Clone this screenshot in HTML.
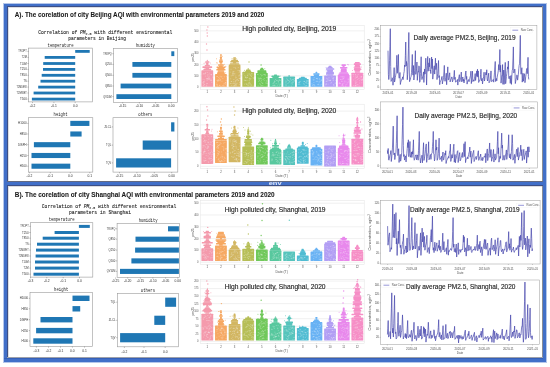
<!DOCTYPE html>
<html><head><meta charset="utf-8"><style>html,body{margin:0;padding:0;background:#fff;overflow:hidden}svg{display:block;will-change:transform}</style></head>
<body><svg width="550" height="367" viewBox="0 0 550 367">
<g>
<rect x="0" y="0" width="550" height="367" fill="#ffffff"/>
<rect x="3" y="3" width="1" height="360" fill="#b4c6ea" opacity="1" shape-rendering="crispEdges"/>
<rect x="4" y="4" width="3" height="358" fill="#416fc8" opacity="1" shape-rendering="crispEdges"/>
<rect x="3" y="3" width="544" height="1" fill="#b4c6ea" opacity="1" shape-rendering="crispEdges"/>
<rect x="4" y="4" width="539" height="2" fill="#416fc8" opacity="1" shape-rendering="crispEdges"/>
<rect x="7" y="6" width="535" height="1" fill="#3c4f86" opacity="1" shape-rendering="crispEdges"/>
<rect x="8" y="7" width="534" height="1" fill="#dcdde2" opacity="1" shape-rendering="crispEdges"/>
<rect x="7" y="7" width="1" height="174" fill="#3c4f86" opacity="1" shape-rendering="crispEdges"/>
<rect x="8" y="8" width="1" height="173" fill="#dcdde2" opacity="1" shape-rendering="crispEdges"/>
<rect x="7" y="186" width="1" height="171" fill="#3c4f86" opacity="1" shape-rendering="crispEdges"/>
<rect x="8" y="186" width="1" height="171" fill="#dcdde2" opacity="1" shape-rendering="crispEdges"/>
<rect x="542" y="6" width="1" height="175" fill="#8a8d96" opacity="1" shape-rendering="crispEdges"/>
<rect x="543" y="4" width="3" height="358" fill="#416fc8" opacity="1" shape-rendering="crispEdges"/>
<rect x="546" y="3" width="1" height="360" fill="#b4c6ea" opacity="1" shape-rendering="crispEdges"/>
<rect x="542" y="186" width="1" height="171" fill="#8a8d96" opacity="1" shape-rendering="crispEdges"/>
<rect x="7" y="181" width="536" height="1" fill="#646a80" opacity="1" shape-rendering="crispEdges"/>
<rect x="4" y="182" width="539" height="3" fill="#416fc8" opacity="1" shape-rendering="crispEdges"/>
<rect x="7" y="185" width="536" height="1" fill="#3c4f86" opacity="1" shape-rendering="crispEdges"/>
<rect x="8" y="186" width="534" height="1" fill="#dcdde2" opacity="1" shape-rendering="crispEdges"/>
<rect x="7" y="357" width="536" height="1" fill="#9da1ab" opacity="1" shape-rendering="crispEdges"/>
<rect x="4" y="358" width="539" height="1" fill="#3560b8" opacity="1" shape-rendering="crispEdges"/>
<rect x="4" y="359" width="539" height="3" fill="#416fc8" opacity="1" shape-rendering="crispEdges"/>
<rect x="3" y="362" width="544" height="1" fill="#b4c6ea" opacity="1" shape-rendering="crispEdges"/>
<text x="268.70" y="185.00" font-family="Liberation Sans" font-size="5.2" font-weight="bold" fill="#dfe7f7" text-anchor="start" textLength="13.00" lengthAdjust="spacingAndGlyphs" >env</text>
<text x="14.80" y="17.40" font-family="Liberation Sans" font-size="7.4" font-weight="bold" fill="#1a1a1a" text-anchor="start" textLength="249.60" lengthAdjust="spacingAndGlyphs" stroke="#1a1a1a" stroke-width="0.08">A). The corelation of city Beijing AQI with environmental parameters 2019 and 2020</text>
<text x="38.20" y="34.20" font-family="Liberation Mono" font-size="4.6" fill="#222" stroke="#333" stroke-width="0.1" textLength="134.20" lengthAdjust="spacingAndGlyphs">Correlation of <tspan font-style="italic">PM</tspan><tspan font-size="3.3" dy="0.9">2.5</tspan><tspan dy="-0.9"> with different environmental</tspan></text>
<text x="68.20" y="39.70" font-family="Liberation Mono" font-size="4.6" font-weight="normal" fill="#222" text-anchor="start" textLength="57.80" lengthAdjust="spacingAndGlyphs" stroke="#333" stroke-width="0.1">parameters in Beijing</text>
<rect x="28.60" y="48.10" width="63.90" height="53.80" fill="none" stroke="#9a9a9a" stroke-width="0.6"/>
<text x="60.55" y="46.70" font-family="Liberation Mono" font-size="4.5" font-weight="normal" fill="#222" text-anchor="middle" textLength="25.96" lengthAdjust="spacingAndGlyphs" >temperature</text>
<rect x="75.20" y="50.00" width="14.50" height="2.80" fill="#1f77b4"/>
<text x="26.80" y="52.40" font-family="Liberation Sans" font-size="2.7" font-weight="normal" fill="#333" text-anchor="end" textLength="8.50" lengthAdjust="spacingAndGlyphs" >TROPT</text>
<line x1="27.40" y1="51.40" x2="28.60" y2="51.40" stroke="#333" stroke-width="0.3"/>
<rect x="44.70" y="56.00" width="30.50" height="2.80" fill="#1f77b4"/>
<text x="26.80" y="58.40" font-family="Liberation Sans" font-size="2.7" font-weight="normal" fill="#333" text-anchor="end" textLength="5.10" lengthAdjust="spacingAndGlyphs" >T2M</text>
<line x1="27.40" y1="57.40" x2="28.60" y2="57.40" stroke="#333" stroke-width="0.3"/>
<rect x="43.20" y="62.10" width="32.00" height="2.80" fill="#1f77b4"/>
<text x="26.80" y="64.50" font-family="Liberation Sans" font-size="2.7" font-weight="normal" fill="#333" text-anchor="end" textLength="6.80" lengthAdjust="spacingAndGlyphs" >T10M</text>
<line x1="27.40" y1="63.50" x2="28.60" y2="63.50" stroke="#333" stroke-width="0.3"/>
<rect x="43.00" y="68.00" width="32.20" height="2.80" fill="#1f77b4"/>
<text x="26.80" y="70.40" font-family="Liberation Sans" font-size="2.7" font-weight="normal" fill="#333" text-anchor="end" textLength="6.80" lengthAdjust="spacingAndGlyphs" >T250</text>
<line x1="27.40" y1="69.40" x2="28.60" y2="69.40" stroke="#333" stroke-width="0.3"/>
<rect x="41.70" y="73.90" width="33.50" height="2.80" fill="#1f77b4"/>
<text x="26.80" y="76.30" font-family="Liberation Sans" font-size="2.7" font-weight="normal" fill="#333" text-anchor="end" textLength="6.80" lengthAdjust="spacingAndGlyphs" >T850</text>
<line x1="27.40" y1="75.30" x2="28.60" y2="75.30" stroke="#333" stroke-width="0.3"/>
<rect x="40.50" y="79.80" width="34.70" height="2.80" fill="#1f77b4"/>
<text x="26.80" y="82.20" font-family="Liberation Sans" font-size="2.7" font-weight="normal" fill="#333" text-anchor="end" textLength="3.40" lengthAdjust="spacingAndGlyphs" >TS</text>
<line x1="27.40" y1="81.20" x2="28.60" y2="81.20" stroke="#333" stroke-width="0.3"/>
<rect x="38.20" y="85.70" width="37.00" height="2.80" fill="#1f77b4"/>
<text x="26.80" y="88.10" font-family="Liberation Sans" font-size="2.7" font-weight="normal" fill="#333" text-anchor="end" textLength="10.20" lengthAdjust="spacingAndGlyphs" >T2MDEW</text>
<line x1="27.40" y1="87.10" x2="28.60" y2="87.10" stroke="#333" stroke-width="0.3"/>
<rect x="33.60" y="91.60" width="41.60" height="2.80" fill="#1f77b4"/>
<text x="26.80" y="94.00" font-family="Liberation Sans" font-size="2.7" font-weight="normal" fill="#333" text-anchor="end" textLength="10.20" lengthAdjust="spacingAndGlyphs" >T2MWET</text>
<line x1="27.40" y1="93.00" x2="28.60" y2="93.00" stroke="#333" stroke-width="0.3"/>
<rect x="31.90" y="97.70" width="43.30" height="2.80" fill="#1f77b4"/>
<text x="26.80" y="100.10" font-family="Liberation Sans" font-size="2.7" font-weight="normal" fill="#333" text-anchor="end" textLength="6.80" lengthAdjust="spacingAndGlyphs" >T500</text>
<line x1="27.40" y1="99.10" x2="28.60" y2="99.10" stroke="#333" stroke-width="0.3"/>
<line x1="32.50" y1="101.90" x2="32.50" y2="103.10" stroke="#333" stroke-width="0.3"/>
<text x="32.50" y="107.00" font-family="Liberation Sans" font-size="3.3" font-weight="normal" fill="#333" text-anchor="middle" >-0.2</text>
<line x1="53.90" y1="101.90" x2="53.90" y2="103.10" stroke="#333" stroke-width="0.3"/>
<text x="53.90" y="107.00" font-family="Liberation Sans" font-size="3.3" font-weight="normal" fill="#333" text-anchor="middle" >-0.1</text>
<line x1="75.20" y1="101.90" x2="75.20" y2="103.10" stroke="#333" stroke-width="0.3"/>
<text x="75.20" y="107.00" font-family="Liberation Sans" font-size="3.3" font-weight="normal" fill="#333" text-anchor="middle" >0.0</text>
<rect x="113.50" y="48.30" width="63.90" height="54.00" fill="none" stroke="#9a9a9a" stroke-width="0.6"/>
<text x="145.45" y="46.90" font-family="Liberation Mono" font-size="4.5" font-weight="normal" fill="#222" text-anchor="middle" textLength="18.88" lengthAdjust="spacingAndGlyphs" >humidity</text>
<rect x="171.30" y="51.30" width="3.00" height="4.80" fill="#1f77b4"/>
<text x="111.70" y="54.70" font-family="Liberation Sans" font-size="2.7" font-weight="normal" fill="#333" text-anchor="end" textLength="8.50" lengthAdjust="spacingAndGlyphs" >TROPQ</text>
<line x1="112.30" y1="53.70" x2="113.50" y2="53.70" stroke="#333" stroke-width="0.3"/>
<rect x="132.40" y="62.00" width="38.90" height="4.80" fill="#1f77b4"/>
<text x="111.70" y="65.40" font-family="Liberation Sans" font-size="2.7" font-weight="normal" fill="#333" text-anchor="end" textLength="6.80" lengthAdjust="spacingAndGlyphs" >Q250</text>
<line x1="112.30" y1="64.40" x2="113.50" y2="64.40" stroke="#333" stroke-width="0.3"/>
<rect x="132.40" y="72.90" width="38.90" height="4.80" fill="#1f77b4"/>
<text x="111.70" y="76.30" font-family="Liberation Sans" font-size="2.7" font-weight="normal" fill="#333" text-anchor="end" textLength="6.80" lengthAdjust="spacingAndGlyphs" >Q500</text>
<line x1="112.30" y1="75.30" x2="113.50" y2="75.30" stroke="#333" stroke-width="0.3"/>
<rect x="120.60" y="83.60" width="50.70" height="4.80" fill="#1f77b4"/>
<text x="111.70" y="87.00" font-family="Liberation Sans" font-size="2.7" font-weight="normal" fill="#333" text-anchor="end" textLength="6.80" lengthAdjust="spacingAndGlyphs" >Q850</text>
<line x1="112.30" y1="86.00" x2="113.50" y2="86.00" stroke="#333" stroke-width="0.3"/>
<rect x="116.40" y="94.20" width="54.90" height="4.80" fill="#1f77b4"/>
<text x="111.70" y="97.60" font-family="Liberation Sans" font-size="2.7" font-weight="normal" fill="#333" text-anchor="end" textLength="8.50" lengthAdjust="spacingAndGlyphs" >QV10M</text>
<line x1="112.30" y1="96.60" x2="113.50" y2="96.60" stroke="#333" stroke-width="0.3"/>
<line x1="122.70" y1="102.30" x2="122.70" y2="103.50" stroke="#333" stroke-width="0.3"/>
<text x="122.70" y="107.00" font-family="Liberation Sans" font-size="3.3" font-weight="normal" fill="#333" text-anchor="middle" >-0.15</text>
<line x1="139.40" y1="102.30" x2="139.40" y2="103.50" stroke="#333" stroke-width="0.3"/>
<text x="139.40" y="107.00" font-family="Liberation Sans" font-size="3.3" font-weight="normal" fill="#333" text-anchor="middle" >-0.10</text>
<line x1="155.60" y1="102.30" x2="155.60" y2="103.50" stroke="#333" stroke-width="0.3"/>
<text x="155.60" y="107.00" font-family="Liberation Sans" font-size="3.3" font-weight="normal" fill="#333" text-anchor="middle" >-0.05</text>
<line x1="171.30" y1="102.30" x2="171.30" y2="103.50" stroke="#333" stroke-width="0.3"/>
<text x="171.30" y="107.00" font-family="Liberation Sans" font-size="3.3" font-weight="normal" fill="#333" text-anchor="middle" >0.00</text>
<rect x="28.40" y="117.70" width="64.40" height="54.40" fill="none" stroke="#9a9a9a" stroke-width="0.6"/>
<text x="60.60" y="116.30" font-family="Liberation Mono" font-size="4.5" font-weight="normal" fill="#222" text-anchor="middle" textLength="14.16" lengthAdjust="spacingAndGlyphs" >height</text>
<rect x="70.30" y="120.85" width="19.10" height="5.10" fill="#1f77b4"/>
<text x="26.60" y="124.40" font-family="Liberation Sans" font-size="2.7" font-weight="normal" fill="#333" text-anchor="end" textLength="8.50" lengthAdjust="spacingAndGlyphs" >H1000</text>
<line x1="27.20" y1="123.40" x2="28.40" y2="123.40" stroke="#333" stroke-width="0.3"/>
<rect x="70.30" y="131.45" width="11.30" height="5.10" fill="#1f77b4"/>
<text x="26.60" y="135.00" font-family="Liberation Sans" font-size="2.7" font-weight="normal" fill="#333" text-anchor="end" textLength="6.80" lengthAdjust="spacingAndGlyphs" >H850</text>
<line x1="27.20" y1="134.00" x2="28.40" y2="134.00" stroke="#333" stroke-width="0.3"/>
<rect x="33.90" y="142.15" width="36.40" height="5.10" fill="#1f77b4"/>
<text x="26.60" y="145.70" font-family="Liberation Sans" font-size="2.7" font-weight="normal" fill="#333" text-anchor="end" textLength="8.50" lengthAdjust="spacingAndGlyphs" >DISPH</text>
<line x1="27.20" y1="144.70" x2="28.40" y2="144.70" stroke="#333" stroke-width="0.3"/>
<rect x="31.50" y="152.95" width="38.80" height="5.10" fill="#1f77b4"/>
<text x="26.60" y="156.50" font-family="Liberation Sans" font-size="2.7" font-weight="normal" fill="#333" text-anchor="end" textLength="6.80" lengthAdjust="spacingAndGlyphs" >H250</text>
<line x1="27.20" y1="155.50" x2="28.40" y2="155.50" stroke="#333" stroke-width="0.3"/>
<rect x="31.50" y="163.65" width="38.80" height="5.10" fill="#1f77b4"/>
<text x="26.60" y="167.20" font-family="Liberation Sans" font-size="2.7" font-weight="normal" fill="#333" text-anchor="end" textLength="6.80" lengthAdjust="spacingAndGlyphs" >H500</text>
<line x1="27.20" y1="166.20" x2="28.40" y2="166.20" stroke="#333" stroke-width="0.3"/>
<line x1="29.40" y1="172.10" x2="29.40" y2="173.30" stroke="#333" stroke-width="0.3"/>
<text x="29.40" y="177.00" font-family="Liberation Sans" font-size="3.3" font-weight="normal" fill="#333" text-anchor="middle" >-0.2</text>
<line x1="50.30" y1="172.10" x2="50.30" y2="173.30" stroke="#333" stroke-width="0.3"/>
<text x="50.30" y="177.00" font-family="Liberation Sans" font-size="3.3" font-weight="normal" fill="#333" text-anchor="middle" >-0.1</text>
<line x1="70.30" y1="172.10" x2="70.30" y2="173.30" stroke="#333" stroke-width="0.3"/>
<text x="70.30" y="177.00" font-family="Liberation Sans" font-size="3.3" font-weight="normal" fill="#333" text-anchor="middle" >0.0</text>
<line x1="89.80" y1="172.10" x2="89.80" y2="173.30" stroke="#333" stroke-width="0.3"/>
<text x="89.80" y="177.00" font-family="Liberation Sans" font-size="3.3" font-weight="normal" fill="#333" text-anchor="middle" >0.1</text>
<rect x="113.00" y="117.70" width="64.80" height="54.40" fill="none" stroke="#9a9a9a" stroke-width="0.6"/>
<text x="145.40" y="116.30" font-family="Liberation Mono" font-size="4.5" font-weight="normal" fill="#222" text-anchor="middle" textLength="14.16" lengthAdjust="spacingAndGlyphs" >others</text>
<rect x="171.10" y="122.30" width="3.30" height="9.20" fill="#1f77b4"/>
<text x="111.20" y="127.90" font-family="Liberation Sans" font-size="2.7" font-weight="normal" fill="#333" text-anchor="end" textLength="6.80" lengthAdjust="spacingAndGlyphs" >ZLCL</text>
<line x1="111.80" y1="126.90" x2="113.00" y2="126.90" stroke="#333" stroke-width="0.3"/>
<rect x="142.70" y="140.50" width="28.40" height="9.20" fill="#1f77b4"/>
<text x="111.20" y="146.10" font-family="Liberation Sans" font-size="2.7" font-weight="normal" fill="#333" text-anchor="end" textLength="5.10" lengthAdjust="spacingAndGlyphs" >TQL</text>
<line x1="111.80" y1="145.10" x2="113.00" y2="145.10" stroke="#333" stroke-width="0.3"/>
<rect x="116.10" y="158.30" width="55.00" height="9.20" fill="#1f77b4"/>
<text x="111.20" y="163.90" font-family="Liberation Sans" font-size="2.7" font-weight="normal" fill="#333" text-anchor="end" textLength="5.10" lengthAdjust="spacingAndGlyphs" >TQV</text>
<line x1="111.80" y1="162.90" x2="113.00" y2="162.90" stroke="#333" stroke-width="0.3"/>
<line x1="119.50" y1="172.10" x2="119.50" y2="173.30" stroke="#333" stroke-width="0.3"/>
<text x="119.50" y="177.40" font-family="Liberation Sans" font-size="3.3" font-weight="normal" fill="#333" text-anchor="middle" >-0.15</text>
<line x1="136.90" y1="172.10" x2="136.90" y2="173.30" stroke="#333" stroke-width="0.3"/>
<text x="136.90" y="177.40" font-family="Liberation Sans" font-size="3.3" font-weight="normal" fill="#333" text-anchor="middle" >-0.10</text>
<line x1="154.30" y1="172.10" x2="154.30" y2="173.30" stroke="#333" stroke-width="0.3"/>
<text x="154.30" y="177.40" font-family="Liberation Sans" font-size="3.3" font-weight="normal" fill="#333" text-anchor="middle" >-0.05</text>
<line x1="171.70" y1="172.10" x2="171.70" y2="173.30" stroke="#333" stroke-width="0.3"/>
<text x="171.70" y="177.40" font-family="Liberation Sans" font-size="3.3" font-weight="normal" fill="#333" text-anchor="middle" >0.00</text>
<rect x="200.20" y="25.40" width="164.00" height="63.90" fill="none" stroke="#e2e2e2" stroke-width="0.5"/>
<line x1="200.20" y1="87.10" x2="364.20" y2="87.10" stroke="#e6e6e6" stroke-width="0.6"/>
<text x="198.50" y="88.00" font-family="Liberation Sans" font-size="2.6" font-weight="normal" fill="#555" text-anchor="end" >0</text>
<line x1="200.20" y1="75.86" x2="364.20" y2="75.86" stroke="#e6e6e6" stroke-width="0.6"/>
<text x="198.50" y="76.76" font-family="Liberation Sans" font-size="2.6" font-weight="normal" fill="#555" text-anchor="end" >100</text>
<line x1="200.20" y1="64.62" x2="364.20" y2="64.62" stroke="#e6e6e6" stroke-width="0.6"/>
<text x="198.50" y="65.52" font-family="Liberation Sans" font-size="2.6" font-weight="normal" fill="#555" text-anchor="end" >200</text>
<line x1="200.20" y1="53.38" x2="364.20" y2="53.38" stroke="#e6e6e6" stroke-width="0.6"/>
<text x="198.50" y="54.28" font-family="Liberation Sans" font-size="2.6" font-weight="normal" fill="#555" text-anchor="end" >300</text>
<line x1="200.20" y1="42.14" x2="364.20" y2="42.14" stroke="#e6e6e6" stroke-width="0.6"/>
<text x="198.50" y="43.04" font-family="Liberation Sans" font-size="2.6" font-weight="normal" fill="#555" text-anchor="end" >400</text>
<line x1="200.20" y1="30.90" x2="364.20" y2="30.90" stroke="#e6e6e6" stroke-width="0.6"/>
<text x="198.50" y="31.80" font-family="Liberation Sans" font-size="2.6" font-weight="normal" fill="#555" text-anchor="end" >500</text>
<text x="0" y="0" font-family="Liberation Sans" font-size="3.4" fill="#555" text-anchor="middle" transform="translate(193.90,57.35) rotate(-90)">pm25</text>
<rect x="201.40" y="70.30" width="11.80" height="16.50" rx="0.6" fill="#f49aac"/>
<rect x="206.05" y="84.74" width="1.2" height="0.7" fill="#fff" opacity="0.3"/>
<rect x="210.80" y="74.40" width="1.2" height="0.7" fill="#fff" opacity="0.3"/>
<rect x="211.09" y="80.53" width="1.2" height="0.7" fill="#fff" opacity="0.3"/>
<rect x="202.63" y="85.12" width="1.2" height="0.7" fill="#fff" opacity="0.3"/>
<rect x="204.81" y="75.74" width="1.2" height="0.7" fill="#fff" opacity="0.3"/>
<rect x="206.53" y="79.83" width="1.2" height="0.7" fill="#fff" opacity="0.3"/>
<rect x="203.47" y="81.26" width="1.2" height="0.7" fill="#fff" opacity="0.3"/>
<rect x="210.69" y="78.73" width="1.2" height="0.7" fill="#fff" opacity="0.3"/>
<rect x="210.30" y="80.36" width="1.2" height="0.7" fill="#fff" opacity="0.3"/>
<rect x="210.61" y="73.92" width="1.2" height="0.7" fill="#fff" opacity="0.3"/>
<rect x="205.86" y="78.11" width="1.2" height="0.7" fill="#fff" opacity="0.3"/>
<rect x="203.26" y="85.41" width="1.2" height="0.7" fill="#fff" opacity="0.3"/>
<rect x="208.69" y="72.72" width="1.2" height="0.7" fill="#fff" opacity="0.3"/>
<rect x="208.14" y="77.31" width="1.2" height="0.7" fill="#fff" opacity="0.3"/>
<rect x="204.13" y="73.63" width="1.2" height="0.7" fill="#fff" opacity="0.3"/>
<rect x="206.90" y="72.32" width="1.2" height="0.7" fill="#fff" opacity="0.3"/>
<rect x="207.94" y="78.77" width="1.2" height="0.7" fill="#fff" opacity="0.3"/>
<rect x="203.50" y="83.99" width="1.2" height="0.7" fill="#fff" opacity="0.3"/>
<rect x="202.61" y="73.80" width="1.2" height="0.7" fill="#fff" opacity="0.3"/>
<rect x="210.54" y="74.50" width="1.2" height="0.7" fill="#fff" opacity="0.3"/>
<rect x="206.53" y="79.41" width="1.2" height="0.7" fill="#fff" opacity="0.3"/>
<rect x="206.64" y="78.46" width="1.2" height="0.7" fill="#fff" opacity="0.3"/>
<rect x="207.35" y="78.30" width="1.2" height="0.7" fill="#fff" opacity="0.3"/>
<rect x="202.79" y="83.14" width="1.2" height="0.7" fill="#fff" opacity="0.3"/>
<rect x="205.09" y="71.99" width="1.2" height="0.7" fill="#fff" opacity="0.3"/>
<rect x="206.36" y="83.11" width="1.2" height="0.7" fill="#fff" opacity="0.3"/>
<rect x="208.61" y="77.93" width="1.2" height="0.7" fill="#fff" opacity="0.3"/>
<rect x="207.08" y="74.48" width="1.2" height="0.7" fill="#fff" opacity="0.3"/>
<rect x="208.50" y="76.38" width="1.2" height="0.7" fill="#fff" opacity="0.3"/>
<rect x="202.85" y="73.19" width="1.2" height="0.7" fill="#fff" opacity="0.3"/>
<rect x="203.14" y="81.23" width="1.2" height="0.7" fill="#fff" opacity="0.3"/>
<rect x="211.20" y="82.25" width="1.2" height="0.7" fill="#fff" opacity="0.3"/>
<rect x="204.44" y="73.43" width="1.2" height="0.7" fill="#fff" opacity="0.3"/>
<rect x="211.90" y="76.72" width="1.2" height="0.7" fill="#fff" opacity="0.3"/>
<rect x="203.91" y="79.59" width="1.2" height="0.7" fill="#fff" opacity="0.3"/>
<rect x="208.51" y="79.14" width="1.2" height="0.7" fill="#fff" opacity="0.3"/>
<rect x="206.81" y="75.70" width="1.2" height="0.7" fill="#fff" opacity="0.3"/>
<rect x="207.25" y="77.93" width="1.2" height="0.7" fill="#fff" opacity="0.3"/>
<rect x="209.15" y="77.80" width="1.2" height="0.7" fill="#fff" opacity="0.3"/>
<rect x="205.82" y="85.60" width="1.2" height="0.7" fill="#fff" opacity="0.3"/>
<rect x="203.33" y="82.26" width="1.2" height="0.7" fill="#fff" opacity="0.3"/>
<rect x="206.46" y="82.98" width="1.2" height="0.7" fill="#fff" opacity="0.3"/>
<rect x="209.42" y="79.51" width="1.2" height="0.7" fill="#fff" opacity="0.3"/>
<rect x="208.42" y="74.63" width="1.2" height="0.7" fill="#fff" opacity="0.3"/>
<rect x="202.36" y="82.12" width="1.2" height="0.7" fill="#fff" opacity="0.3"/>
<rect x="204.84" y="72.91" width="1.2" height="0.7" fill="#fff" opacity="0.3"/>
<rect x="210.48" y="79.87" width="1.2" height="0.7" fill="#fff" opacity="0.3"/>
<rect x="202.53" y="78.83" width="1.2" height="0.7" fill="#fff" opacity="0.3"/>
<rect x="203.87" y="83.85" width="1.2" height="0.7" fill="#fff" opacity="0.3"/>
<rect x="203.41" y="68.86" width="7.78" height="1.59" rx="0.5" fill="#f49aac"/>
<rect x="205.41" y="67.57" width="3.77" height="1.59" rx="0.5" fill="#f49aac"/>
<rect x="202.43" y="66.29" width="9.74" height="1.59" rx="0.5" fill="#f49aac"/>
<rect x="204.68" y="65.00" width="5.24" height="1.59" rx="0.5" fill="#f49aac"/>
<rect x="206.12" y="63.71" width="2.36" height="1.59" rx="0.5" fill="#f49aac"/>
<rect x="206.07" y="62.43" width="2.45" height="1.59" rx="0.5" fill="#f49aac"/>
<rect x="205.18" y="61.14" width="4.24" height="1.59" rx="0.5" fill="#f49aac"/>
<rect x="206.76" y="59.85" width="1.08" height="1.59" rx="0.5" fill="#f49aac"/>
<circle cx="204.03" cy="63.36" r="0.5" fill="#f49aac" opacity="0.8"/>
<circle cx="204.99" cy="68.23" r="0.5" fill="#f49aac" opacity="0.8"/>
<circle cx="209.17" cy="67.40" r="0.5" fill="#f49aac" opacity="0.8"/>
<circle cx="206.92" cy="63.01" r="0.5" fill="#f49aac" opacity="0.8"/>
<circle cx="210.30" cy="62.98" r="0.5" fill="#f49aac" opacity="0.8"/>
<circle cx="205.08" cy="62.93" r="0.5" fill="#f49aac" opacity="0.8"/>
<circle cx="207.87" cy="27.00" r="0.7" fill="#f49aac" opacity="0.9"/>
<circle cx="206.94" cy="30.00" r="0.7" fill="#f49aac" opacity="0.9"/>
<circle cx="207.20" cy="33.00" r="0.7" fill="#f49aac" opacity="0.9"/>
<circle cx="207.33" cy="36.00" r="0.7" fill="#f49aac" opacity="0.9"/>
<circle cx="206.50" cy="44.00" r="0.7" fill="#f49aac" opacity="0.9"/>
<circle cx="206.96" cy="50.00" r="0.7" fill="#f49aac" opacity="0.9"/>
<line x1="207.30" y1="89.30" x2="207.30" y2="90.20" stroke="#888" stroke-width="0.3"/>
<text x="207.30" y="92.90" font-family="Liberation Sans" font-size="2.8" font-weight="normal" fill="#555" text-anchor="middle" >1</text>
<rect x="215.04" y="74.10" width="11.80" height="12.70" rx="0.6" fill="#f6a862"/>
<rect x="223.42" y="85.60" width="1.2" height="0.7" fill="#fff" opacity="0.3"/>
<rect x="219.33" y="80.20" width="1.2" height="0.7" fill="#fff" opacity="0.3"/>
<rect x="216.42" y="80.32" width="1.2" height="0.7" fill="#fff" opacity="0.3"/>
<rect x="219.51" y="80.47" width="1.2" height="0.7" fill="#fff" opacity="0.3"/>
<rect x="218.89" y="78.46" width="1.2" height="0.7" fill="#fff" opacity="0.3"/>
<rect x="225.15" y="83.42" width="1.2" height="0.7" fill="#fff" opacity="0.3"/>
<rect x="219.51" y="75.85" width="1.2" height="0.7" fill="#fff" opacity="0.3"/>
<rect x="216.37" y="76.13" width="1.2" height="0.7" fill="#fff" opacity="0.3"/>
<rect x="217.17" y="81.33" width="1.2" height="0.7" fill="#fff" opacity="0.3"/>
<rect x="221.15" y="76.49" width="1.2" height="0.7" fill="#fff" opacity="0.3"/>
<rect x="224.80" y="82.27" width="1.2" height="0.7" fill="#fff" opacity="0.3"/>
<rect x="223.08" y="84.68" width="1.2" height="0.7" fill="#fff" opacity="0.3"/>
<rect x="219.04" y="84.76" width="1.2" height="0.7" fill="#fff" opacity="0.3"/>
<rect x="225.80" y="84.82" width="1.2" height="0.7" fill="#fff" opacity="0.3"/>
<rect x="216.31" y="84.20" width="1.2" height="0.7" fill="#fff" opacity="0.3"/>
<rect x="225.88" y="76.24" width="1.2" height="0.7" fill="#fff" opacity="0.3"/>
<rect x="224.67" y="83.82" width="1.2" height="0.7" fill="#fff" opacity="0.3"/>
<rect x="216.17" y="82.67" width="1.2" height="0.7" fill="#fff" opacity="0.3"/>
<rect x="223.59" y="83.12" width="1.2" height="0.7" fill="#fff" opacity="0.3"/>
<rect x="216.43" y="85.48" width="1.2" height="0.7" fill="#fff" opacity="0.3"/>
<rect x="216.59" y="76.01" width="1.2" height="0.7" fill="#fff" opacity="0.3"/>
<rect x="225.50" y="80.25" width="1.2" height="0.7" fill="#fff" opacity="0.3"/>
<rect x="217.66" y="79.32" width="1.2" height="0.7" fill="#fff" opacity="0.3"/>
<rect x="222.20" y="77.97" width="1.2" height="0.7" fill="#fff" opacity="0.3"/>
<rect x="225.17" y="82.33" width="1.2" height="0.7" fill="#fff" opacity="0.3"/>
<rect x="219.78" y="79.02" width="1.2" height="0.7" fill="#fff" opacity="0.3"/>
<rect x="217.02" y="85.65" width="1.2" height="0.7" fill="#fff" opacity="0.3"/>
<rect x="218.97" y="85.12" width="1.2" height="0.7" fill="#fff" opacity="0.3"/>
<rect x="221.35" y="80.85" width="1.2" height="0.7" fill="#fff" opacity="0.3"/>
<rect x="217.63" y="80.48" width="1.2" height="0.7" fill="#fff" opacity="0.3"/>
<rect x="216.85" y="79.89" width="1.2" height="0.7" fill="#fff" opacity="0.3"/>
<rect x="222.10" y="85.01" width="1.2" height="0.7" fill="#fff" opacity="0.3"/>
<rect x="218.09" y="77.04" width="1.2" height="0.7" fill="#fff" opacity="0.3"/>
<rect x="223.88" y="76.52" width="1.2" height="0.7" fill="#fff" opacity="0.3"/>
<rect x="217.82" y="80.22" width="1.2" height="0.7" fill="#fff" opacity="0.3"/>
<rect x="220.20" y="85.72" width="1.2" height="0.7" fill="#fff" opacity="0.3"/>
<rect x="216.51" y="84.42" width="1.2" height="0.7" fill="#fff" opacity="0.3"/>
<rect x="220.56" y="76.58" width="1.2" height="0.7" fill="#fff" opacity="0.3"/>
<rect x="217.07" y="72.72" width="7.75" height="1.52" rx="0.5" fill="#f6a862"/>
<rect x="217.39" y="71.50" width="7.10" height="1.52" rx="0.5" fill="#f6a862"/>
<rect x="217.91" y="70.27" width="6.07" height="1.52" rx="0.5" fill="#f6a862"/>
<rect x="216.36" y="69.05" width="9.16" height="1.52" rx="0.5" fill="#f6a862"/>
<rect x="217.46" y="67.82" width="6.97" height="1.52" rx="0.5" fill="#f6a862"/>
<rect x="216.53" y="66.60" width="8.82" height="1.52" rx="0.5" fill="#f6a862"/>
<rect x="219.00" y="65.38" width="3.88" height="1.52" rx="0.5" fill="#f6a862"/>
<rect x="218.02" y="64.15" width="5.83" height="1.52" rx="0.5" fill="#f6a862"/>
<rect x="220.22" y="62.93" width="1.43" height="1.52" rx="0.5" fill="#f6a862"/>
<rect x="219.42" y="61.70" width="3.04" height="1.52" rx="0.5" fill="#f6a862"/>
<rect x="219.00" y="60.48" width="3.87" height="1.52" rx="0.5" fill="#f6a862"/>
<rect x="219.39" y="59.25" width="3.09" height="1.52" rx="0.5" fill="#f6a862"/>
<rect x="219.99" y="58.02" width="1.91" height="1.52" rx="0.5" fill="#f6a862"/>
<rect x="219.84" y="56.80" width="2.19" height="1.52" rx="0.5" fill="#f6a862"/>
<rect x="220.41" y="55.58" width="1.06" height="1.52" rx="0.5" fill="#f6a862"/>
<rect x="220.00" y="54.35" width="1.89" height="1.52" rx="0.5" fill="#f6a862"/>
<circle cx="216.70" cy="62.83" r="0.5" fill="#f6a862" opacity="0.8"/>
<circle cx="216.56" cy="58.77" r="0.5" fill="#f6a862" opacity="0.8"/>
<circle cx="217.04" cy="69.46" r="0.5" fill="#f6a862" opacity="0.8"/>
<circle cx="221.85" cy="64.00" r="0.5" fill="#f6a862" opacity="0.8"/>
<circle cx="222.32" cy="56.35" r="0.5" fill="#f6a862" opacity="0.8"/>
<circle cx="225.17" cy="66.80" r="0.5" fill="#f6a862" opacity="0.8"/>
<circle cx="225.63" cy="72.86" r="0.5" fill="#f6a862" opacity="0.8"/>
<circle cx="220.80" cy="64.81" r="0.5" fill="#f6a862" opacity="0.8"/>
<circle cx="217.33" cy="62.93" r="0.5" fill="#f6a862" opacity="0.8"/>
<circle cx="225.83" cy="66.16" r="0.5" fill="#f6a862" opacity="0.8"/>
<circle cx="224.40" cy="64.37" r="0.5" fill="#f6a862" opacity="0.8"/>
<line x1="220.94" y1="89.30" x2="220.94" y2="90.20" stroke="#888" stroke-width="0.3"/>
<text x="220.94" y="92.90" font-family="Liberation Sans" font-size="2.8" font-weight="normal" fill="#555" text-anchor="middle" >2</text>
<rect x="228.68" y="65.80" width="11.80" height="21.00" rx="0.6" fill="#d2b662"/>
<rect x="232.18" y="73.93" width="1.2" height="0.7" fill="#fff" opacity="0.3"/>
<rect x="233.80" y="85.23" width="1.2" height="0.7" fill="#fff" opacity="0.3"/>
<rect x="233.25" y="81.24" width="1.2" height="0.7" fill="#fff" opacity="0.3"/>
<rect x="230.99" y="81.21" width="1.2" height="0.7" fill="#fff" opacity="0.3"/>
<rect x="234.31" y="85.64" width="1.2" height="0.7" fill="#fff" opacity="0.3"/>
<rect x="229.65" y="71.77" width="1.2" height="0.7" fill="#fff" opacity="0.3"/>
<rect x="238.53" y="75.16" width="1.2" height="0.7" fill="#fff" opacity="0.3"/>
<rect x="232.33" y="83.33" width="1.2" height="0.7" fill="#fff" opacity="0.3"/>
<rect x="233.84" y="83.51" width="1.2" height="0.7" fill="#fff" opacity="0.3"/>
<rect x="235.05" y="67.95" width="1.2" height="0.7" fill="#fff" opacity="0.3"/>
<rect x="230.50" y="83.28" width="1.2" height="0.7" fill="#fff" opacity="0.3"/>
<rect x="238.79" y="70.01" width="1.2" height="0.7" fill="#fff" opacity="0.3"/>
<rect x="239.62" y="82.73" width="1.2" height="0.7" fill="#fff" opacity="0.3"/>
<rect x="234.93" y="81.47" width="1.2" height="0.7" fill="#fff" opacity="0.3"/>
<rect x="234.89" y="67.45" width="1.2" height="0.7" fill="#fff" opacity="0.3"/>
<rect x="232.48" y="73.26" width="1.2" height="0.7" fill="#fff" opacity="0.3"/>
<rect x="238.61" y="72.01" width="1.2" height="0.7" fill="#fff" opacity="0.3"/>
<rect x="236.58" y="78.83" width="1.2" height="0.7" fill="#fff" opacity="0.3"/>
<rect x="230.68" y="75.52" width="1.2" height="0.7" fill="#fff" opacity="0.3"/>
<rect x="235.09" y="80.59" width="1.2" height="0.7" fill="#fff" opacity="0.3"/>
<rect x="233.08" y="85.56" width="1.2" height="0.7" fill="#fff" opacity="0.3"/>
<rect x="237.69" y="67.27" width="1.2" height="0.7" fill="#fff" opacity="0.3"/>
<rect x="238.47" y="78.40" width="1.2" height="0.7" fill="#fff" opacity="0.3"/>
<rect x="239.06" y="71.15" width="1.2" height="0.7" fill="#fff" opacity="0.3"/>
<rect x="237.36" y="80.40" width="1.2" height="0.7" fill="#fff" opacity="0.3"/>
<rect x="233.56" y="73.54" width="1.2" height="0.7" fill="#fff" opacity="0.3"/>
<rect x="235.61" y="85.39" width="1.2" height="0.7" fill="#fff" opacity="0.3"/>
<rect x="236.48" y="79.01" width="1.2" height="0.7" fill="#fff" opacity="0.3"/>
<rect x="236.47" y="82.80" width="1.2" height="0.7" fill="#fff" opacity="0.3"/>
<rect x="235.49" y="80.31" width="1.2" height="0.7" fill="#fff" opacity="0.3"/>
<rect x="229.86" y="83.25" width="1.2" height="0.7" fill="#fff" opacity="0.3"/>
<rect x="239.30" y="77.77" width="1.2" height="0.7" fill="#fff" opacity="0.3"/>
<rect x="235.33" y="84.56" width="1.2" height="0.7" fill="#fff" opacity="0.3"/>
<rect x="235.25" y="83.76" width="1.2" height="0.7" fill="#fff" opacity="0.3"/>
<rect x="235.06" y="77.63" width="1.2" height="0.7" fill="#fff" opacity="0.3"/>
<rect x="238.83" y="84.35" width="1.2" height="0.7" fill="#fff" opacity="0.3"/>
<rect x="235.56" y="77.10" width="1.2" height="0.7" fill="#fff" opacity="0.3"/>
<rect x="235.12" y="75.70" width="1.2" height="0.7" fill="#fff" opacity="0.3"/>
<rect x="233.26" y="71.11" width="1.2" height="0.7" fill="#fff" opacity="0.3"/>
<rect x="232.43" y="71.01" width="1.2" height="0.7" fill="#fff" opacity="0.3"/>
<rect x="239.09" y="74.53" width="1.2" height="0.7" fill="#fff" opacity="0.3"/>
<rect x="238.41" y="75.75" width="1.2" height="0.7" fill="#fff" opacity="0.3"/>
<rect x="239.64" y="78.07" width="1.2" height="0.7" fill="#fff" opacity="0.3"/>
<rect x="232.97" y="74.87" width="1.2" height="0.7" fill="#fff" opacity="0.3"/>
<rect x="232.21" y="73.04" width="1.2" height="0.7" fill="#fff" opacity="0.3"/>
<rect x="232.40" y="72.09" width="1.2" height="0.7" fill="#fff" opacity="0.3"/>
<rect x="233.41" y="67.28" width="1.2" height="0.7" fill="#fff" opacity="0.3"/>
<rect x="239.13" y="82.17" width="1.2" height="0.7" fill="#fff" opacity="0.3"/>
<rect x="232.96" y="82.73" width="1.2" height="0.7" fill="#fff" opacity="0.3"/>
<rect x="229.98" y="78.51" width="1.2" height="0.7" fill="#fff" opacity="0.3"/>
<rect x="235.51" y="83.55" width="1.2" height="0.7" fill="#fff" opacity="0.3"/>
<rect x="239.47" y="78.36" width="1.2" height="0.7" fill="#fff" opacity="0.3"/>
<rect x="237.95" y="80.07" width="1.2" height="0.7" fill="#fff" opacity="0.3"/>
<rect x="230.42" y="68.86" width="1.2" height="0.7" fill="#fff" opacity="0.3"/>
<rect x="230.64" y="81.14" width="1.2" height="0.7" fill="#fff" opacity="0.3"/>
<rect x="234.29" y="73.50" width="1.2" height="0.7" fill="#fff" opacity="0.3"/>
<rect x="234.56" y="84.64" width="1.2" height="0.7" fill="#fff" opacity="0.3"/>
<rect x="234.40" y="82.66" width="1.2" height="0.7" fill="#fff" opacity="0.3"/>
<rect x="233.22" y="79.23" width="1.2" height="0.7" fill="#fff" opacity="0.3"/>
<rect x="237.42" y="70.28" width="1.2" height="0.7" fill="#fff" opacity="0.3"/>
<rect x="238.77" y="70.53" width="1.2" height="0.7" fill="#fff" opacity="0.3"/>
<rect x="231.08" y="85.21" width="1.2" height="0.7" fill="#fff" opacity="0.3"/>
<rect x="231.87" y="74.96" width="1.2" height="0.7" fill="#fff" opacity="0.3"/>
<rect x="228.74" y="64.46" width="11.69" height="1.49" rx="0.5" fill="#d2b662"/>
<rect x="229.87" y="63.28" width="9.42" height="1.49" rx="0.5" fill="#d2b662"/>
<rect x="232.85" y="62.09" width="3.46" height="1.49" rx="0.5" fill="#d2b662"/>
<rect x="230.27" y="60.91" width="8.61" height="1.49" rx="0.5" fill="#d2b662"/>
<rect x="231.20" y="59.72" width="6.77" height="1.49" rx="0.5" fill="#d2b662"/>
<rect x="233.35" y="58.54" width="2.47" height="1.49" rx="0.5" fill="#d2b662"/>
<rect x="233.16" y="57.35" width="2.85" height="1.49" rx="0.5" fill="#d2b662"/>
<circle cx="232.11" cy="65.30" r="0.5" fill="#d2b662" opacity="0.8"/>
<circle cx="232.06" cy="58.41" r="0.5" fill="#d2b662" opacity="0.8"/>
<circle cx="235.75" cy="64.60" r="0.5" fill="#d2b662" opacity="0.8"/>
<circle cx="236.63" cy="58.71" r="0.5" fill="#d2b662" opacity="0.8"/>
<line x1="234.58" y1="89.30" x2="234.58" y2="90.20" stroke="#888" stroke-width="0.3"/>
<text x="234.58" y="92.90" font-family="Liberation Sans" font-size="2.8" font-weight="normal" fill="#555" text-anchor="middle" >3</text>
<rect x="242.32" y="72.00" width="11.80" height="14.80" rx="0.6" fill="#b6be56"/>
<rect x="247.28" y="73.74" width="1.2" height="0.7" fill="#fff" opacity="0.3"/>
<rect x="246.37" y="83.93" width="1.2" height="0.7" fill="#fff" opacity="0.3"/>
<rect x="252.82" y="77.97" width="1.2" height="0.7" fill="#fff" opacity="0.3"/>
<rect x="251.08" y="84.94" width="1.2" height="0.7" fill="#fff" opacity="0.3"/>
<rect x="244.21" y="75.44" width="1.2" height="0.7" fill="#fff" opacity="0.3"/>
<rect x="246.53" y="77.23" width="1.2" height="0.7" fill="#fff" opacity="0.3"/>
<rect x="249.64" y="85.62" width="1.2" height="0.7" fill="#fff" opacity="0.3"/>
<rect x="245.14" y="76.55" width="1.2" height="0.7" fill="#fff" opacity="0.3"/>
<rect x="248.36" y="82.35" width="1.2" height="0.7" fill="#fff" opacity="0.3"/>
<rect x="244.63" y="80.22" width="1.2" height="0.7" fill="#fff" opacity="0.3"/>
<rect x="249.45" y="82.87" width="1.2" height="0.7" fill="#fff" opacity="0.3"/>
<rect x="246.73" y="77.10" width="1.2" height="0.7" fill="#fff" opacity="0.3"/>
<rect x="249.00" y="77.81" width="1.2" height="0.7" fill="#fff" opacity="0.3"/>
<rect x="247.69" y="82.95" width="1.2" height="0.7" fill="#fff" opacity="0.3"/>
<rect x="253.05" y="85.68" width="1.2" height="0.7" fill="#fff" opacity="0.3"/>
<rect x="244.90" y="79.93" width="1.2" height="0.7" fill="#fff" opacity="0.3"/>
<rect x="248.66" y="80.06" width="1.2" height="0.7" fill="#fff" opacity="0.3"/>
<rect x="245.13" y="77.15" width="1.2" height="0.7" fill="#fff" opacity="0.3"/>
<rect x="247.15" y="75.48" width="1.2" height="0.7" fill="#fff" opacity="0.3"/>
<rect x="248.08" y="84.62" width="1.2" height="0.7" fill="#fff" opacity="0.3"/>
<rect x="249.86" y="75.02" width="1.2" height="0.7" fill="#fff" opacity="0.3"/>
<rect x="245.68" y="77.69" width="1.2" height="0.7" fill="#fff" opacity="0.3"/>
<rect x="251.55" y="73.40" width="1.2" height="0.7" fill="#fff" opacity="0.3"/>
<rect x="244.00" y="83.77" width="1.2" height="0.7" fill="#fff" opacity="0.3"/>
<rect x="246.84" y="75.36" width="1.2" height="0.7" fill="#fff" opacity="0.3"/>
<rect x="248.65" y="73.52" width="1.2" height="0.7" fill="#fff" opacity="0.3"/>
<rect x="250.39" y="84.38" width="1.2" height="0.7" fill="#fff" opacity="0.3"/>
<rect x="243.72" y="79.72" width="1.2" height="0.7" fill="#fff" opacity="0.3"/>
<rect x="252.61" y="77.00" width="1.2" height="0.7" fill="#fff" opacity="0.3"/>
<rect x="246.14" y="84.30" width="1.2" height="0.7" fill="#fff" opacity="0.3"/>
<rect x="243.13" y="73.56" width="1.2" height="0.7" fill="#fff" opacity="0.3"/>
<rect x="249.23" y="83.58" width="1.2" height="0.7" fill="#fff" opacity="0.3"/>
<rect x="248.95" y="81.79" width="1.2" height="0.7" fill="#fff" opacity="0.3"/>
<rect x="247.34" y="85.30" width="1.2" height="0.7" fill="#fff" opacity="0.3"/>
<rect x="246.34" y="80.20" width="1.2" height="0.7" fill="#fff" opacity="0.3"/>
<rect x="244.89" y="76.88" width="1.2" height="0.7" fill="#fff" opacity="0.3"/>
<rect x="249.41" y="73.93" width="1.2" height="0.7" fill="#fff" opacity="0.3"/>
<rect x="250.83" y="76.08" width="1.2" height="0.7" fill="#fff" opacity="0.3"/>
<rect x="251.16" y="74.75" width="1.2" height="0.7" fill="#fff" opacity="0.3"/>
<rect x="249.53" y="79.34" width="1.2" height="0.7" fill="#fff" opacity="0.3"/>
<rect x="245.62" y="83.07" width="1.2" height="0.7" fill="#fff" opacity="0.3"/>
<rect x="250.16" y="78.19" width="1.2" height="0.7" fill="#fff" opacity="0.3"/>
<rect x="248.73" y="78.44" width="1.2" height="0.7" fill="#fff" opacity="0.3"/>
<rect x="250.93" y="73.44" width="1.2" height="0.7" fill="#fff" opacity="0.3"/>
<rect x="245.17" y="70.68" width="6.10" height="1.47" rx="0.5" fill="#b6be56"/>
<rect x="245.96" y="69.52" width="4.53" height="1.47" rx="0.5" fill="#b6be56"/>
<rect x="247.51" y="68.35" width="1.42" height="1.47" rx="0.5" fill="#b6be56"/>
<circle cx="243.98" cy="71.55" r="0.5" fill="#b6be56" opacity="0.8"/>
<circle cx="244.43" cy="70.28" r="0.5" fill="#b6be56" opacity="0.8"/>
<circle cx="249.01" cy="62.00" r="0.7" fill="#b6be56" opacity="0.9"/>
<line x1="248.22" y1="89.30" x2="248.22" y2="90.20" stroke="#888" stroke-width="0.3"/>
<text x="248.22" y="92.90" font-family="Liberation Sans" font-size="2.8" font-weight="normal" fill="#555" text-anchor="middle" >4</text>
<rect x="255.96" y="73.00" width="11.80" height="13.80" rx="0.6" fill="#70c85a"/>
<rect x="261.05" y="81.95" width="1.2" height="0.7" fill="#fff" opacity="0.3"/>
<rect x="259.70" y="84.32" width="1.2" height="0.7" fill="#fff" opacity="0.3"/>
<rect x="264.19" y="74.06" width="1.2" height="0.7" fill="#fff" opacity="0.3"/>
<rect x="257.58" y="77.59" width="1.2" height="0.7" fill="#fff" opacity="0.3"/>
<rect x="260.08" y="74.31" width="1.2" height="0.7" fill="#fff" opacity="0.3"/>
<rect x="263.11" y="74.30" width="1.2" height="0.7" fill="#fff" opacity="0.3"/>
<rect x="262.26" y="82.86" width="1.2" height="0.7" fill="#fff" opacity="0.3"/>
<rect x="259.62" y="77.57" width="1.2" height="0.7" fill="#fff" opacity="0.3"/>
<rect x="265.51" y="83.09" width="1.2" height="0.7" fill="#fff" opacity="0.3"/>
<rect x="264.58" y="75.15" width="1.2" height="0.7" fill="#fff" opacity="0.3"/>
<rect x="259.37" y="78.33" width="1.2" height="0.7" fill="#fff" opacity="0.3"/>
<rect x="261.77" y="82.94" width="1.2" height="0.7" fill="#fff" opacity="0.3"/>
<rect x="265.94" y="80.82" width="1.2" height="0.7" fill="#fff" opacity="0.3"/>
<rect x="257.47" y="74.39" width="1.2" height="0.7" fill="#fff" opacity="0.3"/>
<rect x="260.84" y="85.14" width="1.2" height="0.7" fill="#fff" opacity="0.3"/>
<rect x="257.53" y="85.52" width="1.2" height="0.7" fill="#fff" opacity="0.3"/>
<rect x="256.90" y="74.28" width="1.2" height="0.7" fill="#fff" opacity="0.3"/>
<rect x="261.58" y="74.83" width="1.2" height="0.7" fill="#fff" opacity="0.3"/>
<rect x="260.22" y="85.57" width="1.2" height="0.7" fill="#fff" opacity="0.3"/>
<rect x="266.68" y="83.34" width="1.2" height="0.7" fill="#fff" opacity="0.3"/>
<rect x="263.70" y="78.20" width="1.2" height="0.7" fill="#fff" opacity="0.3"/>
<rect x="260.87" y="80.21" width="1.2" height="0.7" fill="#fff" opacity="0.3"/>
<rect x="260.23" y="81.43" width="1.2" height="0.7" fill="#fff" opacity="0.3"/>
<rect x="258.85" y="80.12" width="1.2" height="0.7" fill="#fff" opacity="0.3"/>
<rect x="260.88" y="75.56" width="1.2" height="0.7" fill="#fff" opacity="0.3"/>
<rect x="258.46" y="79.34" width="1.2" height="0.7" fill="#fff" opacity="0.3"/>
<rect x="260.47" y="78.55" width="1.2" height="0.7" fill="#fff" opacity="0.3"/>
<rect x="266.20" y="77.36" width="1.2" height="0.7" fill="#fff" opacity="0.3"/>
<rect x="260.60" y="78.42" width="1.2" height="0.7" fill="#fff" opacity="0.3"/>
<rect x="266.43" y="85.65" width="1.2" height="0.7" fill="#fff" opacity="0.3"/>
<rect x="264.38" y="74.05" width="1.2" height="0.7" fill="#fff" opacity="0.3"/>
<rect x="262.12" y="85.26" width="1.2" height="0.7" fill="#fff" opacity="0.3"/>
<rect x="259.28" y="83.00" width="1.2" height="0.7" fill="#fff" opacity="0.3"/>
<rect x="263.69" y="80.39" width="1.2" height="0.7" fill="#fff" opacity="0.3"/>
<rect x="266.38" y="77.21" width="1.2" height="0.7" fill="#fff" opacity="0.3"/>
<rect x="266.58" y="77.51" width="1.2" height="0.7" fill="#fff" opacity="0.3"/>
<rect x="265.45" y="82.15" width="1.2" height="0.7" fill="#fff" opacity="0.3"/>
<rect x="262.57" y="79.22" width="1.2" height="0.7" fill="#fff" opacity="0.3"/>
<rect x="258.36" y="78.07" width="1.2" height="0.7" fill="#fff" opacity="0.3"/>
<rect x="265.70" y="80.41" width="1.2" height="0.7" fill="#fff" opacity="0.3"/>
<rect x="258.17" y="80.95" width="1.2" height="0.7" fill="#fff" opacity="0.3"/>
<rect x="257.45" y="71.60" width="8.83" height="1.55" rx="0.5" fill="#70c85a"/>
<rect x="257.42" y="70.35" width="8.88" height="1.55" rx="0.5" fill="#70c85a"/>
<rect x="259.81" y="69.10" width="4.10" height="1.55" rx="0.5" fill="#70c85a"/>
<rect x="260.51" y="67.85" width="2.71" height="1.55" rx="0.5" fill="#70c85a"/>
<circle cx="266.26" cy="72.34" r="0.5" fill="#70c85a" opacity="0.8"/>
<circle cx="264.78" cy="68.64" r="0.5" fill="#70c85a" opacity="0.8"/>
<circle cx="260.91" cy="70.06" r="0.5" fill="#70c85a" opacity="0.8"/>
<circle cx="261.10" cy="65.00" r="0.7" fill="#70c85a" opacity="0.9"/>
<line x1="261.86" y1="89.30" x2="261.86" y2="90.20" stroke="#888" stroke-width="0.3"/>
<text x="261.86" y="92.90" font-family="Liberation Sans" font-size="2.8" font-weight="normal" fill="#555" text-anchor="middle" >5</text>
<rect x="269.60" y="78.00" width="11.80" height="8.80" rx="0.6" fill="#58c89e"/>
<rect x="275.61" y="83.17" width="1.2" height="0.7" fill="#fff" opacity="0.3"/>
<rect x="277.62" y="79.92" width="1.2" height="0.7" fill="#fff" opacity="0.3"/>
<rect x="273.35" y="82.65" width="1.2" height="0.7" fill="#fff" opacity="0.3"/>
<rect x="273.14" y="84.96" width="1.2" height="0.7" fill="#fff" opacity="0.3"/>
<rect x="274.94" y="79.21" width="1.2" height="0.7" fill="#fff" opacity="0.3"/>
<rect x="275.93" y="80.14" width="1.2" height="0.7" fill="#fff" opacity="0.3"/>
<rect x="277.87" y="81.77" width="1.2" height="0.7" fill="#fff" opacity="0.3"/>
<rect x="279.73" y="80.09" width="1.2" height="0.7" fill="#fff" opacity="0.3"/>
<rect x="277.54" y="83.66" width="1.2" height="0.7" fill="#fff" opacity="0.3"/>
<rect x="274.12" y="84.71" width="1.2" height="0.7" fill="#fff" opacity="0.3"/>
<rect x="278.90" y="85.51" width="1.2" height="0.7" fill="#fff" opacity="0.3"/>
<rect x="276.52" y="80.41" width="1.2" height="0.7" fill="#fff" opacity="0.3"/>
<rect x="278.88" y="80.24" width="1.2" height="0.7" fill="#fff" opacity="0.3"/>
<rect x="277.73" y="81.06" width="1.2" height="0.7" fill="#fff" opacity="0.3"/>
<rect x="274.35" y="81.20" width="1.2" height="0.7" fill="#fff" opacity="0.3"/>
<rect x="276.70" y="84.89" width="1.2" height="0.7" fill="#fff" opacity="0.3"/>
<rect x="278.85" y="79.09" width="1.2" height="0.7" fill="#fff" opacity="0.3"/>
<rect x="279.09" y="83.73" width="1.2" height="0.7" fill="#fff" opacity="0.3"/>
<rect x="274.27" y="84.97" width="1.2" height="0.7" fill="#fff" opacity="0.3"/>
<rect x="273.20" y="84.75" width="1.2" height="0.7" fill="#fff" opacity="0.3"/>
<rect x="280.11" y="83.79" width="1.2" height="0.7" fill="#fff" opacity="0.3"/>
<rect x="273.90" y="81.53" width="1.2" height="0.7" fill="#fff" opacity="0.3"/>
<rect x="273.39" y="81.90" width="1.2" height="0.7" fill="#fff" opacity="0.3"/>
<rect x="271.97" y="84.89" width="1.2" height="0.7" fill="#fff" opacity="0.3"/>
<rect x="273.93" y="80.50" width="1.2" height="0.7" fill="#fff" opacity="0.3"/>
<rect x="272.49" y="83.05" width="1.2" height="0.7" fill="#fff" opacity="0.3"/>
<rect x="272.38" y="76.72" width="6.24" height="1.43" rx="0.5" fill="#58c89e"/>
<rect x="271.42" y="75.58" width="8.16" height="1.43" rx="0.5" fill="#58c89e"/>
<rect x="273.97" y="74.45" width="3.07" height="1.43" rx="0.5" fill="#58c89e"/>
<circle cx="280.18" cy="76.00" r="0.5" fill="#58c89e" opacity="0.8"/>
<circle cx="277.01" cy="76.93" r="0.5" fill="#58c89e" opacity="0.8"/>
<line x1="275.50" y1="89.30" x2="275.50" y2="90.20" stroke="#888" stroke-width="0.3"/>
<text x="275.50" y="92.90" font-family="Liberation Sans" font-size="2.8" font-weight="normal" fill="#555" text-anchor="middle" >6</text>
<rect x="283.24" y="76.60" width="11.80" height="10.20" rx="0.6" fill="#56c4bc"/>
<rect x="289.81" y="78.23" width="1.2" height="0.7" fill="#fff" opacity="0.3"/>
<rect x="285.52" y="83.70" width="1.2" height="0.7" fill="#fff" opacity="0.3"/>
<rect x="287.66" y="80.12" width="1.2" height="0.7" fill="#fff" opacity="0.3"/>
<rect x="293.61" y="79.65" width="1.2" height="0.7" fill="#fff" opacity="0.3"/>
<rect x="289.19" y="81.37" width="1.2" height="0.7" fill="#fff" opacity="0.3"/>
<rect x="292.67" y="79.16" width="1.2" height="0.7" fill="#fff" opacity="0.3"/>
<rect x="287.44" y="80.39" width="1.2" height="0.7" fill="#fff" opacity="0.3"/>
<rect x="285.58" y="81.45" width="1.2" height="0.7" fill="#fff" opacity="0.3"/>
<rect x="291.75" y="83.74" width="1.2" height="0.7" fill="#fff" opacity="0.3"/>
<rect x="287.34" y="83.03" width="1.2" height="0.7" fill="#fff" opacity="0.3"/>
<rect x="288.94" y="80.67" width="1.2" height="0.7" fill="#fff" opacity="0.3"/>
<rect x="291.65" y="82.57" width="1.2" height="0.7" fill="#fff" opacity="0.3"/>
<rect x="285.26" y="80.58" width="1.2" height="0.7" fill="#fff" opacity="0.3"/>
<rect x="290.69" y="79.97" width="1.2" height="0.7" fill="#fff" opacity="0.3"/>
<rect x="290.22" y="79.20" width="1.2" height="0.7" fill="#fff" opacity="0.3"/>
<rect x="286.80" y="79.29" width="1.2" height="0.7" fill="#fff" opacity="0.3"/>
<rect x="292.38" y="81.43" width="1.2" height="0.7" fill="#fff" opacity="0.3"/>
<rect x="285.23" y="82.48" width="1.2" height="0.7" fill="#fff" opacity="0.3"/>
<rect x="286.11" y="77.83" width="1.2" height="0.7" fill="#fff" opacity="0.3"/>
<rect x="293.71" y="78.29" width="1.2" height="0.7" fill="#fff" opacity="0.3"/>
<rect x="293.74" y="80.84" width="1.2" height="0.7" fill="#fff" opacity="0.3"/>
<rect x="285.26" y="84.63" width="1.2" height="0.7" fill="#fff" opacity="0.3"/>
<rect x="290.70" y="82.67" width="1.2" height="0.7" fill="#fff" opacity="0.3"/>
<rect x="285.53" y="85.38" width="1.2" height="0.7" fill="#fff" opacity="0.3"/>
<rect x="292.59" y="82.00" width="1.2" height="0.7" fill="#fff" opacity="0.3"/>
<rect x="288.24" y="85.72" width="1.2" height="0.7" fill="#fff" opacity="0.3"/>
<rect x="293.58" y="80.30" width="1.2" height="0.7" fill="#fff" opacity="0.3"/>
<rect x="288.37" y="82.10" width="1.2" height="0.7" fill="#fff" opacity="0.3"/>
<rect x="290.89" y="85.76" width="1.2" height="0.7" fill="#fff" opacity="0.3"/>
<rect x="291.95" y="79.40" width="1.2" height="0.7" fill="#fff" opacity="0.3"/>
<rect x="288.30" y="75.35" width="1.68" height="1.40" rx="0.5" fill="#56c4bc"/>
<line x1="289.14" y1="89.30" x2="289.14" y2="90.20" stroke="#888" stroke-width="0.3"/>
<text x="289.14" y="92.90" font-family="Liberation Sans" font-size="2.8" font-weight="normal" fill="#555" text-anchor="middle" >7</text>
<rect x="296.88" y="79.00" width="11.80" height="7.80" rx="0.6" fill="#50bcd2"/>
<rect x="298.71" y="82.14" width="1.2" height="0.7" fill="#fff" opacity="0.3"/>
<rect x="303.18" y="83.00" width="1.2" height="0.7" fill="#fff" opacity="0.3"/>
<rect x="303.60" y="84.39" width="1.2" height="0.7" fill="#fff" opacity="0.3"/>
<rect x="297.75" y="84.10" width="1.2" height="0.7" fill="#fff" opacity="0.3"/>
<rect x="299.12" y="84.34" width="1.2" height="0.7" fill="#fff" opacity="0.3"/>
<rect x="306.49" y="80.55" width="1.2" height="0.7" fill="#fff" opacity="0.3"/>
<rect x="304.04" y="80.89" width="1.2" height="0.7" fill="#fff" opacity="0.3"/>
<rect x="303.21" y="81.13" width="1.2" height="0.7" fill="#fff" opacity="0.3"/>
<rect x="305.03" y="82.05" width="1.2" height="0.7" fill="#fff" opacity="0.3"/>
<rect x="307.45" y="83.18" width="1.2" height="0.7" fill="#fff" opacity="0.3"/>
<rect x="306.21" y="81.73" width="1.2" height="0.7" fill="#fff" opacity="0.3"/>
<rect x="306.34" y="80.60" width="1.2" height="0.7" fill="#fff" opacity="0.3"/>
<rect x="305.46" y="84.96" width="1.2" height="0.7" fill="#fff" opacity="0.3"/>
<rect x="298.48" y="83.14" width="1.2" height="0.7" fill="#fff" opacity="0.3"/>
<rect x="299.51" y="81.20" width="1.2" height="0.7" fill="#fff" opacity="0.3"/>
<rect x="306.31" y="80.67" width="1.2" height="0.7" fill="#fff" opacity="0.3"/>
<rect x="305.78" y="82.78" width="1.2" height="0.7" fill="#fff" opacity="0.3"/>
<rect x="299.14" y="81.59" width="1.2" height="0.7" fill="#fff" opacity="0.3"/>
<rect x="303.81" y="81.11" width="1.2" height="0.7" fill="#fff" opacity="0.3"/>
<rect x="304.61" y="85.61" width="1.2" height="0.7" fill="#fff" opacity="0.3"/>
<rect x="307.79" y="80.61" width="1.2" height="0.7" fill="#fff" opacity="0.3"/>
<rect x="298.15" y="82.14" width="1.2" height="0.7" fill="#fff" opacity="0.3"/>
<rect x="306.04" y="85.34" width="1.2" height="0.7" fill="#fff" opacity="0.3"/>
<rect x="298.75" y="77.85" width="8.06" height="1.30" rx="0.5" fill="#50bcd2"/>
<rect x="300.73" y="76.85" width="4.11" height="1.30" rx="0.5" fill="#50bcd2"/>
<circle cx="301.60" cy="78.30" r="0.5" fill="#50bcd2" opacity="0.8"/>
<line x1="302.78" y1="89.30" x2="302.78" y2="90.20" stroke="#888" stroke-width="0.3"/>
<text x="302.78" y="92.90" font-family="Liberation Sans" font-size="2.8" font-weight="normal" fill="#555" text-anchor="middle" >8</text>
<rect x="310.52" y="76.00" width="11.80" height="10.80" rx="0.6" fill="#68b2f4"/>
<rect x="317.16" y="81.30" width="1.2" height="0.7" fill="#fff" opacity="0.3"/>
<rect x="319.57" y="84.60" width="1.2" height="0.7" fill="#fff" opacity="0.3"/>
<rect x="321.12" y="83.88" width="1.2" height="0.7" fill="#fff" opacity="0.3"/>
<rect x="317.24" y="84.07" width="1.2" height="0.7" fill="#fff" opacity="0.3"/>
<rect x="313.55" y="84.16" width="1.2" height="0.7" fill="#fff" opacity="0.3"/>
<rect x="312.80" y="84.57" width="1.2" height="0.7" fill="#fff" opacity="0.3"/>
<rect x="318.95" y="78.46" width="1.2" height="0.7" fill="#fff" opacity="0.3"/>
<rect x="319.61" y="80.52" width="1.2" height="0.7" fill="#fff" opacity="0.3"/>
<rect x="316.68" y="78.33" width="1.2" height="0.7" fill="#fff" opacity="0.3"/>
<rect x="315.71" y="81.16" width="1.2" height="0.7" fill="#fff" opacity="0.3"/>
<rect x="316.47" y="80.74" width="1.2" height="0.7" fill="#fff" opacity="0.3"/>
<rect x="311.40" y="83.48" width="1.2" height="0.7" fill="#fff" opacity="0.3"/>
<rect x="320.79" y="80.48" width="1.2" height="0.7" fill="#fff" opacity="0.3"/>
<rect x="318.16" y="83.68" width="1.2" height="0.7" fill="#fff" opacity="0.3"/>
<rect x="313.21" y="82.26" width="1.2" height="0.7" fill="#fff" opacity="0.3"/>
<rect x="317.62" y="84.46" width="1.2" height="0.7" fill="#fff" opacity="0.3"/>
<rect x="318.65" y="81.81" width="1.2" height="0.7" fill="#fff" opacity="0.3"/>
<rect x="313.58" y="77.28" width="1.2" height="0.7" fill="#fff" opacity="0.3"/>
<rect x="312.28" y="84.53" width="1.2" height="0.7" fill="#fff" opacity="0.3"/>
<rect x="320.70" y="79.09" width="1.2" height="0.7" fill="#fff" opacity="0.3"/>
<rect x="318.89" y="78.86" width="1.2" height="0.7" fill="#fff" opacity="0.3"/>
<rect x="316.17" y="78.36" width="1.2" height="0.7" fill="#fff" opacity="0.3"/>
<rect x="315.82" y="78.10" width="1.2" height="0.7" fill="#fff" opacity="0.3"/>
<rect x="319.36" y="81.33" width="1.2" height="0.7" fill="#fff" opacity="0.3"/>
<rect x="313.80" y="84.85" width="1.2" height="0.7" fill="#fff" opacity="0.3"/>
<rect x="313.63" y="79.54" width="1.2" height="0.7" fill="#fff" opacity="0.3"/>
<rect x="317.12" y="78.68" width="1.2" height="0.7" fill="#fff" opacity="0.3"/>
<rect x="321.09" y="80.30" width="1.2" height="0.7" fill="#fff" opacity="0.3"/>
<rect x="312.62" y="78.80" width="1.2" height="0.7" fill="#fff" opacity="0.3"/>
<rect x="314.26" y="85.55" width="1.2" height="0.7" fill="#fff" opacity="0.3"/>
<rect x="312.76" y="79.77" width="1.2" height="0.7" fill="#fff" opacity="0.3"/>
<rect x="311.83" y="85.30" width="1.2" height="0.7" fill="#fff" opacity="0.3"/>
<rect x="313.77" y="74.52" width="5.29" height="1.63" rx="0.5" fill="#68b2f4"/>
<rect x="313.30" y="73.18" width="6.24" height="1.63" rx="0.5" fill="#68b2f4"/>
<rect x="315.51" y="71.85" width="1.81" height="1.63" rx="0.5" fill="#68b2f4"/>
<circle cx="317.67" cy="74.76" r="0.5" fill="#68b2f4" opacity="0.8"/>
<circle cx="318.29" cy="74.63" r="0.5" fill="#68b2f4" opacity="0.8"/>
<line x1="316.42" y1="89.30" x2="316.42" y2="90.20" stroke="#888" stroke-width="0.3"/>
<text x="316.42" y="92.90" font-family="Liberation Sans" font-size="2.8" font-weight="normal" fill="#555" text-anchor="middle" >9</text>
<rect x="324.16" y="75.50" width="11.80" height="11.30" rx="0.6" fill="#b29ef4"/>
<rect x="326.52" y="80.81" width="1.2" height="0.7" fill="#fff" opacity="0.3"/>
<rect x="329.88" y="80.28" width="1.2" height="0.7" fill="#fff" opacity="0.3"/>
<rect x="332.73" y="79.51" width="1.2" height="0.7" fill="#fff" opacity="0.3"/>
<rect x="331.30" y="76.54" width="1.2" height="0.7" fill="#fff" opacity="0.3"/>
<rect x="325.66" y="81.36" width="1.2" height="0.7" fill="#fff" opacity="0.3"/>
<rect x="332.88" y="84.39" width="1.2" height="0.7" fill="#fff" opacity="0.3"/>
<rect x="334.87" y="79.96" width="1.2" height="0.7" fill="#fff" opacity="0.3"/>
<rect x="333.25" y="84.54" width="1.2" height="0.7" fill="#fff" opacity="0.3"/>
<rect x="332.71" y="80.10" width="1.2" height="0.7" fill="#fff" opacity="0.3"/>
<rect x="330.25" y="82.80" width="1.2" height="0.7" fill="#fff" opacity="0.3"/>
<rect x="327.28" y="78.80" width="1.2" height="0.7" fill="#fff" opacity="0.3"/>
<rect x="325.26" y="84.67" width="1.2" height="0.7" fill="#fff" opacity="0.3"/>
<rect x="328.35" y="77.53" width="1.2" height="0.7" fill="#fff" opacity="0.3"/>
<rect x="329.85" y="79.77" width="1.2" height="0.7" fill="#fff" opacity="0.3"/>
<rect x="325.62" y="83.32" width="1.2" height="0.7" fill="#fff" opacity="0.3"/>
<rect x="330.85" y="82.15" width="1.2" height="0.7" fill="#fff" opacity="0.3"/>
<rect x="334.61" y="83.06" width="1.2" height="0.7" fill="#fff" opacity="0.3"/>
<rect x="327.48" y="83.77" width="1.2" height="0.7" fill="#fff" opacity="0.3"/>
<rect x="335.00" y="82.54" width="1.2" height="0.7" fill="#fff" opacity="0.3"/>
<rect x="329.64" y="80.35" width="1.2" height="0.7" fill="#fff" opacity="0.3"/>
<rect x="325.83" y="83.79" width="1.2" height="0.7" fill="#fff" opacity="0.3"/>
<rect x="332.40" y="78.11" width="1.2" height="0.7" fill="#fff" opacity="0.3"/>
<rect x="327.41" y="80.44" width="1.2" height="0.7" fill="#fff" opacity="0.3"/>
<rect x="332.66" y="78.43" width="1.2" height="0.7" fill="#fff" opacity="0.3"/>
<rect x="333.25" y="84.97" width="1.2" height="0.7" fill="#fff" opacity="0.3"/>
<rect x="326.64" y="78.51" width="1.2" height="0.7" fill="#fff" opacity="0.3"/>
<rect x="325.84" y="80.79" width="1.2" height="0.7" fill="#fff" opacity="0.3"/>
<rect x="332.41" y="77.63" width="1.2" height="0.7" fill="#fff" opacity="0.3"/>
<rect x="328.49" y="79.84" width="1.2" height="0.7" fill="#fff" opacity="0.3"/>
<rect x="328.96" y="80.37" width="1.2" height="0.7" fill="#fff" opacity="0.3"/>
<rect x="325.32" y="84.16" width="1.2" height="0.7" fill="#fff" opacity="0.3"/>
<rect x="333.19" y="77.12" width="1.2" height="0.7" fill="#fff" opacity="0.3"/>
<rect x="325.86" y="77.82" width="1.2" height="0.7" fill="#fff" opacity="0.3"/>
<rect x="327.16" y="74.16" width="5.80" height="1.49" rx="0.5" fill="#b29ef4"/>
<rect x="326.08" y="72.97" width="7.95" height="1.49" rx="0.5" fill="#b29ef4"/>
<rect x="326.27" y="71.79" width="7.58" height="1.49" rx="0.5" fill="#b29ef4"/>
<rect x="327.23" y="70.60" width="5.66" height="1.49" rx="0.5" fill="#b29ef4"/>
<rect x="327.07" y="69.41" width="5.97" height="1.49" rx="0.5" fill="#b29ef4"/>
<rect x="325.86" y="68.22" width="8.41" height="1.49" rx="0.5" fill="#b29ef4"/>
<rect x="327.42" y="67.04" width="5.27" height="1.49" rx="0.5" fill="#b29ef4"/>
<rect x="328.53" y="65.85" width="3.06" height="1.49" rx="0.5" fill="#b29ef4"/>
<circle cx="329.33" cy="73.75" r="0.5" fill="#b29ef4" opacity="0.8"/>
<circle cx="326.52" cy="74.62" r="0.5" fill="#b29ef4" opacity="0.8"/>
<circle cx="326.13" cy="67.56" r="0.5" fill="#b29ef4" opacity="0.8"/>
<circle cx="326.23" cy="70.82" r="0.5" fill="#b29ef4" opacity="0.8"/>
<circle cx="332.87" cy="72.83" r="0.5" fill="#b29ef4" opacity="0.8"/>
<line x1="330.06" y1="89.30" x2="330.06" y2="90.20" stroke="#888" stroke-width="0.3"/>
<text x="330.06" y="92.90" font-family="Liberation Sans" font-size="2.8" font-weight="normal" fill="#555" text-anchor="middle" >10</text>
<rect x="337.80" y="75.00" width="11.80" height="11.80" rx="0.6" fill="#e888ec"/>
<rect x="341.49" y="85.23" width="1.2" height="0.7" fill="#fff" opacity="0.3"/>
<rect x="338.62" y="82.92" width="1.2" height="0.7" fill="#fff" opacity="0.3"/>
<rect x="344.19" y="80.61" width="1.2" height="0.7" fill="#fff" opacity="0.3"/>
<rect x="342.15" y="84.69" width="1.2" height="0.7" fill="#fff" opacity="0.3"/>
<rect x="339.10" y="83.36" width="1.2" height="0.7" fill="#fff" opacity="0.3"/>
<rect x="343.73" y="81.56" width="1.2" height="0.7" fill="#fff" opacity="0.3"/>
<rect x="339.75" y="83.25" width="1.2" height="0.7" fill="#fff" opacity="0.3"/>
<rect x="343.03" y="78.01" width="1.2" height="0.7" fill="#fff" opacity="0.3"/>
<rect x="343.22" y="82.91" width="1.2" height="0.7" fill="#fff" opacity="0.3"/>
<rect x="345.13" y="85.73" width="1.2" height="0.7" fill="#fff" opacity="0.3"/>
<rect x="345.14" y="85.76" width="1.2" height="0.7" fill="#fff" opacity="0.3"/>
<rect x="338.94" y="82.33" width="1.2" height="0.7" fill="#fff" opacity="0.3"/>
<rect x="347.52" y="79.50" width="1.2" height="0.7" fill="#fff" opacity="0.3"/>
<rect x="340.37" y="76.45" width="1.2" height="0.7" fill="#fff" opacity="0.3"/>
<rect x="341.87" y="83.38" width="1.2" height="0.7" fill="#fff" opacity="0.3"/>
<rect x="340.31" y="79.16" width="1.2" height="0.7" fill="#fff" opacity="0.3"/>
<rect x="343.12" y="76.49" width="1.2" height="0.7" fill="#fff" opacity="0.3"/>
<rect x="340.16" y="79.04" width="1.2" height="0.7" fill="#fff" opacity="0.3"/>
<rect x="346.52" y="83.60" width="1.2" height="0.7" fill="#fff" opacity="0.3"/>
<rect x="342.15" y="79.08" width="1.2" height="0.7" fill="#fff" opacity="0.3"/>
<rect x="341.15" y="80.71" width="1.2" height="0.7" fill="#fff" opacity="0.3"/>
<rect x="345.45" y="84.30" width="1.2" height="0.7" fill="#fff" opacity="0.3"/>
<rect x="348.34" y="79.52" width="1.2" height="0.7" fill="#fff" opacity="0.3"/>
<rect x="342.39" y="78.29" width="1.2" height="0.7" fill="#fff" opacity="0.3"/>
<rect x="343.53" y="76.72" width="1.2" height="0.7" fill="#fff" opacity="0.3"/>
<rect x="341.99" y="76.63" width="1.2" height="0.7" fill="#fff" opacity="0.3"/>
<rect x="341.97" y="84.37" width="1.2" height="0.7" fill="#fff" opacity="0.3"/>
<rect x="342.71" y="85.79" width="1.2" height="0.7" fill="#fff" opacity="0.3"/>
<rect x="347.24" y="82.28" width="1.2" height="0.7" fill="#fff" opacity="0.3"/>
<rect x="347.81" y="81.46" width="1.2" height="0.7" fill="#fff" opacity="0.3"/>
<rect x="347.68" y="78.54" width="1.2" height="0.7" fill="#fff" opacity="0.3"/>
<rect x="341.41" y="84.60" width="1.2" height="0.7" fill="#fff" opacity="0.3"/>
<rect x="345.34" y="81.63" width="1.2" height="0.7" fill="#fff" opacity="0.3"/>
<rect x="341.29" y="81.23" width="1.2" height="0.7" fill="#fff" opacity="0.3"/>
<rect x="341.54" y="76.50" width="1.2" height="0.7" fill="#fff" opacity="0.3"/>
<rect x="338.46" y="73.54" width="10.49" height="1.61" rx="0.5" fill="#e888ec"/>
<rect x="339.32" y="72.22" width="8.77" height="1.61" rx="0.5" fill="#e888ec"/>
<rect x="340.60" y="70.91" width="6.20" height="1.61" rx="0.5" fill="#e888ec"/>
<rect x="340.71" y="69.60" width="5.98" height="1.61" rx="0.5" fill="#e888ec"/>
<rect x="341.05" y="68.29" width="5.29" height="1.61" rx="0.5" fill="#e888ec"/>
<rect x="339.97" y="66.97" width="7.45" height="1.61" rx="0.5" fill="#e888ec"/>
<rect x="342.78" y="65.66" width="1.83" height="1.61" rx="0.5" fill="#e888ec"/>
<rect x="341.51" y="64.35" width="4.37" height="1.61" rx="0.5" fill="#e888ec"/>
<circle cx="342.45" cy="66.10" r="0.5" fill="#e888ec" opacity="0.8"/>
<circle cx="346.16" cy="70.02" r="0.5" fill="#e888ec" opacity="0.8"/>
<circle cx="344.30" cy="71.54" r="0.5" fill="#e888ec" opacity="0.8"/>
<circle cx="347.49" cy="64.62" r="0.5" fill="#e888ec" opacity="0.8"/>
<circle cx="348.47" cy="64.63" r="0.5" fill="#e888ec" opacity="0.8"/>
<circle cx="345.89" cy="69.43" r="0.5" fill="#e888ec" opacity="0.8"/>
<line x1="343.70" y1="89.30" x2="343.70" y2="90.20" stroke="#888" stroke-width="0.3"/>
<text x="343.70" y="92.90" font-family="Liberation Sans" font-size="2.8" font-weight="normal" fill="#555" text-anchor="middle" >11</text>
<rect x="351.44" y="72.70" width="11.80" height="14.10" rx="0.6" fill="#f68ec6"/>
<rect x="358.30" y="77.98" width="1.2" height="0.7" fill="#fff" opacity="0.3"/>
<rect x="358.92" y="82.67" width="1.2" height="0.7" fill="#fff" opacity="0.3"/>
<rect x="354.81" y="83.54" width="1.2" height="0.7" fill="#fff" opacity="0.3"/>
<rect x="356.40" y="76.96" width="1.2" height="0.7" fill="#fff" opacity="0.3"/>
<rect x="355.35" y="82.02" width="1.2" height="0.7" fill="#fff" opacity="0.3"/>
<rect x="354.64" y="77.77" width="1.2" height="0.7" fill="#fff" opacity="0.3"/>
<rect x="352.33" y="73.96" width="1.2" height="0.7" fill="#fff" opacity="0.3"/>
<rect x="361.84" y="78.71" width="1.2" height="0.7" fill="#fff" opacity="0.3"/>
<rect x="361.17" y="82.50" width="1.2" height="0.7" fill="#fff" opacity="0.3"/>
<rect x="361.07" y="76.28" width="1.2" height="0.7" fill="#fff" opacity="0.3"/>
<rect x="357.35" y="84.42" width="1.2" height="0.7" fill="#fff" opacity="0.3"/>
<rect x="356.14" y="76.97" width="1.2" height="0.7" fill="#fff" opacity="0.3"/>
<rect x="361.30" y="80.12" width="1.2" height="0.7" fill="#fff" opacity="0.3"/>
<rect x="359.64" y="76.61" width="1.2" height="0.7" fill="#fff" opacity="0.3"/>
<rect x="360.20" y="78.79" width="1.2" height="0.7" fill="#fff" opacity="0.3"/>
<rect x="361.02" y="79.61" width="1.2" height="0.7" fill="#fff" opacity="0.3"/>
<rect x="356.51" y="75.52" width="1.2" height="0.7" fill="#fff" opacity="0.3"/>
<rect x="360.74" y="77.36" width="1.2" height="0.7" fill="#fff" opacity="0.3"/>
<rect x="358.97" y="80.44" width="1.2" height="0.7" fill="#fff" opacity="0.3"/>
<rect x="357.00" y="79.35" width="1.2" height="0.7" fill="#fff" opacity="0.3"/>
<rect x="354.84" y="74.58" width="1.2" height="0.7" fill="#fff" opacity="0.3"/>
<rect x="355.03" y="76.55" width="1.2" height="0.7" fill="#fff" opacity="0.3"/>
<rect x="354.60" y="84.86" width="1.2" height="0.7" fill="#fff" opacity="0.3"/>
<rect x="361.77" y="79.09" width="1.2" height="0.7" fill="#fff" opacity="0.3"/>
<rect x="362.32" y="73.77" width="1.2" height="0.7" fill="#fff" opacity="0.3"/>
<rect x="353.01" y="79.64" width="1.2" height="0.7" fill="#fff" opacity="0.3"/>
<rect x="354.67" y="81.48" width="1.2" height="0.7" fill="#fff" opacity="0.3"/>
<rect x="356.84" y="76.21" width="1.2" height="0.7" fill="#fff" opacity="0.3"/>
<rect x="352.91" y="85.19" width="1.2" height="0.7" fill="#fff" opacity="0.3"/>
<rect x="355.24" y="82.86" width="1.2" height="0.7" fill="#fff" opacity="0.3"/>
<rect x="357.57" y="74.03" width="1.2" height="0.7" fill="#fff" opacity="0.3"/>
<rect x="360.73" y="76.33" width="1.2" height="0.7" fill="#fff" opacity="0.3"/>
<rect x="354.97" y="74.38" width="1.2" height="0.7" fill="#fff" opacity="0.3"/>
<rect x="356.70" y="84.53" width="1.2" height="0.7" fill="#fff" opacity="0.3"/>
<rect x="352.92" y="75.80" width="1.2" height="0.7" fill="#fff" opacity="0.3"/>
<rect x="356.32" y="81.65" width="1.2" height="0.7" fill="#fff" opacity="0.3"/>
<rect x="355.35" y="79.88" width="1.2" height="0.7" fill="#fff" opacity="0.3"/>
<rect x="354.97" y="85.51" width="1.2" height="0.7" fill="#fff" opacity="0.3"/>
<rect x="355.75" y="84.69" width="1.2" height="0.7" fill="#fff" opacity="0.3"/>
<rect x="354.81" y="85.35" width="1.2" height="0.7" fill="#fff" opacity="0.3"/>
<rect x="358.65" y="85.62" width="1.2" height="0.7" fill="#fff" opacity="0.3"/>
<rect x="352.99" y="74.42" width="1.2" height="0.7" fill="#fff" opacity="0.3"/>
<rect x="355.03" y="71.24" width="4.62" height="1.61" rx="0.5" fill="#f68ec6"/>
<rect x="354.48" y="69.92" width="5.71" height="1.61" rx="0.5" fill="#f68ec6"/>
<rect x="353.85" y="68.61" width="6.99" height="1.61" rx="0.5" fill="#f68ec6"/>
<rect x="354.20" y="67.30" width="6.28" height="1.61" rx="0.5" fill="#f68ec6"/>
<rect x="354.40" y="65.99" width="5.89" height="1.61" rx="0.5" fill="#f68ec6"/>
<rect x="354.82" y="64.67" width="5.05" height="1.61" rx="0.5" fill="#f68ec6"/>
<rect x="353.81" y="63.36" width="7.06" height="1.61" rx="0.5" fill="#f68ec6"/>
<rect x="354.90" y="62.05" width="4.87" height="1.61" rx="0.5" fill="#f68ec6"/>
<circle cx="361.17" cy="69.14" r="0.5" fill="#f68ec6" opacity="0.8"/>
<circle cx="356.09" cy="72.68" r="0.5" fill="#f68ec6" opacity="0.8"/>
<circle cx="361.34" cy="67.04" r="0.5" fill="#f68ec6" opacity="0.8"/>
<circle cx="354.07" cy="67.37" r="0.5" fill="#f68ec6" opacity="0.8"/>
<circle cx="352.58" cy="70.38" r="0.5" fill="#f68ec6" opacity="0.8"/>
<circle cx="359.78" cy="72.30" r="0.5" fill="#f68ec6" opacity="0.8"/>
<line x1="357.34" y1="89.30" x2="357.34" y2="90.20" stroke="#888" stroke-width="0.3"/>
<text x="357.34" y="92.90" font-family="Liberation Sans" font-size="2.8" font-weight="normal" fill="#555" text-anchor="middle" >12</text>
<text x="281.60" y="97.10" font-family="Liberation Sans" font-size="3.4" font-weight="normal" fill="#555" text-anchor="middle" >Date (T)</text>
<text x="242.20" y="31.20" font-family="Liberation Sans" font-size="6.6" font-weight="normal" fill="#262626" text-anchor="start" textLength="94.20" lengthAdjust="spacingAndGlyphs" stroke="#262626" stroke-width="0.14">High polluted city, Beijing, 2019</text>
<rect x="200.20" y="104.20" width="164.00" height="64.30" fill="none" stroke="#e2e2e2" stroke-width="0.5"/>
<line x1="200.20" y1="166.30" x2="364.20" y2="166.30" stroke="#e6e6e6" stroke-width="0.6"/>
<text x="198.50" y="167.20" font-family="Liberation Sans" font-size="2.6" font-weight="normal" fill="#555" text-anchor="end" >0</text>
<line x1="200.20" y1="152.50" x2="364.20" y2="152.50" stroke="#e6e6e6" stroke-width="0.6"/>
<text x="198.50" y="153.40" font-family="Liberation Sans" font-size="2.6" font-weight="normal" fill="#555" text-anchor="end" >50</text>
<line x1="200.20" y1="138.70" x2="364.20" y2="138.70" stroke="#e6e6e6" stroke-width="0.6"/>
<text x="198.50" y="139.60" font-family="Liberation Sans" font-size="2.6" font-weight="normal" fill="#555" text-anchor="end" >100</text>
<line x1="200.20" y1="124.90" x2="364.20" y2="124.90" stroke="#e6e6e6" stroke-width="0.6"/>
<text x="198.50" y="125.80" font-family="Liberation Sans" font-size="2.6" font-weight="normal" fill="#555" text-anchor="end" >150</text>
<line x1="200.20" y1="111.10" x2="364.20" y2="111.10" stroke="#e6e6e6" stroke-width="0.6"/>
<text x="198.50" y="112.00" font-family="Liberation Sans" font-size="2.6" font-weight="normal" fill="#555" text-anchor="end" >200</text>
<text x="0" y="0" font-family="Liberation Sans" font-size="3.4" fill="#555" text-anchor="middle" transform="translate(193.90,136.35) rotate(-90)">pm25</text>
<rect x="201.40" y="134.30" width="11.80" height="29.70" rx="0.6" fill="#f49aac"/>
<rect x="211.99" y="159.45" width="1.2" height="0.7" fill="#fff" opacity="0.3"/>
<rect x="209.67" y="141.61" width="1.2" height="0.7" fill="#fff" opacity="0.3"/>
<rect x="205.57" y="155.07" width="1.2" height="0.7" fill="#fff" opacity="0.3"/>
<rect x="210.43" y="135.76" width="1.2" height="0.7" fill="#fff" opacity="0.3"/>
<rect x="203.90" y="160.10" width="1.2" height="0.7" fill="#fff" opacity="0.3"/>
<rect x="203.40" y="153.45" width="1.2" height="0.7" fill="#fff" opacity="0.3"/>
<rect x="205.56" y="153.18" width="1.2" height="0.7" fill="#fff" opacity="0.3"/>
<rect x="211.00" y="151.41" width="1.2" height="0.7" fill="#fff" opacity="0.3"/>
<rect x="206.19" y="144.23" width="1.2" height="0.7" fill="#fff" opacity="0.3"/>
<rect x="208.54" y="152.70" width="1.2" height="0.7" fill="#fff" opacity="0.3"/>
<rect x="206.38" y="148.22" width="1.2" height="0.7" fill="#fff" opacity="0.3"/>
<rect x="207.67" y="142.46" width="1.2" height="0.7" fill="#fff" opacity="0.3"/>
<rect x="204.03" y="151.05" width="1.2" height="0.7" fill="#fff" opacity="0.3"/>
<rect x="203.22" y="151.86" width="1.2" height="0.7" fill="#fff" opacity="0.3"/>
<rect x="210.38" y="158.24" width="1.2" height="0.7" fill="#fff" opacity="0.3"/>
<rect x="204.77" y="146.79" width="1.2" height="0.7" fill="#fff" opacity="0.3"/>
<rect x="211.62" y="144.99" width="1.2" height="0.7" fill="#fff" opacity="0.3"/>
<rect x="212.31" y="140.84" width="1.2" height="0.7" fill="#fff" opacity="0.3"/>
<rect x="210.78" y="136.43" width="1.2" height="0.7" fill="#fff" opacity="0.3"/>
<rect x="209.01" y="157.61" width="1.2" height="0.7" fill="#fff" opacity="0.3"/>
<rect x="207.79" y="152.83" width="1.2" height="0.7" fill="#fff" opacity="0.3"/>
<rect x="211.52" y="162.90" width="1.2" height="0.7" fill="#fff" opacity="0.3"/>
<rect x="204.03" y="149.78" width="1.2" height="0.7" fill="#fff" opacity="0.3"/>
<rect x="202.61" y="145.79" width="1.2" height="0.7" fill="#fff" opacity="0.3"/>
<rect x="203.68" y="139.74" width="1.2" height="0.7" fill="#fff" opacity="0.3"/>
<rect x="208.57" y="137.64" width="1.2" height="0.7" fill="#fff" opacity="0.3"/>
<rect x="203.77" y="135.57" width="1.2" height="0.7" fill="#fff" opacity="0.3"/>
<rect x="210.50" y="142.05" width="1.2" height="0.7" fill="#fff" opacity="0.3"/>
<rect x="202.94" y="152.50" width="1.2" height="0.7" fill="#fff" opacity="0.3"/>
<rect x="209.52" y="152.77" width="1.2" height="0.7" fill="#fff" opacity="0.3"/>
<rect x="207.78" y="150.11" width="1.2" height="0.7" fill="#fff" opacity="0.3"/>
<rect x="209.54" y="143.89" width="1.2" height="0.7" fill="#fff" opacity="0.3"/>
<rect x="210.79" y="154.52" width="1.2" height="0.7" fill="#fff" opacity="0.3"/>
<rect x="210.95" y="159.97" width="1.2" height="0.7" fill="#fff" opacity="0.3"/>
<rect x="210.76" y="149.68" width="1.2" height="0.7" fill="#fff" opacity="0.3"/>
<rect x="207.53" y="155.62" width="1.2" height="0.7" fill="#fff" opacity="0.3"/>
<rect x="208.11" y="136.07" width="1.2" height="0.7" fill="#fff" opacity="0.3"/>
<rect x="211.55" y="140.81" width="1.2" height="0.7" fill="#fff" opacity="0.3"/>
<rect x="207.14" y="147.83" width="1.2" height="0.7" fill="#fff" opacity="0.3"/>
<rect x="203.15" y="151.32" width="1.2" height="0.7" fill="#fff" opacity="0.3"/>
<rect x="208.22" y="157.82" width="1.2" height="0.7" fill="#fff" opacity="0.3"/>
<rect x="208.44" y="143.79" width="1.2" height="0.7" fill="#fff" opacity="0.3"/>
<rect x="207.96" y="161.87" width="1.2" height="0.7" fill="#fff" opacity="0.3"/>
<rect x="208.69" y="158.67" width="1.2" height="0.7" fill="#fff" opacity="0.3"/>
<rect x="202.32" y="154.40" width="1.2" height="0.7" fill="#fff" opacity="0.3"/>
<rect x="204.35" y="139.81" width="1.2" height="0.7" fill="#fff" opacity="0.3"/>
<rect x="205.58" y="140.23" width="1.2" height="0.7" fill="#fff" opacity="0.3"/>
<rect x="203.07" y="141.15" width="1.2" height="0.7" fill="#fff" opacity="0.3"/>
<rect x="204.55" y="142.21" width="1.2" height="0.7" fill="#fff" opacity="0.3"/>
<rect x="210.35" y="137.60" width="1.2" height="0.7" fill="#fff" opacity="0.3"/>
<rect x="204.24" y="136.81" width="1.2" height="0.7" fill="#fff" opacity="0.3"/>
<rect x="207.36" y="141.65" width="1.2" height="0.7" fill="#fff" opacity="0.3"/>
<rect x="207.61" y="141.89" width="1.2" height="0.7" fill="#fff" opacity="0.3"/>
<rect x="204.20" y="148.82" width="1.2" height="0.7" fill="#fff" opacity="0.3"/>
<rect x="202.93" y="159.80" width="1.2" height="0.7" fill="#fff" opacity="0.3"/>
<rect x="207.94" y="146.25" width="1.2" height="0.7" fill="#fff" opacity="0.3"/>
<rect x="207.81" y="161.54" width="1.2" height="0.7" fill="#fff" opacity="0.3"/>
<rect x="207.24" y="146.22" width="1.2" height="0.7" fill="#fff" opacity="0.3"/>
<rect x="204.41" y="145.84" width="1.2" height="0.7" fill="#fff" opacity="0.3"/>
<rect x="210.09" y="152.28" width="1.2" height="0.7" fill="#fff" opacity="0.3"/>
<rect x="205.01" y="160.19" width="1.2" height="0.7" fill="#fff" opacity="0.3"/>
<rect x="203.56" y="145.16" width="1.2" height="0.7" fill="#fff" opacity="0.3"/>
<rect x="210.12" y="160.65" width="1.2" height="0.7" fill="#fff" opacity="0.3"/>
<rect x="206.88" y="135.61" width="1.2" height="0.7" fill="#fff" opacity="0.3"/>
<rect x="207.92" y="147.13" width="1.2" height="0.7" fill="#fff" opacity="0.3"/>
<rect x="202.50" y="144.96" width="1.2" height="0.7" fill="#fff" opacity="0.3"/>
<rect x="211.20" y="136.34" width="1.2" height="0.7" fill="#fff" opacity="0.3"/>
<rect x="204.02" y="139.93" width="1.2" height="0.7" fill="#fff" opacity="0.3"/>
<rect x="210.34" y="143.82" width="1.2" height="0.7" fill="#fff" opacity="0.3"/>
<rect x="209.18" y="154.00" width="1.2" height="0.7" fill="#fff" opacity="0.3"/>
<rect x="202.32" y="147.43" width="1.2" height="0.7" fill="#fff" opacity="0.3"/>
<rect x="203.41" y="157.45" width="1.2" height="0.7" fill="#fff" opacity="0.3"/>
<rect x="207.19" y="145.51" width="1.2" height="0.7" fill="#fff" opacity="0.3"/>
<rect x="210.49" y="158.08" width="1.2" height="0.7" fill="#fff" opacity="0.3"/>
<rect x="202.90" y="137.93" width="1.2" height="0.7" fill="#fff" opacity="0.3"/>
<rect x="205.49" y="143.97" width="1.2" height="0.7" fill="#fff" opacity="0.3"/>
<rect x="206.70" y="147.14" width="1.2" height="0.7" fill="#fff" opacity="0.3"/>
<rect x="212.12" y="153.89" width="1.2" height="0.7" fill="#fff" opacity="0.3"/>
<rect x="212.01" y="152.43" width="1.2" height="0.7" fill="#fff" opacity="0.3"/>
<rect x="204.58" y="151.02" width="1.2" height="0.7" fill="#fff" opacity="0.3"/>
<rect x="203.83" y="151.48" width="1.2" height="0.7" fill="#fff" opacity="0.3"/>
<rect x="203.66" y="161.08" width="1.2" height="0.7" fill="#fff" opacity="0.3"/>
<rect x="205.29" y="160.07" width="1.2" height="0.7" fill="#fff" opacity="0.3"/>
<rect x="204.45" y="141.06" width="1.2" height="0.7" fill="#fff" opacity="0.3"/>
<rect x="204.71" y="158.11" width="1.2" height="0.7" fill="#fff" opacity="0.3"/>
<rect x="210.65" y="155.94" width="1.2" height="0.7" fill="#fff" opacity="0.3"/>
<rect x="208.06" y="139.34" width="1.2" height="0.7" fill="#fff" opacity="0.3"/>
<rect x="204.63" y="136.20" width="1.2" height="0.7" fill="#fff" opacity="0.3"/>
<rect x="211.69" y="138.84" width="1.2" height="0.7" fill="#fff" opacity="0.3"/>
<rect x="205.39" y="132.86" width="3.82" height="1.59" rx="0.5" fill="#f49aac"/>
<rect x="206.04" y="131.57" width="2.51" height="1.59" rx="0.5" fill="#f49aac"/>
<rect x="206.17" y="130.29" width="2.27" height="1.59" rx="0.5" fill="#f49aac"/>
<rect x="204.63" y="129.00" width="5.34" height="1.59" rx="0.5" fill="#f49aac"/>
<rect x="206.53" y="127.71" width="1.53" height="1.59" rx="0.5" fill="#f49aac"/>
<rect x="206.77" y="126.42" width="1.06" height="1.59" rx="0.5" fill="#f49aac"/>
<rect x="206.36" y="125.14" width="1.89" height="1.59" rx="0.5" fill="#f49aac"/>
<rect x="206.36" y="123.85" width="1.89" height="1.59" rx="0.5" fill="#f49aac"/>
<circle cx="212.01" cy="129.34" r="0.5" fill="#f49aac" opacity="0.8"/>
<circle cx="207.47" cy="125.21" r="0.5" fill="#f49aac" opacity="0.8"/>
<circle cx="211.50" cy="130.96" r="0.5" fill="#f49aac" opacity="0.8"/>
<circle cx="206.68" cy="128.84" r="0.5" fill="#f49aac" opacity="0.8"/>
<circle cx="207.01" cy="133.18" r="0.5" fill="#f49aac" opacity="0.8"/>
<circle cx="206.82" cy="124.60" r="0.5" fill="#f49aac" opacity="0.8"/>
<circle cx="206.93" cy="106.80" r="0.7" fill="#f49aac" opacity="0.9"/>
<circle cx="207.55" cy="110.00" r="0.7" fill="#f49aac" opacity="0.9"/>
<circle cx="207.81" cy="116.00" r="0.7" fill="#f49aac" opacity="0.9"/>
<circle cx="206.58" cy="120.00" r="0.7" fill="#f49aac" opacity="0.9"/>
<line x1="207.30" y1="168.50" x2="207.30" y2="169.40" stroke="#888" stroke-width="0.3"/>
<text x="207.30" y="172.70" font-family="Liberation Sans" font-size="2.8" font-weight="normal" fill="#555" text-anchor="middle" >1</text>
<rect x="215.04" y="140.40" width="11.80" height="22.60" rx="0.6" fill="#f6a862"/>
<rect x="219.07" y="159.93" width="1.2" height="0.7" fill="#fff" opacity="0.3"/>
<rect x="224.09" y="157.54" width="1.2" height="0.7" fill="#fff" opacity="0.3"/>
<rect x="219.81" y="161.06" width="1.2" height="0.7" fill="#fff" opacity="0.3"/>
<rect x="224.49" y="158.27" width="1.2" height="0.7" fill="#fff" opacity="0.3"/>
<rect x="221.38" y="154.61" width="1.2" height="0.7" fill="#fff" opacity="0.3"/>
<rect x="217.19" y="142.13" width="1.2" height="0.7" fill="#fff" opacity="0.3"/>
<rect x="215.99" y="142.51" width="1.2" height="0.7" fill="#fff" opacity="0.3"/>
<rect x="221.04" y="160.87" width="1.2" height="0.7" fill="#fff" opacity="0.3"/>
<rect x="221.71" y="157.63" width="1.2" height="0.7" fill="#fff" opacity="0.3"/>
<rect x="223.54" y="160.85" width="1.2" height="0.7" fill="#fff" opacity="0.3"/>
<rect x="218.66" y="151.64" width="1.2" height="0.7" fill="#fff" opacity="0.3"/>
<rect x="225.27" y="148.20" width="1.2" height="0.7" fill="#fff" opacity="0.3"/>
<rect x="222.96" y="149.90" width="1.2" height="0.7" fill="#fff" opacity="0.3"/>
<rect x="217.40" y="145.58" width="1.2" height="0.7" fill="#fff" opacity="0.3"/>
<rect x="219.51" y="141.99" width="1.2" height="0.7" fill="#fff" opacity="0.3"/>
<rect x="224.84" y="148.72" width="1.2" height="0.7" fill="#fff" opacity="0.3"/>
<rect x="218.30" y="157.88" width="1.2" height="0.7" fill="#fff" opacity="0.3"/>
<rect x="215.90" y="157.10" width="1.2" height="0.7" fill="#fff" opacity="0.3"/>
<rect x="220.43" y="143.25" width="1.2" height="0.7" fill="#fff" opacity="0.3"/>
<rect x="219.90" y="161.71" width="1.2" height="0.7" fill="#fff" opacity="0.3"/>
<rect x="216.24" y="147.25" width="1.2" height="0.7" fill="#fff" opacity="0.3"/>
<rect x="217.66" y="153.59" width="1.2" height="0.7" fill="#fff" opacity="0.3"/>
<rect x="217.87" y="158.88" width="1.2" height="0.7" fill="#fff" opacity="0.3"/>
<rect x="219.56" y="160.98" width="1.2" height="0.7" fill="#fff" opacity="0.3"/>
<rect x="217.08" y="146.13" width="1.2" height="0.7" fill="#fff" opacity="0.3"/>
<rect x="216.11" y="142.32" width="1.2" height="0.7" fill="#fff" opacity="0.3"/>
<rect x="217.71" y="153.50" width="1.2" height="0.7" fill="#fff" opacity="0.3"/>
<rect x="221.46" y="156.36" width="1.2" height="0.7" fill="#fff" opacity="0.3"/>
<rect x="218.23" y="153.74" width="1.2" height="0.7" fill="#fff" opacity="0.3"/>
<rect x="225.88" y="148.02" width="1.2" height="0.7" fill="#fff" opacity="0.3"/>
<rect x="218.24" y="145.23" width="1.2" height="0.7" fill="#fff" opacity="0.3"/>
<rect x="225.69" y="154.51" width="1.2" height="0.7" fill="#fff" opacity="0.3"/>
<rect x="220.88" y="151.61" width="1.2" height="0.7" fill="#fff" opacity="0.3"/>
<rect x="216.65" y="146.04" width="1.2" height="0.7" fill="#fff" opacity="0.3"/>
<rect x="222.98" y="146.58" width="1.2" height="0.7" fill="#fff" opacity="0.3"/>
<rect x="221.08" y="160.03" width="1.2" height="0.7" fill="#fff" opacity="0.3"/>
<rect x="217.71" y="151.13" width="1.2" height="0.7" fill="#fff" opacity="0.3"/>
<rect x="223.62" y="156.73" width="1.2" height="0.7" fill="#fff" opacity="0.3"/>
<rect x="224.27" y="160.16" width="1.2" height="0.7" fill="#fff" opacity="0.3"/>
<rect x="221.73" y="146.05" width="1.2" height="0.7" fill="#fff" opacity="0.3"/>
<rect x="221.04" y="160.50" width="1.2" height="0.7" fill="#fff" opacity="0.3"/>
<rect x="217.86" y="147.45" width="1.2" height="0.7" fill="#fff" opacity="0.3"/>
<rect x="217.85" y="159.50" width="1.2" height="0.7" fill="#fff" opacity="0.3"/>
<rect x="216.83" y="144.52" width="1.2" height="0.7" fill="#fff" opacity="0.3"/>
<rect x="222.05" y="156.42" width="1.2" height="0.7" fill="#fff" opacity="0.3"/>
<rect x="220.14" y="156.82" width="1.2" height="0.7" fill="#fff" opacity="0.3"/>
<rect x="223.05" y="149.44" width="1.2" height="0.7" fill="#fff" opacity="0.3"/>
<rect x="216.59" y="155.64" width="1.2" height="0.7" fill="#fff" opacity="0.3"/>
<rect x="222.16" y="161.15" width="1.2" height="0.7" fill="#fff" opacity="0.3"/>
<rect x="222.99" y="142.69" width="1.2" height="0.7" fill="#fff" opacity="0.3"/>
<rect x="217.83" y="147.74" width="1.2" height="0.7" fill="#fff" opacity="0.3"/>
<rect x="223.25" y="147.77" width="1.2" height="0.7" fill="#fff" opacity="0.3"/>
<rect x="218.23" y="145.24" width="1.2" height="0.7" fill="#fff" opacity="0.3"/>
<rect x="218.61" y="151.64" width="1.2" height="0.7" fill="#fff" opacity="0.3"/>
<rect x="223.07" y="158.87" width="1.2" height="0.7" fill="#fff" opacity="0.3"/>
<rect x="216.86" y="152.77" width="1.2" height="0.7" fill="#fff" opacity="0.3"/>
<rect x="225.76" y="149.55" width="1.2" height="0.7" fill="#fff" opacity="0.3"/>
<rect x="217.11" y="154.86" width="1.2" height="0.7" fill="#fff" opacity="0.3"/>
<rect x="224.25" y="142.22" width="1.2" height="0.7" fill="#fff" opacity="0.3"/>
<rect x="216.70" y="147.71" width="1.2" height="0.7" fill="#fff" opacity="0.3"/>
<rect x="219.56" y="143.77" width="1.2" height="0.7" fill="#fff" opacity="0.3"/>
<rect x="216.70" y="150.08" width="1.2" height="0.7" fill="#fff" opacity="0.3"/>
<rect x="225.59" y="153.07" width="1.2" height="0.7" fill="#fff" opacity="0.3"/>
<rect x="218.66" y="161.15" width="1.2" height="0.7" fill="#fff" opacity="0.3"/>
<rect x="218.73" y="144.30" width="1.2" height="0.7" fill="#fff" opacity="0.3"/>
<rect x="217.10" y="141.89" width="1.2" height="0.7" fill="#fff" opacity="0.3"/>
<rect x="225.18" y="152.37" width="1.2" height="0.7" fill="#fff" opacity="0.3"/>
<rect x="215.08" y="139.03" width="11.72" height="1.52" rx="0.5" fill="#f6a862"/>
<rect x="217.96" y="137.81" width="5.97" height="1.52" rx="0.5" fill="#f6a862"/>
<rect x="219.87" y="136.60" width="2.13" height="1.52" rx="0.5" fill="#f6a862"/>
<rect x="217.34" y="135.38" width="7.20" height="1.52" rx="0.5" fill="#f6a862"/>
<rect x="219.22" y="134.16" width="3.44" height="1.52" rx="0.5" fill="#f6a862"/>
<rect x="218.94" y="132.94" width="3.99" height="1.52" rx="0.5" fill="#f6a862"/>
<rect x="220.07" y="131.72" width="1.73" height="1.52" rx="0.5" fill="#f6a862"/>
<rect x="219.09" y="130.50" width="3.70" height="1.52" rx="0.5" fill="#f6a862"/>
<rect x="220.31" y="129.29" width="1.25" height="1.52" rx="0.5" fill="#f6a862"/>
<rect x="220.00" y="128.07" width="1.89" height="1.52" rx="0.5" fill="#f6a862"/>
<rect x="220.00" y="126.85" width="1.89" height="1.52" rx="0.5" fill="#f6a862"/>
<circle cx="221.62" cy="127.79" r="0.5" fill="#f6a862" opacity="0.8"/>
<circle cx="221.43" cy="140.03" r="0.5" fill="#f6a862" opacity="0.8"/>
<circle cx="217.37" cy="131.83" r="0.5" fill="#f6a862" opacity="0.8"/>
<circle cx="222.61" cy="138.93" r="0.5" fill="#f6a862" opacity="0.8"/>
<circle cx="225.49" cy="139.80" r="0.5" fill="#f6a862" opacity="0.8"/>
<circle cx="224.41" cy="136.27" r="0.5" fill="#f6a862" opacity="0.8"/>
<circle cx="223.32" cy="137.95" r="0.5" fill="#f6a862" opacity="0.8"/>
<circle cx="222.67" cy="132.58" r="0.5" fill="#f6a862" opacity="0.8"/>
<circle cx="221.39" cy="119.00" r="0.7" fill="#f6a862" opacity="0.9"/>
<circle cx="220.57" cy="122.00" r="0.7" fill="#f6a862" opacity="0.9"/>
<circle cx="221.40" cy="125.00" r="0.7" fill="#f6a862" opacity="0.9"/>
<line x1="220.94" y1="168.50" x2="220.94" y2="169.40" stroke="#888" stroke-width="0.3"/>
<text x="220.94" y="172.70" font-family="Liberation Sans" font-size="2.8" font-weight="normal" fill="#555" text-anchor="middle" >2</text>
<rect x="228.68" y="136.70" width="11.80" height="25.50" rx="0.6" fill="#d2b662"/>
<rect x="235.63" y="146.62" width="1.2" height="0.7" fill="#fff" opacity="0.3"/>
<rect x="233.91" y="159.28" width="1.2" height="0.7" fill="#fff" opacity="0.3"/>
<rect x="230.16" y="138.74" width="1.2" height="0.7" fill="#fff" opacity="0.3"/>
<rect x="234.57" y="140.21" width="1.2" height="0.7" fill="#fff" opacity="0.3"/>
<rect x="238.21" y="159.31" width="1.2" height="0.7" fill="#fff" opacity="0.3"/>
<rect x="233.12" y="145.95" width="1.2" height="0.7" fill="#fff" opacity="0.3"/>
<rect x="236.22" y="158.46" width="1.2" height="0.7" fill="#fff" opacity="0.3"/>
<rect x="235.99" y="158.72" width="1.2" height="0.7" fill="#fff" opacity="0.3"/>
<rect x="232.97" y="148.68" width="1.2" height="0.7" fill="#fff" opacity="0.3"/>
<rect x="236.49" y="155.14" width="1.2" height="0.7" fill="#fff" opacity="0.3"/>
<rect x="233.38" y="146.01" width="1.2" height="0.7" fill="#fff" opacity="0.3"/>
<rect x="238.11" y="153.38" width="1.2" height="0.7" fill="#fff" opacity="0.3"/>
<rect x="234.91" y="143.61" width="1.2" height="0.7" fill="#fff" opacity="0.3"/>
<rect x="233.20" y="139.71" width="1.2" height="0.7" fill="#fff" opacity="0.3"/>
<rect x="231.98" y="139.82" width="1.2" height="0.7" fill="#fff" opacity="0.3"/>
<rect x="231.77" y="152.36" width="1.2" height="0.7" fill="#fff" opacity="0.3"/>
<rect x="235.17" y="157.67" width="1.2" height="0.7" fill="#fff" opacity="0.3"/>
<rect x="235.24" y="145.71" width="1.2" height="0.7" fill="#fff" opacity="0.3"/>
<rect x="233.03" y="157.21" width="1.2" height="0.7" fill="#fff" opacity="0.3"/>
<rect x="229.68" y="141.54" width="1.2" height="0.7" fill="#fff" opacity="0.3"/>
<rect x="234.02" y="141.13" width="1.2" height="0.7" fill="#fff" opacity="0.3"/>
<rect x="233.54" y="141.42" width="1.2" height="0.7" fill="#fff" opacity="0.3"/>
<rect x="235.78" y="158.07" width="1.2" height="0.7" fill="#fff" opacity="0.3"/>
<rect x="233.47" y="155.86" width="1.2" height="0.7" fill="#fff" opacity="0.3"/>
<rect x="229.50" y="140.24" width="1.2" height="0.7" fill="#fff" opacity="0.3"/>
<rect x="230.97" y="156.12" width="1.2" height="0.7" fill="#fff" opacity="0.3"/>
<rect x="232.29" y="151.14" width="1.2" height="0.7" fill="#fff" opacity="0.3"/>
<rect x="238.31" y="150.96" width="1.2" height="0.7" fill="#fff" opacity="0.3"/>
<rect x="233.62" y="150.58" width="1.2" height="0.7" fill="#fff" opacity="0.3"/>
<rect x="236.19" y="151.66" width="1.2" height="0.7" fill="#fff" opacity="0.3"/>
<rect x="235.02" y="140.89" width="1.2" height="0.7" fill="#fff" opacity="0.3"/>
<rect x="239.38" y="154.78" width="1.2" height="0.7" fill="#fff" opacity="0.3"/>
<rect x="238.45" y="156.24" width="1.2" height="0.7" fill="#fff" opacity="0.3"/>
<rect x="231.73" y="148.12" width="1.2" height="0.7" fill="#fff" opacity="0.3"/>
<rect x="235.58" y="141.82" width="1.2" height="0.7" fill="#fff" opacity="0.3"/>
<rect x="237.82" y="149.22" width="1.2" height="0.7" fill="#fff" opacity="0.3"/>
<rect x="235.43" y="159.25" width="1.2" height="0.7" fill="#fff" opacity="0.3"/>
<rect x="232.72" y="145.67" width="1.2" height="0.7" fill="#fff" opacity="0.3"/>
<rect x="235.55" y="140.09" width="1.2" height="0.7" fill="#fff" opacity="0.3"/>
<rect x="232.08" y="142.61" width="1.2" height="0.7" fill="#fff" opacity="0.3"/>
<rect x="239.39" y="152.71" width="1.2" height="0.7" fill="#fff" opacity="0.3"/>
<rect x="237.62" y="152.67" width="1.2" height="0.7" fill="#fff" opacity="0.3"/>
<rect x="232.74" y="146.38" width="1.2" height="0.7" fill="#fff" opacity="0.3"/>
<rect x="239.17" y="152.13" width="1.2" height="0.7" fill="#fff" opacity="0.3"/>
<rect x="235.67" y="147.77" width="1.2" height="0.7" fill="#fff" opacity="0.3"/>
<rect x="238.70" y="143.05" width="1.2" height="0.7" fill="#fff" opacity="0.3"/>
<rect x="238.42" y="154.12" width="1.2" height="0.7" fill="#fff" opacity="0.3"/>
<rect x="236.93" y="161.02" width="1.2" height="0.7" fill="#fff" opacity="0.3"/>
<rect x="234.47" y="150.22" width="1.2" height="0.7" fill="#fff" opacity="0.3"/>
<rect x="233.74" y="153.52" width="1.2" height="0.7" fill="#fff" opacity="0.3"/>
<rect x="238.16" y="155.69" width="1.2" height="0.7" fill="#fff" opacity="0.3"/>
<rect x="231.84" y="156.73" width="1.2" height="0.7" fill="#fff" opacity="0.3"/>
<rect x="229.81" y="152.86" width="1.2" height="0.7" fill="#fff" opacity="0.3"/>
<rect x="231.27" y="145.21" width="1.2" height="0.7" fill="#fff" opacity="0.3"/>
<rect x="235.28" y="141.04" width="1.2" height="0.7" fill="#fff" opacity="0.3"/>
<rect x="236.82" y="153.28" width="1.2" height="0.7" fill="#fff" opacity="0.3"/>
<rect x="237.41" y="148.97" width="1.2" height="0.7" fill="#fff" opacity="0.3"/>
<rect x="238.05" y="155.19" width="1.2" height="0.7" fill="#fff" opacity="0.3"/>
<rect x="235.05" y="153.14" width="1.2" height="0.7" fill="#fff" opacity="0.3"/>
<rect x="232.09" y="151.68" width="1.2" height="0.7" fill="#fff" opacity="0.3"/>
<rect x="232.37" y="141.00" width="1.2" height="0.7" fill="#fff" opacity="0.3"/>
<rect x="235.65" y="159.46" width="1.2" height="0.7" fill="#fff" opacity="0.3"/>
<rect x="234.27" y="141.58" width="1.2" height="0.7" fill="#fff" opacity="0.3"/>
<rect x="236.01" y="142.28" width="1.2" height="0.7" fill="#fff" opacity="0.3"/>
<rect x="236.08" y="155.06" width="1.2" height="0.7" fill="#fff" opacity="0.3"/>
<rect x="231.62" y="144.69" width="1.2" height="0.7" fill="#fff" opacity="0.3"/>
<rect x="234.01" y="153.28" width="1.2" height="0.7" fill="#fff" opacity="0.3"/>
<rect x="236.56" y="160.10" width="1.2" height="0.7" fill="#fff" opacity="0.3"/>
<rect x="235.61" y="159.58" width="1.2" height="0.7" fill="#fff" opacity="0.3"/>
<rect x="231.66" y="143.64" width="1.2" height="0.7" fill="#fff" opacity="0.3"/>
<rect x="239.38" y="156.17" width="1.2" height="0.7" fill="#fff" opacity="0.3"/>
<rect x="233.49" y="139.18" width="1.2" height="0.7" fill="#fff" opacity="0.3"/>
<rect x="232.06" y="147.29" width="1.2" height="0.7" fill="#fff" opacity="0.3"/>
<rect x="229.69" y="151.91" width="1.2" height="0.7" fill="#fff" opacity="0.3"/>
<rect x="238.80" y="145.65" width="1.2" height="0.7" fill="#fff" opacity="0.3"/>
<rect x="233.01" y="144.31" width="1.2" height="0.7" fill="#fff" opacity="0.3"/>
<rect x="230.47" y="135.36" width="8.22" height="1.49" rx="0.5" fill="#d2b662"/>
<rect x="233.54" y="134.17" width="2.08" height="1.49" rx="0.5" fill="#d2b662"/>
<rect x="230.67" y="132.98" width="7.82" height="1.49" rx="0.5" fill="#d2b662"/>
<rect x="232.67" y="131.79" width="3.82" height="1.49" rx="0.5" fill="#d2b662"/>
<rect x="232.36" y="130.61" width="4.44" height="1.49" rx="0.5" fill="#d2b662"/>
<rect x="233.06" y="129.42" width="3.04" height="1.49" rx="0.5" fill="#d2b662"/>
<rect x="233.64" y="128.23" width="1.89" height="1.49" rx="0.5" fill="#d2b662"/>
<rect x="233.64" y="127.04" width="1.89" height="1.49" rx="0.5" fill="#d2b662"/>
<rect x="233.64" y="125.85" width="1.89" height="1.49" rx="0.5" fill="#d2b662"/>
<circle cx="235.78" cy="129.31" r="0.5" fill="#d2b662" opacity="0.8"/>
<circle cx="238.65" cy="132.42" r="0.5" fill="#d2b662" opacity="0.8"/>
<circle cx="230.48" cy="134.21" r="0.5" fill="#d2b662" opacity="0.8"/>
<circle cx="233.45" cy="127.34" r="0.5" fill="#d2b662" opacity="0.8"/>
<circle cx="231.45" cy="128.06" r="0.5" fill="#d2b662" opacity="0.8"/>
<circle cx="237.93" cy="127.91" r="0.5" fill="#d2b662" opacity="0.8"/>
<circle cx="233.94" cy="107.00" r="0.7" fill="#d2b662" opacity="0.9"/>
<circle cx="235.04" cy="111.00" r="0.7" fill="#d2b662" opacity="0.9"/>
<circle cx="234.53" cy="115.00" r="0.7" fill="#d2b662" opacity="0.9"/>
<line x1="234.58" y1="168.50" x2="234.58" y2="169.40" stroke="#888" stroke-width="0.3"/>
<text x="234.58" y="172.70" font-family="Liberation Sans" font-size="2.8" font-weight="normal" fill="#555" text-anchor="middle" >3</text>
<rect x="242.32" y="146.50" width="11.80" height="18.50" rx="0.6" fill="#b6be56"/>
<rect x="250.63" y="155.12" width="1.2" height="0.7" fill="#fff" opacity="0.3"/>
<rect x="245.44" y="154.04" width="1.2" height="0.7" fill="#fff" opacity="0.3"/>
<rect x="252.40" y="160.22" width="1.2" height="0.7" fill="#fff" opacity="0.3"/>
<rect x="249.76" y="154.28" width="1.2" height="0.7" fill="#fff" opacity="0.3"/>
<rect x="250.70" y="149.98" width="1.2" height="0.7" fill="#fff" opacity="0.3"/>
<rect x="247.85" y="153.43" width="1.2" height="0.7" fill="#fff" opacity="0.3"/>
<rect x="247.40" y="160.93" width="1.2" height="0.7" fill="#fff" opacity="0.3"/>
<rect x="244.77" y="152.14" width="1.2" height="0.7" fill="#fff" opacity="0.3"/>
<rect x="248.87" y="152.41" width="1.2" height="0.7" fill="#fff" opacity="0.3"/>
<rect x="252.33" y="154.80" width="1.2" height="0.7" fill="#fff" opacity="0.3"/>
<rect x="243.16" y="152.07" width="1.2" height="0.7" fill="#fff" opacity="0.3"/>
<rect x="245.96" y="154.30" width="1.2" height="0.7" fill="#fff" opacity="0.3"/>
<rect x="243.12" y="162.85" width="1.2" height="0.7" fill="#fff" opacity="0.3"/>
<rect x="247.44" y="159.12" width="1.2" height="0.7" fill="#fff" opacity="0.3"/>
<rect x="247.81" y="155.10" width="1.2" height="0.7" fill="#fff" opacity="0.3"/>
<rect x="246.22" y="162.36" width="1.2" height="0.7" fill="#fff" opacity="0.3"/>
<rect x="244.63" y="156.02" width="1.2" height="0.7" fill="#fff" opacity="0.3"/>
<rect x="245.94" y="152.60" width="1.2" height="0.7" fill="#fff" opacity="0.3"/>
<rect x="244.14" y="163.24" width="1.2" height="0.7" fill="#fff" opacity="0.3"/>
<rect x="246.30" y="159.09" width="1.2" height="0.7" fill="#fff" opacity="0.3"/>
<rect x="250.71" y="162.61" width="1.2" height="0.7" fill="#fff" opacity="0.3"/>
<rect x="247.67" y="155.54" width="1.2" height="0.7" fill="#fff" opacity="0.3"/>
<rect x="251.55" y="156.57" width="1.2" height="0.7" fill="#fff" opacity="0.3"/>
<rect x="245.50" y="153.44" width="1.2" height="0.7" fill="#fff" opacity="0.3"/>
<rect x="252.37" y="152.64" width="1.2" height="0.7" fill="#fff" opacity="0.3"/>
<rect x="249.27" y="160.25" width="1.2" height="0.7" fill="#fff" opacity="0.3"/>
<rect x="251.29" y="157.74" width="1.2" height="0.7" fill="#fff" opacity="0.3"/>
<rect x="251.04" y="163.68" width="1.2" height="0.7" fill="#fff" opacity="0.3"/>
<rect x="248.08" y="153.16" width="1.2" height="0.7" fill="#fff" opacity="0.3"/>
<rect x="247.17" y="159.78" width="1.2" height="0.7" fill="#fff" opacity="0.3"/>
<rect x="245.10" y="161.52" width="1.2" height="0.7" fill="#fff" opacity="0.3"/>
<rect x="245.81" y="150.08" width="1.2" height="0.7" fill="#fff" opacity="0.3"/>
<rect x="250.55" y="152.78" width="1.2" height="0.7" fill="#fff" opacity="0.3"/>
<rect x="250.84" y="150.84" width="1.2" height="0.7" fill="#fff" opacity="0.3"/>
<rect x="245.85" y="155.23" width="1.2" height="0.7" fill="#fff" opacity="0.3"/>
<rect x="250.40" y="156.49" width="1.2" height="0.7" fill="#fff" opacity="0.3"/>
<rect x="252.86" y="162.90" width="1.2" height="0.7" fill="#fff" opacity="0.3"/>
<rect x="244.42" y="161.35" width="1.2" height="0.7" fill="#fff" opacity="0.3"/>
<rect x="253.31" y="152.27" width="1.2" height="0.7" fill="#fff" opacity="0.3"/>
<rect x="247.35" y="156.71" width="1.2" height="0.7" fill="#fff" opacity="0.3"/>
<rect x="253.17" y="151.68" width="1.2" height="0.7" fill="#fff" opacity="0.3"/>
<rect x="246.16" y="161.80" width="1.2" height="0.7" fill="#fff" opacity="0.3"/>
<rect x="246.08" y="162.81" width="1.2" height="0.7" fill="#fff" opacity="0.3"/>
<rect x="247.81" y="163.91" width="1.2" height="0.7" fill="#fff" opacity="0.3"/>
<rect x="246.30" y="153.35" width="1.2" height="0.7" fill="#fff" opacity="0.3"/>
<rect x="250.91" y="160.76" width="1.2" height="0.7" fill="#fff" opacity="0.3"/>
<rect x="250.35" y="151.82" width="1.2" height="0.7" fill="#fff" opacity="0.3"/>
<rect x="248.52" y="159.61" width="1.2" height="0.7" fill="#fff" opacity="0.3"/>
<rect x="250.68" y="163.41" width="1.2" height="0.7" fill="#fff" opacity="0.3"/>
<rect x="250.93" y="158.56" width="1.2" height="0.7" fill="#fff" opacity="0.3"/>
<rect x="250.36" y="158.37" width="1.2" height="0.7" fill="#fff" opacity="0.3"/>
<rect x="251.61" y="154.72" width="1.2" height="0.7" fill="#fff" opacity="0.3"/>
<rect x="249.87" y="156.42" width="1.2" height="0.7" fill="#fff" opacity="0.3"/>
<rect x="243.75" y="154.45" width="1.2" height="0.7" fill="#fff" opacity="0.3"/>
<rect x="246.13" y="153.30" width="1.2" height="0.7" fill="#fff" opacity="0.3"/>
<rect x="245.03" y="145.13" width="6.38" height="1.52" rx="0.5" fill="#b6be56"/>
<rect x="244.50" y="143.91" width="7.44" height="1.52" rx="0.5" fill="#b6be56"/>
<rect x="245.12" y="142.69" width="6.21" height="1.52" rx="0.5" fill="#b6be56"/>
<rect x="244.15" y="141.47" width="8.15" height="1.52" rx="0.5" fill="#b6be56"/>
<rect x="244.53" y="140.26" width="7.37" height="1.52" rx="0.5" fill="#b6be56"/>
<rect x="244.54" y="139.04" width="7.36" height="1.52" rx="0.5" fill="#b6be56"/>
<rect x="247.07" y="137.82" width="2.30" height="1.52" rx="0.5" fill="#b6be56"/>
<rect x="245.90" y="136.60" width="4.64" height="1.52" rx="0.5" fill="#b6be56"/>
<rect x="246.06" y="135.38" width="4.33" height="1.52" rx="0.5" fill="#b6be56"/>
<rect x="247.55" y="134.16" width="1.34" height="1.52" rx="0.5" fill="#b6be56"/>
<rect x="247.04" y="132.94" width="2.36" height="1.52" rx="0.5" fill="#b6be56"/>
<rect x="247.26" y="131.72" width="1.92" height="1.52" rx="0.5" fill="#b6be56"/>
<rect x="247.25" y="130.51" width="1.95" height="1.52" rx="0.5" fill="#b6be56"/>
<rect x="247.28" y="129.29" width="1.89" height="1.52" rx="0.5" fill="#b6be56"/>
<rect x="247.84" y="128.07" width="0.76" height="1.52" rx="0.5" fill="#b6be56"/>
<rect x="247.92" y="126.85" width="0.61" height="1.52" rx="0.5" fill="#b6be56"/>
<circle cx="244.98" cy="146.21" r="0.5" fill="#b6be56" opacity="0.8"/>
<circle cx="250.00" cy="130.90" r="0.5" fill="#b6be56" opacity="0.8"/>
<circle cx="250.56" cy="136.43" r="0.5" fill="#b6be56" opacity="0.8"/>
<circle cx="243.50" cy="127.46" r="0.5" fill="#b6be56" opacity="0.8"/>
<circle cx="251.04" cy="134.09" r="0.5" fill="#b6be56" opacity="0.8"/>
<circle cx="247.75" cy="131.33" r="0.5" fill="#b6be56" opacity="0.8"/>
<circle cx="250.53" cy="142.51" r="0.5" fill="#b6be56" opacity="0.8"/>
<circle cx="244.44" cy="136.38" r="0.5" fill="#b6be56" opacity="0.8"/>
<circle cx="245.03" cy="130.00" r="0.5" fill="#b6be56" opacity="0.8"/>
<circle cx="252.90" cy="135.07" r="0.5" fill="#b6be56" opacity="0.8"/>
<circle cx="250.15" cy="131.21" r="0.5" fill="#b6be56" opacity="0.8"/>
<line x1="248.22" y1="168.50" x2="248.22" y2="169.40" stroke="#888" stroke-width="0.3"/>
<text x="248.22" y="172.70" font-family="Liberation Sans" font-size="2.8" font-weight="normal" fill="#555" text-anchor="middle" >4</text>
<rect x="255.96" y="145.30" width="11.80" height="19.20" rx="0.6" fill="#70c85a"/>
<rect x="264.41" y="153.39" width="1.2" height="0.7" fill="#fff" opacity="0.3"/>
<rect x="264.85" y="148.72" width="1.2" height="0.7" fill="#fff" opacity="0.3"/>
<rect x="266.73" y="147.60" width="1.2" height="0.7" fill="#fff" opacity="0.3"/>
<rect x="260.41" y="147.17" width="1.2" height="0.7" fill="#fff" opacity="0.3"/>
<rect x="259.19" y="147.14" width="1.2" height="0.7" fill="#fff" opacity="0.3"/>
<rect x="262.26" y="151.29" width="1.2" height="0.7" fill="#fff" opacity="0.3"/>
<rect x="266.83" y="155.23" width="1.2" height="0.7" fill="#fff" opacity="0.3"/>
<rect x="257.81" y="161.64" width="1.2" height="0.7" fill="#fff" opacity="0.3"/>
<rect x="257.14" y="155.90" width="1.2" height="0.7" fill="#fff" opacity="0.3"/>
<rect x="260.07" y="150.64" width="1.2" height="0.7" fill="#fff" opacity="0.3"/>
<rect x="262.00" y="147.93" width="1.2" height="0.7" fill="#fff" opacity="0.3"/>
<rect x="261.76" y="155.82" width="1.2" height="0.7" fill="#fff" opacity="0.3"/>
<rect x="263.28" y="159.25" width="1.2" height="0.7" fill="#fff" opacity="0.3"/>
<rect x="257.28" y="160.14" width="1.2" height="0.7" fill="#fff" opacity="0.3"/>
<rect x="260.83" y="154.25" width="1.2" height="0.7" fill="#fff" opacity="0.3"/>
<rect x="257.28" y="152.49" width="1.2" height="0.7" fill="#fff" opacity="0.3"/>
<rect x="259.93" y="159.82" width="1.2" height="0.7" fill="#fff" opacity="0.3"/>
<rect x="263.06" y="161.17" width="1.2" height="0.7" fill="#fff" opacity="0.3"/>
<rect x="259.56" y="149.91" width="1.2" height="0.7" fill="#fff" opacity="0.3"/>
<rect x="261.37" y="147.22" width="1.2" height="0.7" fill="#fff" opacity="0.3"/>
<rect x="257.91" y="153.09" width="1.2" height="0.7" fill="#fff" opacity="0.3"/>
<rect x="266.83" y="160.29" width="1.2" height="0.7" fill="#fff" opacity="0.3"/>
<rect x="259.04" y="146.47" width="1.2" height="0.7" fill="#fff" opacity="0.3"/>
<rect x="258.19" y="147.93" width="1.2" height="0.7" fill="#fff" opacity="0.3"/>
<rect x="266.35" y="151.37" width="1.2" height="0.7" fill="#fff" opacity="0.3"/>
<rect x="259.40" y="161.57" width="1.2" height="0.7" fill="#fff" opacity="0.3"/>
<rect x="262.02" y="156.34" width="1.2" height="0.7" fill="#fff" opacity="0.3"/>
<rect x="257.23" y="147.11" width="1.2" height="0.7" fill="#fff" opacity="0.3"/>
<rect x="259.19" y="151.75" width="1.2" height="0.7" fill="#fff" opacity="0.3"/>
<rect x="261.38" y="156.84" width="1.2" height="0.7" fill="#fff" opacity="0.3"/>
<rect x="262.78" y="152.38" width="1.2" height="0.7" fill="#fff" opacity="0.3"/>
<rect x="256.81" y="149.48" width="1.2" height="0.7" fill="#fff" opacity="0.3"/>
<rect x="266.82" y="151.28" width="1.2" height="0.7" fill="#fff" opacity="0.3"/>
<rect x="264.90" y="152.43" width="1.2" height="0.7" fill="#fff" opacity="0.3"/>
<rect x="262.80" y="148.00" width="1.2" height="0.7" fill="#fff" opacity="0.3"/>
<rect x="264.45" y="152.57" width="1.2" height="0.7" fill="#fff" opacity="0.3"/>
<rect x="264.91" y="161.09" width="1.2" height="0.7" fill="#fff" opacity="0.3"/>
<rect x="259.40" y="158.55" width="1.2" height="0.7" fill="#fff" opacity="0.3"/>
<rect x="266.84" y="153.93" width="1.2" height="0.7" fill="#fff" opacity="0.3"/>
<rect x="257.46" y="155.60" width="1.2" height="0.7" fill="#fff" opacity="0.3"/>
<rect x="259.70" y="150.45" width="1.2" height="0.7" fill="#fff" opacity="0.3"/>
<rect x="266.95" y="148.01" width="1.2" height="0.7" fill="#fff" opacity="0.3"/>
<rect x="259.12" y="153.42" width="1.2" height="0.7" fill="#fff" opacity="0.3"/>
<rect x="259.14" y="149.33" width="1.2" height="0.7" fill="#fff" opacity="0.3"/>
<rect x="259.62" y="154.93" width="1.2" height="0.7" fill="#fff" opacity="0.3"/>
<rect x="263.87" y="162.95" width="1.2" height="0.7" fill="#fff" opacity="0.3"/>
<rect x="261.00" y="147.28" width="1.2" height="0.7" fill="#fff" opacity="0.3"/>
<rect x="265.68" y="157.33" width="1.2" height="0.7" fill="#fff" opacity="0.3"/>
<rect x="266.57" y="160.40" width="1.2" height="0.7" fill="#fff" opacity="0.3"/>
<rect x="257.14" y="157.62" width="1.2" height="0.7" fill="#fff" opacity="0.3"/>
<rect x="260.63" y="156.83" width="1.2" height="0.7" fill="#fff" opacity="0.3"/>
<rect x="257.54" y="146.87" width="1.2" height="0.7" fill="#fff" opacity="0.3"/>
<rect x="261.91" y="154.44" width="1.2" height="0.7" fill="#fff" opacity="0.3"/>
<rect x="266.11" y="150.42" width="1.2" height="0.7" fill="#fff" opacity="0.3"/>
<rect x="262.70" y="155.84" width="1.2" height="0.7" fill="#fff" opacity="0.3"/>
<rect x="261.37" y="157.06" width="1.2" height="0.7" fill="#fff" opacity="0.3"/>
<rect x="263.66" y="155.13" width="1.2" height="0.7" fill="#fff" opacity="0.3"/>
<rect x="260.62" y="143.93" width="2.48" height="1.52" rx="0.5" fill="#70c85a"/>
<rect x="258.21" y="142.72" width="7.30" height="1.52" rx="0.5" fill="#70c85a"/>
<rect x="259.27" y="141.50" width="5.17" height="1.52" rx="0.5" fill="#70c85a"/>
<rect x="261.08" y="140.28" width="1.55" height="1.52" rx="0.5" fill="#70c85a"/>
<rect x="260.37" y="139.07" width="2.99" height="1.52" rx="0.5" fill="#70c85a"/>
<rect x="260.92" y="137.85" width="1.89" height="1.52" rx="0.5" fill="#70c85a"/>
<circle cx="263.89" cy="144.61" r="0.5" fill="#70c85a" opacity="0.8"/>
<circle cx="265.00" cy="142.35" r="0.5" fill="#70c85a" opacity="0.8"/>
<circle cx="264.36" cy="142.29" r="0.5" fill="#70c85a" opacity="0.8"/>
<circle cx="262.93" cy="138.68" r="0.5" fill="#70c85a" opacity="0.8"/>
<line x1="261.86" y1="168.50" x2="261.86" y2="169.40" stroke="#888" stroke-width="0.3"/>
<text x="261.86" y="172.70" font-family="Liberation Sans" font-size="2.8" font-weight="normal" fill="#555" text-anchor="middle" >5</text>
<rect x="269.60" y="150.00" width="11.80" height="14.50" rx="0.6" fill="#58c89e"/>
<rect x="272.90" y="155.57" width="1.2" height="0.7" fill="#fff" opacity="0.3"/>
<rect x="274.60" y="157.34" width="1.2" height="0.7" fill="#fff" opacity="0.3"/>
<rect x="271.29" y="155.53" width="1.2" height="0.7" fill="#fff" opacity="0.3"/>
<rect x="271.36" y="158.60" width="1.2" height="0.7" fill="#fff" opacity="0.3"/>
<rect x="272.14" y="152.32" width="1.2" height="0.7" fill="#fff" opacity="0.3"/>
<rect x="279.46" y="156.59" width="1.2" height="0.7" fill="#fff" opacity="0.3"/>
<rect x="272.30" y="155.34" width="1.2" height="0.7" fill="#fff" opacity="0.3"/>
<rect x="279.75" y="160.81" width="1.2" height="0.7" fill="#fff" opacity="0.3"/>
<rect x="277.95" y="153.30" width="1.2" height="0.7" fill="#fff" opacity="0.3"/>
<rect x="273.35" y="154.15" width="1.2" height="0.7" fill="#fff" opacity="0.3"/>
<rect x="275.14" y="158.93" width="1.2" height="0.7" fill="#fff" opacity="0.3"/>
<rect x="276.02" y="161.06" width="1.2" height="0.7" fill="#fff" opacity="0.3"/>
<rect x="273.56" y="154.96" width="1.2" height="0.7" fill="#fff" opacity="0.3"/>
<rect x="279.59" y="159.49" width="1.2" height="0.7" fill="#fff" opacity="0.3"/>
<rect x="276.62" y="154.38" width="1.2" height="0.7" fill="#fff" opacity="0.3"/>
<rect x="274.90" y="154.52" width="1.2" height="0.7" fill="#fff" opacity="0.3"/>
<rect x="279.32" y="152.80" width="1.2" height="0.7" fill="#fff" opacity="0.3"/>
<rect x="276.10" y="157.27" width="1.2" height="0.7" fill="#fff" opacity="0.3"/>
<rect x="276.43" y="151.19" width="1.2" height="0.7" fill="#fff" opacity="0.3"/>
<rect x="277.15" y="162.36" width="1.2" height="0.7" fill="#fff" opacity="0.3"/>
<rect x="278.03" y="151.83" width="1.2" height="0.7" fill="#fff" opacity="0.3"/>
<rect x="277.10" y="155.03" width="1.2" height="0.7" fill="#fff" opacity="0.3"/>
<rect x="276.71" y="156.96" width="1.2" height="0.7" fill="#fff" opacity="0.3"/>
<rect x="279.86" y="152.67" width="1.2" height="0.7" fill="#fff" opacity="0.3"/>
<rect x="279.94" y="157.20" width="1.2" height="0.7" fill="#fff" opacity="0.3"/>
<rect x="280.24" y="159.41" width="1.2" height="0.7" fill="#fff" opacity="0.3"/>
<rect x="280.36" y="152.57" width="1.2" height="0.7" fill="#fff" opacity="0.3"/>
<rect x="272.95" y="153.71" width="1.2" height="0.7" fill="#fff" opacity="0.3"/>
<rect x="275.74" y="159.22" width="1.2" height="0.7" fill="#fff" opacity="0.3"/>
<rect x="271.58" y="158.92" width="1.2" height="0.7" fill="#fff" opacity="0.3"/>
<rect x="276.94" y="160.17" width="1.2" height="0.7" fill="#fff" opacity="0.3"/>
<rect x="271.91" y="154.18" width="1.2" height="0.7" fill="#fff" opacity="0.3"/>
<rect x="275.99" y="151.98" width="1.2" height="0.7" fill="#fff" opacity="0.3"/>
<rect x="272.13" y="152.54" width="1.2" height="0.7" fill="#fff" opacity="0.3"/>
<rect x="279.03" y="162.92" width="1.2" height="0.7" fill="#fff" opacity="0.3"/>
<rect x="277.46" y="161.24" width="1.2" height="0.7" fill="#fff" opacity="0.3"/>
<rect x="278.61" y="154.80" width="1.2" height="0.7" fill="#fff" opacity="0.3"/>
<rect x="278.57" y="157.29" width="1.2" height="0.7" fill="#fff" opacity="0.3"/>
<rect x="278.73" y="158.73" width="1.2" height="0.7" fill="#fff" opacity="0.3"/>
<rect x="271.24" y="160.48" width="1.2" height="0.7" fill="#fff" opacity="0.3"/>
<rect x="279.09" y="161.98" width="1.2" height="0.7" fill="#fff" opacity="0.3"/>
<rect x="271.46" y="159.72" width="1.2" height="0.7" fill="#fff" opacity="0.3"/>
<rect x="275.54" y="152.18" width="1.2" height="0.7" fill="#fff" opacity="0.3"/>
<rect x="270.23" y="148.65" width="10.55" height="1.50" rx="0.5" fill="#58c89e"/>
<rect x="271.91" y="147.45" width="7.19" height="1.50" rx="0.5" fill="#58c89e"/>
<rect x="273.93" y="146.25" width="3.14" height="1.50" rx="0.5" fill="#58c89e"/>
<rect x="272.03" y="145.05" width="6.95" height="1.50" rx="0.5" fill="#58c89e"/>
<rect x="274.60" y="143.85" width="1.80" height="1.50" rx="0.5" fill="#58c89e"/>
<rect x="273.96" y="142.65" width="3.08" height="1.50" rx="0.5" fill="#58c89e"/>
<rect x="274.41" y="141.45" width="2.18" height="1.50" rx="0.5" fill="#58c89e"/>
<rect x="274.56" y="140.25" width="1.89" height="1.50" rx="0.5" fill="#58c89e"/>
<rect x="274.95" y="139.05" width="1.10" height="1.50" rx="0.5" fill="#58c89e"/>
<circle cx="270.61" cy="147.72" r="0.5" fill="#58c89e" opacity="0.8"/>
<circle cx="275.58" cy="139.31" r="0.5" fill="#58c89e" opacity="0.8"/>
<circle cx="277.65" cy="145.96" r="0.5" fill="#58c89e" opacity="0.8"/>
<circle cx="279.75" cy="143.69" r="0.5" fill="#58c89e" opacity="0.8"/>
<circle cx="270.80" cy="140.27" r="0.5" fill="#58c89e" opacity="0.8"/>
<circle cx="272.63" cy="143.80" r="0.5" fill="#58c89e" opacity="0.8"/>
<line x1="275.50" y1="168.50" x2="275.50" y2="169.40" stroke="#888" stroke-width="0.3"/>
<text x="275.50" y="172.70" font-family="Liberation Sans" font-size="2.8" font-weight="normal" fill="#555" text-anchor="middle" >6</text>
<rect x="283.24" y="149.80" width="11.80" height="15.20" rx="0.6" fill="#56c4bc"/>
<rect x="293.64" y="160.84" width="1.2" height="0.7" fill="#fff" opacity="0.3"/>
<rect x="292.85" y="150.92" width="1.2" height="0.7" fill="#fff" opacity="0.3"/>
<rect x="284.12" y="153.63" width="1.2" height="0.7" fill="#fff" opacity="0.3"/>
<rect x="285.14" y="155.83" width="1.2" height="0.7" fill="#fff" opacity="0.3"/>
<rect x="284.90" y="159.07" width="1.2" height="0.7" fill="#fff" opacity="0.3"/>
<rect x="289.99" y="153.33" width="1.2" height="0.7" fill="#fff" opacity="0.3"/>
<rect x="286.99" y="151.66" width="1.2" height="0.7" fill="#fff" opacity="0.3"/>
<rect x="292.55" y="153.86" width="1.2" height="0.7" fill="#fff" opacity="0.3"/>
<rect x="292.74" y="158.98" width="1.2" height="0.7" fill="#fff" opacity="0.3"/>
<rect x="289.08" y="160.89" width="1.2" height="0.7" fill="#fff" opacity="0.3"/>
<rect x="285.95" y="161.01" width="1.2" height="0.7" fill="#fff" opacity="0.3"/>
<rect x="289.47" y="157.40" width="1.2" height="0.7" fill="#fff" opacity="0.3"/>
<rect x="292.59" y="161.72" width="1.2" height="0.7" fill="#fff" opacity="0.3"/>
<rect x="289.32" y="156.47" width="1.2" height="0.7" fill="#fff" opacity="0.3"/>
<rect x="293.30" y="153.95" width="1.2" height="0.7" fill="#fff" opacity="0.3"/>
<rect x="285.33" y="156.38" width="1.2" height="0.7" fill="#fff" opacity="0.3"/>
<rect x="287.57" y="158.63" width="1.2" height="0.7" fill="#fff" opacity="0.3"/>
<rect x="290.57" y="162.16" width="1.2" height="0.7" fill="#fff" opacity="0.3"/>
<rect x="285.88" y="156.38" width="1.2" height="0.7" fill="#fff" opacity="0.3"/>
<rect x="291.58" y="152.28" width="1.2" height="0.7" fill="#fff" opacity="0.3"/>
<rect x="292.87" y="154.77" width="1.2" height="0.7" fill="#fff" opacity="0.3"/>
<rect x="291.86" y="154.92" width="1.2" height="0.7" fill="#fff" opacity="0.3"/>
<rect x="294.06" y="155.84" width="1.2" height="0.7" fill="#fff" opacity="0.3"/>
<rect x="291.78" y="162.50" width="1.2" height="0.7" fill="#fff" opacity="0.3"/>
<rect x="285.08" y="158.74" width="1.2" height="0.7" fill="#fff" opacity="0.3"/>
<rect x="286.92" y="158.35" width="1.2" height="0.7" fill="#fff" opacity="0.3"/>
<rect x="292.35" y="152.07" width="1.2" height="0.7" fill="#fff" opacity="0.3"/>
<rect x="284.43" y="157.99" width="1.2" height="0.7" fill="#fff" opacity="0.3"/>
<rect x="285.85" y="160.19" width="1.2" height="0.7" fill="#fff" opacity="0.3"/>
<rect x="286.18" y="153.62" width="1.2" height="0.7" fill="#fff" opacity="0.3"/>
<rect x="284.95" y="159.63" width="1.2" height="0.7" fill="#fff" opacity="0.3"/>
<rect x="294.03" y="161.23" width="1.2" height="0.7" fill="#fff" opacity="0.3"/>
<rect x="288.51" y="158.98" width="1.2" height="0.7" fill="#fff" opacity="0.3"/>
<rect x="293.80" y="158.37" width="1.2" height="0.7" fill="#fff" opacity="0.3"/>
<rect x="291.92" y="157.15" width="1.2" height="0.7" fill="#fff" opacity="0.3"/>
<rect x="285.59" y="162.17" width="1.2" height="0.7" fill="#fff" opacity="0.3"/>
<rect x="289.74" y="163.84" width="1.2" height="0.7" fill="#fff" opacity="0.3"/>
<rect x="289.63" y="156.28" width="1.2" height="0.7" fill="#fff" opacity="0.3"/>
<rect x="287.69" y="156.25" width="1.2" height="0.7" fill="#fff" opacity="0.3"/>
<rect x="289.15" y="162.74" width="1.2" height="0.7" fill="#fff" opacity="0.3"/>
<rect x="288.38" y="154.05" width="1.2" height="0.7" fill="#fff" opacity="0.3"/>
<rect x="293.85" y="151.78" width="1.2" height="0.7" fill="#fff" opacity="0.3"/>
<rect x="288.87" y="162.30" width="1.2" height="0.7" fill="#fff" opacity="0.3"/>
<rect x="293.01" y="151.64" width="1.2" height="0.7" fill="#fff" opacity="0.3"/>
<rect x="286.61" y="156.94" width="1.2" height="0.7" fill="#fff" opacity="0.3"/>
<rect x="285.31" y="148.45" width="7.67" height="1.50" rx="0.5" fill="#56c4bc"/>
<rect x="287.09" y="147.25" width="4.11" height="1.50" rx="0.5" fill="#56c4bc"/>
<rect x="287.48" y="146.05" width="3.33" height="1.50" rx="0.5" fill="#56c4bc"/>
<rect x="287.90" y="144.85" width="2.48" height="1.50" rx="0.5" fill="#56c4bc"/>
<rect x="288.74" y="143.65" width="0.80" height="1.50" rx="0.5" fill="#56c4bc"/>
<circle cx="293.87" cy="149.61" r="0.5" fill="#56c4bc" opacity="0.8"/>
<circle cx="288.12" cy="145.91" r="0.5" fill="#56c4bc" opacity="0.8"/>
<circle cx="287.45" cy="147.12" r="0.5" fill="#56c4bc" opacity="0.8"/>
<line x1="289.14" y1="168.50" x2="289.14" y2="169.40" stroke="#888" stroke-width="0.3"/>
<text x="289.14" y="172.70" font-family="Liberation Sans" font-size="2.8" font-weight="normal" fill="#555" text-anchor="middle" >7</text>
<rect x="296.88" y="147.80" width="11.80" height="16.00" rx="0.6" fill="#50bcd2"/>
<rect x="305.41" y="149.89" width="1.2" height="0.7" fill="#fff" opacity="0.3"/>
<rect x="298.68" y="156.41" width="1.2" height="0.7" fill="#fff" opacity="0.3"/>
<rect x="299.23" y="162.76" width="1.2" height="0.7" fill="#fff" opacity="0.3"/>
<rect x="303.05" y="160.27" width="1.2" height="0.7" fill="#fff" opacity="0.3"/>
<rect x="303.45" y="160.11" width="1.2" height="0.7" fill="#fff" opacity="0.3"/>
<rect x="301.23" y="159.79" width="1.2" height="0.7" fill="#fff" opacity="0.3"/>
<rect x="302.94" y="161.45" width="1.2" height="0.7" fill="#fff" opacity="0.3"/>
<rect x="297.82" y="160.19" width="1.2" height="0.7" fill="#fff" opacity="0.3"/>
<rect x="300.03" y="158.94" width="1.2" height="0.7" fill="#fff" opacity="0.3"/>
<rect x="307.87" y="154.11" width="1.2" height="0.7" fill="#fff" opacity="0.3"/>
<rect x="303.21" y="158.69" width="1.2" height="0.7" fill="#fff" opacity="0.3"/>
<rect x="302.17" y="153.03" width="1.2" height="0.7" fill="#fff" opacity="0.3"/>
<rect x="298.26" y="160.87" width="1.2" height="0.7" fill="#fff" opacity="0.3"/>
<rect x="298.28" y="157.18" width="1.2" height="0.7" fill="#fff" opacity="0.3"/>
<rect x="304.65" y="159.47" width="1.2" height="0.7" fill="#fff" opacity="0.3"/>
<rect x="307.30" y="153.73" width="1.2" height="0.7" fill="#fff" opacity="0.3"/>
<rect x="306.08" y="155.47" width="1.2" height="0.7" fill="#fff" opacity="0.3"/>
<rect x="303.41" y="162.17" width="1.2" height="0.7" fill="#fff" opacity="0.3"/>
<rect x="299.55" y="161.26" width="1.2" height="0.7" fill="#fff" opacity="0.3"/>
<rect x="305.59" y="155.96" width="1.2" height="0.7" fill="#fff" opacity="0.3"/>
<rect x="304.90" y="161.19" width="1.2" height="0.7" fill="#fff" opacity="0.3"/>
<rect x="302.73" y="157.42" width="1.2" height="0.7" fill="#fff" opacity="0.3"/>
<rect x="304.68" y="156.76" width="1.2" height="0.7" fill="#fff" opacity="0.3"/>
<rect x="300.83" y="151.01" width="1.2" height="0.7" fill="#fff" opacity="0.3"/>
<rect x="300.05" y="152.06" width="1.2" height="0.7" fill="#fff" opacity="0.3"/>
<rect x="300.68" y="156.36" width="1.2" height="0.7" fill="#fff" opacity="0.3"/>
<rect x="303.99" y="156.28" width="1.2" height="0.7" fill="#fff" opacity="0.3"/>
<rect x="305.07" y="152.75" width="1.2" height="0.7" fill="#fff" opacity="0.3"/>
<rect x="299.90" y="162.38" width="1.2" height="0.7" fill="#fff" opacity="0.3"/>
<rect x="301.86" y="149.25" width="1.2" height="0.7" fill="#fff" opacity="0.3"/>
<rect x="298.30" y="161.22" width="1.2" height="0.7" fill="#fff" opacity="0.3"/>
<rect x="303.32" y="153.39" width="1.2" height="0.7" fill="#fff" opacity="0.3"/>
<rect x="302.96" y="160.59" width="1.2" height="0.7" fill="#fff" opacity="0.3"/>
<rect x="307.20" y="157.32" width="1.2" height="0.7" fill="#fff" opacity="0.3"/>
<rect x="306.37" y="155.40" width="1.2" height="0.7" fill="#fff" opacity="0.3"/>
<rect x="302.78" y="150.11" width="1.2" height="0.7" fill="#fff" opacity="0.3"/>
<rect x="304.19" y="156.43" width="1.2" height="0.7" fill="#fff" opacity="0.3"/>
<rect x="302.95" y="149.01" width="1.2" height="0.7" fill="#fff" opacity="0.3"/>
<rect x="297.89" y="152.50" width="1.2" height="0.7" fill="#fff" opacity="0.3"/>
<rect x="304.01" y="150.41" width="1.2" height="0.7" fill="#fff" opacity="0.3"/>
<rect x="306.35" y="156.22" width="1.2" height="0.7" fill="#fff" opacity="0.3"/>
<rect x="299.57" y="155.92" width="1.2" height="0.7" fill="#fff" opacity="0.3"/>
<rect x="298.25" y="149.37" width="1.2" height="0.7" fill="#fff" opacity="0.3"/>
<rect x="302.73" y="154.19" width="1.2" height="0.7" fill="#fff" opacity="0.3"/>
<rect x="300.55" y="162.37" width="1.2" height="0.7" fill="#fff" opacity="0.3"/>
<rect x="303.62" y="149.42" width="1.2" height="0.7" fill="#fff" opacity="0.3"/>
<rect x="302.41" y="158.18" width="1.2" height="0.7" fill="#fff" opacity="0.3"/>
<rect x="303.07" y="162.69" width="1.2" height="0.7" fill="#fff" opacity="0.3"/>
<rect x="297.79" y="146.49" width="9.97" height="1.46" rx="0.5" fill="#50bcd2"/>
<rect x="300.43" y="145.33" width="4.70" height="1.46" rx="0.5" fill="#50bcd2"/>
<rect x="302.02" y="144.17" width="1.52" height="1.46" rx="0.5" fill="#50bcd2"/>
<rect x="301.73" y="143.01" width="2.09" height="1.46" rx="0.5" fill="#50bcd2"/>
<rect x="301.84" y="141.85" width="1.89" height="1.46" rx="0.5" fill="#50bcd2"/>
<circle cx="305.53" cy="144.61" r="0.5" fill="#50bcd2" opacity="0.8"/>
<circle cx="303.17" cy="147.01" r="0.5" fill="#50bcd2" opacity="0.8"/>
<circle cx="307.27" cy="143.44" r="0.5" fill="#50bcd2" opacity="0.8"/>
<line x1="302.78" y1="168.50" x2="302.78" y2="169.40" stroke="#888" stroke-width="0.3"/>
<text x="302.78" y="172.70" font-family="Liberation Sans" font-size="2.8" font-weight="normal" fill="#555" text-anchor="middle" >8</text>
<rect x="310.52" y="148.80" width="11.80" height="16.70" rx="0.6" fill="#68b2f4"/>
<rect x="317.99" y="159.71" width="1.2" height="0.7" fill="#fff" opacity="0.3"/>
<rect x="317.76" y="155.00" width="1.2" height="0.7" fill="#fff" opacity="0.3"/>
<rect x="319.73" y="150.24" width="1.2" height="0.7" fill="#fff" opacity="0.3"/>
<rect x="314.37" y="164.24" width="1.2" height="0.7" fill="#fff" opacity="0.3"/>
<rect x="321.19" y="154.33" width="1.2" height="0.7" fill="#fff" opacity="0.3"/>
<rect x="312.41" y="153.35" width="1.2" height="0.7" fill="#fff" opacity="0.3"/>
<rect x="320.60" y="160.35" width="1.2" height="0.7" fill="#fff" opacity="0.3"/>
<rect x="311.59" y="153.39" width="1.2" height="0.7" fill="#fff" opacity="0.3"/>
<rect x="319.82" y="157.10" width="1.2" height="0.7" fill="#fff" opacity="0.3"/>
<rect x="312.62" y="152.12" width="1.2" height="0.7" fill="#fff" opacity="0.3"/>
<rect x="321.32" y="157.93" width="1.2" height="0.7" fill="#fff" opacity="0.3"/>
<rect x="317.90" y="153.71" width="1.2" height="0.7" fill="#fff" opacity="0.3"/>
<rect x="315.51" y="156.13" width="1.2" height="0.7" fill="#fff" opacity="0.3"/>
<rect x="320.27" y="155.61" width="1.2" height="0.7" fill="#fff" opacity="0.3"/>
<rect x="312.55" y="159.28" width="1.2" height="0.7" fill="#fff" opacity="0.3"/>
<rect x="319.12" y="160.89" width="1.2" height="0.7" fill="#fff" opacity="0.3"/>
<rect x="320.95" y="164.12" width="1.2" height="0.7" fill="#fff" opacity="0.3"/>
<rect x="318.59" y="154.60" width="1.2" height="0.7" fill="#fff" opacity="0.3"/>
<rect x="317.23" y="158.69" width="1.2" height="0.7" fill="#fff" opacity="0.3"/>
<rect x="317.35" y="160.06" width="1.2" height="0.7" fill="#fff" opacity="0.3"/>
<rect x="319.10" y="157.71" width="1.2" height="0.7" fill="#fff" opacity="0.3"/>
<rect x="316.92" y="164.13" width="1.2" height="0.7" fill="#fff" opacity="0.3"/>
<rect x="315.43" y="159.10" width="1.2" height="0.7" fill="#fff" opacity="0.3"/>
<rect x="315.98" y="151.16" width="1.2" height="0.7" fill="#fff" opacity="0.3"/>
<rect x="320.75" y="154.03" width="1.2" height="0.7" fill="#fff" opacity="0.3"/>
<rect x="312.71" y="153.57" width="1.2" height="0.7" fill="#fff" opacity="0.3"/>
<rect x="317.49" y="157.66" width="1.2" height="0.7" fill="#fff" opacity="0.3"/>
<rect x="313.81" y="158.61" width="1.2" height="0.7" fill="#fff" opacity="0.3"/>
<rect x="314.51" y="156.85" width="1.2" height="0.7" fill="#fff" opacity="0.3"/>
<rect x="319.95" y="162.26" width="1.2" height="0.7" fill="#fff" opacity="0.3"/>
<rect x="316.52" y="157.33" width="1.2" height="0.7" fill="#fff" opacity="0.3"/>
<rect x="319.64" y="157.95" width="1.2" height="0.7" fill="#fff" opacity="0.3"/>
<rect x="311.75" y="150.30" width="1.2" height="0.7" fill="#fff" opacity="0.3"/>
<rect x="317.11" y="154.55" width="1.2" height="0.7" fill="#fff" opacity="0.3"/>
<rect x="316.98" y="161.47" width="1.2" height="0.7" fill="#fff" opacity="0.3"/>
<rect x="313.28" y="151.80" width="1.2" height="0.7" fill="#fff" opacity="0.3"/>
<rect x="311.62" y="150.08" width="1.2" height="0.7" fill="#fff" opacity="0.3"/>
<rect x="318.17" y="158.86" width="1.2" height="0.7" fill="#fff" opacity="0.3"/>
<rect x="320.80" y="151.13" width="1.2" height="0.7" fill="#fff" opacity="0.3"/>
<rect x="320.93" y="162.47" width="1.2" height="0.7" fill="#fff" opacity="0.3"/>
<rect x="312.16" y="154.08" width="1.2" height="0.7" fill="#fff" opacity="0.3"/>
<rect x="312.45" y="155.94" width="1.2" height="0.7" fill="#fff" opacity="0.3"/>
<rect x="312.11" y="154.69" width="1.2" height="0.7" fill="#fff" opacity="0.3"/>
<rect x="320.88" y="160.37" width="1.2" height="0.7" fill="#fff" opacity="0.3"/>
<rect x="316.12" y="164.27" width="1.2" height="0.7" fill="#fff" opacity="0.3"/>
<rect x="312.28" y="151.04" width="1.2" height="0.7" fill="#fff" opacity="0.3"/>
<rect x="318.15" y="154.90" width="1.2" height="0.7" fill="#fff" opacity="0.3"/>
<rect x="316.27" y="152.50" width="1.2" height="0.7" fill="#fff" opacity="0.3"/>
<rect x="319.56" y="150.59" width="1.2" height="0.7" fill="#fff" opacity="0.3"/>
<rect x="319.11" y="155.69" width="1.2" height="0.7" fill="#fff" opacity="0.3"/>
<rect x="312.02" y="147.32" width="8.79" height="1.63" rx="0.5" fill="#68b2f4"/>
<rect x="315.48" y="145.98" width="1.89" height="1.63" rx="0.5" fill="#68b2f4"/>
<rect x="315.48" y="144.65" width="1.89" height="1.63" rx="0.5" fill="#68b2f4"/>
<circle cx="318.05" cy="147.71" r="0.5" fill="#68b2f4" opacity="0.8"/>
<circle cx="318.36" cy="147.69" r="0.5" fill="#68b2f4" opacity="0.8"/>
<line x1="316.42" y1="168.50" x2="316.42" y2="169.40" stroke="#888" stroke-width="0.3"/>
<text x="316.42" y="172.70" font-family="Liberation Sans" font-size="2.8" font-weight="normal" fill="#555" text-anchor="middle" >9</text>
<rect x="324.16" y="145.50" width="11.80" height="21.10" rx="0.6" fill="#b29ef4"/>
<rect x="326.40" y="160.70" width="1.2" height="0.7" fill="#fff" opacity="0.3"/>
<rect x="334.47" y="153.62" width="1.2" height="0.7" fill="#fff" opacity="0.3"/>
<rect x="332.25" y="149.50" width="1.2" height="0.7" fill="#fff" opacity="0.3"/>
<rect x="326.18" y="163.41" width="1.2" height="0.7" fill="#fff" opacity="0.3"/>
<rect x="330.63" y="157.31" width="1.2" height="0.7" fill="#fff" opacity="0.3"/>
<rect x="325.78" y="165.37" width="1.2" height="0.7" fill="#fff" opacity="0.3"/>
<rect x="324.97" y="163.33" width="1.2" height="0.7" fill="#fff" opacity="0.3"/>
<rect x="331.10" y="149.67" width="1.2" height="0.7" fill="#fff" opacity="0.3"/>
<rect x="330.39" y="153.11" width="1.2" height="0.7" fill="#fff" opacity="0.3"/>
<rect x="332.74" y="162.52" width="1.2" height="0.7" fill="#fff" opacity="0.3"/>
<rect x="333.74" y="161.31" width="1.2" height="0.7" fill="#fff" opacity="0.3"/>
<rect x="325.19" y="152.22" width="1.2" height="0.7" fill="#fff" opacity="0.3"/>
<rect x="327.13" y="160.28" width="1.2" height="0.7" fill="#fff" opacity="0.3"/>
<rect x="331.78" y="151.27" width="1.2" height="0.7" fill="#fff" opacity="0.3"/>
<rect x="335.05" y="148.61" width="1.2" height="0.7" fill="#fff" opacity="0.3"/>
<rect x="327.64" y="156.64" width="1.2" height="0.7" fill="#fff" opacity="0.3"/>
<rect x="335.04" y="152.58" width="1.2" height="0.7" fill="#fff" opacity="0.3"/>
<rect x="325.29" y="149.04" width="1.2" height="0.7" fill="#fff" opacity="0.3"/>
<rect x="333.63" y="157.29" width="1.2" height="0.7" fill="#fff" opacity="0.3"/>
<rect x="326.69" y="158.36" width="1.2" height="0.7" fill="#fff" opacity="0.3"/>
<rect x="334.66" y="157.20" width="1.2" height="0.7" fill="#fff" opacity="0.3"/>
<rect x="329.52" y="146.82" width="1.2" height="0.7" fill="#fff" opacity="0.3"/>
<rect x="331.73" y="146.73" width="1.2" height="0.7" fill="#fff" opacity="0.3"/>
<rect x="326.01" y="162.19" width="1.2" height="0.7" fill="#fff" opacity="0.3"/>
<rect x="333.00" y="153.90" width="1.2" height="0.7" fill="#fff" opacity="0.3"/>
<rect x="330.33" y="149.43" width="1.2" height="0.7" fill="#fff" opacity="0.3"/>
<rect x="330.95" y="154.55" width="1.2" height="0.7" fill="#fff" opacity="0.3"/>
<rect x="333.17" y="155.27" width="1.2" height="0.7" fill="#fff" opacity="0.3"/>
<rect x="330.17" y="163.42" width="1.2" height="0.7" fill="#fff" opacity="0.3"/>
<rect x="327.47" y="150.87" width="1.2" height="0.7" fill="#fff" opacity="0.3"/>
<rect x="331.37" y="156.21" width="1.2" height="0.7" fill="#fff" opacity="0.3"/>
<rect x="326.09" y="155.11" width="1.2" height="0.7" fill="#fff" opacity="0.3"/>
<rect x="329.57" y="158.00" width="1.2" height="0.7" fill="#fff" opacity="0.3"/>
<rect x="326.81" y="157.75" width="1.2" height="0.7" fill="#fff" opacity="0.3"/>
<rect x="330.84" y="155.11" width="1.2" height="0.7" fill="#fff" opacity="0.3"/>
<rect x="328.18" y="148.66" width="1.2" height="0.7" fill="#fff" opacity="0.3"/>
<rect x="332.57" y="148.66" width="1.2" height="0.7" fill="#fff" opacity="0.3"/>
<rect x="330.17" y="153.45" width="1.2" height="0.7" fill="#fff" opacity="0.3"/>
<rect x="332.79" y="161.08" width="1.2" height="0.7" fill="#fff" opacity="0.3"/>
<rect x="330.71" y="150.65" width="1.2" height="0.7" fill="#fff" opacity="0.3"/>
<rect x="328.92" y="148.05" width="1.2" height="0.7" fill="#fff" opacity="0.3"/>
<rect x="330.33" y="155.92" width="1.2" height="0.7" fill="#fff" opacity="0.3"/>
<rect x="331.39" y="154.63" width="1.2" height="0.7" fill="#fff" opacity="0.3"/>
<rect x="327.39" y="152.33" width="1.2" height="0.7" fill="#fff" opacity="0.3"/>
<rect x="327.36" y="163.26" width="1.2" height="0.7" fill="#fff" opacity="0.3"/>
<rect x="329.97" y="161.67" width="1.2" height="0.7" fill="#fff" opacity="0.3"/>
<rect x="326.51" y="155.15" width="1.2" height="0.7" fill="#fff" opacity="0.3"/>
<rect x="329.42" y="155.90" width="1.2" height="0.7" fill="#fff" opacity="0.3"/>
<rect x="329.86" y="164.93" width="1.2" height="0.7" fill="#fff" opacity="0.3"/>
<rect x="328.08" y="163.83" width="1.2" height="0.7" fill="#fff" opacity="0.3"/>
<rect x="335.05" y="162.70" width="1.2" height="0.7" fill="#fff" opacity="0.3"/>
<rect x="331.06" y="162.26" width="1.2" height="0.7" fill="#fff" opacity="0.3"/>
<rect x="330.16" y="163.51" width="1.2" height="0.7" fill="#fff" opacity="0.3"/>
<rect x="332.52" y="162.97" width="1.2" height="0.7" fill="#fff" opacity="0.3"/>
<rect x="327.23" y="157.87" width="1.2" height="0.7" fill="#fff" opacity="0.3"/>
<rect x="329.55" y="158.04" width="1.2" height="0.7" fill="#fff" opacity="0.3"/>
<rect x="327.90" y="152.64" width="1.2" height="0.7" fill="#fff" opacity="0.3"/>
<rect x="328.30" y="151.16" width="1.2" height="0.7" fill="#fff" opacity="0.3"/>
<rect x="328.53" y="165.59" width="1.2" height="0.7" fill="#fff" opacity="0.3"/>
<rect x="327.48" y="156.52" width="1.2" height="0.7" fill="#fff" opacity="0.3"/>
<rect x="332.88" y="159.30" width="1.2" height="0.7" fill="#fff" opacity="0.3"/>
<rect x="329.20" y="161.47" width="1.2" height="0.7" fill="#fff" opacity="0.3"/>
<rect x="327.77" y="163.98" width="1.2" height="0.7" fill="#fff" opacity="0.3"/>
<line x1="330.06" y1="168.50" x2="330.06" y2="169.40" stroke="#888" stroke-width="0.3"/>
<text x="330.06" y="172.70" font-family="Liberation Sans" font-size="2.8" font-weight="normal" fill="#555" text-anchor="middle" >10</text>
<rect x="337.80" y="148.10" width="11.80" height="17.40" rx="0.6" fill="#e888ec"/>
<rect x="344.04" y="157.84" width="1.2" height="0.7" fill="#fff" opacity="0.3"/>
<rect x="345.58" y="150.26" width="1.2" height="0.7" fill="#fff" opacity="0.3"/>
<rect x="342.09" y="161.27" width="1.2" height="0.7" fill="#fff" opacity="0.3"/>
<rect x="338.80" y="157.08" width="1.2" height="0.7" fill="#fff" opacity="0.3"/>
<rect x="346.49" y="152.95" width="1.2" height="0.7" fill="#fff" opacity="0.3"/>
<rect x="343.64" y="151.69" width="1.2" height="0.7" fill="#fff" opacity="0.3"/>
<rect x="348.65" y="159.53" width="1.2" height="0.7" fill="#fff" opacity="0.3"/>
<rect x="346.64" y="164.14" width="1.2" height="0.7" fill="#fff" opacity="0.3"/>
<rect x="347.65" y="158.68" width="1.2" height="0.7" fill="#fff" opacity="0.3"/>
<rect x="339.98" y="149.11" width="1.2" height="0.7" fill="#fff" opacity="0.3"/>
<rect x="345.33" y="150.06" width="1.2" height="0.7" fill="#fff" opacity="0.3"/>
<rect x="347.75" y="154.34" width="1.2" height="0.7" fill="#fff" opacity="0.3"/>
<rect x="346.52" y="156.87" width="1.2" height="0.7" fill="#fff" opacity="0.3"/>
<rect x="347.22" y="150.14" width="1.2" height="0.7" fill="#fff" opacity="0.3"/>
<rect x="340.80" y="163.83" width="1.2" height="0.7" fill="#fff" opacity="0.3"/>
<rect x="344.40" y="154.50" width="1.2" height="0.7" fill="#fff" opacity="0.3"/>
<rect x="346.98" y="155.26" width="1.2" height="0.7" fill="#fff" opacity="0.3"/>
<rect x="348.73" y="149.51" width="1.2" height="0.7" fill="#fff" opacity="0.3"/>
<rect x="347.23" y="151.14" width="1.2" height="0.7" fill="#fff" opacity="0.3"/>
<rect x="344.31" y="150.38" width="1.2" height="0.7" fill="#fff" opacity="0.3"/>
<rect x="339.53" y="163.11" width="1.2" height="0.7" fill="#fff" opacity="0.3"/>
<rect x="345.38" y="157.67" width="1.2" height="0.7" fill="#fff" opacity="0.3"/>
<rect x="344.53" y="150.58" width="1.2" height="0.7" fill="#fff" opacity="0.3"/>
<rect x="342.20" y="163.38" width="1.2" height="0.7" fill="#fff" opacity="0.3"/>
<rect x="346.10" y="160.25" width="1.2" height="0.7" fill="#fff" opacity="0.3"/>
<rect x="342.05" y="163.03" width="1.2" height="0.7" fill="#fff" opacity="0.3"/>
<rect x="342.94" y="162.93" width="1.2" height="0.7" fill="#fff" opacity="0.3"/>
<rect x="340.93" y="152.94" width="1.2" height="0.7" fill="#fff" opacity="0.3"/>
<rect x="344.80" y="158.27" width="1.2" height="0.7" fill="#fff" opacity="0.3"/>
<rect x="347.89" y="149.34" width="1.2" height="0.7" fill="#fff" opacity="0.3"/>
<rect x="342.12" y="163.08" width="1.2" height="0.7" fill="#fff" opacity="0.3"/>
<rect x="339.51" y="162.88" width="1.2" height="0.7" fill="#fff" opacity="0.3"/>
<rect x="340.04" y="156.12" width="1.2" height="0.7" fill="#fff" opacity="0.3"/>
<rect x="341.11" y="149.15" width="1.2" height="0.7" fill="#fff" opacity="0.3"/>
<rect x="346.64" y="151.56" width="1.2" height="0.7" fill="#fff" opacity="0.3"/>
<rect x="344.31" y="150.74" width="1.2" height="0.7" fill="#fff" opacity="0.3"/>
<rect x="347.32" y="163.46" width="1.2" height="0.7" fill="#fff" opacity="0.3"/>
<rect x="347.39" y="158.88" width="1.2" height="0.7" fill="#fff" opacity="0.3"/>
<rect x="347.28" y="161.39" width="1.2" height="0.7" fill="#fff" opacity="0.3"/>
<rect x="348.65" y="150.37" width="1.2" height="0.7" fill="#fff" opacity="0.3"/>
<rect x="339.54" y="161.65" width="1.2" height="0.7" fill="#fff" opacity="0.3"/>
<rect x="346.46" y="163.64" width="1.2" height="0.7" fill="#fff" opacity="0.3"/>
<rect x="344.40" y="163.45" width="1.2" height="0.7" fill="#fff" opacity="0.3"/>
<rect x="342.27" y="153.45" width="1.2" height="0.7" fill="#fff" opacity="0.3"/>
<rect x="342.70" y="155.94" width="1.2" height="0.7" fill="#fff" opacity="0.3"/>
<rect x="345.99" y="163.16" width="1.2" height="0.7" fill="#fff" opacity="0.3"/>
<rect x="339.44" y="155.62" width="1.2" height="0.7" fill="#fff" opacity="0.3"/>
<rect x="340.21" y="152.75" width="1.2" height="0.7" fill="#fff" opacity="0.3"/>
<rect x="338.97" y="155.22" width="1.2" height="0.7" fill="#fff" opacity="0.3"/>
<rect x="343.99" y="150.97" width="1.2" height="0.7" fill="#fff" opacity="0.3"/>
<rect x="348.36" y="153.28" width="1.2" height="0.7" fill="#fff" opacity="0.3"/>
<rect x="348.71" y="164.17" width="1.2" height="0.7" fill="#fff" opacity="0.3"/>
<rect x="338.78" y="146.75" width="9.84" height="1.50" rx="0.5" fill="#e888ec"/>
<rect x="338.99" y="145.55" width="9.43" height="1.50" rx="0.5" fill="#e888ec"/>
<rect x="341.60" y="144.35" width="4.19" height="1.50" rx="0.5" fill="#e888ec"/>
<rect x="342.37" y="143.15" width="2.66" height="1.50" rx="0.5" fill="#e888ec"/>
<rect x="342.12" y="141.95" width="3.16" height="1.50" rx="0.5" fill="#e888ec"/>
<rect x="342.21" y="140.75" width="2.98" height="1.50" rx="0.5" fill="#e888ec"/>
<rect x="342.10" y="139.55" width="3.20" height="1.50" rx="0.5" fill="#e888ec"/>
<rect x="342.71" y="138.35" width="1.97" height="1.50" rx="0.5" fill="#e888ec"/>
<rect x="343.17" y="137.15" width="1.05" height="1.50" rx="0.5" fill="#e888ec"/>
<rect x="343.35" y="135.95" width="0.71" height="1.50" rx="0.5" fill="#e888ec"/>
<rect x="342.76" y="134.75" width="1.89" height="1.50" rx="0.5" fill="#e888ec"/>
<rect x="343.29" y="133.55" width="0.82" height="1.50" rx="0.5" fill="#e888ec"/>
<circle cx="339.07" cy="135.86" r="0.5" fill="#e888ec" opacity="0.8"/>
<circle cx="345.17" cy="135.04" r="0.5" fill="#e888ec" opacity="0.8"/>
<circle cx="346.24" cy="145.30" r="0.5" fill="#e888ec" opacity="0.8"/>
<circle cx="341.88" cy="145.96" r="0.5" fill="#e888ec" opacity="0.8"/>
<circle cx="342.55" cy="138.12" r="0.5" fill="#e888ec" opacity="0.8"/>
<circle cx="342.19" cy="139.67" r="0.5" fill="#e888ec" opacity="0.8"/>
<circle cx="339.68" cy="142.47" r="0.5" fill="#e888ec" opacity="0.8"/>
<circle cx="344.22" cy="138.73" r="0.5" fill="#e888ec" opacity="0.8"/>
<line x1="343.70" y1="168.50" x2="343.70" y2="169.40" stroke="#888" stroke-width="0.3"/>
<text x="343.70" y="172.70" font-family="Liberation Sans" font-size="2.8" font-weight="normal" fill="#555" text-anchor="middle" >11</text>
<rect x="351.44" y="138.70" width="11.80" height="25.80" rx="0.6" fill="#f68ec6"/>
<rect x="361.84" y="161.41" width="1.2" height="0.7" fill="#fff" opacity="0.3"/>
<rect x="360.32" y="156.58" width="1.2" height="0.7" fill="#fff" opacity="0.3"/>
<rect x="362.13" y="142.17" width="1.2" height="0.7" fill="#fff" opacity="0.3"/>
<rect x="354.40" y="159.65" width="1.2" height="0.7" fill="#fff" opacity="0.3"/>
<rect x="355.01" y="156.47" width="1.2" height="0.7" fill="#fff" opacity="0.3"/>
<rect x="352.87" y="154.01" width="1.2" height="0.7" fill="#fff" opacity="0.3"/>
<rect x="353.78" y="141.19" width="1.2" height="0.7" fill="#fff" opacity="0.3"/>
<rect x="353.67" y="150.36" width="1.2" height="0.7" fill="#fff" opacity="0.3"/>
<rect x="353.98" y="155.90" width="1.2" height="0.7" fill="#fff" opacity="0.3"/>
<rect x="361.64" y="156.03" width="1.2" height="0.7" fill="#fff" opacity="0.3"/>
<rect x="357.11" y="143.55" width="1.2" height="0.7" fill="#fff" opacity="0.3"/>
<rect x="355.04" y="150.44" width="1.2" height="0.7" fill="#fff" opacity="0.3"/>
<rect x="361.68" y="154.26" width="1.2" height="0.7" fill="#fff" opacity="0.3"/>
<rect x="355.40" y="139.77" width="1.2" height="0.7" fill="#fff" opacity="0.3"/>
<rect x="356.42" y="147.55" width="1.2" height="0.7" fill="#fff" opacity="0.3"/>
<rect x="359.95" y="159.68" width="1.2" height="0.7" fill="#fff" opacity="0.3"/>
<rect x="356.30" y="153.36" width="1.2" height="0.7" fill="#fff" opacity="0.3"/>
<rect x="358.41" y="142.70" width="1.2" height="0.7" fill="#fff" opacity="0.3"/>
<rect x="360.47" y="162.26" width="1.2" height="0.7" fill="#fff" opacity="0.3"/>
<rect x="359.90" y="140.22" width="1.2" height="0.7" fill="#fff" opacity="0.3"/>
<rect x="353.39" y="150.41" width="1.2" height="0.7" fill="#fff" opacity="0.3"/>
<rect x="358.37" y="153.65" width="1.2" height="0.7" fill="#fff" opacity="0.3"/>
<rect x="354.62" y="153.24" width="1.2" height="0.7" fill="#fff" opacity="0.3"/>
<rect x="354.61" y="140.56" width="1.2" height="0.7" fill="#fff" opacity="0.3"/>
<rect x="355.32" y="148.65" width="1.2" height="0.7" fill="#fff" opacity="0.3"/>
<rect x="357.52" y="147.13" width="1.2" height="0.7" fill="#fff" opacity="0.3"/>
<rect x="355.04" y="145.39" width="1.2" height="0.7" fill="#fff" opacity="0.3"/>
<rect x="358.07" y="162.34" width="1.2" height="0.7" fill="#fff" opacity="0.3"/>
<rect x="358.61" y="153.71" width="1.2" height="0.7" fill="#fff" opacity="0.3"/>
<rect x="356.13" y="149.96" width="1.2" height="0.7" fill="#fff" opacity="0.3"/>
<rect x="361.49" y="149.59" width="1.2" height="0.7" fill="#fff" opacity="0.3"/>
<rect x="357.58" y="155.42" width="1.2" height="0.7" fill="#fff" opacity="0.3"/>
<rect x="353.87" y="142.00" width="1.2" height="0.7" fill="#fff" opacity="0.3"/>
<rect x="358.98" y="149.18" width="1.2" height="0.7" fill="#fff" opacity="0.3"/>
<rect x="361.19" y="146.94" width="1.2" height="0.7" fill="#fff" opacity="0.3"/>
<rect x="352.25" y="142.94" width="1.2" height="0.7" fill="#fff" opacity="0.3"/>
<rect x="360.57" y="148.71" width="1.2" height="0.7" fill="#fff" opacity="0.3"/>
<rect x="356.32" y="159.84" width="1.2" height="0.7" fill="#fff" opacity="0.3"/>
<rect x="354.05" y="147.94" width="1.2" height="0.7" fill="#fff" opacity="0.3"/>
<rect x="356.65" y="154.39" width="1.2" height="0.7" fill="#fff" opacity="0.3"/>
<rect x="355.34" y="160.19" width="1.2" height="0.7" fill="#fff" opacity="0.3"/>
<rect x="354.04" y="140.88" width="1.2" height="0.7" fill="#fff" opacity="0.3"/>
<rect x="354.68" y="155.84" width="1.2" height="0.7" fill="#fff" opacity="0.3"/>
<rect x="357.73" y="146.81" width="1.2" height="0.7" fill="#fff" opacity="0.3"/>
<rect x="352.59" y="162.77" width="1.2" height="0.7" fill="#fff" opacity="0.3"/>
<rect x="357.65" y="146.45" width="1.2" height="0.7" fill="#fff" opacity="0.3"/>
<rect x="354.84" y="160.08" width="1.2" height="0.7" fill="#fff" opacity="0.3"/>
<rect x="357.70" y="162.17" width="1.2" height="0.7" fill="#fff" opacity="0.3"/>
<rect x="361.49" y="152.47" width="1.2" height="0.7" fill="#fff" opacity="0.3"/>
<rect x="356.47" y="150.28" width="1.2" height="0.7" fill="#fff" opacity="0.3"/>
<rect x="354.70" y="159.15" width="1.2" height="0.7" fill="#fff" opacity="0.3"/>
<rect x="361.91" y="159.22" width="1.2" height="0.7" fill="#fff" opacity="0.3"/>
<rect x="360.81" y="159.57" width="1.2" height="0.7" fill="#fff" opacity="0.3"/>
<rect x="352.60" y="155.11" width="1.2" height="0.7" fill="#fff" opacity="0.3"/>
<rect x="362.13" y="144.17" width="1.2" height="0.7" fill="#fff" opacity="0.3"/>
<rect x="354.14" y="144.16" width="1.2" height="0.7" fill="#fff" opacity="0.3"/>
<rect x="361.30" y="154.16" width="1.2" height="0.7" fill="#fff" opacity="0.3"/>
<rect x="353.67" y="156.29" width="1.2" height="0.7" fill="#fff" opacity="0.3"/>
<rect x="352.97" y="159.16" width="1.2" height="0.7" fill="#fff" opacity="0.3"/>
<rect x="352.74" y="163.33" width="1.2" height="0.7" fill="#fff" opacity="0.3"/>
<rect x="359.83" y="157.97" width="1.2" height="0.7" fill="#fff" opacity="0.3"/>
<rect x="356.78" y="144.29" width="1.2" height="0.7" fill="#fff" opacity="0.3"/>
<rect x="357.76" y="161.80" width="1.2" height="0.7" fill="#fff" opacity="0.3"/>
<rect x="352.73" y="158.79" width="1.2" height="0.7" fill="#fff" opacity="0.3"/>
<rect x="357.22" y="152.91" width="1.2" height="0.7" fill="#fff" opacity="0.3"/>
<rect x="354.26" y="146.35" width="1.2" height="0.7" fill="#fff" opacity="0.3"/>
<rect x="355.13" y="160.58" width="1.2" height="0.7" fill="#fff" opacity="0.3"/>
<rect x="360.04" y="156.09" width="1.2" height="0.7" fill="#fff" opacity="0.3"/>
<rect x="359.15" y="147.09" width="1.2" height="0.7" fill="#fff" opacity="0.3"/>
<rect x="360.79" y="157.67" width="1.2" height="0.7" fill="#fff" opacity="0.3"/>
<rect x="353.59" y="145.80" width="1.2" height="0.7" fill="#fff" opacity="0.3"/>
<rect x="357.43" y="153.26" width="1.2" height="0.7" fill="#fff" opacity="0.3"/>
<rect x="356.03" y="155.80" width="1.2" height="0.7" fill="#fff" opacity="0.3"/>
<rect x="358.37" y="147.15" width="1.2" height="0.7" fill="#fff" opacity="0.3"/>
<rect x="354.28" y="154.86" width="1.2" height="0.7" fill="#fff" opacity="0.3"/>
<rect x="354.92" y="159.20" width="1.2" height="0.7" fill="#fff" opacity="0.3"/>
<rect x="361.12" y="158.88" width="1.2" height="0.7" fill="#fff" opacity="0.3"/>
<rect x="355.25" y="137.27" width="4.18" height="1.58" rx="0.5" fill="#f68ec6"/>
<rect x="354.61" y="135.99" width="5.45" height="1.58" rx="0.5" fill="#f68ec6"/>
<rect x="354.52" y="134.70" width="5.64" height="1.58" rx="0.5" fill="#f68ec6"/>
<rect x="356.31" y="133.42" width="2.07" height="1.58" rx="0.5" fill="#f68ec6"/>
<rect x="353.50" y="132.14" width="7.68" height="1.58" rx="0.5" fill="#f68ec6"/>
<rect x="354.16" y="130.86" width="6.36" height="1.58" rx="0.5" fill="#f68ec6"/>
<rect x="353.83" y="129.57" width="7.02" height="1.58" rx="0.5" fill="#f68ec6"/>
<rect x="355.57" y="128.29" width="3.53" height="1.58" rx="0.5" fill="#f68ec6"/>
<rect x="354.72" y="127.01" width="5.24" height="1.58" rx="0.5" fill="#f68ec6"/>
<rect x="356.42" y="125.73" width="1.85" height="1.58" rx="0.5" fill="#f68ec6"/>
<rect x="356.56" y="124.44" width="1.56" height="1.58" rx="0.5" fill="#f68ec6"/>
<rect x="356.79" y="123.16" width="1.10" height="1.58" rx="0.5" fill="#f68ec6"/>
<rect x="356.06" y="121.88" width="2.57" height="1.58" rx="0.5" fill="#f68ec6"/>
<rect x="356.79" y="120.60" width="1.09" height="1.58" rx="0.5" fill="#f68ec6"/>
<rect x="356.40" y="119.31" width="1.89" height="1.58" rx="0.5" fill="#f68ec6"/>
<rect x="356.40" y="118.03" width="1.89" height="1.58" rx="0.5" fill="#f68ec6"/>
<rect x="356.82" y="116.75" width="1.03" height="1.58" rx="0.5" fill="#f68ec6"/>
<circle cx="356.72" cy="119.13" r="0.5" fill="#f68ec6" opacity="0.8"/>
<circle cx="358.89" cy="135.72" r="0.5" fill="#f68ec6" opacity="0.8"/>
<circle cx="354.27" cy="128.83" r="0.5" fill="#f68ec6" opacity="0.8"/>
<circle cx="357.13" cy="137.68" r="0.5" fill="#f68ec6" opacity="0.8"/>
<circle cx="361.89" cy="128.74" r="0.5" fill="#f68ec6" opacity="0.8"/>
<circle cx="358.94" cy="137.39" r="0.5" fill="#f68ec6" opacity="0.8"/>
<circle cx="359.58" cy="131.10" r="0.5" fill="#f68ec6" opacity="0.8"/>
<circle cx="353.86" cy="136.02" r="0.5" fill="#f68ec6" opacity="0.8"/>
<circle cx="357.56" cy="129.82" r="0.5" fill="#f68ec6" opacity="0.8"/>
<circle cx="354.28" cy="134.78" r="0.5" fill="#f68ec6" opacity="0.8"/>
<circle cx="360.60" cy="121.61" r="0.5" fill="#f68ec6" opacity="0.8"/>
<circle cx="361.93" cy="129.68" r="0.5" fill="#f68ec6" opacity="0.8"/>
<circle cx="360.61" cy="122.53" r="0.5" fill="#f68ec6" opacity="0.8"/>
<line x1="357.34" y1="168.50" x2="357.34" y2="169.40" stroke="#888" stroke-width="0.3"/>
<text x="357.34" y="172.70" font-family="Liberation Sans" font-size="2.8" font-weight="normal" fill="#555" text-anchor="middle" >12</text>
<text x="281.60" y="176.90" font-family="Liberation Sans" font-size="3.4" font-weight="normal" fill="#555" text-anchor="middle" >Date (T)</text>
<text x="242.20" y="112.80" font-family="Liberation Sans" font-size="6.6" font-weight="normal" fill="#262626" text-anchor="start" textLength="94.20" lengthAdjust="spacingAndGlyphs" stroke="#262626" stroke-width="0.14">High polluted city, Beijing, 2020</text>
<rect x="380.40" y="25.60" width="156.50" height="63.70" fill="none" stroke="#9a9a9a" stroke-width="0.5"/>
<line x1="379.40" y1="87.10" x2="380.40" y2="87.10" stroke="#666" stroke-width="0.3"/>
<text x="378.90" y="88.00" font-family="Liberation Sans" font-size="2.6" font-weight="normal" fill="#444" text-anchor="end" >0</text>
<line x1="379.40" y1="79.88" x2="380.40" y2="79.88" stroke="#666" stroke-width="0.3"/>
<text x="378.90" y="80.78" font-family="Liberation Sans" font-size="2.6" font-weight="normal" fill="#444" text-anchor="end" >25</text>
<line x1="379.40" y1="72.65" x2="380.40" y2="72.65" stroke="#666" stroke-width="0.3"/>
<text x="378.90" y="73.55" font-family="Liberation Sans" font-size="2.6" font-weight="normal" fill="#444" text-anchor="end" >50</text>
<line x1="379.40" y1="65.42" x2="380.40" y2="65.42" stroke="#666" stroke-width="0.3"/>
<text x="378.90" y="66.33" font-family="Liberation Sans" font-size="2.6" font-weight="normal" fill="#444" text-anchor="end" >75</text>
<line x1="379.40" y1="58.20" x2="380.40" y2="58.20" stroke="#666" stroke-width="0.3"/>
<text x="378.90" y="59.10" font-family="Liberation Sans" font-size="2.6" font-weight="normal" fill="#444" text-anchor="end" >100</text>
<line x1="379.40" y1="50.97" x2="380.40" y2="50.97" stroke="#666" stroke-width="0.3"/>
<text x="378.90" y="51.87" font-family="Liberation Sans" font-size="2.6" font-weight="normal" fill="#444" text-anchor="end" >125</text>
<line x1="379.40" y1="43.75" x2="380.40" y2="43.75" stroke="#666" stroke-width="0.3"/>
<text x="378.90" y="44.65" font-family="Liberation Sans" font-size="2.6" font-weight="normal" fill="#444" text-anchor="end" >150</text>
<line x1="379.40" y1="36.52" x2="380.40" y2="36.52" stroke="#666" stroke-width="0.3"/>
<text x="378.90" y="37.42" font-family="Liberation Sans" font-size="2.6" font-weight="normal" fill="#444" text-anchor="end" >175</text>
<line x1="379.40" y1="29.30" x2="380.40" y2="29.30" stroke="#666" stroke-width="0.3"/>
<text x="378.90" y="30.20" font-family="Liberation Sans" font-size="2.6" font-weight="normal" fill="#444" text-anchor="end" >200</text>
<text x="0" y="0" font-family="Liberation Sans" font-size="3.9" fill="#555" text-anchor="middle" transform="translate(370.60,57.45) rotate(-90)">Concentration, ug/m³</text>
<line x1="388.00" y1="89.30" x2="388.00" y2="90.30" stroke="#666" stroke-width="0.3"/>
<text x="388.00" y="94.30" font-family="Liberation Sans" font-size="3.0" font-weight="normal" fill="#555" text-anchor="middle" >2019-01</text>
<line x1="411.47" y1="89.30" x2="411.47" y2="90.30" stroke="#666" stroke-width="0.3"/>
<text x="411.47" y="94.30" font-family="Liberation Sans" font-size="3.0" font-weight="normal" fill="#555" text-anchor="middle" >2019-03</text>
<line x1="434.93" y1="89.30" x2="434.93" y2="90.30" stroke="#666" stroke-width="0.3"/>
<text x="434.93" y="94.30" font-family="Liberation Sans" font-size="3.0" font-weight="normal" fill="#555" text-anchor="middle" >2019-05</text>
<line x1="458.40" y1="89.30" x2="458.40" y2="90.30" stroke="#666" stroke-width="0.3"/>
<text x="458.40" y="94.30" font-family="Liberation Sans" font-size="3.0" font-weight="normal" fill="#555" text-anchor="middle" >2019-07</text>
<line x1="481.87" y1="89.30" x2="481.87" y2="90.30" stroke="#666" stroke-width="0.3"/>
<text x="481.87" y="94.30" font-family="Liberation Sans" font-size="3.0" font-weight="normal" fill="#555" text-anchor="middle" >2019-09</text>
<line x1="505.33" y1="89.30" x2="505.33" y2="90.30" stroke="#666" stroke-width="0.3"/>
<text x="505.33" y="94.30" font-family="Liberation Sans" font-size="3.0" font-weight="normal" fill="#555" text-anchor="middle" >2019-11</text>
<line x1="528.80" y1="89.30" x2="528.80" y2="90.30" stroke="#666" stroke-width="0.3"/>
<text x="528.80" y="94.30" font-family="Liberation Sans" font-size="3.0" font-weight="normal" fill="#555" text-anchor="middle" >2020-01</text>
<text x="458.65" y="98.10" font-family="Liberation Sans" font-size="3.0" font-weight="normal" fill="#555" text-anchor="middle" >Date</text>
<path d="M388.00,50.69 L388.39,74.36 L388.77,79.55 L389.16,76.35 L389.54,60.83 L389.93,46.24 L390.31,28.72 L390.70,66.67 L391.09,81.41 L391.47,80.42 L391.86,80.10 L392.24,77.78 L392.63,78.18 L393.01,85.21 L393.40,78.68 L393.79,74.91 L394.17,67.63 L394.56,82.03 L394.94,80.31 L395.33,77.32 L395.72,75.18 L396.10,72.79 L396.49,64.85 L396.87,55.31 L397.26,73.31 L397.64,67.92 L398.03,64.24 L398.42,54.44 L398.80,75.67 L399.19,78.19 L399.57,76.72 L399.96,72.47 L400.34,84.48 L400.73,82.39 L401.12,81.03 L401.50,80.00 L401.89,79.11 L402.27,78.52 L402.66,76.87 L403.04,79.71 L403.43,77.01 L403.82,73.21 L404.20,71.61 L404.59,65.09 L404.97,66.81 L405.36,55.54 L405.74,42.02 L406.13,66.10 L406.52,61.47 L406.90,64.03 L407.29,79.75 L407.67,74.32 L408.06,62.52 L408.44,48.87 L408.83,32.48 L409.22,67.98 L409.60,81.66 L409.99,79.91 L410.37,79.59 L410.76,77.28 L411.15,76.29 L411.53,72.40 L411.92,64.24 L412.30,54.44 L412.69,73.48 L413.07,75.12 L413.46,65.52 L413.85,80.00 L414.23,77.32 L414.62,70.71 L415.00,61.61 L415.39,50.69 L415.77,74.36 L416.16,71.87 L416.55,68.36 L416.93,62.02 L417.32,80.32 L417.70,75.73 L418.09,71.57 L418.47,72.17 L418.86,65.87 L419.25,66.67 L419.63,82.31 L420.02,81.28 L420.40,73.44 L420.79,65.86 L421.17,56.75 L421.56,76.48 L421.95,79.55 L422.33,78.38 L422.72,76.22 L423.10,75.11 L423.49,71.90 L423.88,82.45 L424.26,75.63 L424.65,68.98 L425.03,74.09 L425.42,66.87 L425.80,58.20 L426.19,69.20 L426.58,85.03 L426.96,73.31 L427.35,65.66 L427.73,56.47 L428.12,71.24 L428.50,69.04 L428.89,62.85 L429.28,66.87 L429.66,58.20 L430.05,70.97 L430.43,70.20 L430.82,73.57 L431.20,66.06 L431.59,57.04 L431.98,68.62 L432.36,58.97 L432.75,79.13 L433.13,75.13 L433.52,70.83 L433.90,67.84 L434.29,65.77 L434.68,74.09 L435.06,66.87 L435.45,58.20 L435.83,69.60 L436.22,67.17 L436.60,63.26 L436.99,79.59 L437.38,76.68 L437.76,73.61 L438.15,68.49 L438.53,60.51 L438.92,77.59 L439.31,75.60 L439.69,84.65 L440.08,82.33 L440.46,81.54 L440.85,80.53 L441.23,80.00 L441.62,77.97 L442.01,76.41 L442.39,83.91 L442.78,81.58 L443.16,80.51 L443.55,77.35 L443.93,71.93 L444.32,65.42 L444.71,79.51 L445.09,81.30 L445.48,78.68 L445.86,77.36 L446.25,73.23 L446.63,84.73 L447.02,78.00 L447.41,72.94 L447.79,66.87 L448.18,80.02 L448.56,79.69 L448.95,77.66 L449.33,74.74 L449.72,72.81 L450.11,81.92 L450.49,80.67 L450.88,79.50 L451.26,78.86 L451.65,77.12 L452.04,76.96 L452.42,81.91 L452.81,80.98 L453.19,79.08 L453.58,77.66 L453.96,75.37 L454.35,70.34 L454.74,79.43 L455.12,77.24 L455.51,82.05 L455.89,82.15 L456.28,81.67 L456.66,81.08 L457.05,80.31 L457.44,79.49 L457.82,85.09 L458.21,81.13 L458.59,78.30 L458.98,76.98 L459.36,74.68 L459.75,81.71 L460.14,79.83 L460.52,79.32 L460.91,76.58 L461.29,72.07 L461.68,81.84 L462.06,81.08 L462.45,78.37 L462.84,76.97 L463.22,81.36 L463.61,79.30 L463.99,82.97 L464.38,81.20 L464.76,79.21 L465.15,77.24 L465.54,72.86 L465.92,71.02 L466.31,79.45 L466.69,76.41 L467.08,84.11 L467.47,81.88 L467.85,80.90 L468.24,79.60 L468.62,79.77 L469.01,81.74 L469.39,79.81 L469.78,78.38 L470.17,76.81 L470.55,75.41 L470.94,71.14 L471.32,83.58 L471.71,79.95 L472.09,75.97 L472.48,71.20 L472.87,81.54 L473.25,80.80 L473.64,79.86 L474.02,81.20 L474.41,78.78 L474.79,76.91 L475.18,73.54 L475.57,80.49 L475.95,77.57 L476.34,76.18 L476.72,70.90 L477.11,76.28 L477.49,69.22 L477.88,77.12 L478.27,70.95 L478.65,82.46 L479.04,81.63 L479.42,81.08 L479.81,79.97 L480.20,79.04 L480.58,74.56 L480.97,69.18 L481.35,80.83 L481.74,79.95 L482.12,78.37 L482.51,83.94 L482.90,80.97 L483.28,78.35 L483.67,76.64 L484.05,72.19 L484.44,81.02 L484.82,79.22 L485.21,75.26 L485.60,74.03 L485.98,72.22 L486.37,74.96 L486.75,69.76 L487.14,78.98 L487.52,81.01 L487.91,78.30 L488.30,75.97 L488.68,73.17 L489.07,82.77 L489.45,81.96 L489.84,81.45 L490.22,79.82 L490.61,75.77 L491.00,70.92 L491.38,81.44 L491.77,81.80 L492.15,80.99 L492.54,80.43 L492.92,79.86 L493.31,79.44 L493.70,82.15 L494.08,77.80 L494.47,72.80 L494.85,66.94 L495.24,61.50 L495.63,81.56 L496.01,79.28 L496.40,78.47 L496.78,80.84 L497.17,77.17 L497.55,74.98 L497.94,73.16 L498.33,70.30 L498.71,64.60 L499.10,70.19 L499.48,60.80 L499.87,49.53 L500.25,72.07 L500.64,65.25 L501.03,83.13 L501.41,80.19 L501.80,75.59 L502.18,75.91 L502.57,64.58 L502.95,84.35 L503.34,75.65 L503.73,70.04 L504.11,84.39 L504.50,77.04 L504.88,69.51 L505.27,62.40 L505.65,83.71 L506.04,80.35 L506.43,76.46 L506.81,73.52 L507.20,70.56 L507.58,66.88 L507.97,68.89 L508.36,61.09 L508.74,78.00 L509.13,78.82 L509.51,77.37 L509.90,76.11 L510.28,83.38 L510.67,77.59 L511.06,75.45 L511.44,84.39 L511.83,76.28 L512.21,70.69 L512.60,69.02 L512.98,58.98 L513.37,46.93 L513.76,73.04 L514.14,72.28 L514.53,69.57 L514.91,69.02 L515.30,83.55 L515.68,81.55 L516.07,79.64 L516.46,77.86 L516.84,74.88 L517.23,75.52 L517.61,80.13 L518.00,77.38 L518.38,74.28 L518.77,68.72 L519.16,65.30 L519.54,63.82 L519.93,50.89 L520.31,35.37 L520.70,68.99 L521.08,74.23 L521.47,70.93 L521.86,67.71 L522.24,82.14 L522.63,78.28 L523.01,73.20 L523.40,81.21 L523.79,77.83 L524.17,74.62 L524.56,73.73 L524.94,82.70 L525.33,80.42 L525.71,76.73 L526.10,74.41 L526.49,70.39 L526.87,68.42 L527.26,73.70 L527.64,66.26 L528.03,57.33 L528.41,76.68 L528.80,79.43" fill="none" stroke="#4a4aae" stroke-width="0.9" stroke-linejoin="round" opacity="0.8"/>
<rect x="510.70" y="27.40" width="21.90" height="5.60" fill="#fff" fill-opacity="0.8" stroke="#eeeeee" stroke-width="0.3"/>
<line x1="512.40" y1="30.20" x2="518.20" y2="30.20" stroke="#6a6ac8" stroke-width="0.7"/>
<text x="520.70" y="31.30" font-family="Liberation Sans" font-size="3.2" font-weight="normal" fill="#555" text-anchor="start" textLength="13.00" lengthAdjust="spacingAndGlyphs" >Raw Conc.</text>
<text x="413.60" y="40.20" font-family="Liberation Sans" font-size="6.6" font-weight="normal" fill="#262626" text-anchor="start" textLength="102.00" lengthAdjust="spacingAndGlyphs" stroke="#262626" stroke-width="0.14">Daily average PM2.5, Beijing, 2019</text>
<rect x="380.50" y="101.90" width="157.10" height="66.10" fill="none" stroke="#9a9a9a" stroke-width="0.5"/>
<line x1="379.50" y1="165.80" x2="380.50" y2="165.80" stroke="#666" stroke-width="0.3"/>
<text x="379.00" y="166.70" font-family="Liberation Sans" font-size="2.6" font-weight="normal" fill="#444" text-anchor="end" >0</text>
<line x1="379.50" y1="151.83" x2="380.50" y2="151.83" stroke="#666" stroke-width="0.3"/>
<text x="379.00" y="152.73" font-family="Liberation Sans" font-size="2.6" font-weight="normal" fill="#444" text-anchor="end" >50</text>
<line x1="379.50" y1="137.85" x2="380.50" y2="137.85" stroke="#666" stroke-width="0.3"/>
<text x="379.00" y="138.75" font-family="Liberation Sans" font-size="2.6" font-weight="normal" fill="#444" text-anchor="end" >100</text>
<line x1="379.50" y1="123.88" x2="380.50" y2="123.88" stroke="#666" stroke-width="0.3"/>
<text x="379.00" y="124.78" font-family="Liberation Sans" font-size="2.6" font-weight="normal" fill="#444" text-anchor="end" >150</text>
<line x1="379.50" y1="109.90" x2="380.50" y2="109.90" stroke="#666" stroke-width="0.3"/>
<text x="379.00" y="110.80" font-family="Liberation Sans" font-size="2.6" font-weight="normal" fill="#444" text-anchor="end" >200</text>
<text x="0" y="0" font-family="Liberation Sans" font-size="3.9" fill="#555" text-anchor="middle" transform="translate(370.70,134.95) rotate(-90)">Concentration, ug/m³</text>
<line x1="387.40" y1="168.00" x2="387.40" y2="169.00" stroke="#666" stroke-width="0.3"/>
<text x="387.40" y="173.00" font-family="Liberation Sans" font-size="3.0" font-weight="normal" fill="#555" text-anchor="middle" >2020-01</text>
<line x1="411.05" y1="168.00" x2="411.05" y2="169.00" stroke="#666" stroke-width="0.3"/>
<text x="411.05" y="173.00" font-family="Liberation Sans" font-size="3.0" font-weight="normal" fill="#555" text-anchor="middle" >2020-03</text>
<line x1="434.70" y1="168.00" x2="434.70" y2="169.00" stroke="#666" stroke-width="0.3"/>
<text x="434.70" y="173.00" font-family="Liberation Sans" font-size="3.0" font-weight="normal" fill="#555" text-anchor="middle" >2020-05</text>
<line x1="458.35" y1="168.00" x2="458.35" y2="169.00" stroke="#666" stroke-width="0.3"/>
<text x="458.35" y="173.00" font-family="Liberation Sans" font-size="3.0" font-weight="normal" fill="#555" text-anchor="middle" >2020-07</text>
<line x1="482.00" y1="168.00" x2="482.00" y2="169.00" stroke="#666" stroke-width="0.3"/>
<text x="482.00" y="173.00" font-family="Liberation Sans" font-size="3.0" font-weight="normal" fill="#555" text-anchor="middle" >2020-09</text>
<line x1="505.65" y1="168.00" x2="505.65" y2="169.00" stroke="#666" stroke-width="0.3"/>
<text x="505.65" y="173.00" font-family="Liberation Sans" font-size="3.0" font-weight="normal" fill="#555" text-anchor="middle" >2020-11</text>
<line x1="529.30" y1="168.00" x2="529.30" y2="169.00" stroke="#666" stroke-width="0.3"/>
<text x="529.30" y="173.00" font-family="Liberation Sans" font-size="3.0" font-weight="normal" fill="#555" text-anchor="middle" >2021-01</text>
<text x="459.05" y="176.80" font-family="Liberation Sans" font-size="3.0" font-weight="normal" fill="#555" text-anchor="middle" >Date</text>
<path d="M387.40,150.43 L387.79,153.67 L388.18,148.47 L388.57,159.73 L388.96,160.21 L389.34,158.77 L389.73,155.75 L390.12,154.55 L390.51,153.96 L390.90,150.58 L391.29,161.51 L391.68,158.03 L392.07,153.46 L392.45,147.94 L392.84,138.02 L393.23,126.11 L393.62,151.91 L394.01,154.87 L394.40,153.03 L394.79,159.58 L395.18,157.33 L395.56,154.43 L395.95,152.20 L396.34,143.29 L396.73,130.78 L397.12,115.77 L397.51,148.29 L397.90,155.64 L398.29,151.67 L398.67,148.69 L399.06,162.48 L399.45,159.28 L399.84,156.16 L400.23,154.34 L400.62,161.16 L401.01,159.40 L401.40,156.06 L401.78,152.49 L402.17,139.39 L402.56,124.71 L402.95,107.11 L403.34,145.26 L403.73,156.49 L404.12,154.56 L404.51,160.07 L404.89,158.87 L405.28,157.03 L405.67,155.89 L406.06,161.96 L406.45,156.89 L406.84,153.47 L407.23,148.53 L407.62,142.58 L408.00,147.60 L408.39,139.81 L408.78,156.70 L409.17,153.79 L409.56,148.78 L409.95,141.48 L410.34,157.29 L410.73,155.82 L411.11,154.65 L411.50,152.09 L411.89,157.47 L412.28,151.48 L412.67,154.10 L413.06,147.60 L413.45,139.81 L413.84,156.70 L414.22,160.23 L414.61,159.33 L415.00,157.95 L415.39,155.52 L415.78,156.06 L416.17,154.81 L416.56,159.81 L416.95,158.25 L417.34,156.37 L417.72,154.90 L418.11,160.18 L418.50,150.33 L418.89,141.74 L419.28,131.42 L419.67,153.77 L420.06,157.57 L420.45,162.98 L420.83,160.12 L421.22,158.27 L421.61,157.45 L422.00,155.11 L422.39,162.85 L422.78,155.83 L423.17,149.69 L423.56,142.73 L423.94,160.48 L424.33,158.90 L424.72,156.21 L425.11,153.66 L425.50,149.25 L425.89,146.14 L426.28,143.93 L426.67,162.34 L427.05,158.39 L427.44,156.32 L427.83,153.45 L428.22,152.45 L428.61,141.76 L429.00,159.80 L429.39,158.96 L429.78,157.45 L430.16,155.46 L430.55,154.47 L430.94,159.37 L431.33,155.38 L431.72,153.24 L432.11,152.85 L432.50,146.41 L432.89,141.74 L433.27,131.42 L433.66,153.77 L434.05,154.03 L434.44,160.90 L434.83,159.27 L435.22,154.10 L435.61,147.60 L436.00,139.81 L436.38,150.09 L436.77,147.15 L437.16,160.30 L437.55,159.18 L437.94,157.66 L438.33,153.35 L438.72,146.43 L439.11,138.13 L439.49,156.12 L439.88,159.67 L440.27,159.13 L440.66,158.08 L441.05,157.33 L441.44,156.20 L441.83,161.50 L442.22,158.13 L442.60,154.61 L442.99,152.00 L443.38,160.08 L443.77,159.44 L444.16,156.95 L444.55,156.32 L444.94,153.14 L445.33,154.91 L445.72,150.71 L446.10,163.49 L446.49,160.93 L446.88,160.31 L447.27,159.45 L447.66,158.18 L448.05,157.60 L448.44,156.44 L448.83,158.26 L449.21,154.43 L449.60,151.24 L449.99,151.38 L450.38,144.09 L450.77,161.47 L451.16,159.67 L451.55,156.96 L451.94,154.57 L452.32,158.09 L452.71,156.15 L453.10,152.43 L453.49,146.55 L453.88,144.19 L454.27,162.16 L454.66,158.35 L455.05,154.56 L455.43,162.79 L455.82,159.45 L456.21,158.31 L456.60,155.46 L456.99,153.63 L457.38,151.31 L457.77,150.68 L458.16,162.54 L458.54,159.21 L458.93,156.82 L459.32,154.51 L459.71,152.62 L460.10,160.95 L460.49,160.41 L460.88,158.89 L461.27,157.12 L461.65,155.96 L462.04,153.74 L462.43,152.54 L462.82,157.52 L463.21,152.56 L463.60,151.35 L463.99,143.72 L464.38,156.62 L464.76,149.48 L465.15,141.66 L465.54,162.61 L465.93,159.99 L466.32,159.39 L466.71,158.78 L467.10,157.38 L467.49,157.03 L467.87,158.96 L468.26,156.47 L468.65,154.42 L469.04,152.64 L469.43,151.31 L469.82,147.05 L470.21,157.19 L470.60,152.75 L470.98,151.11 L471.37,163.43 L471.76,159.62 L472.15,157.61 L472.54,155.06 L472.93,153.13 L473.32,152.19 L473.71,150.36 L474.10,161.55 L474.48,160.48 L474.87,159.41 L475.26,157.57 L475.65,157.40 L476.04,156.44 L476.43,159.48 L476.82,157.75 L477.21,155.95 L477.59,155.58 L477.98,152.72 L478.37,150.76 L478.76,160.39 L479.15,159.17 L479.54,157.11 L479.93,156.48 L480.32,156.23 L480.70,154.02 L481.09,160.48 L481.48,159.65 L481.87,158.65 L482.26,157.35 L482.65,160.68 L483.04,159.39 L483.43,158.42 L483.81,157.51 L484.20,156.22 L484.59,156.39 L484.98,157.25 L485.37,153.48 L485.76,162.72 L486.15,158.76 L486.54,155.24 L486.92,151.11 L487.31,148.94 L487.70,160.62 L488.09,158.29 L488.48,153.83 L488.87,153.47 L489.26,149.18 L489.65,142.97 L490.03,157.39 L490.42,153.94 L490.81,149.51 L491.20,149.69 L491.59,161.26 L491.98,159.31 L492.37,157.99 L492.76,156.46 L493.14,153.02 L493.53,149.41 L493.92,162.05 L494.31,158.31 L494.70,156.89 L495.09,153.86 L495.48,160.12 L495.87,159.10 L496.25,157.87 L496.64,157.71 L497.03,150.33 L497.42,141.74 L497.81,131.42 L498.20,153.77 L498.59,147.76 L498.98,162.18 L499.36,159.71 L499.75,156.80 L500.14,156.11 L500.53,158.40 L500.92,151.08 L501.31,142.91 L501.70,133.10 L502.09,148.17 L502.48,145.17 L502.86,160.14 L503.25,158.74 L503.64,157.38 L504.03,155.33 L504.42,160.17 L504.81,159.65 L505.20,157.27 L505.59,154.24 L505.97,153.21 L506.36,149.93 L506.75,159.41 L507.14,156.65 L507.53,152.53 L507.92,148.97 L508.31,144.08 L508.70,134.78 L509.08,154.94 L509.47,157.86 L509.86,154.91 L510.25,153.83 L510.64,159.15 L511.03,156.42 L511.42,151.74 L511.81,144.08 L512.19,134.78 L512.58,143.49 L512.97,160.14 L513.36,159.05 L513.75,158.00 L514.14,155.86 L514.53,154.42 L514.92,163.32 L515.30,158.68 L515.69,155.88 L516.08,154.03 L516.47,149.75 L516.86,149.05 L517.25,156.65 L517.64,152.56 L518.03,147.55 L518.41,160.10 L518.80,157.84 L519.19,157.10 L519.58,154.57 L519.97,152.03 L520.36,151.32 L520.75,145.12 L521.14,155.78 L521.52,151.21 L521.91,149.56 L522.30,160.54 L522.69,158.03 L523.08,155.83 L523.47,150.50 L523.86,149.33 L524.25,159.51 L524.63,156.56 L525.02,155.21 L525.41,154.23 L525.80,152.70 L526.19,150.86 L526.58,163.05 L526.97,157.50 L527.36,152.36 L527.74,146.90 L528.13,157.25 L528.52,152.50 L528.91,146.79 L529.30,152.05" fill="none" stroke="#4a4aae" stroke-width="0.9" stroke-linejoin="round" opacity="0.8"/>
<rect x="512.00" y="105.40" width="22.40" height="5.10" fill="#fff" fill-opacity="0.8" stroke="#eeeeee" stroke-width="0.3"/>
<line x1="513.70" y1="107.95" x2="519.50" y2="107.95" stroke="#6a6ac8" stroke-width="0.7"/>
<text x="522.00" y="109.05" font-family="Liberation Sans" font-size="3.2" font-weight="normal" fill="#555" text-anchor="start" textLength="13.00" lengthAdjust="spacingAndGlyphs" >Raw Conc.</text>
<text x="414.60" y="118.20" font-family="Liberation Sans" font-size="6.6" font-weight="normal" fill="#262626" text-anchor="start" textLength="102.60" lengthAdjust="spacingAndGlyphs" stroke="#262626" stroke-width="0.14">Daily average PM2.5, Beijing, 2020</text>
<text x="14.80" y="196.90" font-family="Liberation Sans" font-size="7.4" font-weight="bold" fill="#1a1a1a" text-anchor="start" textLength="259.80" lengthAdjust="spacingAndGlyphs" stroke="#1a1a1a" stroke-width="0.08">B). The corelation of city Shanghai AQI with environmental parameters 2019 and 2020</text>
<text x="41.80" y="208.30" font-family="Liberation Mono" font-size="4.6" fill="#222" stroke="#333" stroke-width="0.1" textLength="134.60" lengthAdjust="spacingAndGlyphs">Correlation of <tspan font-style="italic">PM</tspan><tspan font-size="3.3" dy="0.9">2.5</tspan><tspan dy="-0.9"> with different environmental</tspan></text>
<text x="69.00" y="213.90" font-family="Liberation Mono" font-size="4.6" font-weight="normal" fill="#222" text-anchor="start" textLength="62.00" lengthAdjust="spacingAndGlyphs" stroke="#333" stroke-width="0.1">parameters in Shanghai</text>
<rect x="30.50" y="222.70" width="62.30" height="54.40" fill="none" stroke="#9a9a9a" stroke-width="0.6"/>
<text x="61.65" y="221.30" font-family="Liberation Mono" font-size="4.5" font-weight="normal" fill="#222" text-anchor="middle" textLength="25.96" lengthAdjust="spacingAndGlyphs" >temperature</text>
<rect x="78.90" y="224.90" width="10.90" height="3.00" fill="#1f77b4"/>
<text x="28.70" y="227.40" font-family="Liberation Sans" font-size="2.7" font-weight="normal" fill="#333" text-anchor="end" textLength="8.50" lengthAdjust="spacingAndGlyphs" >TROPT</text>
<line x1="29.30" y1="226.40" x2="30.50" y2="226.40" stroke="#333" stroke-width="0.3"/>
<rect x="54.60" y="231.00" width="24.30" height="3.00" fill="#1f77b4"/>
<text x="28.70" y="233.50" font-family="Liberation Sans" font-size="2.7" font-weight="normal" fill="#333" text-anchor="end" textLength="6.80" lengthAdjust="spacingAndGlyphs" >T250</text>
<line x1="29.30" y1="232.50" x2="30.50" y2="232.50" stroke="#333" stroke-width="0.3"/>
<rect x="42.70" y="236.70" width="36.20" height="3.00" fill="#1f77b4"/>
<text x="28.70" y="239.20" font-family="Liberation Sans" font-size="2.7" font-weight="normal" fill="#333" text-anchor="end" textLength="6.80" lengthAdjust="spacingAndGlyphs" >T850</text>
<line x1="29.30" y1="238.20" x2="30.50" y2="238.20" stroke="#333" stroke-width="0.3"/>
<rect x="37.00" y="242.70" width="41.90" height="3.00" fill="#1f77b4"/>
<text x="28.70" y="245.20" font-family="Liberation Sans" font-size="2.7" font-weight="normal" fill="#333" text-anchor="end" textLength="3.40" lengthAdjust="spacingAndGlyphs" >TS</text>
<line x1="29.30" y1="244.20" x2="30.50" y2="244.20" stroke="#333" stroke-width="0.3"/>
<rect x="36.00" y="248.60" width="42.90" height="3.00" fill="#1f77b4"/>
<text x="28.70" y="251.10" font-family="Liberation Sans" font-size="2.7" font-weight="normal" fill="#333" text-anchor="end" textLength="10.20" lengthAdjust="spacingAndGlyphs" >T2MWET</text>
<line x1="29.30" y1="250.10" x2="30.50" y2="250.10" stroke="#333" stroke-width="0.3"/>
<rect x="35.60" y="254.50" width="43.30" height="3.00" fill="#1f77b4"/>
<text x="28.70" y="257.00" font-family="Liberation Sans" font-size="2.7" font-weight="normal" fill="#333" text-anchor="end" textLength="10.20" lengthAdjust="spacingAndGlyphs" >T2MDEW</text>
<line x1="29.30" y1="256.00" x2="30.50" y2="256.00" stroke="#333" stroke-width="0.3"/>
<rect x="35.00" y="260.50" width="43.90" height="3.00" fill="#1f77b4"/>
<text x="28.70" y="263.00" font-family="Liberation Sans" font-size="2.7" font-weight="normal" fill="#333" text-anchor="end" textLength="6.80" lengthAdjust="spacingAndGlyphs" >T10M</text>
<line x1="29.30" y1="262.00" x2="30.50" y2="262.00" stroke="#333" stroke-width="0.3"/>
<rect x="35.00" y="266.60" width="43.90" height="3.00" fill="#1f77b4"/>
<text x="28.70" y="269.10" font-family="Liberation Sans" font-size="2.7" font-weight="normal" fill="#333" text-anchor="end" textLength="5.10" lengthAdjust="spacingAndGlyphs" >T2M</text>
<line x1="29.30" y1="268.10" x2="30.50" y2="268.10" stroke="#333" stroke-width="0.3"/>
<rect x="33.50" y="272.70" width="45.40" height="3.00" fill="#1f77b4"/>
<text x="28.70" y="275.20" font-family="Liberation Sans" font-size="2.7" font-weight="normal" fill="#333" text-anchor="end" textLength="6.80" lengthAdjust="spacingAndGlyphs" >T500</text>
<line x1="29.30" y1="274.20" x2="30.50" y2="274.20" stroke="#333" stroke-width="0.3"/>
<line x1="30.50" y1="277.10" x2="30.50" y2="278.30" stroke="#333" stroke-width="0.3"/>
<text x="30.50" y="282.20" font-family="Liberation Sans" font-size="3.3" font-weight="normal" fill="#333" text-anchor="middle" >-0.3</text>
<line x1="46.80" y1="277.10" x2="46.80" y2="278.30" stroke="#333" stroke-width="0.3"/>
<text x="46.80" y="282.20" font-family="Liberation Sans" font-size="3.3" font-weight="normal" fill="#333" text-anchor="middle" >-0.2</text>
<line x1="63.20" y1="277.10" x2="63.20" y2="278.30" stroke="#333" stroke-width="0.3"/>
<text x="63.20" y="282.20" font-family="Liberation Sans" font-size="3.3" font-weight="normal" fill="#333" text-anchor="middle" >-0.1</text>
<line x1="79.50" y1="277.10" x2="79.50" y2="278.30" stroke="#333" stroke-width="0.3"/>
<text x="79.50" y="282.20" font-family="Liberation Sans" font-size="3.3" font-weight="normal" fill="#333" text-anchor="middle" >0.0</text>
<rect x="117.10" y="223.30" width="62.20" height="54.20" fill="none" stroke="#9a9a9a" stroke-width="0.6"/>
<text x="148.20" y="221.90" font-family="Liberation Mono" font-size="4.5" font-weight="normal" fill="#222" text-anchor="middle" textLength="18.88" lengthAdjust="spacingAndGlyphs" >humidity</text>
<rect x="168.00" y="226.25" width="10.90" height="5.10" fill="#1f77b4"/>
<text x="115.30" y="229.80" font-family="Liberation Sans" font-size="2.7" font-weight="normal" fill="#333" text-anchor="end" textLength="8.50" lengthAdjust="spacingAndGlyphs" >TROPQ</text>
<line x1="115.90" y1="228.80" x2="117.10" y2="228.80" stroke="#333" stroke-width="0.3"/>
<rect x="135.50" y="236.65" width="43.40" height="5.10" fill="#1f77b4"/>
<text x="115.30" y="240.20" font-family="Liberation Sans" font-size="2.7" font-weight="normal" fill="#333" text-anchor="end" textLength="6.80" lengthAdjust="spacingAndGlyphs" >Q850</text>
<line x1="115.90" y1="239.20" x2="117.10" y2="239.20" stroke="#333" stroke-width="0.3"/>
<rect x="135.10" y="247.55" width="43.80" height="5.10" fill="#1f77b4"/>
<text x="115.30" y="251.10" font-family="Liberation Sans" font-size="2.7" font-weight="normal" fill="#333" text-anchor="end" textLength="6.80" lengthAdjust="spacingAndGlyphs" >Q250</text>
<line x1="115.90" y1="250.10" x2="117.10" y2="250.10" stroke="#333" stroke-width="0.3"/>
<rect x="131.40" y="258.35" width="47.50" height="5.10" fill="#1f77b4"/>
<text x="115.30" y="261.90" font-family="Liberation Sans" font-size="2.7" font-weight="normal" fill="#333" text-anchor="end" textLength="6.80" lengthAdjust="spacingAndGlyphs" >Q500</text>
<line x1="115.90" y1="260.90" x2="117.10" y2="260.90" stroke="#333" stroke-width="0.3"/>
<rect x="120.00" y="268.85" width="58.90" height="5.10" fill="#1f77b4"/>
<text x="115.30" y="272.40" font-family="Liberation Sans" font-size="2.7" font-weight="normal" fill="#333" text-anchor="end" textLength="8.50" lengthAdjust="spacingAndGlyphs" >QV10M</text>
<line x1="115.90" y1="271.40" x2="117.10" y2="271.40" stroke="#333" stroke-width="0.3"/>
<line x1="115.50" y1="277.50" x2="115.50" y2="278.70" stroke="#333" stroke-width="0.3"/>
<text x="115.50" y="282.40" font-family="Liberation Sans" font-size="3.3" font-weight="normal" fill="#333" text-anchor="middle" >-0.25</text>
<line x1="127.70" y1="277.50" x2="127.70" y2="278.70" stroke="#333" stroke-width="0.3"/>
<text x="127.70" y="282.40" font-family="Liberation Sans" font-size="3.3" font-weight="normal" fill="#333" text-anchor="middle" >-0.20</text>
<line x1="140.40" y1="277.50" x2="140.40" y2="278.70" stroke="#333" stroke-width="0.3"/>
<text x="140.40" y="282.40" font-family="Liberation Sans" font-size="3.3" font-weight="normal" fill="#333" text-anchor="middle" >-0.15</text>
<line x1="152.90" y1="277.50" x2="152.90" y2="278.70" stroke="#333" stroke-width="0.3"/>
<text x="152.90" y="282.40" font-family="Liberation Sans" font-size="3.3" font-weight="normal" fill="#333" text-anchor="middle" >-0.10</text>
<line x1="165.60" y1="277.50" x2="165.60" y2="278.70" stroke="#333" stroke-width="0.3"/>
<text x="165.60" y="282.40" font-family="Liberation Sans" font-size="3.3" font-weight="normal" fill="#333" text-anchor="middle" >-0.05</text>
<line x1="177.80" y1="277.50" x2="177.80" y2="278.70" stroke="#333" stroke-width="0.3"/>
<text x="177.80" y="282.40" font-family="Liberation Sans" font-size="3.3" font-weight="normal" fill="#333" text-anchor="middle" >0.00</text>
<rect x="30.00" y="292.60" width="62.40" height="53.90" fill="none" stroke="#9a9a9a" stroke-width="0.6"/>
<text x="61.20" y="291.20" font-family="Liberation Mono" font-size="4.5" font-weight="normal" fill="#222" text-anchor="middle" textLength="14.16" lengthAdjust="spacingAndGlyphs" >height</text>
<rect x="72.50" y="295.60" width="17.00" height="5.40" fill="#1f77b4"/>
<text x="28.20" y="299.30" font-family="Liberation Sans" font-size="2.7" font-weight="normal" fill="#333" text-anchor="end" textLength="8.50" lengthAdjust="spacingAndGlyphs" >H1000</text>
<line x1="28.80" y1="298.30" x2="30.00" y2="298.30" stroke="#333" stroke-width="0.3"/>
<rect x="72.50" y="306.10" width="7.70" height="5.40" fill="#1f77b4"/>
<text x="28.20" y="309.80" font-family="Liberation Sans" font-size="2.7" font-weight="normal" fill="#333" text-anchor="end" textLength="6.80" lengthAdjust="spacingAndGlyphs" >H850</text>
<line x1="28.80" y1="308.80" x2="30.00" y2="308.80" stroke="#333" stroke-width="0.3"/>
<rect x="40.50" y="317.00" width="32.00" height="5.40" fill="#1f77b4"/>
<text x="28.20" y="320.70" font-family="Liberation Sans" font-size="2.7" font-weight="normal" fill="#333" text-anchor="end" textLength="8.50" lengthAdjust="spacingAndGlyphs" >DISPH</text>
<line x1="28.80" y1="319.70" x2="30.00" y2="319.70" stroke="#333" stroke-width="0.3"/>
<rect x="36.10" y="327.90" width="36.40" height="5.40" fill="#1f77b4"/>
<text x="28.20" y="331.60" font-family="Liberation Sans" font-size="2.7" font-weight="normal" fill="#333" text-anchor="end" textLength="6.80" lengthAdjust="spacingAndGlyphs" >H250</text>
<line x1="28.80" y1="330.60" x2="30.00" y2="330.60" stroke="#333" stroke-width="0.3"/>
<rect x="33.30" y="338.30" width="39.20" height="5.40" fill="#1f77b4"/>
<text x="28.20" y="342.00" font-family="Liberation Sans" font-size="2.7" font-weight="normal" fill="#333" text-anchor="end" textLength="6.80" lengthAdjust="spacingAndGlyphs" >H500</text>
<line x1="28.80" y1="341.00" x2="30.00" y2="341.00" stroke="#333" stroke-width="0.3"/>
<line x1="36.40" y1="346.50" x2="36.40" y2="347.70" stroke="#333" stroke-width="0.3"/>
<text x="36.40" y="352.40" font-family="Liberation Sans" font-size="3.3" font-weight="normal" fill="#333" text-anchor="middle" >-0.3</text>
<line x1="48.50" y1="346.50" x2="48.50" y2="347.70" stroke="#333" stroke-width="0.3"/>
<text x="48.50" y="352.40" font-family="Liberation Sans" font-size="3.3" font-weight="normal" fill="#333" text-anchor="middle" >-0.2</text>
<line x1="60.50" y1="346.50" x2="60.50" y2="347.70" stroke="#333" stroke-width="0.3"/>
<text x="60.50" y="352.40" font-family="Liberation Sans" font-size="3.3" font-weight="normal" fill="#333" text-anchor="middle" >-0.1</text>
<line x1="72.40" y1="346.50" x2="72.40" y2="347.70" stroke="#333" stroke-width="0.3"/>
<text x="72.40" y="352.40" font-family="Liberation Sans" font-size="3.3" font-weight="normal" fill="#333" text-anchor="middle" >0.0</text>
<line x1="84.50" y1="346.50" x2="84.50" y2="347.70" stroke="#333" stroke-width="0.3"/>
<text x="84.50" y="352.40" font-family="Liberation Sans" font-size="3.3" font-weight="normal" fill="#333" text-anchor="middle" >0.1</text>
<rect x="117.30" y="293.40" width="61.30" height="53.40" fill="none" stroke="#9a9a9a" stroke-width="0.6"/>
<text x="147.95" y="292.00" font-family="Liberation Mono" font-size="4.5" font-weight="normal" fill="#222" text-anchor="middle" textLength="14.16" lengthAdjust="spacingAndGlyphs" >others</text>
<rect x="165.20" y="297.60" width="10.90" height="9.20" fill="#1f77b4"/>
<text x="115.50" y="303.20" font-family="Liberation Sans" font-size="2.7" font-weight="normal" fill="#333" text-anchor="end" textLength="5.10" lengthAdjust="spacingAndGlyphs" >TQL</text>
<line x1="116.10" y1="302.20" x2="117.30" y2="302.20" stroke="#333" stroke-width="0.3"/>
<rect x="154.30" y="315.70" width="10.90" height="9.20" fill="#1f77b4"/>
<text x="115.50" y="321.30" font-family="Liberation Sans" font-size="2.7" font-weight="normal" fill="#333" text-anchor="end" textLength="6.80" lengthAdjust="spacingAndGlyphs" >ZLCL</text>
<line x1="116.10" y1="320.30" x2="117.30" y2="320.30" stroke="#333" stroke-width="0.3"/>
<rect x="120.10" y="333.10" width="45.10" height="9.20" fill="#1f77b4"/>
<text x="115.50" y="338.70" font-family="Liberation Sans" font-size="2.7" font-weight="normal" fill="#333" text-anchor="end" textLength="5.10" lengthAdjust="spacingAndGlyphs" >TQV</text>
<line x1="116.10" y1="337.70" x2="117.30" y2="337.70" stroke="#333" stroke-width="0.3"/>
<line x1="124.40" y1="346.80" x2="124.40" y2="348.00" stroke="#333" stroke-width="0.3"/>
<text x="124.40" y="352.80" font-family="Liberation Sans" font-size="3.3" font-weight="normal" fill="#333" text-anchor="middle" >-0.2</text>
<line x1="144.00" y1="346.80" x2="144.00" y2="348.00" stroke="#333" stroke-width="0.3"/>
<text x="144.00" y="352.80" font-family="Liberation Sans" font-size="3.3" font-weight="normal" fill="#333" text-anchor="middle" >-0.1</text>
<line x1="165.20" y1="346.80" x2="165.20" y2="348.00" stroke="#333" stroke-width="0.3"/>
<text x="165.20" y="352.80" font-family="Liberation Sans" font-size="3.3" font-weight="normal" fill="#333" text-anchor="middle" >0.0</text>
<rect x="200.20" y="200.50" width="164.00" height="64.00" fill="none" stroke="#e2e2e2" stroke-width="0.5"/>
<line x1="200.20" y1="262.20" x2="364.20" y2="262.20" stroke="#e6e6e6" stroke-width="0.6"/>
<text x="198.50" y="263.10" font-family="Liberation Sans" font-size="2.6" font-weight="normal" fill="#555" text-anchor="end" >0</text>
<line x1="200.20" y1="250.40" x2="364.20" y2="250.40" stroke="#e6e6e6" stroke-width="0.6"/>
<text x="198.50" y="251.30" font-family="Liberation Sans" font-size="2.6" font-weight="normal" fill="#555" text-anchor="end" >100</text>
<line x1="200.20" y1="238.60" x2="364.20" y2="238.60" stroke="#e6e6e6" stroke-width="0.6"/>
<text x="198.50" y="239.50" font-family="Liberation Sans" font-size="2.6" font-weight="normal" fill="#555" text-anchor="end" >200</text>
<line x1="200.20" y1="226.80" x2="364.20" y2="226.80" stroke="#e6e6e6" stroke-width="0.6"/>
<text x="198.50" y="227.70" font-family="Liberation Sans" font-size="2.6" font-weight="normal" fill="#555" text-anchor="end" >300</text>
<line x1="200.20" y1="215.00" x2="364.20" y2="215.00" stroke="#e6e6e6" stroke-width="0.6"/>
<text x="198.50" y="215.90" font-family="Liberation Sans" font-size="2.6" font-weight="normal" fill="#555" text-anchor="end" >400</text>
<line x1="200.20" y1="203.20" x2="364.20" y2="203.20" stroke="#e6e6e6" stroke-width="0.6"/>
<text x="198.50" y="204.10" font-family="Liberation Sans" font-size="2.6" font-weight="normal" fill="#555" text-anchor="end" >500</text>
<text x="0" y="0" font-family="Liberation Sans" font-size="3.4" fill="#555" text-anchor="middle" transform="translate(193.90,232.50) rotate(-90)">pm25</text>
<rect x="201.40" y="248.30" width="11.80" height="12.70" rx="0.6" fill="#f49aac"/>
<rect x="202.67" y="251.48" width="1.2" height="0.7" fill="#fff" opacity="0.3"/>
<rect x="209.43" y="250.83" width="1.2" height="0.7" fill="#fff" opacity="0.3"/>
<rect x="210.97" y="252.15" width="1.2" height="0.7" fill="#fff" opacity="0.3"/>
<rect x="202.32" y="254.01" width="1.2" height="0.7" fill="#fff" opacity="0.3"/>
<rect x="203.91" y="249.47" width="1.2" height="0.7" fill="#fff" opacity="0.3"/>
<rect x="205.04" y="254.22" width="1.2" height="0.7" fill="#fff" opacity="0.3"/>
<rect x="204.17" y="258.43" width="1.2" height="0.7" fill="#fff" opacity="0.3"/>
<rect x="205.26" y="256.80" width="1.2" height="0.7" fill="#fff" opacity="0.3"/>
<rect x="205.78" y="250.38" width="1.2" height="0.7" fill="#fff" opacity="0.3"/>
<rect x="206.63" y="256.64" width="1.2" height="0.7" fill="#fff" opacity="0.3"/>
<rect x="207.17" y="256.17" width="1.2" height="0.7" fill="#fff" opacity="0.3"/>
<rect x="203.44" y="250.80" width="1.2" height="0.7" fill="#fff" opacity="0.3"/>
<rect x="203.53" y="254.56" width="1.2" height="0.7" fill="#fff" opacity="0.3"/>
<rect x="210.98" y="253.40" width="1.2" height="0.7" fill="#fff" opacity="0.3"/>
<rect x="210.57" y="250.49" width="1.2" height="0.7" fill="#fff" opacity="0.3"/>
<rect x="204.50" y="256.50" width="1.2" height="0.7" fill="#fff" opacity="0.3"/>
<rect x="210.21" y="257.79" width="1.2" height="0.7" fill="#fff" opacity="0.3"/>
<rect x="203.69" y="255.09" width="1.2" height="0.7" fill="#fff" opacity="0.3"/>
<rect x="204.62" y="257.32" width="1.2" height="0.7" fill="#fff" opacity="0.3"/>
<rect x="208.12" y="256.67" width="1.2" height="0.7" fill="#fff" opacity="0.3"/>
<rect x="210.19" y="259.85" width="1.2" height="0.7" fill="#fff" opacity="0.3"/>
<rect x="206.96" y="259.94" width="1.2" height="0.7" fill="#fff" opacity="0.3"/>
<rect x="205.16" y="258.73" width="1.2" height="0.7" fill="#fff" opacity="0.3"/>
<rect x="203.28" y="256.96" width="1.2" height="0.7" fill="#fff" opacity="0.3"/>
<rect x="211.35" y="255.24" width="1.2" height="0.7" fill="#fff" opacity="0.3"/>
<rect x="205.88" y="258.13" width="1.2" height="0.7" fill="#fff" opacity="0.3"/>
<rect x="210.51" y="256.95" width="1.2" height="0.7" fill="#fff" opacity="0.3"/>
<rect x="205.72" y="254.81" width="1.2" height="0.7" fill="#fff" opacity="0.3"/>
<rect x="202.22" y="254.96" width="1.2" height="0.7" fill="#fff" opacity="0.3"/>
<rect x="205.34" y="256.53" width="1.2" height="0.7" fill="#fff" opacity="0.3"/>
<rect x="202.40" y="254.09" width="1.2" height="0.7" fill="#fff" opacity="0.3"/>
<rect x="203.40" y="253.00" width="1.2" height="0.7" fill="#fff" opacity="0.3"/>
<rect x="212.18" y="257.42" width="1.2" height="0.7" fill="#fff" opacity="0.3"/>
<rect x="208.78" y="253.19" width="1.2" height="0.7" fill="#fff" opacity="0.3"/>
<rect x="203.21" y="249.63" width="1.2" height="0.7" fill="#fff" opacity="0.3"/>
<rect x="207.77" y="259.84" width="1.2" height="0.7" fill="#fff" opacity="0.3"/>
<rect x="209.70" y="251.57" width="1.2" height="0.7" fill="#fff" opacity="0.3"/>
<rect x="212.11" y="251.71" width="1.2" height="0.7" fill="#fff" opacity="0.3"/>
<rect x="203.95" y="246.91" width="6.70" height="1.54" rx="0.5" fill="#f49aac"/>
<rect x="204.74" y="245.66" width="5.12" height="1.54" rx="0.5" fill="#f49aac"/>
<rect x="203.39" y="244.42" width="7.82" height="1.54" rx="0.5" fill="#f49aac"/>
<rect x="205.47" y="243.18" width="3.66" height="1.54" rx="0.5" fill="#f49aac"/>
<rect x="201.77" y="241.94" width="11.06" height="1.54" rx="0.5" fill="#f49aac"/>
<rect x="204.31" y="240.69" width="5.99" height="1.54" rx="0.5" fill="#f49aac"/>
<rect x="205.62" y="239.45" width="3.37" height="1.54" rx="0.5" fill="#f49aac"/>
<rect x="205.86" y="238.21" width="2.87" height="1.54" rx="0.5" fill="#f49aac"/>
<rect x="203.66" y="236.96" width="7.28" height="1.54" rx="0.5" fill="#f49aac"/>
<rect x="203.70" y="235.72" width="7.19" height="1.54" rx="0.5" fill="#f49aac"/>
<rect x="205.59" y="234.48" width="3.43" height="1.54" rx="0.5" fill="#f49aac"/>
<rect x="206.23" y="233.24" width="2.15" height="1.54" rx="0.5" fill="#f49aac"/>
<rect x="203.78" y="231.99" width="7.05" height="1.54" rx="0.5" fill="#f49aac"/>
<rect x="205.64" y="230.75" width="3.31" height="1.54" rx="0.5" fill="#f49aac"/>
<circle cx="210.50" cy="232.67" r="0.5" fill="#f49aac" opacity="0.8"/>
<circle cx="203.48" cy="231.58" r="0.5" fill="#f49aac" opacity="0.8"/>
<circle cx="208.54" cy="234.77" r="0.5" fill="#f49aac" opacity="0.8"/>
<circle cx="204.79" cy="246.03" r="0.5" fill="#f49aac" opacity="0.8"/>
<circle cx="206.44" cy="244.38" r="0.5" fill="#f49aac" opacity="0.8"/>
<circle cx="209.03" cy="238.87" r="0.5" fill="#f49aac" opacity="0.8"/>
<circle cx="209.34" cy="235.06" r="0.5" fill="#f49aac" opacity="0.8"/>
<circle cx="203.95" cy="236.89" r="0.5" fill="#f49aac" opacity="0.8"/>
<circle cx="207.42" cy="242.06" r="0.5" fill="#f49aac" opacity="0.8"/>
<circle cx="211.66" cy="231.60" r="0.5" fill="#f49aac" opacity="0.8"/>
<circle cx="207.73" cy="227.40" r="0.7" fill="#f49aac" opacity="0.9"/>
<line x1="207.30" y1="264.50" x2="207.30" y2="265.40" stroke="#888" stroke-width="0.3"/>
<text x="207.30" y="268.30" font-family="Liberation Sans" font-size="2.8" font-weight="normal" fill="#555" text-anchor="middle" >1</text>
<rect x="215.04" y="245.50" width="11.80" height="15.50" rx="0.6" fill="#f6a862"/>
<rect x="220.40" y="257.22" width="1.2" height="0.7" fill="#fff" opacity="0.3"/>
<rect x="223.65" y="246.93" width="1.2" height="0.7" fill="#fff" opacity="0.3"/>
<rect x="216.44" y="253.12" width="1.2" height="0.7" fill="#fff" opacity="0.3"/>
<rect x="220.15" y="255.63" width="1.2" height="0.7" fill="#fff" opacity="0.3"/>
<rect x="217.49" y="248.38" width="1.2" height="0.7" fill="#fff" opacity="0.3"/>
<rect x="219.71" y="259.83" width="1.2" height="0.7" fill="#fff" opacity="0.3"/>
<rect x="216.04" y="259.38" width="1.2" height="0.7" fill="#fff" opacity="0.3"/>
<rect x="221.89" y="251.29" width="1.2" height="0.7" fill="#fff" opacity="0.3"/>
<rect x="216.83" y="252.45" width="1.2" height="0.7" fill="#fff" opacity="0.3"/>
<rect x="220.27" y="247.24" width="1.2" height="0.7" fill="#fff" opacity="0.3"/>
<rect x="219.94" y="258.99" width="1.2" height="0.7" fill="#fff" opacity="0.3"/>
<rect x="225.59" y="256.01" width="1.2" height="0.7" fill="#fff" opacity="0.3"/>
<rect x="219.81" y="258.16" width="1.2" height="0.7" fill="#fff" opacity="0.3"/>
<rect x="216.26" y="256.18" width="1.2" height="0.7" fill="#fff" opacity="0.3"/>
<rect x="223.04" y="248.50" width="1.2" height="0.7" fill="#fff" opacity="0.3"/>
<rect x="219.57" y="252.11" width="1.2" height="0.7" fill="#fff" opacity="0.3"/>
<rect x="223.92" y="254.48" width="1.2" height="0.7" fill="#fff" opacity="0.3"/>
<rect x="218.29" y="257.56" width="1.2" height="0.7" fill="#fff" opacity="0.3"/>
<rect x="220.80" y="257.05" width="1.2" height="0.7" fill="#fff" opacity="0.3"/>
<rect x="219.48" y="251.07" width="1.2" height="0.7" fill="#fff" opacity="0.3"/>
<rect x="219.25" y="248.70" width="1.2" height="0.7" fill="#fff" opacity="0.3"/>
<rect x="223.66" y="255.36" width="1.2" height="0.7" fill="#fff" opacity="0.3"/>
<rect x="219.85" y="254.64" width="1.2" height="0.7" fill="#fff" opacity="0.3"/>
<rect x="222.86" y="259.47" width="1.2" height="0.7" fill="#fff" opacity="0.3"/>
<rect x="217.22" y="247.80" width="1.2" height="0.7" fill="#fff" opacity="0.3"/>
<rect x="224.87" y="259.24" width="1.2" height="0.7" fill="#fff" opacity="0.3"/>
<rect x="223.22" y="253.77" width="1.2" height="0.7" fill="#fff" opacity="0.3"/>
<rect x="225.61" y="258.45" width="1.2" height="0.7" fill="#fff" opacity="0.3"/>
<rect x="216.79" y="255.86" width="1.2" height="0.7" fill="#fff" opacity="0.3"/>
<rect x="224.07" y="250.21" width="1.2" height="0.7" fill="#fff" opacity="0.3"/>
<rect x="224.10" y="258.80" width="1.2" height="0.7" fill="#fff" opacity="0.3"/>
<rect x="220.90" y="252.17" width="1.2" height="0.7" fill="#fff" opacity="0.3"/>
<rect x="221.79" y="257.41" width="1.2" height="0.7" fill="#fff" opacity="0.3"/>
<rect x="222.47" y="259.85" width="1.2" height="0.7" fill="#fff" opacity="0.3"/>
<rect x="220.83" y="250.87" width="1.2" height="0.7" fill="#fff" opacity="0.3"/>
<rect x="217.35" y="256.18" width="1.2" height="0.7" fill="#fff" opacity="0.3"/>
<rect x="221.49" y="254.67" width="1.2" height="0.7" fill="#fff" opacity="0.3"/>
<rect x="225.99" y="258.08" width="1.2" height="0.7" fill="#fff" opacity="0.3"/>
<rect x="223.52" y="254.93" width="1.2" height="0.7" fill="#fff" opacity="0.3"/>
<rect x="218.57" y="253.37" width="1.2" height="0.7" fill="#fff" opacity="0.3"/>
<rect x="219.14" y="252.95" width="1.2" height="0.7" fill="#fff" opacity="0.3"/>
<rect x="225.92" y="254.13" width="1.2" height="0.7" fill="#fff" opacity="0.3"/>
<rect x="224.08" y="254.66" width="1.2" height="0.7" fill="#fff" opacity="0.3"/>
<rect x="220.30" y="258.30" width="1.2" height="0.7" fill="#fff" opacity="0.3"/>
<rect x="222.41" y="251.26" width="1.2" height="0.7" fill="#fff" opacity="0.3"/>
<rect x="220.21" y="255.55" width="1.2" height="0.7" fill="#fff" opacity="0.3"/>
<rect x="219.06" y="244.12" width="3.77" height="1.53" rx="0.5" fill="#f6a862"/>
<rect x="215.96" y="242.90" width="9.96" height="1.53" rx="0.5" fill="#f6a862"/>
<rect x="217.43" y="241.67" width="7.02" height="1.53" rx="0.5" fill="#f6a862"/>
<rect x="216.29" y="240.44" width="9.29" height="1.53" rx="0.5" fill="#f6a862"/>
<rect x="215.56" y="239.21" width="10.77" height="1.53" rx="0.5" fill="#f6a862"/>
<rect x="219.93" y="237.99" width="2.01" height="1.53" rx="0.5" fill="#f6a862"/>
<rect x="216.07" y="236.76" width="9.74" height="1.53" rx="0.5" fill="#f6a862"/>
<rect x="216.58" y="235.53" width="8.71" height="1.53" rx="0.5" fill="#f6a862"/>
<rect x="216.92" y="234.30" width="8.04" height="1.53" rx="0.5" fill="#f6a862"/>
<rect x="217.96" y="233.08" width="5.96" height="1.53" rx="0.5" fill="#f6a862"/>
<rect x="218.04" y="231.85" width="5.81" height="1.53" rx="0.5" fill="#f6a862"/>
<circle cx="218.23" cy="242.09" r="0.5" fill="#f6a862" opacity="0.8"/>
<circle cx="221.33" cy="238.20" r="0.5" fill="#f6a862" opacity="0.8"/>
<circle cx="216.94" cy="233.20" r="0.5" fill="#f6a862" opacity="0.8"/>
<circle cx="217.69" cy="240.61" r="0.5" fill="#f6a862" opacity="0.8"/>
<circle cx="224.90" cy="238.17" r="0.5" fill="#f6a862" opacity="0.8"/>
<circle cx="222.46" cy="240.40" r="0.5" fill="#f6a862" opacity="0.8"/>
<circle cx="218.60" cy="240.22" r="0.5" fill="#f6a862" opacity="0.8"/>
<circle cx="218.59" cy="234.33" r="0.5" fill="#f6a862" opacity="0.8"/>
<line x1="220.94" y1="264.50" x2="220.94" y2="265.40" stroke="#888" stroke-width="0.3"/>
<text x="220.94" y="268.30" font-family="Liberation Sans" font-size="2.8" font-weight="normal" fill="#555" text-anchor="middle" >2</text>
<rect x="228.68" y="249.40" width="11.80" height="11.60" rx="0.6" fill="#d2b662"/>
<rect x="231.23" y="252.26" width="1.2" height="0.7" fill="#fff" opacity="0.3"/>
<rect x="234.70" y="255.78" width="1.2" height="0.7" fill="#fff" opacity="0.3"/>
<rect x="236.97" y="255.66" width="1.2" height="0.7" fill="#fff" opacity="0.3"/>
<rect x="230.67" y="254.22" width="1.2" height="0.7" fill="#fff" opacity="0.3"/>
<rect x="233.19" y="251.81" width="1.2" height="0.7" fill="#fff" opacity="0.3"/>
<rect x="239.31" y="252.41" width="1.2" height="0.7" fill="#fff" opacity="0.3"/>
<rect x="236.82" y="252.15" width="1.2" height="0.7" fill="#fff" opacity="0.3"/>
<rect x="234.42" y="252.46" width="1.2" height="0.7" fill="#fff" opacity="0.3"/>
<rect x="238.89" y="257.11" width="1.2" height="0.7" fill="#fff" opacity="0.3"/>
<rect x="237.93" y="259.96" width="1.2" height="0.7" fill="#fff" opacity="0.3"/>
<rect x="232.59" y="254.57" width="1.2" height="0.7" fill="#fff" opacity="0.3"/>
<rect x="234.95" y="257.24" width="1.2" height="0.7" fill="#fff" opacity="0.3"/>
<rect x="238.31" y="255.51" width="1.2" height="0.7" fill="#fff" opacity="0.3"/>
<rect x="233.58" y="258.71" width="1.2" height="0.7" fill="#fff" opacity="0.3"/>
<rect x="231.68" y="255.37" width="1.2" height="0.7" fill="#fff" opacity="0.3"/>
<rect x="230.93" y="256.17" width="1.2" height="0.7" fill="#fff" opacity="0.3"/>
<rect x="233.85" y="250.65" width="1.2" height="0.7" fill="#fff" opacity="0.3"/>
<rect x="237.36" y="259.53" width="1.2" height="0.7" fill="#fff" opacity="0.3"/>
<rect x="234.30" y="250.69" width="1.2" height="0.7" fill="#fff" opacity="0.3"/>
<rect x="239.17" y="253.60" width="1.2" height="0.7" fill="#fff" opacity="0.3"/>
<rect x="235.98" y="250.79" width="1.2" height="0.7" fill="#fff" opacity="0.3"/>
<rect x="235.57" y="258.11" width="1.2" height="0.7" fill="#fff" opacity="0.3"/>
<rect x="232.44" y="254.04" width="1.2" height="0.7" fill="#fff" opacity="0.3"/>
<rect x="239.25" y="251.17" width="1.2" height="0.7" fill="#fff" opacity="0.3"/>
<rect x="234.59" y="250.58" width="1.2" height="0.7" fill="#fff" opacity="0.3"/>
<rect x="233.37" y="258.10" width="1.2" height="0.7" fill="#fff" opacity="0.3"/>
<rect x="230.44" y="256.09" width="1.2" height="0.7" fill="#fff" opacity="0.3"/>
<rect x="235.64" y="258.34" width="1.2" height="0.7" fill="#fff" opacity="0.3"/>
<rect x="237.64" y="257.34" width="1.2" height="0.7" fill="#fff" opacity="0.3"/>
<rect x="236.39" y="259.09" width="1.2" height="0.7" fill="#fff" opacity="0.3"/>
<rect x="236.90" y="252.88" width="1.2" height="0.7" fill="#fff" opacity="0.3"/>
<rect x="229.78" y="256.91" width="1.2" height="0.7" fill="#fff" opacity="0.3"/>
<rect x="234.61" y="259.41" width="1.2" height="0.7" fill="#fff" opacity="0.3"/>
<rect x="230.95" y="253.32" width="1.2" height="0.7" fill="#fff" opacity="0.3"/>
<rect x="229.68" y="247.94" width="9.80" height="1.61" rx="0.5" fill="#d2b662"/>
<rect x="231.05" y="246.62" width="7.06" height="1.61" rx="0.5" fill="#d2b662"/>
<rect x="231.69" y="245.31" width="5.77" height="1.61" rx="0.5" fill="#d2b662"/>
<rect x="233.32" y="243.99" width="2.51" height="1.61" rx="0.5" fill="#d2b662"/>
<rect x="233.23" y="242.68" width="2.69" height="1.61" rx="0.5" fill="#d2b662"/>
<rect x="233.03" y="241.36" width="3.09" height="1.61" rx="0.5" fill="#d2b662"/>
<rect x="234.20" y="240.05" width="0.76" height="1.61" rx="0.5" fill="#d2b662"/>
<circle cx="236.55" cy="247.99" r="0.5" fill="#d2b662" opacity="0.8"/>
<circle cx="238.18" cy="247.78" r="0.5" fill="#d2b662" opacity="0.8"/>
<circle cx="236.58" cy="242.77" r="0.5" fill="#d2b662" opacity="0.8"/>
<circle cx="237.76" cy="248.85" r="0.5" fill="#d2b662" opacity="0.8"/>
<circle cx="231.66" cy="247.38" r="0.5" fill="#d2b662" opacity="0.8"/>
<line x1="234.58" y1="264.50" x2="234.58" y2="265.40" stroke="#888" stroke-width="0.3"/>
<text x="234.58" y="268.30" font-family="Liberation Sans" font-size="2.8" font-weight="normal" fill="#555" text-anchor="middle" >3</text>
<rect x="242.32" y="248.80" width="11.80" height="12.20" rx="0.6" fill="#b6be56"/>
<rect x="246.23" y="255.00" width="1.2" height="0.7" fill="#fff" opacity="0.3"/>
<rect x="244.72" y="256.93" width="1.2" height="0.7" fill="#fff" opacity="0.3"/>
<rect x="251.48" y="254.55" width="1.2" height="0.7" fill="#fff" opacity="0.3"/>
<rect x="243.41" y="255.01" width="1.2" height="0.7" fill="#fff" opacity="0.3"/>
<rect x="252.09" y="250.80" width="1.2" height="0.7" fill="#fff" opacity="0.3"/>
<rect x="250.11" y="253.80" width="1.2" height="0.7" fill="#fff" opacity="0.3"/>
<rect x="244.24" y="259.05" width="1.2" height="0.7" fill="#fff" opacity="0.3"/>
<rect x="247.78" y="258.55" width="1.2" height="0.7" fill="#fff" opacity="0.3"/>
<rect x="243.91" y="251.77" width="1.2" height="0.7" fill="#fff" opacity="0.3"/>
<rect x="246.62" y="256.94" width="1.2" height="0.7" fill="#fff" opacity="0.3"/>
<rect x="243.44" y="257.06" width="1.2" height="0.7" fill="#fff" opacity="0.3"/>
<rect x="244.15" y="250.22" width="1.2" height="0.7" fill="#fff" opacity="0.3"/>
<rect x="243.79" y="255.29" width="1.2" height="0.7" fill="#fff" opacity="0.3"/>
<rect x="251.90" y="259.99" width="1.2" height="0.7" fill="#fff" opacity="0.3"/>
<rect x="244.46" y="253.73" width="1.2" height="0.7" fill="#fff" opacity="0.3"/>
<rect x="249.03" y="256.59" width="1.2" height="0.7" fill="#fff" opacity="0.3"/>
<rect x="247.87" y="251.88" width="1.2" height="0.7" fill="#fff" opacity="0.3"/>
<rect x="244.32" y="251.68" width="1.2" height="0.7" fill="#fff" opacity="0.3"/>
<rect x="252.64" y="257.97" width="1.2" height="0.7" fill="#fff" opacity="0.3"/>
<rect x="251.72" y="250.55" width="1.2" height="0.7" fill="#fff" opacity="0.3"/>
<rect x="247.18" y="256.66" width="1.2" height="0.7" fill="#fff" opacity="0.3"/>
<rect x="251.72" y="254.28" width="1.2" height="0.7" fill="#fff" opacity="0.3"/>
<rect x="249.32" y="255.91" width="1.2" height="0.7" fill="#fff" opacity="0.3"/>
<rect x="250.31" y="259.90" width="1.2" height="0.7" fill="#fff" opacity="0.3"/>
<rect x="250.04" y="258.72" width="1.2" height="0.7" fill="#fff" opacity="0.3"/>
<rect x="248.00" y="256.38" width="1.2" height="0.7" fill="#fff" opacity="0.3"/>
<rect x="250.78" y="250.96" width="1.2" height="0.7" fill="#fff" opacity="0.3"/>
<rect x="244.58" y="256.60" width="1.2" height="0.7" fill="#fff" opacity="0.3"/>
<rect x="246.87" y="250.69" width="1.2" height="0.7" fill="#fff" opacity="0.3"/>
<rect x="246.75" y="254.00" width="1.2" height="0.7" fill="#fff" opacity="0.3"/>
<rect x="246.72" y="252.80" width="1.2" height="0.7" fill="#fff" opacity="0.3"/>
<rect x="247.43" y="253.62" width="1.2" height="0.7" fill="#fff" opacity="0.3"/>
<rect x="245.38" y="254.00" width="1.2" height="0.7" fill="#fff" opacity="0.3"/>
<rect x="247.77" y="258.02" width="1.2" height="0.7" fill="#fff" opacity="0.3"/>
<rect x="248.28" y="253.85" width="1.2" height="0.7" fill="#fff" opacity="0.3"/>
<rect x="247.88" y="252.47" width="1.2" height="0.7" fill="#fff" opacity="0.3"/>
<rect x="246.32" y="247.29" width="3.79" height="1.66" rx="0.5" fill="#b6be56"/>
<rect x="245.04" y="245.93" width="6.36" height="1.66" rx="0.5" fill="#b6be56"/>
<rect x="246.46" y="244.57" width="3.53" height="1.66" rx="0.5" fill="#b6be56"/>
<rect x="246.45" y="243.21" width="3.54" height="1.66" rx="0.5" fill="#b6be56"/>
<rect x="247.28" y="241.85" width="1.89" height="1.66" rx="0.5" fill="#b6be56"/>
<circle cx="251.06" cy="243.98" r="0.5" fill="#b6be56" opacity="0.8"/>
<circle cx="248.76" cy="243.87" r="0.5" fill="#b6be56" opacity="0.8"/>
<circle cx="247.09" cy="247.39" r="0.5" fill="#b6be56" opacity="0.8"/>
<circle cx="243.87" cy="243.81" r="0.5" fill="#b6be56" opacity="0.8"/>
<circle cx="248.39" cy="234.00" r="0.7" fill="#b6be56" opacity="0.9"/>
<circle cx="247.83" cy="225.00" r="0.7" fill="#b6be56" opacity="0.9"/>
<line x1="248.22" y1="264.50" x2="248.22" y2="265.40" stroke="#888" stroke-width="0.3"/>
<text x="248.22" y="268.30" font-family="Liberation Sans" font-size="2.8" font-weight="normal" fill="#555" text-anchor="middle" >4</text>
<rect x="255.96" y="249.40" width="11.80" height="11.60" rx="0.6" fill="#70c85a"/>
<rect x="259.76" y="256.70" width="1.2" height="0.7" fill="#fff" opacity="0.3"/>
<rect x="265.32" y="253.42" width="1.2" height="0.7" fill="#fff" opacity="0.3"/>
<rect x="261.83" y="254.86" width="1.2" height="0.7" fill="#fff" opacity="0.3"/>
<rect x="266.35" y="250.48" width="1.2" height="0.7" fill="#fff" opacity="0.3"/>
<rect x="260.93" y="255.08" width="1.2" height="0.7" fill="#fff" opacity="0.3"/>
<rect x="258.95" y="257.70" width="1.2" height="0.7" fill="#fff" opacity="0.3"/>
<rect x="264.64" y="255.35" width="1.2" height="0.7" fill="#fff" opacity="0.3"/>
<rect x="260.50" y="254.24" width="1.2" height="0.7" fill="#fff" opacity="0.3"/>
<rect x="258.52" y="257.97" width="1.2" height="0.7" fill="#fff" opacity="0.3"/>
<rect x="259.39" y="259.57" width="1.2" height="0.7" fill="#fff" opacity="0.3"/>
<rect x="258.27" y="257.07" width="1.2" height="0.7" fill="#fff" opacity="0.3"/>
<rect x="259.11" y="255.16" width="1.2" height="0.7" fill="#fff" opacity="0.3"/>
<rect x="264.16" y="259.94" width="1.2" height="0.7" fill="#fff" opacity="0.3"/>
<rect x="257.67" y="253.25" width="1.2" height="0.7" fill="#fff" opacity="0.3"/>
<rect x="257.98" y="253.97" width="1.2" height="0.7" fill="#fff" opacity="0.3"/>
<rect x="262.66" y="257.81" width="1.2" height="0.7" fill="#fff" opacity="0.3"/>
<rect x="265.74" y="258.34" width="1.2" height="0.7" fill="#fff" opacity="0.3"/>
<rect x="261.36" y="258.46" width="1.2" height="0.7" fill="#fff" opacity="0.3"/>
<rect x="266.63" y="259.72" width="1.2" height="0.7" fill="#fff" opacity="0.3"/>
<rect x="261.37" y="251.53" width="1.2" height="0.7" fill="#fff" opacity="0.3"/>
<rect x="263.95" y="252.09" width="1.2" height="0.7" fill="#fff" opacity="0.3"/>
<rect x="258.09" y="252.74" width="1.2" height="0.7" fill="#fff" opacity="0.3"/>
<rect x="261.70" y="258.33" width="1.2" height="0.7" fill="#fff" opacity="0.3"/>
<rect x="257.73" y="255.37" width="1.2" height="0.7" fill="#fff" opacity="0.3"/>
<rect x="264.41" y="257.47" width="1.2" height="0.7" fill="#fff" opacity="0.3"/>
<rect x="260.53" y="254.20" width="1.2" height="0.7" fill="#fff" opacity="0.3"/>
<rect x="258.09" y="251.88" width="1.2" height="0.7" fill="#fff" opacity="0.3"/>
<rect x="261.60" y="254.06" width="1.2" height="0.7" fill="#fff" opacity="0.3"/>
<rect x="266.11" y="257.77" width="1.2" height="0.7" fill="#fff" opacity="0.3"/>
<rect x="260.96" y="253.95" width="1.2" height="0.7" fill="#fff" opacity="0.3"/>
<rect x="260.42" y="258.10" width="1.2" height="0.7" fill="#fff" opacity="0.3"/>
<rect x="263.62" y="252.17" width="1.2" height="0.7" fill="#fff" opacity="0.3"/>
<rect x="260.26" y="253.54" width="1.2" height="0.7" fill="#fff" opacity="0.3"/>
<rect x="261.47" y="257.87" width="1.2" height="0.7" fill="#fff" opacity="0.3"/>
<rect x="260.10" y="248.07" width="3.51" height="1.48" rx="0.5" fill="#70c85a"/>
<rect x="258.33" y="246.90" width="7.07" height="1.48" rx="0.5" fill="#70c85a"/>
<rect x="258.27" y="245.72" width="7.18" height="1.48" rx="0.5" fill="#70c85a"/>
<rect x="259.62" y="244.55" width="4.48" height="1.48" rx="0.5" fill="#70c85a"/>
<rect x="259.11" y="243.38" width="5.50" height="1.48" rx="0.5" fill="#70c85a"/>
<rect x="260.66" y="242.20" width="2.39" height="1.48" rx="0.5" fill="#70c85a"/>
<rect x="261.27" y="241.02" width="1.19" height="1.48" rx="0.5" fill="#70c85a"/>
<rect x="261.38" y="239.85" width="0.96" height="1.48" rx="0.5" fill="#70c85a"/>
<circle cx="257.57" cy="245.30" r="0.5" fill="#70c85a" opacity="0.8"/>
<circle cx="260.66" cy="240.17" r="0.5" fill="#70c85a" opacity="0.8"/>
<circle cx="261.45" cy="242.66" r="0.5" fill="#70c85a" opacity="0.8"/>
<circle cx="257.48" cy="248.93" r="0.5" fill="#70c85a" opacity="0.8"/>
<circle cx="257.79" cy="242.31" r="0.5" fill="#70c85a" opacity="0.8"/>
<circle cx="261.17" cy="235.50" r="0.7" fill="#70c85a" opacity="0.9"/>
<circle cx="262.02" cy="220.50" r="0.7" fill="#70c85a" opacity="0.9"/>
<circle cx="262.47" cy="203.80" r="0.7" fill="#70c85a" opacity="0.9"/>
<line x1="261.86" y1="264.50" x2="261.86" y2="265.40" stroke="#888" stroke-width="0.3"/>
<text x="261.86" y="268.30" font-family="Liberation Sans" font-size="2.8" font-weight="normal" fill="#555" text-anchor="middle" >5</text>
<rect x="269.60" y="250.60" width="11.80" height="10.40" rx="0.6" fill="#58c89e"/>
<rect x="275.71" y="256.68" width="1.2" height="0.7" fill="#fff" opacity="0.3"/>
<rect x="276.70" y="252.39" width="1.2" height="0.7" fill="#fff" opacity="0.3"/>
<rect x="273.74" y="254.98" width="1.2" height="0.7" fill="#fff" opacity="0.3"/>
<rect x="277.20" y="252.30" width="1.2" height="0.7" fill="#fff" opacity="0.3"/>
<rect x="273.36" y="258.39" width="1.2" height="0.7" fill="#fff" opacity="0.3"/>
<rect x="278.36" y="254.30" width="1.2" height="0.7" fill="#fff" opacity="0.3"/>
<rect x="274.01" y="257.25" width="1.2" height="0.7" fill="#fff" opacity="0.3"/>
<rect x="278.23" y="256.63" width="1.2" height="0.7" fill="#fff" opacity="0.3"/>
<rect x="272.73" y="257.81" width="1.2" height="0.7" fill="#fff" opacity="0.3"/>
<rect x="277.78" y="254.93" width="1.2" height="0.7" fill="#fff" opacity="0.3"/>
<rect x="278.18" y="257.76" width="1.2" height="0.7" fill="#fff" opacity="0.3"/>
<rect x="271.44" y="259.18" width="1.2" height="0.7" fill="#fff" opacity="0.3"/>
<rect x="275.19" y="253.51" width="1.2" height="0.7" fill="#fff" opacity="0.3"/>
<rect x="276.28" y="252.38" width="1.2" height="0.7" fill="#fff" opacity="0.3"/>
<rect x="275.20" y="253.39" width="1.2" height="0.7" fill="#fff" opacity="0.3"/>
<rect x="279.45" y="251.74" width="1.2" height="0.7" fill="#fff" opacity="0.3"/>
<rect x="278.86" y="259.48" width="1.2" height="0.7" fill="#fff" opacity="0.3"/>
<rect x="275.93" y="258.08" width="1.2" height="0.7" fill="#fff" opacity="0.3"/>
<rect x="276.92" y="257.50" width="1.2" height="0.7" fill="#fff" opacity="0.3"/>
<rect x="272.56" y="256.46" width="1.2" height="0.7" fill="#fff" opacity="0.3"/>
<rect x="275.84" y="257.03" width="1.2" height="0.7" fill="#fff" opacity="0.3"/>
<rect x="273.96" y="254.39" width="1.2" height="0.7" fill="#fff" opacity="0.3"/>
<rect x="279.97" y="256.02" width="1.2" height="0.7" fill="#fff" opacity="0.3"/>
<rect x="278.77" y="259.72" width="1.2" height="0.7" fill="#fff" opacity="0.3"/>
<rect x="279.82" y="258.34" width="1.2" height="0.7" fill="#fff" opacity="0.3"/>
<rect x="275.01" y="253.32" width="1.2" height="0.7" fill="#fff" opacity="0.3"/>
<rect x="272.65" y="253.82" width="1.2" height="0.7" fill="#fff" opacity="0.3"/>
<rect x="273.52" y="255.75" width="1.2" height="0.7" fill="#fff" opacity="0.3"/>
<rect x="272.38" y="257.51" width="1.2" height="0.7" fill="#fff" opacity="0.3"/>
<rect x="273.13" y="253.01" width="1.2" height="0.7" fill="#fff" opacity="0.3"/>
<rect x="272.24" y="251.72" width="1.2" height="0.7" fill="#fff" opacity="0.3"/>
<rect x="270.11" y="249.10" width="10.79" height="1.65" rx="0.5" fill="#58c89e"/>
<rect x="270.88" y="247.75" width="9.23" height="1.65" rx="0.5" fill="#58c89e"/>
<rect x="272.99" y="246.40" width="5.02" height="1.65" rx="0.5" fill="#58c89e"/>
<rect x="273.04" y="245.05" width="4.92" height="1.65" rx="0.5" fill="#58c89e"/>
<rect x="274.48" y="243.70" width="2.05" height="1.65" rx="0.5" fill="#58c89e"/>
<rect x="274.56" y="242.35" width="1.89" height="1.65" rx="0.5" fill="#58c89e"/>
<circle cx="274.28" cy="245.73" r="0.5" fill="#58c89e" opacity="0.8"/>
<circle cx="278.03" cy="242.91" r="0.5" fill="#58c89e" opacity="0.8"/>
<circle cx="280.29" cy="244.41" r="0.5" fill="#58c89e" opacity="0.8"/>
<circle cx="277.64" cy="249.75" r="0.5" fill="#58c89e" opacity="0.8"/>
<line x1="275.50" y1="264.50" x2="275.50" y2="265.40" stroke="#888" stroke-width="0.3"/>
<text x="275.50" y="268.30" font-family="Liberation Sans" font-size="2.8" font-weight="normal" fill="#555" text-anchor="middle" >6</text>
<rect x="283.24" y="251.50" width="11.80" height="9.50" rx="0.6" fill="#56c4bc"/>
<rect x="288.59" y="258.64" width="1.2" height="0.7" fill="#fff" opacity="0.3"/>
<rect x="290.92" y="257.82" width="1.2" height="0.7" fill="#fff" opacity="0.3"/>
<rect x="293.06" y="257.65" width="1.2" height="0.7" fill="#fff" opacity="0.3"/>
<rect x="290.59" y="254.72" width="1.2" height="0.7" fill="#fff" opacity="0.3"/>
<rect x="286.35" y="257.41" width="1.2" height="0.7" fill="#fff" opacity="0.3"/>
<rect x="292.26" y="257.77" width="1.2" height="0.7" fill="#fff" opacity="0.3"/>
<rect x="293.17" y="257.53" width="1.2" height="0.7" fill="#fff" opacity="0.3"/>
<rect x="292.07" y="252.72" width="1.2" height="0.7" fill="#fff" opacity="0.3"/>
<rect x="285.56" y="254.33" width="1.2" height="0.7" fill="#fff" opacity="0.3"/>
<rect x="286.09" y="253.06" width="1.2" height="0.7" fill="#fff" opacity="0.3"/>
<rect x="286.10" y="253.98" width="1.2" height="0.7" fill="#fff" opacity="0.3"/>
<rect x="284.75" y="254.66" width="1.2" height="0.7" fill="#fff" opacity="0.3"/>
<rect x="290.59" y="258.12" width="1.2" height="0.7" fill="#fff" opacity="0.3"/>
<rect x="285.48" y="256.71" width="1.2" height="0.7" fill="#fff" opacity="0.3"/>
<rect x="287.77" y="256.93" width="1.2" height="0.7" fill="#fff" opacity="0.3"/>
<rect x="286.16" y="259.17" width="1.2" height="0.7" fill="#fff" opacity="0.3"/>
<rect x="288.48" y="254.86" width="1.2" height="0.7" fill="#fff" opacity="0.3"/>
<rect x="289.35" y="254.91" width="1.2" height="0.7" fill="#fff" opacity="0.3"/>
<rect x="292.86" y="255.56" width="1.2" height="0.7" fill="#fff" opacity="0.3"/>
<rect x="286.00" y="256.21" width="1.2" height="0.7" fill="#fff" opacity="0.3"/>
<rect x="285.58" y="259.92" width="1.2" height="0.7" fill="#fff" opacity="0.3"/>
<rect x="284.51" y="258.26" width="1.2" height="0.7" fill="#fff" opacity="0.3"/>
<rect x="286.60" y="255.63" width="1.2" height="0.7" fill="#fff" opacity="0.3"/>
<rect x="291.15" y="253.70" width="1.2" height="0.7" fill="#fff" opacity="0.3"/>
<rect x="290.14" y="255.96" width="1.2" height="0.7" fill="#fff" opacity="0.3"/>
<rect x="293.14" y="257.25" width="1.2" height="0.7" fill="#fff" opacity="0.3"/>
<rect x="284.62" y="255.41" width="1.2" height="0.7" fill="#fff" opacity="0.3"/>
<rect x="285.12" y="257.73" width="1.2" height="0.7" fill="#fff" opacity="0.3"/>
<circle cx="289.31" cy="220.20" r="0.7" fill="#56c4bc" opacity="0.9"/>
<line x1="289.14" y1="264.50" x2="289.14" y2="265.40" stroke="#888" stroke-width="0.3"/>
<text x="289.14" y="268.30" font-family="Liberation Sans" font-size="2.8" font-weight="normal" fill="#555" text-anchor="middle" >7</text>
<rect x="296.88" y="255.50" width="11.80" height="5.50" rx="0.6" fill="#50bcd2"/>
<rect x="306.54" y="258.62" width="1.2" height="0.7" fill="#fff" opacity="0.3"/>
<rect x="300.73" y="256.95" width="1.2" height="0.7" fill="#fff" opacity="0.3"/>
<rect x="300.84" y="257.68" width="1.2" height="0.7" fill="#fff" opacity="0.3"/>
<rect x="301.92" y="257.43" width="1.2" height="0.7" fill="#fff" opacity="0.3"/>
<rect x="300.32" y="256.73" width="1.2" height="0.7" fill="#fff" opacity="0.3"/>
<rect x="301.95" y="258.61" width="1.2" height="0.7" fill="#fff" opacity="0.3"/>
<rect x="307.06" y="259.61" width="1.2" height="0.7" fill="#fff" opacity="0.3"/>
<rect x="299.94" y="257.55" width="1.2" height="0.7" fill="#fff" opacity="0.3"/>
<rect x="299.47" y="259.94" width="1.2" height="0.7" fill="#fff" opacity="0.3"/>
<rect x="303.89" y="257.33" width="1.2" height="0.7" fill="#fff" opacity="0.3"/>
<rect x="298.06" y="259.56" width="1.2" height="0.7" fill="#fff" opacity="0.3"/>
<rect x="304.33" y="256.91" width="1.2" height="0.7" fill="#fff" opacity="0.3"/>
<rect x="298.69" y="258.35" width="1.2" height="0.7" fill="#fff" opacity="0.3"/>
<rect x="298.23" y="259.13" width="1.2" height="0.7" fill="#fff" opacity="0.3"/>
<rect x="302.51" y="258.59" width="1.2" height="0.7" fill="#fff" opacity="0.3"/>
<rect x="300.60" y="258.47" width="1.2" height="0.7" fill="#fff" opacity="0.3"/>
<rect x="299.74" y="254.01" width="6.08" height="1.64" rx="0.5" fill="#50bcd2"/>
<rect x="299.55" y="252.67" width="6.47" height="1.64" rx="0.5" fill="#50bcd2"/>
<rect x="300.21" y="251.33" width="5.15" height="1.64" rx="0.5" fill="#50bcd2"/>
<rect x="301.11" y="249.99" width="3.35" height="1.64" rx="0.5" fill="#50bcd2"/>
<rect x="301.84" y="248.65" width="1.89" height="1.64" rx="0.5" fill="#50bcd2"/>
<circle cx="301.73" cy="249.15" r="0.5" fill="#50bcd2" opacity="0.8"/>
<circle cx="300.23" cy="255.01" r="0.5" fill="#50bcd2" opacity="0.8"/>
<circle cx="302.80" cy="249.58" r="0.5" fill="#50bcd2" opacity="0.8"/>
<circle cx="299.06" cy="253.43" r="0.5" fill="#50bcd2" opacity="0.8"/>
<line x1="302.78" y1="264.50" x2="302.78" y2="265.40" stroke="#888" stroke-width="0.3"/>
<text x="302.78" y="268.30" font-family="Liberation Sans" font-size="2.8" font-weight="normal" fill="#555" text-anchor="middle" >8</text>
<rect x="310.52" y="251.50" width="11.80" height="9.50" rx="0.6" fill="#68b2f4"/>
<rect x="312.29" y="254.10" width="1.2" height="0.7" fill="#fff" opacity="0.3"/>
<rect x="318.68" y="253.69" width="1.2" height="0.7" fill="#fff" opacity="0.3"/>
<rect x="314.20" y="254.32" width="1.2" height="0.7" fill="#fff" opacity="0.3"/>
<rect x="313.00" y="258.30" width="1.2" height="0.7" fill="#fff" opacity="0.3"/>
<rect x="318.48" y="258.76" width="1.2" height="0.7" fill="#fff" opacity="0.3"/>
<rect x="319.78" y="259.68" width="1.2" height="0.7" fill="#fff" opacity="0.3"/>
<rect x="316.56" y="252.69" width="1.2" height="0.7" fill="#fff" opacity="0.3"/>
<rect x="319.94" y="252.98" width="1.2" height="0.7" fill="#fff" opacity="0.3"/>
<rect x="318.46" y="254.42" width="1.2" height="0.7" fill="#fff" opacity="0.3"/>
<rect x="318.58" y="256.78" width="1.2" height="0.7" fill="#fff" opacity="0.3"/>
<rect x="314.03" y="252.66" width="1.2" height="0.7" fill="#fff" opacity="0.3"/>
<rect x="320.25" y="258.85" width="1.2" height="0.7" fill="#fff" opacity="0.3"/>
<rect x="320.53" y="258.88" width="1.2" height="0.7" fill="#fff" opacity="0.3"/>
<rect x="320.28" y="257.85" width="1.2" height="0.7" fill="#fff" opacity="0.3"/>
<rect x="316.48" y="255.51" width="1.2" height="0.7" fill="#fff" opacity="0.3"/>
<rect x="316.00" y="253.13" width="1.2" height="0.7" fill="#fff" opacity="0.3"/>
<rect x="311.38" y="254.71" width="1.2" height="0.7" fill="#fff" opacity="0.3"/>
<rect x="311.42" y="255.36" width="1.2" height="0.7" fill="#fff" opacity="0.3"/>
<rect x="315.70" y="253.78" width="1.2" height="0.7" fill="#fff" opacity="0.3"/>
<rect x="318.74" y="254.57" width="1.2" height="0.7" fill="#fff" opacity="0.3"/>
<rect x="320.37" y="256.11" width="1.2" height="0.7" fill="#fff" opacity="0.3"/>
<rect x="317.69" y="253.78" width="1.2" height="0.7" fill="#fff" opacity="0.3"/>
<rect x="313.47" y="256.45" width="1.2" height="0.7" fill="#fff" opacity="0.3"/>
<rect x="319.27" y="259.17" width="1.2" height="0.7" fill="#fff" opacity="0.3"/>
<rect x="312.91" y="259.89" width="1.2" height="0.7" fill="#fff" opacity="0.3"/>
<rect x="315.37" y="256.72" width="1.2" height="0.7" fill="#fff" opacity="0.3"/>
<rect x="315.68" y="256.81" width="1.2" height="0.7" fill="#fff" opacity="0.3"/>
<rect x="318.71" y="252.86" width="1.2" height="0.7" fill="#fff" opacity="0.3"/>
<rect x="312.77" y="250.18" width="7.30" height="1.47" rx="0.5" fill="#68b2f4"/>
<rect x="314.52" y="249.02" width="3.79" height="1.47" rx="0.5" fill="#68b2f4"/>
<rect x="315.46" y="247.85" width="1.92" height="1.47" rx="0.5" fill="#68b2f4"/>
<circle cx="315.79" cy="249.99" r="0.5" fill="#68b2f4" opacity="0.8"/>
<circle cx="321.14" cy="251.33" r="0.5" fill="#68b2f4" opacity="0.8"/>
<line x1="316.42" y1="264.50" x2="316.42" y2="265.40" stroke="#888" stroke-width="0.3"/>
<text x="316.42" y="268.30" font-family="Liberation Sans" font-size="2.8" font-weight="normal" fill="#555" text-anchor="middle" >9</text>
<rect x="324.16" y="243.80" width="11.80" height="17.20" rx="0.6" fill="#b29ef4"/>
<rect x="326.50" y="248.38" width="1.2" height="0.7" fill="#fff" opacity="0.3"/>
<rect x="331.37" y="254.89" width="1.2" height="0.7" fill="#fff" opacity="0.3"/>
<rect x="327.73" y="259.95" width="1.2" height="0.7" fill="#fff" opacity="0.3"/>
<rect x="325.29" y="257.07" width="1.2" height="0.7" fill="#fff" opacity="0.3"/>
<rect x="326.71" y="246.39" width="1.2" height="0.7" fill="#fff" opacity="0.3"/>
<rect x="333.47" y="248.93" width="1.2" height="0.7" fill="#fff" opacity="0.3"/>
<rect x="328.35" y="249.13" width="1.2" height="0.7" fill="#fff" opacity="0.3"/>
<rect x="334.82" y="259.19" width="1.2" height="0.7" fill="#fff" opacity="0.3"/>
<rect x="330.95" y="256.81" width="1.2" height="0.7" fill="#fff" opacity="0.3"/>
<rect x="333.50" y="258.01" width="1.2" height="0.7" fill="#fff" opacity="0.3"/>
<rect x="331.12" y="253.98" width="1.2" height="0.7" fill="#fff" opacity="0.3"/>
<rect x="325.70" y="251.17" width="1.2" height="0.7" fill="#fff" opacity="0.3"/>
<rect x="331.13" y="248.62" width="1.2" height="0.7" fill="#fff" opacity="0.3"/>
<rect x="329.07" y="255.15" width="1.2" height="0.7" fill="#fff" opacity="0.3"/>
<rect x="330.02" y="254.56" width="1.2" height="0.7" fill="#fff" opacity="0.3"/>
<rect x="328.79" y="256.23" width="1.2" height="0.7" fill="#fff" opacity="0.3"/>
<rect x="333.04" y="245.35" width="1.2" height="0.7" fill="#fff" opacity="0.3"/>
<rect x="328.14" y="255.41" width="1.2" height="0.7" fill="#fff" opacity="0.3"/>
<rect x="333.76" y="247.43" width="1.2" height="0.7" fill="#fff" opacity="0.3"/>
<rect x="330.72" y="250.07" width="1.2" height="0.7" fill="#fff" opacity="0.3"/>
<rect x="333.03" y="258.74" width="1.2" height="0.7" fill="#fff" opacity="0.3"/>
<rect x="334.83" y="255.41" width="1.2" height="0.7" fill="#fff" opacity="0.3"/>
<rect x="326.85" y="249.24" width="1.2" height="0.7" fill="#fff" opacity="0.3"/>
<rect x="333.22" y="259.67" width="1.2" height="0.7" fill="#fff" opacity="0.3"/>
<rect x="330.03" y="259.55" width="1.2" height="0.7" fill="#fff" opacity="0.3"/>
<rect x="332.49" y="250.75" width="1.2" height="0.7" fill="#fff" opacity="0.3"/>
<rect x="333.73" y="253.52" width="1.2" height="0.7" fill="#fff" opacity="0.3"/>
<rect x="328.29" y="252.61" width="1.2" height="0.7" fill="#fff" opacity="0.3"/>
<rect x="326.76" y="252.51" width="1.2" height="0.7" fill="#fff" opacity="0.3"/>
<rect x="332.30" y="252.65" width="1.2" height="0.7" fill="#fff" opacity="0.3"/>
<rect x="327.88" y="254.45" width="1.2" height="0.7" fill="#fff" opacity="0.3"/>
<rect x="334.37" y="245.84" width="1.2" height="0.7" fill="#fff" opacity="0.3"/>
<rect x="328.79" y="253.94" width="1.2" height="0.7" fill="#fff" opacity="0.3"/>
<rect x="330.09" y="255.34" width="1.2" height="0.7" fill="#fff" opacity="0.3"/>
<rect x="328.76" y="253.29" width="1.2" height="0.7" fill="#fff" opacity="0.3"/>
<rect x="332.46" y="247.10" width="1.2" height="0.7" fill="#fff" opacity="0.3"/>
<rect x="326.28" y="258.34" width="1.2" height="0.7" fill="#fff" opacity="0.3"/>
<rect x="334.94" y="259.11" width="1.2" height="0.7" fill="#fff" opacity="0.3"/>
<rect x="329.92" y="246.31" width="1.2" height="0.7" fill="#fff" opacity="0.3"/>
<rect x="332.87" y="245.31" width="1.2" height="0.7" fill="#fff" opacity="0.3"/>
<rect x="332.46" y="248.59" width="1.2" height="0.7" fill="#fff" opacity="0.3"/>
<rect x="325.26" y="245.67" width="1.2" height="0.7" fill="#fff" opacity="0.3"/>
<rect x="328.76" y="249.70" width="1.2" height="0.7" fill="#fff" opacity="0.3"/>
<rect x="327.93" y="250.31" width="1.2" height="0.7" fill="#fff" opacity="0.3"/>
<rect x="334.95" y="254.09" width="1.2" height="0.7" fill="#fff" opacity="0.3"/>
<rect x="325.98" y="254.83" width="1.2" height="0.7" fill="#fff" opacity="0.3"/>
<rect x="331.56" y="245.54" width="1.2" height="0.7" fill="#fff" opacity="0.3"/>
<rect x="334.79" y="246.85" width="1.2" height="0.7" fill="#fff" opacity="0.3"/>
<rect x="333.10" y="259.49" width="1.2" height="0.7" fill="#fff" opacity="0.3"/>
<rect x="327.27" y="258.30" width="1.2" height="0.7" fill="#fff" opacity="0.3"/>
<rect x="333.94" y="246.96" width="1.2" height="0.7" fill="#fff" opacity="0.3"/>
<rect x="324.73" y="242.25" width="10.65" height="1.70" rx="0.5" fill="#b29ef4"/>
<rect x="327.10" y="240.85" width="5.92" height="1.70" rx="0.5" fill="#b29ef4"/>
<circle cx="328.07" cy="243.19" r="0.5" fill="#b29ef4" opacity="0.8"/>
<line x1="330.06" y1="264.50" x2="330.06" y2="265.40" stroke="#888" stroke-width="0.3"/>
<text x="330.06" y="268.30" font-family="Liberation Sans" font-size="2.8" font-weight="normal" fill="#555" text-anchor="middle" >10</text>
<rect x="337.80" y="240.40" width="11.80" height="20.60" rx="0.6" fill="#e888ec"/>
<rect x="341.12" y="257.60" width="1.2" height="0.7" fill="#fff" opacity="0.3"/>
<rect x="343.95" y="248.64" width="1.2" height="0.7" fill="#fff" opacity="0.3"/>
<rect x="338.65" y="241.94" width="1.2" height="0.7" fill="#fff" opacity="0.3"/>
<rect x="346.17" y="242.79" width="1.2" height="0.7" fill="#fff" opacity="0.3"/>
<rect x="346.47" y="253.20" width="1.2" height="0.7" fill="#fff" opacity="0.3"/>
<rect x="348.66" y="254.23" width="1.2" height="0.7" fill="#fff" opacity="0.3"/>
<rect x="342.25" y="242.90" width="1.2" height="0.7" fill="#fff" opacity="0.3"/>
<rect x="340.55" y="243.57" width="1.2" height="0.7" fill="#fff" opacity="0.3"/>
<rect x="346.14" y="242.76" width="1.2" height="0.7" fill="#fff" opacity="0.3"/>
<rect x="343.04" y="258.56" width="1.2" height="0.7" fill="#fff" opacity="0.3"/>
<rect x="338.92" y="249.36" width="1.2" height="0.7" fill="#fff" opacity="0.3"/>
<rect x="340.40" y="249.94" width="1.2" height="0.7" fill="#fff" opacity="0.3"/>
<rect x="347.17" y="247.59" width="1.2" height="0.7" fill="#fff" opacity="0.3"/>
<rect x="340.69" y="258.25" width="1.2" height="0.7" fill="#fff" opacity="0.3"/>
<rect x="343.73" y="258.89" width="1.2" height="0.7" fill="#fff" opacity="0.3"/>
<rect x="347.47" y="251.13" width="1.2" height="0.7" fill="#fff" opacity="0.3"/>
<rect x="340.39" y="248.12" width="1.2" height="0.7" fill="#fff" opacity="0.3"/>
<rect x="344.86" y="242.27" width="1.2" height="0.7" fill="#fff" opacity="0.3"/>
<rect x="343.43" y="255.21" width="1.2" height="0.7" fill="#fff" opacity="0.3"/>
<rect x="344.27" y="259.24" width="1.2" height="0.7" fill="#fff" opacity="0.3"/>
<rect x="347.80" y="249.80" width="1.2" height="0.7" fill="#fff" opacity="0.3"/>
<rect x="346.36" y="257.27" width="1.2" height="0.7" fill="#fff" opacity="0.3"/>
<rect x="338.83" y="247.58" width="1.2" height="0.7" fill="#fff" opacity="0.3"/>
<rect x="343.28" y="252.39" width="1.2" height="0.7" fill="#fff" opacity="0.3"/>
<rect x="339.90" y="253.40" width="1.2" height="0.7" fill="#fff" opacity="0.3"/>
<rect x="338.90" y="242.85" width="1.2" height="0.7" fill="#fff" opacity="0.3"/>
<rect x="340.71" y="251.86" width="1.2" height="0.7" fill="#fff" opacity="0.3"/>
<rect x="339.92" y="252.16" width="1.2" height="0.7" fill="#fff" opacity="0.3"/>
<rect x="339.38" y="257.54" width="1.2" height="0.7" fill="#fff" opacity="0.3"/>
<rect x="341.24" y="244.27" width="1.2" height="0.7" fill="#fff" opacity="0.3"/>
<rect x="346.25" y="243.59" width="1.2" height="0.7" fill="#fff" opacity="0.3"/>
<rect x="345.76" y="253.39" width="1.2" height="0.7" fill="#fff" opacity="0.3"/>
<rect x="342.72" y="252.24" width="1.2" height="0.7" fill="#fff" opacity="0.3"/>
<rect x="341.30" y="258.53" width="1.2" height="0.7" fill="#fff" opacity="0.3"/>
<rect x="347.71" y="254.67" width="1.2" height="0.7" fill="#fff" opacity="0.3"/>
<rect x="343.03" y="250.99" width="1.2" height="0.7" fill="#fff" opacity="0.3"/>
<rect x="347.81" y="243.44" width="1.2" height="0.7" fill="#fff" opacity="0.3"/>
<rect x="343.98" y="252.85" width="1.2" height="0.7" fill="#fff" opacity="0.3"/>
<rect x="344.51" y="248.99" width="1.2" height="0.7" fill="#fff" opacity="0.3"/>
<rect x="348.13" y="244.02" width="1.2" height="0.7" fill="#fff" opacity="0.3"/>
<rect x="341.59" y="241.51" width="1.2" height="0.7" fill="#fff" opacity="0.3"/>
<rect x="347.72" y="247.94" width="1.2" height="0.7" fill="#fff" opacity="0.3"/>
<rect x="346.58" y="258.26" width="1.2" height="0.7" fill="#fff" opacity="0.3"/>
<rect x="338.75" y="245.56" width="1.2" height="0.7" fill="#fff" opacity="0.3"/>
<rect x="345.07" y="250.83" width="1.2" height="0.7" fill="#fff" opacity="0.3"/>
<rect x="341.35" y="248.07" width="1.2" height="0.7" fill="#fff" opacity="0.3"/>
<rect x="347.77" y="242.32" width="1.2" height="0.7" fill="#fff" opacity="0.3"/>
<rect x="347.50" y="246.83" width="1.2" height="0.7" fill="#fff" opacity="0.3"/>
<rect x="348.18" y="257.78" width="1.2" height="0.7" fill="#fff" opacity="0.3"/>
<rect x="343.25" y="259.87" width="1.2" height="0.7" fill="#fff" opacity="0.3"/>
<rect x="345.14" y="257.06" width="1.2" height="0.7" fill="#fff" opacity="0.3"/>
<rect x="343.62" y="248.73" width="1.2" height="0.7" fill="#fff" opacity="0.3"/>
<rect x="341.97" y="255.98" width="1.2" height="0.7" fill="#fff" opacity="0.3"/>
<rect x="340.03" y="255.72" width="1.2" height="0.7" fill="#fff" opacity="0.3"/>
<rect x="346.30" y="254.46" width="1.2" height="0.7" fill="#fff" opacity="0.3"/>
<rect x="341.56" y="253.45" width="1.2" height="0.7" fill="#fff" opacity="0.3"/>
<rect x="341.33" y="242.27" width="1.2" height="0.7" fill="#fff" opacity="0.3"/>
<rect x="343.15" y="257.29" width="1.2" height="0.7" fill="#fff" opacity="0.3"/>
<rect x="342.76" y="247.76" width="1.2" height="0.7" fill="#fff" opacity="0.3"/>
<rect x="338.81" y="259.31" width="1.2" height="0.7" fill="#fff" opacity="0.3"/>
<rect x="344.63" y="251.36" width="1.2" height="0.7" fill="#fff" opacity="0.3"/>
<rect x="341.48" y="239.12" width="4.43" height="1.43" rx="0.5" fill="#e888ec"/>
<rect x="340.34" y="237.98" width="6.72" height="1.43" rx="0.5" fill="#e888ec"/>
<rect x="342.28" y="236.85" width="2.84" height="1.43" rx="0.5" fill="#e888ec"/>
<circle cx="339.98" cy="239.89" r="0.5" fill="#e888ec" opacity="0.8"/>
<circle cx="343.42" cy="237.97" r="0.5" fill="#e888ec" opacity="0.8"/>
<line x1="343.70" y1="264.50" x2="343.70" y2="265.40" stroke="#888" stroke-width="0.3"/>
<text x="343.70" y="268.30" font-family="Liberation Sans" font-size="2.8" font-weight="normal" fill="#555" text-anchor="middle" >11</text>
<rect x="351.44" y="251.50" width="11.80" height="9.50" rx="0.6" fill="#f68ec6"/>
<rect x="360.53" y="254.19" width="1.2" height="0.7" fill="#fff" opacity="0.3"/>
<rect x="353.11" y="255.42" width="1.2" height="0.7" fill="#fff" opacity="0.3"/>
<rect x="361.48" y="256.52" width="1.2" height="0.7" fill="#fff" opacity="0.3"/>
<rect x="354.99" y="253.00" width="1.2" height="0.7" fill="#fff" opacity="0.3"/>
<rect x="360.57" y="258.90" width="1.2" height="0.7" fill="#fff" opacity="0.3"/>
<rect x="355.00" y="259.00" width="1.2" height="0.7" fill="#fff" opacity="0.3"/>
<rect x="357.44" y="256.28" width="1.2" height="0.7" fill="#fff" opacity="0.3"/>
<rect x="354.84" y="255.11" width="1.2" height="0.7" fill="#fff" opacity="0.3"/>
<rect x="357.30" y="258.68" width="1.2" height="0.7" fill="#fff" opacity="0.3"/>
<rect x="360.45" y="256.92" width="1.2" height="0.7" fill="#fff" opacity="0.3"/>
<rect x="357.51" y="258.20" width="1.2" height="0.7" fill="#fff" opacity="0.3"/>
<rect x="359.38" y="254.03" width="1.2" height="0.7" fill="#fff" opacity="0.3"/>
<rect x="356.00" y="253.39" width="1.2" height="0.7" fill="#fff" opacity="0.3"/>
<rect x="357.10" y="258.52" width="1.2" height="0.7" fill="#fff" opacity="0.3"/>
<rect x="354.53" y="259.16" width="1.2" height="0.7" fill="#fff" opacity="0.3"/>
<rect x="357.98" y="253.40" width="1.2" height="0.7" fill="#fff" opacity="0.3"/>
<rect x="354.99" y="258.89" width="1.2" height="0.7" fill="#fff" opacity="0.3"/>
<rect x="353.36" y="254.89" width="1.2" height="0.7" fill="#fff" opacity="0.3"/>
<rect x="359.63" y="256.05" width="1.2" height="0.7" fill="#fff" opacity="0.3"/>
<rect x="361.40" y="253.31" width="1.2" height="0.7" fill="#fff" opacity="0.3"/>
<rect x="357.94" y="259.36" width="1.2" height="0.7" fill="#fff" opacity="0.3"/>
<rect x="359.00" y="256.87" width="1.2" height="0.7" fill="#fff" opacity="0.3"/>
<rect x="355.55" y="259.07" width="1.2" height="0.7" fill="#fff" opacity="0.3"/>
<rect x="360.05" y="256.62" width="1.2" height="0.7" fill="#fff" opacity="0.3"/>
<rect x="352.93" y="253.57" width="1.2" height="0.7" fill="#fff" opacity="0.3"/>
<rect x="352.55" y="257.94" width="1.2" height="0.7" fill="#fff" opacity="0.3"/>
<rect x="361.43" y="254.58" width="1.2" height="0.7" fill="#fff" opacity="0.3"/>
<rect x="353.32" y="254.10" width="1.2" height="0.7" fill="#fff" opacity="0.3"/>
<rect x="351.84" y="250.01" width="10.99" height="1.64" rx="0.5" fill="#f68ec6"/>
<rect x="356.07" y="248.67" width="2.53" height="1.64" rx="0.5" fill="#f68ec6"/>
<rect x="354.88" y="247.33" width="4.93" height="1.64" rx="0.5" fill="#f68ec6"/>
<rect x="355.91" y="245.99" width="2.85" height="1.64" rx="0.5" fill="#f68ec6"/>
<rect x="356.40" y="244.65" width="1.89" height="1.64" rx="0.5" fill="#f68ec6"/>
<circle cx="355.72" cy="250.52" r="0.5" fill="#f68ec6" opacity="0.8"/>
<circle cx="355.46" cy="247.94" r="0.5" fill="#f68ec6" opacity="0.8"/>
<circle cx="357.12" cy="251.21" r="0.5" fill="#f68ec6" opacity="0.8"/>
<circle cx="357.54" cy="250.86" r="0.5" fill="#f68ec6" opacity="0.8"/>
<line x1="357.34" y1="264.50" x2="357.34" y2="265.40" stroke="#888" stroke-width="0.3"/>
<text x="357.34" y="268.30" font-family="Liberation Sans" font-size="2.8" font-weight="normal" fill="#555" text-anchor="middle" >12</text>
<text x="281.60" y="272.50" font-family="Liberation Sans" font-size="3.4" font-weight="normal" fill="#555" text-anchor="middle" >Date (T)</text>
<text x="224.70" y="212.20" font-family="Liberation Sans" font-size="6.6" font-weight="normal" fill="#262626" text-anchor="start" textLength="100.90" lengthAdjust="spacingAndGlyphs" stroke="#262626" stroke-width="0.14">High polluted city, Shanghai, 2019</text>
<rect x="200.20" y="279.40" width="164.00" height="63.90" fill="none" stroke="#e2e2e2" stroke-width="0.5"/>
<line x1="200.20" y1="341.30" x2="364.20" y2="341.30" stroke="#e6e6e6" stroke-width="0.6"/>
<text x="198.50" y="342.20" font-family="Liberation Sans" font-size="2.6" font-weight="normal" fill="#555" text-anchor="end" >0</text>
<line x1="200.20" y1="333.77" x2="364.20" y2="333.77" stroke="#e6e6e6" stroke-width="0.6"/>
<text x="198.50" y="334.67" font-family="Liberation Sans" font-size="2.6" font-weight="normal" fill="#555" text-anchor="end" >25</text>
<line x1="200.20" y1="326.24" x2="364.20" y2="326.24" stroke="#e6e6e6" stroke-width="0.6"/>
<text x="198.50" y="327.14" font-family="Liberation Sans" font-size="2.6" font-weight="normal" fill="#555" text-anchor="end" >50</text>
<line x1="200.20" y1="318.71" x2="364.20" y2="318.71" stroke="#e6e6e6" stroke-width="0.6"/>
<text x="198.50" y="319.61" font-family="Liberation Sans" font-size="2.6" font-weight="normal" fill="#555" text-anchor="end" >75</text>
<line x1="200.20" y1="311.18" x2="364.20" y2="311.18" stroke="#e6e6e6" stroke-width="0.6"/>
<text x="198.50" y="312.08" font-family="Liberation Sans" font-size="2.6" font-weight="normal" fill="#555" text-anchor="end" >100</text>
<line x1="200.20" y1="303.65" x2="364.20" y2="303.65" stroke="#e6e6e6" stroke-width="0.6"/>
<text x="198.50" y="304.55" font-family="Liberation Sans" font-size="2.6" font-weight="normal" fill="#555" text-anchor="end" >125</text>
<line x1="200.20" y1="296.12" x2="364.20" y2="296.12" stroke="#e6e6e6" stroke-width="0.6"/>
<text x="198.50" y="297.02" font-family="Liberation Sans" font-size="2.6" font-weight="normal" fill="#555" text-anchor="end" >150</text>
<line x1="200.20" y1="288.59" x2="364.20" y2="288.59" stroke="#e6e6e6" stroke-width="0.6"/>
<text x="198.50" y="289.49" font-family="Liberation Sans" font-size="2.6" font-weight="normal" fill="#555" text-anchor="end" >175</text>
<line x1="200.20" y1="281.06" x2="364.20" y2="281.06" stroke="#e6e6e6" stroke-width="0.6"/>
<text x="198.50" y="281.96" font-family="Liberation Sans" font-size="2.6" font-weight="normal" fill="#555" text-anchor="end" >200</text>
<text x="0" y="0" font-family="Liberation Sans" font-size="3.4" fill="#555" text-anchor="middle" transform="translate(193.90,311.35) rotate(-90)">pm25</text>
<rect x="201.40" y="313.70" width="11.80" height="26.80" rx="0.6" fill="#f49aac"/>
<rect x="206.39" y="334.22" width="1.2" height="0.7" fill="#fff" opacity="0.3"/>
<rect x="202.73" y="319.34" width="1.2" height="0.7" fill="#fff" opacity="0.3"/>
<rect x="204.09" y="316.86" width="1.2" height="0.7" fill="#fff" opacity="0.3"/>
<rect x="208.05" y="319.96" width="1.2" height="0.7" fill="#fff" opacity="0.3"/>
<rect x="212.36" y="335.06" width="1.2" height="0.7" fill="#fff" opacity="0.3"/>
<rect x="209.48" y="324.59" width="1.2" height="0.7" fill="#fff" opacity="0.3"/>
<rect x="202.25" y="327.62" width="1.2" height="0.7" fill="#fff" opacity="0.3"/>
<rect x="209.50" y="337.97" width="1.2" height="0.7" fill="#fff" opacity="0.3"/>
<rect x="209.88" y="326.43" width="1.2" height="0.7" fill="#fff" opacity="0.3"/>
<rect x="208.47" y="325.19" width="1.2" height="0.7" fill="#fff" opacity="0.3"/>
<rect x="209.50" y="327.88" width="1.2" height="0.7" fill="#fff" opacity="0.3"/>
<rect x="208.16" y="332.02" width="1.2" height="0.7" fill="#fff" opacity="0.3"/>
<rect x="205.16" y="316.11" width="1.2" height="0.7" fill="#fff" opacity="0.3"/>
<rect x="208.62" y="332.38" width="1.2" height="0.7" fill="#fff" opacity="0.3"/>
<rect x="206.97" y="327.80" width="1.2" height="0.7" fill="#fff" opacity="0.3"/>
<rect x="210.68" y="331.59" width="1.2" height="0.7" fill="#fff" opacity="0.3"/>
<rect x="212.33" y="319.37" width="1.2" height="0.7" fill="#fff" opacity="0.3"/>
<rect x="208.71" y="328.15" width="1.2" height="0.7" fill="#fff" opacity="0.3"/>
<rect x="203.75" y="335.36" width="1.2" height="0.7" fill="#fff" opacity="0.3"/>
<rect x="202.49" y="329.11" width="1.2" height="0.7" fill="#fff" opacity="0.3"/>
<rect x="212.15" y="335.67" width="1.2" height="0.7" fill="#fff" opacity="0.3"/>
<rect x="208.66" y="332.63" width="1.2" height="0.7" fill="#fff" opacity="0.3"/>
<rect x="206.48" y="334.17" width="1.2" height="0.7" fill="#fff" opacity="0.3"/>
<rect x="206.88" y="336.77" width="1.2" height="0.7" fill="#fff" opacity="0.3"/>
<rect x="209.61" y="338.49" width="1.2" height="0.7" fill="#fff" opacity="0.3"/>
<rect x="207.41" y="337.38" width="1.2" height="0.7" fill="#fff" opacity="0.3"/>
<rect x="210.65" y="335.07" width="1.2" height="0.7" fill="#fff" opacity="0.3"/>
<rect x="202.46" y="327.48" width="1.2" height="0.7" fill="#fff" opacity="0.3"/>
<rect x="208.54" y="317.17" width="1.2" height="0.7" fill="#fff" opacity="0.3"/>
<rect x="207.04" y="333.82" width="1.2" height="0.7" fill="#fff" opacity="0.3"/>
<rect x="205.66" y="331.13" width="1.2" height="0.7" fill="#fff" opacity="0.3"/>
<rect x="208.69" y="339.10" width="1.2" height="0.7" fill="#fff" opacity="0.3"/>
<rect x="212.27" y="333.68" width="1.2" height="0.7" fill="#fff" opacity="0.3"/>
<rect x="204.45" y="315.49" width="1.2" height="0.7" fill="#fff" opacity="0.3"/>
<rect x="203.02" y="336.68" width="1.2" height="0.7" fill="#fff" opacity="0.3"/>
<rect x="204.52" y="331.40" width="1.2" height="0.7" fill="#fff" opacity="0.3"/>
<rect x="209.86" y="335.78" width="1.2" height="0.7" fill="#fff" opacity="0.3"/>
<rect x="202.92" y="328.14" width="1.2" height="0.7" fill="#fff" opacity="0.3"/>
<rect x="211.41" y="327.69" width="1.2" height="0.7" fill="#fff" opacity="0.3"/>
<rect x="211.69" y="323.79" width="1.2" height="0.7" fill="#fff" opacity="0.3"/>
<rect x="211.28" y="330.94" width="1.2" height="0.7" fill="#fff" opacity="0.3"/>
<rect x="209.81" y="336.81" width="1.2" height="0.7" fill="#fff" opacity="0.3"/>
<rect x="207.54" y="326.10" width="1.2" height="0.7" fill="#fff" opacity="0.3"/>
<rect x="210.07" y="330.83" width="1.2" height="0.7" fill="#fff" opacity="0.3"/>
<rect x="204.74" y="332.37" width="1.2" height="0.7" fill="#fff" opacity="0.3"/>
<rect x="209.88" y="314.81" width="1.2" height="0.7" fill="#fff" opacity="0.3"/>
<rect x="210.18" y="316.16" width="1.2" height="0.7" fill="#fff" opacity="0.3"/>
<rect x="205.72" y="335.11" width="1.2" height="0.7" fill="#fff" opacity="0.3"/>
<rect x="211.31" y="330.66" width="1.2" height="0.7" fill="#fff" opacity="0.3"/>
<rect x="209.28" y="326.64" width="1.2" height="0.7" fill="#fff" opacity="0.3"/>
<rect x="206.15" y="317.92" width="1.2" height="0.7" fill="#fff" opacity="0.3"/>
<rect x="212.27" y="336.62" width="1.2" height="0.7" fill="#fff" opacity="0.3"/>
<rect x="206.25" y="327.54" width="1.2" height="0.7" fill="#fff" opacity="0.3"/>
<rect x="207.19" y="315.13" width="1.2" height="0.7" fill="#fff" opacity="0.3"/>
<rect x="203.21" y="332.87" width="1.2" height="0.7" fill="#fff" opacity="0.3"/>
<rect x="205.10" y="332.61" width="1.2" height="0.7" fill="#fff" opacity="0.3"/>
<rect x="204.18" y="326.51" width="1.2" height="0.7" fill="#fff" opacity="0.3"/>
<rect x="207.77" y="332.17" width="1.2" height="0.7" fill="#fff" opacity="0.3"/>
<rect x="205.22" y="338.51" width="1.2" height="0.7" fill="#fff" opacity="0.3"/>
<rect x="208.73" y="317.47" width="1.2" height="0.7" fill="#fff" opacity="0.3"/>
<rect x="206.21" y="320.01" width="1.2" height="0.7" fill="#fff" opacity="0.3"/>
<rect x="208.03" y="330.82" width="1.2" height="0.7" fill="#fff" opacity="0.3"/>
<rect x="206.51" y="319.95" width="1.2" height="0.7" fill="#fff" opacity="0.3"/>
<rect x="202.68" y="318.42" width="1.2" height="0.7" fill="#fff" opacity="0.3"/>
<rect x="208.59" y="332.26" width="1.2" height="0.7" fill="#fff" opacity="0.3"/>
<rect x="207.50" y="331.85" width="1.2" height="0.7" fill="#fff" opacity="0.3"/>
<rect x="210.90" y="327.35" width="1.2" height="0.7" fill="#fff" opacity="0.3"/>
<rect x="205.25" y="326.62" width="1.2" height="0.7" fill="#fff" opacity="0.3"/>
<rect x="207.54" y="322.76" width="1.2" height="0.7" fill="#fff" opacity="0.3"/>
<rect x="209.22" y="316.68" width="1.2" height="0.7" fill="#fff" opacity="0.3"/>
<rect x="203.39" y="317.09" width="1.2" height="0.7" fill="#fff" opacity="0.3"/>
<rect x="211.73" y="319.99" width="1.2" height="0.7" fill="#fff" opacity="0.3"/>
<rect x="209.70" y="320.71" width="1.2" height="0.7" fill="#fff" opacity="0.3"/>
<rect x="210.32" y="314.99" width="1.2" height="0.7" fill="#fff" opacity="0.3"/>
<rect x="203.85" y="332.16" width="1.2" height="0.7" fill="#fff" opacity="0.3"/>
<rect x="208.54" y="320.22" width="1.2" height="0.7" fill="#fff" opacity="0.3"/>
<rect x="203.57" y="333.85" width="1.2" height="0.7" fill="#fff" opacity="0.3"/>
<rect x="205.90" y="336.23" width="1.2" height="0.7" fill="#fff" opacity="0.3"/>
<rect x="205.95" y="327.84" width="1.2" height="0.7" fill="#fff" opacity="0.3"/>
<rect x="208.50" y="328.98" width="1.2" height="0.7" fill="#fff" opacity="0.3"/>
<rect x="205.29" y="312.33" width="4.02" height="1.52" rx="0.5" fill="#f49aac"/>
<rect x="204.01" y="311.10" width="6.57" height="1.52" rx="0.5" fill="#f49aac"/>
<rect x="202.40" y="309.88" width="9.80" height="1.52" rx="0.5" fill="#f49aac"/>
<rect x="203.40" y="308.65" width="7.80" height="1.52" rx="0.5" fill="#f49aac"/>
<rect x="204.71" y="307.43" width="5.18" height="1.52" rx="0.5" fill="#f49aac"/>
<rect x="205.80" y="306.21" width="3.00" height="1.52" rx="0.5" fill="#f49aac"/>
<rect x="206.17" y="304.98" width="2.25" height="1.52" rx="0.5" fill="#f49aac"/>
<rect x="202.87" y="303.76" width="8.86" height="1.52" rx="0.5" fill="#f49aac"/>
<rect x="202.68" y="302.54" width="9.23" height="1.52" rx="0.5" fill="#f49aac"/>
<rect x="203.71" y="301.31" width="7.18" height="1.52" rx="0.5" fill="#f49aac"/>
<rect x="204.70" y="300.09" width="5.20" height="1.52" rx="0.5" fill="#f49aac"/>
<rect x="204.39" y="298.86" width="5.82" height="1.52" rx="0.5" fill="#f49aac"/>
<rect x="204.80" y="297.64" width="4.99" height="1.52" rx="0.5" fill="#f49aac"/>
<rect x="206.14" y="296.42" width="2.31" height="1.52" rx="0.5" fill="#f49aac"/>
<rect x="206.57" y="295.19" width="1.46" height="1.52" rx="0.5" fill="#f49aac"/>
<rect x="206.48" y="293.97" width="1.64" height="1.52" rx="0.5" fill="#f49aac"/>
<rect x="205.26" y="292.75" width="4.08" height="1.52" rx="0.5" fill="#f49aac"/>
<rect x="206.57" y="291.52" width="1.46" height="1.52" rx="0.5" fill="#f49aac"/>
<rect x="205.47" y="290.30" width="3.65" height="1.52" rx="0.5" fill="#f49aac"/>
<rect x="206.54" y="289.07" width="1.52" height="1.52" rx="0.5" fill="#f49aac"/>
<rect x="206.98" y="287.85" width="0.64" height="1.52" rx="0.5" fill="#f49aac"/>
<circle cx="204.86" cy="292.83" r="0.5" fill="#f49aac" opacity="0.8"/>
<circle cx="203.96" cy="305.19" r="0.5" fill="#f49aac" opacity="0.8"/>
<circle cx="208.13" cy="299.95" r="0.5" fill="#f49aac" opacity="0.8"/>
<circle cx="206.34" cy="299.77" r="0.5" fill="#f49aac" opacity="0.8"/>
<circle cx="210.63" cy="313.49" r="0.5" fill="#f49aac" opacity="0.8"/>
<circle cx="205.44" cy="296.27" r="0.5" fill="#f49aac" opacity="0.8"/>
<circle cx="209.75" cy="305.53" r="0.5" fill="#f49aac" opacity="0.8"/>
<circle cx="210.76" cy="299.20" r="0.5" fill="#f49aac" opacity="0.8"/>
<circle cx="204.02" cy="300.52" r="0.5" fill="#f49aac" opacity="0.8"/>
<circle cx="210.89" cy="292.65" r="0.5" fill="#f49aac" opacity="0.8"/>
<circle cx="210.24" cy="311.55" r="0.5" fill="#f49aac" opacity="0.8"/>
<circle cx="204.78" cy="303.77" r="0.5" fill="#f49aac" opacity="0.8"/>
<circle cx="207.71" cy="292.24" r="0.5" fill="#f49aac" opacity="0.8"/>
<circle cx="206.06" cy="297.47" r="0.5" fill="#f49aac" opacity="0.8"/>
<circle cx="204.99" cy="309.04" r="0.5" fill="#f49aac" opacity="0.8"/>
<circle cx="207.85" cy="284.00" r="0.7" fill="#f49aac" opacity="0.9"/>
<circle cx="206.83" cy="281.00" r="0.7" fill="#f49aac" opacity="0.9"/>
<line x1="207.30" y1="343.30" x2="207.30" y2="344.20" stroke="#888" stroke-width="0.3"/>
<text x="207.30" y="347.70" font-family="Liberation Sans" font-size="2.8" font-weight="normal" fill="#555" text-anchor="middle" >1</text>
<rect x="215.04" y="325.50" width="11.80" height="15.00" rx="0.6" fill="#f6a862"/>
<rect x="220.50" y="326.51" width="1.2" height="0.7" fill="#fff" opacity="0.3"/>
<rect x="222.01" y="338.51" width="1.2" height="0.7" fill="#fff" opacity="0.3"/>
<rect x="216.11" y="329.17" width="1.2" height="0.7" fill="#fff" opacity="0.3"/>
<rect x="221.82" y="336.76" width="1.2" height="0.7" fill="#fff" opacity="0.3"/>
<rect x="217.27" y="333.42" width="1.2" height="0.7" fill="#fff" opacity="0.3"/>
<rect x="219.56" y="329.61" width="1.2" height="0.7" fill="#fff" opacity="0.3"/>
<rect x="221.09" y="332.59" width="1.2" height="0.7" fill="#fff" opacity="0.3"/>
<rect x="220.59" y="328.65" width="1.2" height="0.7" fill="#fff" opacity="0.3"/>
<rect x="221.20" y="338.41" width="1.2" height="0.7" fill="#fff" opacity="0.3"/>
<rect x="224.06" y="332.62" width="1.2" height="0.7" fill="#fff" opacity="0.3"/>
<rect x="216.16" y="336.81" width="1.2" height="0.7" fill="#fff" opacity="0.3"/>
<rect x="224.36" y="330.65" width="1.2" height="0.7" fill="#fff" opacity="0.3"/>
<rect x="222.34" y="328.25" width="1.2" height="0.7" fill="#fff" opacity="0.3"/>
<rect x="225.94" y="333.80" width="1.2" height="0.7" fill="#fff" opacity="0.3"/>
<rect x="220.08" y="334.99" width="1.2" height="0.7" fill="#fff" opacity="0.3"/>
<rect x="224.23" y="334.33" width="1.2" height="0.7" fill="#fff" opacity="0.3"/>
<rect x="216.74" y="326.63" width="1.2" height="0.7" fill="#fff" opacity="0.3"/>
<rect x="224.21" y="331.55" width="1.2" height="0.7" fill="#fff" opacity="0.3"/>
<rect x="219.72" y="330.05" width="1.2" height="0.7" fill="#fff" opacity="0.3"/>
<rect x="221.38" y="327.43" width="1.2" height="0.7" fill="#fff" opacity="0.3"/>
<rect x="220.94" y="332.70" width="1.2" height="0.7" fill="#fff" opacity="0.3"/>
<rect x="217.88" y="339.39" width="1.2" height="0.7" fill="#fff" opacity="0.3"/>
<rect x="223.25" y="329.21" width="1.2" height="0.7" fill="#fff" opacity="0.3"/>
<rect x="222.28" y="334.62" width="1.2" height="0.7" fill="#fff" opacity="0.3"/>
<rect x="224.09" y="332.18" width="1.2" height="0.7" fill="#fff" opacity="0.3"/>
<rect x="221.27" y="330.50" width="1.2" height="0.7" fill="#fff" opacity="0.3"/>
<rect x="218.54" y="335.83" width="1.2" height="0.7" fill="#fff" opacity="0.3"/>
<rect x="225.21" y="332.46" width="1.2" height="0.7" fill="#fff" opacity="0.3"/>
<rect x="223.29" y="330.07" width="1.2" height="0.7" fill="#fff" opacity="0.3"/>
<rect x="216.25" y="330.79" width="1.2" height="0.7" fill="#fff" opacity="0.3"/>
<rect x="222.50" y="336.75" width="1.2" height="0.7" fill="#fff" opacity="0.3"/>
<rect x="221.35" y="327.67" width="1.2" height="0.7" fill="#fff" opacity="0.3"/>
<rect x="219.65" y="332.04" width="1.2" height="0.7" fill="#fff" opacity="0.3"/>
<rect x="217.73" y="327.89" width="1.2" height="0.7" fill="#fff" opacity="0.3"/>
<rect x="221.40" y="328.49" width="1.2" height="0.7" fill="#fff" opacity="0.3"/>
<rect x="221.09" y="328.08" width="1.2" height="0.7" fill="#fff" opacity="0.3"/>
<rect x="219.64" y="328.70" width="1.2" height="0.7" fill="#fff" opacity="0.3"/>
<rect x="225.42" y="338.30" width="1.2" height="0.7" fill="#fff" opacity="0.3"/>
<rect x="220.63" y="333.23" width="1.2" height="0.7" fill="#fff" opacity="0.3"/>
<rect x="220.68" y="337.12" width="1.2" height="0.7" fill="#fff" opacity="0.3"/>
<rect x="220.69" y="331.79" width="1.2" height="0.7" fill="#fff" opacity="0.3"/>
<rect x="223.45" y="335.25" width="1.2" height="0.7" fill="#fff" opacity="0.3"/>
<rect x="217.00" y="329.43" width="1.2" height="0.7" fill="#fff" opacity="0.3"/>
<rect x="220.98" y="327.85" width="1.2" height="0.7" fill="#fff" opacity="0.3"/>
<rect x="221.75" y="334.58" width="1.2" height="0.7" fill="#fff" opacity="0.3"/>
<rect x="218.09" y="324.09" width="5.71" height="1.56" rx="0.5" fill="#f6a862"/>
<rect x="218.03" y="322.83" width="5.81" height="1.56" rx="0.5" fill="#f6a862"/>
<rect x="218.95" y="321.58" width="3.98" height="1.56" rx="0.5" fill="#f6a862"/>
<rect x="217.78" y="320.32" width="6.32" height="1.56" rx="0.5" fill="#f6a862"/>
<rect x="218.79" y="319.06" width="4.30" height="1.56" rx="0.5" fill="#f6a862"/>
<rect x="219.97" y="317.80" width="1.94" height="1.56" rx="0.5" fill="#f6a862"/>
<rect x="219.96" y="316.54" width="1.96" height="1.56" rx="0.5" fill="#f6a862"/>
<rect x="219.11" y="315.28" width="3.66" height="1.56" rx="0.5" fill="#f6a862"/>
<rect x="219.81" y="314.03" width="2.26" height="1.56" rx="0.5" fill="#f6a862"/>
<rect x="220.54" y="312.77" width="0.81" height="1.56" rx="0.5" fill="#f6a862"/>
<rect x="220.00" y="311.51" width="1.89" height="1.56" rx="0.5" fill="#f6a862"/>
<rect x="220.00" y="310.25" width="1.89" height="1.56" rx="0.5" fill="#f6a862"/>
<circle cx="218.53" cy="311.61" r="0.5" fill="#f6a862" opacity="0.8"/>
<circle cx="219.84" cy="311.26" r="0.5" fill="#f6a862" opacity="0.8"/>
<circle cx="222.43" cy="318.91" r="0.5" fill="#f6a862" opacity="0.8"/>
<circle cx="221.10" cy="312.54" r="0.5" fill="#f6a862" opacity="0.8"/>
<circle cx="222.87" cy="321.90" r="0.5" fill="#f6a862" opacity="0.8"/>
<circle cx="223.95" cy="324.53" r="0.5" fill="#f6a862" opacity="0.8"/>
<circle cx="220.34" cy="315.38" r="0.5" fill="#f6a862" opacity="0.8"/>
<circle cx="225.27" cy="320.19" r="0.5" fill="#f6a862" opacity="0.8"/>
<circle cx="217.95" cy="322.61" r="0.5" fill="#f6a862" opacity="0.8"/>
<circle cx="221.43" cy="303.60" r="0.7" fill="#f6a862" opacity="0.9"/>
<line x1="220.94" y1="343.30" x2="220.94" y2="344.20" stroke="#888" stroke-width="0.3"/>
<text x="220.94" y="347.70" font-family="Liberation Sans" font-size="2.8" font-weight="normal" fill="#555" text-anchor="middle" >2</text>
<rect x="228.68" y="325.50" width="11.80" height="15.00" rx="0.6" fill="#d2b662"/>
<rect x="237.02" y="336.38" width="1.2" height="0.7" fill="#fff" opacity="0.3"/>
<rect x="235.44" y="327.61" width="1.2" height="0.7" fill="#fff" opacity="0.3"/>
<rect x="239.22" y="330.31" width="1.2" height="0.7" fill="#fff" opacity="0.3"/>
<rect x="234.71" y="336.09" width="1.2" height="0.7" fill="#fff" opacity="0.3"/>
<rect x="233.13" y="327.76" width="1.2" height="0.7" fill="#fff" opacity="0.3"/>
<rect x="229.77" y="330.94" width="1.2" height="0.7" fill="#fff" opacity="0.3"/>
<rect x="236.65" y="327.95" width="1.2" height="0.7" fill="#fff" opacity="0.3"/>
<rect x="232.78" y="334.87" width="1.2" height="0.7" fill="#fff" opacity="0.3"/>
<rect x="231.87" y="331.23" width="1.2" height="0.7" fill="#fff" opacity="0.3"/>
<rect x="233.47" y="331.25" width="1.2" height="0.7" fill="#fff" opacity="0.3"/>
<rect x="237.92" y="338.58" width="1.2" height="0.7" fill="#fff" opacity="0.3"/>
<rect x="233.67" y="328.29" width="1.2" height="0.7" fill="#fff" opacity="0.3"/>
<rect x="234.85" y="334.62" width="1.2" height="0.7" fill="#fff" opacity="0.3"/>
<rect x="233.89" y="331.45" width="1.2" height="0.7" fill="#fff" opacity="0.3"/>
<rect x="235.04" y="337.39" width="1.2" height="0.7" fill="#fff" opacity="0.3"/>
<rect x="229.65" y="331.00" width="1.2" height="0.7" fill="#fff" opacity="0.3"/>
<rect x="232.28" y="339.04" width="1.2" height="0.7" fill="#fff" opacity="0.3"/>
<rect x="230.58" y="327.47" width="1.2" height="0.7" fill="#fff" opacity="0.3"/>
<rect x="236.98" y="329.59" width="1.2" height="0.7" fill="#fff" opacity="0.3"/>
<rect x="236.15" y="327.91" width="1.2" height="0.7" fill="#fff" opacity="0.3"/>
<rect x="234.49" y="330.03" width="1.2" height="0.7" fill="#fff" opacity="0.3"/>
<rect x="236.75" y="328.07" width="1.2" height="0.7" fill="#fff" opacity="0.3"/>
<rect x="232.05" y="336.80" width="1.2" height="0.7" fill="#fff" opacity="0.3"/>
<rect x="233.54" y="332.85" width="1.2" height="0.7" fill="#fff" opacity="0.3"/>
<rect x="229.63" y="328.08" width="1.2" height="0.7" fill="#fff" opacity="0.3"/>
<rect x="239.02" y="337.40" width="1.2" height="0.7" fill="#fff" opacity="0.3"/>
<rect x="231.96" y="333.15" width="1.2" height="0.7" fill="#fff" opacity="0.3"/>
<rect x="236.97" y="331.09" width="1.2" height="0.7" fill="#fff" opacity="0.3"/>
<rect x="233.92" y="333.11" width="1.2" height="0.7" fill="#fff" opacity="0.3"/>
<rect x="237.24" y="337.07" width="1.2" height="0.7" fill="#fff" opacity="0.3"/>
<rect x="232.64" y="328.01" width="1.2" height="0.7" fill="#fff" opacity="0.3"/>
<rect x="238.83" y="329.90" width="1.2" height="0.7" fill="#fff" opacity="0.3"/>
<rect x="236.18" y="326.85" width="1.2" height="0.7" fill="#fff" opacity="0.3"/>
<rect x="236.56" y="332.29" width="1.2" height="0.7" fill="#fff" opacity="0.3"/>
<rect x="238.43" y="334.67" width="1.2" height="0.7" fill="#fff" opacity="0.3"/>
<rect x="233.15" y="330.46" width="1.2" height="0.7" fill="#fff" opacity="0.3"/>
<rect x="238.52" y="334.36" width="1.2" height="0.7" fill="#fff" opacity="0.3"/>
<rect x="235.95" y="336.24" width="1.2" height="0.7" fill="#fff" opacity="0.3"/>
<rect x="237.44" y="331.84" width="1.2" height="0.7" fill="#fff" opacity="0.3"/>
<rect x="230.87" y="337.91" width="1.2" height="0.7" fill="#fff" opacity="0.3"/>
<rect x="230.81" y="334.33" width="1.2" height="0.7" fill="#fff" opacity="0.3"/>
<rect x="235.17" y="328.95" width="1.2" height="0.7" fill="#fff" opacity="0.3"/>
<rect x="237.83" y="338.42" width="1.2" height="0.7" fill="#fff" opacity="0.3"/>
<rect x="236.18" y="326.69" width="1.2" height="0.7" fill="#fff" opacity="0.3"/>
<rect x="236.94" y="332.05" width="1.2" height="0.7" fill="#fff" opacity="0.3"/>
<rect x="228.72" y="324.04" width="11.73" height="1.61" rx="0.5" fill="#d2b662"/>
<rect x="231.21" y="322.73" width="6.74" height="1.61" rx="0.5" fill="#d2b662"/>
<rect x="231.27" y="321.42" width="6.62" height="1.61" rx="0.5" fill="#d2b662"/>
<rect x="231.04" y="320.11" width="7.07" height="1.61" rx="0.5" fill="#d2b662"/>
<rect x="232.24" y="318.79" width="4.68" height="1.61" rx="0.5" fill="#d2b662"/>
<rect x="234.08" y="317.48" width="1.01" height="1.61" rx="0.5" fill="#d2b662"/>
<rect x="233.34" y="316.17" width="2.48" height="1.61" rx="0.5" fill="#d2b662"/>
<rect x="233.49" y="314.86" width="2.18" height="1.61" rx="0.5" fill="#d2b662"/>
<rect x="233.64" y="313.55" width="1.89" height="1.61" rx="0.5" fill="#d2b662"/>
<circle cx="232.28" cy="316.05" r="0.5" fill="#d2b662" opacity="0.8"/>
<circle cx="239.17" cy="318.39" r="0.5" fill="#d2b662" opacity="0.8"/>
<circle cx="235.14" cy="324.19" r="0.5" fill="#d2b662" opacity="0.8"/>
<circle cx="235.90" cy="324.50" r="0.5" fill="#d2b662" opacity="0.8"/>
<circle cx="234.16" cy="315.36" r="0.5" fill="#d2b662" opacity="0.8"/>
<circle cx="231.13" cy="321.32" r="0.5" fill="#d2b662" opacity="0.8"/>
<circle cx="230.15" cy="316.25" r="0.5" fill="#d2b662" opacity="0.8"/>
<line x1="234.58" y1="343.30" x2="234.58" y2="344.20" stroke="#888" stroke-width="0.3"/>
<text x="234.58" y="347.70" font-family="Liberation Sans" font-size="2.8" font-weight="normal" fill="#555" text-anchor="middle" >3</text>
<rect x="242.32" y="320.50" width="11.80" height="20.00" rx="0.6" fill="#b6be56"/>
<rect x="243.74" y="334.08" width="1.2" height="0.7" fill="#fff" opacity="0.3"/>
<rect x="252.82" y="338.65" width="1.2" height="0.7" fill="#fff" opacity="0.3"/>
<rect x="250.96" y="337.28" width="1.2" height="0.7" fill="#fff" opacity="0.3"/>
<rect x="244.42" y="337.44" width="1.2" height="0.7" fill="#fff" opacity="0.3"/>
<rect x="246.16" y="331.76" width="1.2" height="0.7" fill="#fff" opacity="0.3"/>
<rect x="245.98" y="335.02" width="1.2" height="0.7" fill="#fff" opacity="0.3"/>
<rect x="252.37" y="336.76" width="1.2" height="0.7" fill="#fff" opacity="0.3"/>
<rect x="250.79" y="338.97" width="1.2" height="0.7" fill="#fff" opacity="0.3"/>
<rect x="249.13" y="328.05" width="1.2" height="0.7" fill="#fff" opacity="0.3"/>
<rect x="249.05" y="331.66" width="1.2" height="0.7" fill="#fff" opacity="0.3"/>
<rect x="247.73" y="324.55" width="1.2" height="0.7" fill="#fff" opacity="0.3"/>
<rect x="247.62" y="337.03" width="1.2" height="0.7" fill="#fff" opacity="0.3"/>
<rect x="246.05" y="326.40" width="1.2" height="0.7" fill="#fff" opacity="0.3"/>
<rect x="247.50" y="330.57" width="1.2" height="0.7" fill="#fff" opacity="0.3"/>
<rect x="247.22" y="335.84" width="1.2" height="0.7" fill="#fff" opacity="0.3"/>
<rect x="252.87" y="326.83" width="1.2" height="0.7" fill="#fff" opacity="0.3"/>
<rect x="251.51" y="336.21" width="1.2" height="0.7" fill="#fff" opacity="0.3"/>
<rect x="249.55" y="325.74" width="1.2" height="0.7" fill="#fff" opacity="0.3"/>
<rect x="249.96" y="324.00" width="1.2" height="0.7" fill="#fff" opacity="0.3"/>
<rect x="245.83" y="321.55" width="1.2" height="0.7" fill="#fff" opacity="0.3"/>
<rect x="246.70" y="331.35" width="1.2" height="0.7" fill="#fff" opacity="0.3"/>
<rect x="250.90" y="327.44" width="1.2" height="0.7" fill="#fff" opacity="0.3"/>
<rect x="244.73" y="331.57" width="1.2" height="0.7" fill="#fff" opacity="0.3"/>
<rect x="251.76" y="328.57" width="1.2" height="0.7" fill="#fff" opacity="0.3"/>
<rect x="244.07" y="321.78" width="1.2" height="0.7" fill="#fff" opacity="0.3"/>
<rect x="252.91" y="336.81" width="1.2" height="0.7" fill="#fff" opacity="0.3"/>
<rect x="249.87" y="330.20" width="1.2" height="0.7" fill="#fff" opacity="0.3"/>
<rect x="244.03" y="333.27" width="1.2" height="0.7" fill="#fff" opacity="0.3"/>
<rect x="249.48" y="334.41" width="1.2" height="0.7" fill="#fff" opacity="0.3"/>
<rect x="246.46" y="335.67" width="1.2" height="0.7" fill="#fff" opacity="0.3"/>
<rect x="252.37" y="338.67" width="1.2" height="0.7" fill="#fff" opacity="0.3"/>
<rect x="248.39" y="325.29" width="1.2" height="0.7" fill="#fff" opacity="0.3"/>
<rect x="251.71" y="324.50" width="1.2" height="0.7" fill="#fff" opacity="0.3"/>
<rect x="248.65" y="330.52" width="1.2" height="0.7" fill="#fff" opacity="0.3"/>
<rect x="243.42" y="334.53" width="1.2" height="0.7" fill="#fff" opacity="0.3"/>
<rect x="249.10" y="334.83" width="1.2" height="0.7" fill="#fff" opacity="0.3"/>
<rect x="253.17" y="322.25" width="1.2" height="0.7" fill="#fff" opacity="0.3"/>
<rect x="251.39" y="327.26" width="1.2" height="0.7" fill="#fff" opacity="0.3"/>
<rect x="250.89" y="324.85" width="1.2" height="0.7" fill="#fff" opacity="0.3"/>
<rect x="245.72" y="326.54" width="1.2" height="0.7" fill="#fff" opacity="0.3"/>
<rect x="250.40" y="335.32" width="1.2" height="0.7" fill="#fff" opacity="0.3"/>
<rect x="252.21" y="328.50" width="1.2" height="0.7" fill="#fff" opacity="0.3"/>
<rect x="244.38" y="339.36" width="1.2" height="0.7" fill="#fff" opacity="0.3"/>
<rect x="248.05" y="334.12" width="1.2" height="0.7" fill="#fff" opacity="0.3"/>
<rect x="244.72" y="334.99" width="1.2" height="0.7" fill="#fff" opacity="0.3"/>
<rect x="249.69" y="333.11" width="1.2" height="0.7" fill="#fff" opacity="0.3"/>
<rect x="252.16" y="325.07" width="1.2" height="0.7" fill="#fff" opacity="0.3"/>
<rect x="246.88" y="324.19" width="1.2" height="0.7" fill="#fff" opacity="0.3"/>
<rect x="245.22" y="327.13" width="1.2" height="0.7" fill="#fff" opacity="0.3"/>
<rect x="250.71" y="332.29" width="1.2" height="0.7" fill="#fff" opacity="0.3"/>
<rect x="243.60" y="334.85" width="1.2" height="0.7" fill="#fff" opacity="0.3"/>
<rect x="252.67" y="332.36" width="1.2" height="0.7" fill="#fff" opacity="0.3"/>
<rect x="246.97" y="325.76" width="1.2" height="0.7" fill="#fff" opacity="0.3"/>
<rect x="253.16" y="323.27" width="1.2" height="0.7" fill="#fff" opacity="0.3"/>
<rect x="252.58" y="333.99" width="1.2" height="0.7" fill="#fff" opacity="0.3"/>
<rect x="249.83" y="326.54" width="1.2" height="0.7" fill="#fff" opacity="0.3"/>
<rect x="252.01" y="325.08" width="1.2" height="0.7" fill="#fff" opacity="0.3"/>
<rect x="252.70" y="324.37" width="1.2" height="0.7" fill="#fff" opacity="0.3"/>
<rect x="249.30" y="330.41" width="1.2" height="0.7" fill="#fff" opacity="0.3"/>
<rect x="251.70" y="326.14" width="1.2" height="0.7" fill="#fff" opacity="0.3"/>
<rect x="243.32" y="318.98" width="9.79" height="1.67" rx="0.5" fill="#b6be56"/>
<rect x="245.15" y="317.62" width="6.15" height="1.67" rx="0.5" fill="#b6be56"/>
<rect x="247.28" y="316.25" width="1.89" height="1.67" rx="0.5" fill="#b6be56"/>
<circle cx="252.02" cy="318.90" r="0.5" fill="#b6be56" opacity="0.8"/>
<circle cx="243.46" cy="320.25" r="0.5" fill="#b6be56" opacity="0.8"/>
<line x1="248.22" y1="343.30" x2="248.22" y2="344.20" stroke="#888" stroke-width="0.3"/>
<text x="248.22" y="347.70" font-family="Liberation Sans" font-size="2.8" font-weight="normal" fill="#555" text-anchor="middle" >4</text>
<rect x="255.96" y="318.80" width="11.80" height="21.70" rx="0.6" fill="#70c85a"/>
<rect x="263.05" y="333.41" width="1.2" height="0.7" fill="#fff" opacity="0.3"/>
<rect x="263.53" y="333.07" width="1.2" height="0.7" fill="#fff" opacity="0.3"/>
<rect x="261.04" y="331.25" width="1.2" height="0.7" fill="#fff" opacity="0.3"/>
<rect x="259.66" y="326.19" width="1.2" height="0.7" fill="#fff" opacity="0.3"/>
<rect x="262.30" y="323.10" width="1.2" height="0.7" fill="#fff" opacity="0.3"/>
<rect x="266.75" y="322.08" width="1.2" height="0.7" fill="#fff" opacity="0.3"/>
<rect x="263.22" y="326.32" width="1.2" height="0.7" fill="#fff" opacity="0.3"/>
<rect x="257.18" y="335.15" width="1.2" height="0.7" fill="#fff" opacity="0.3"/>
<rect x="265.03" y="324.66" width="1.2" height="0.7" fill="#fff" opacity="0.3"/>
<rect x="259.79" y="336.09" width="1.2" height="0.7" fill="#fff" opacity="0.3"/>
<rect x="263.69" y="322.45" width="1.2" height="0.7" fill="#fff" opacity="0.3"/>
<rect x="257.34" y="334.67" width="1.2" height="0.7" fill="#fff" opacity="0.3"/>
<rect x="264.94" y="321.08" width="1.2" height="0.7" fill="#fff" opacity="0.3"/>
<rect x="258.28" y="331.91" width="1.2" height="0.7" fill="#fff" opacity="0.3"/>
<rect x="258.68" y="337.55" width="1.2" height="0.7" fill="#fff" opacity="0.3"/>
<rect x="263.79" y="323.38" width="1.2" height="0.7" fill="#fff" opacity="0.3"/>
<rect x="262.89" y="334.71" width="1.2" height="0.7" fill="#fff" opacity="0.3"/>
<rect x="258.92" y="323.59" width="1.2" height="0.7" fill="#fff" opacity="0.3"/>
<rect x="261.59" y="333.31" width="1.2" height="0.7" fill="#fff" opacity="0.3"/>
<rect x="258.71" y="339.23" width="1.2" height="0.7" fill="#fff" opacity="0.3"/>
<rect x="258.18" y="323.90" width="1.2" height="0.7" fill="#fff" opacity="0.3"/>
<rect x="262.25" y="338.05" width="1.2" height="0.7" fill="#fff" opacity="0.3"/>
<rect x="259.21" y="333.29" width="1.2" height="0.7" fill="#fff" opacity="0.3"/>
<rect x="259.52" y="327.12" width="1.2" height="0.7" fill="#fff" opacity="0.3"/>
<rect x="259.90" y="336.23" width="1.2" height="0.7" fill="#fff" opacity="0.3"/>
<rect x="261.21" y="321.21" width="1.2" height="0.7" fill="#fff" opacity="0.3"/>
<rect x="259.80" y="328.13" width="1.2" height="0.7" fill="#fff" opacity="0.3"/>
<rect x="261.94" y="330.15" width="1.2" height="0.7" fill="#fff" opacity="0.3"/>
<rect x="262.05" y="326.87" width="1.2" height="0.7" fill="#fff" opacity="0.3"/>
<rect x="266.90" y="329.16" width="1.2" height="0.7" fill="#fff" opacity="0.3"/>
<rect x="262.61" y="331.71" width="1.2" height="0.7" fill="#fff" opacity="0.3"/>
<rect x="262.03" y="338.44" width="1.2" height="0.7" fill="#fff" opacity="0.3"/>
<rect x="266.60" y="320.54" width="1.2" height="0.7" fill="#fff" opacity="0.3"/>
<rect x="260.94" y="328.42" width="1.2" height="0.7" fill="#fff" opacity="0.3"/>
<rect x="261.01" y="321.66" width="1.2" height="0.7" fill="#fff" opacity="0.3"/>
<rect x="261.53" y="323.55" width="1.2" height="0.7" fill="#fff" opacity="0.3"/>
<rect x="266.37" y="337.74" width="1.2" height="0.7" fill="#fff" opacity="0.3"/>
<rect x="261.16" y="335.13" width="1.2" height="0.7" fill="#fff" opacity="0.3"/>
<rect x="260.17" y="320.39" width="1.2" height="0.7" fill="#fff" opacity="0.3"/>
<rect x="264.81" y="329.59" width="1.2" height="0.7" fill="#fff" opacity="0.3"/>
<rect x="264.26" y="329.98" width="1.2" height="0.7" fill="#fff" opacity="0.3"/>
<rect x="260.49" y="338.69" width="1.2" height="0.7" fill="#fff" opacity="0.3"/>
<rect x="263.26" y="338.19" width="1.2" height="0.7" fill="#fff" opacity="0.3"/>
<rect x="258.27" y="333.72" width="1.2" height="0.7" fill="#fff" opacity="0.3"/>
<rect x="262.99" y="322.61" width="1.2" height="0.7" fill="#fff" opacity="0.3"/>
<rect x="266.70" y="327.22" width="1.2" height="0.7" fill="#fff" opacity="0.3"/>
<rect x="262.48" y="330.82" width="1.2" height="0.7" fill="#fff" opacity="0.3"/>
<rect x="258.92" y="325.11" width="1.2" height="0.7" fill="#fff" opacity="0.3"/>
<rect x="258.08" y="329.41" width="1.2" height="0.7" fill="#fff" opacity="0.3"/>
<rect x="257.67" y="332.29" width="1.2" height="0.7" fill="#fff" opacity="0.3"/>
<rect x="262.57" y="336.91" width="1.2" height="0.7" fill="#fff" opacity="0.3"/>
<rect x="257.58" y="324.76" width="1.2" height="0.7" fill="#fff" opacity="0.3"/>
<rect x="260.89" y="323.68" width="1.2" height="0.7" fill="#fff" opacity="0.3"/>
<rect x="260.74" y="335.87" width="1.2" height="0.7" fill="#fff" opacity="0.3"/>
<rect x="260.26" y="325.51" width="1.2" height="0.7" fill="#fff" opacity="0.3"/>
<rect x="260.03" y="322.55" width="1.2" height="0.7" fill="#fff" opacity="0.3"/>
<rect x="260.19" y="334.39" width="1.2" height="0.7" fill="#fff" opacity="0.3"/>
<rect x="262.43" y="334.72" width="1.2" height="0.7" fill="#fff" opacity="0.3"/>
<rect x="262.76" y="331.30" width="1.2" height="0.7" fill="#fff" opacity="0.3"/>
<rect x="262.83" y="325.96" width="1.2" height="0.7" fill="#fff" opacity="0.3"/>
<rect x="257.71" y="328.84" width="1.2" height="0.7" fill="#fff" opacity="0.3"/>
<rect x="259.09" y="323.65" width="1.2" height="0.7" fill="#fff" opacity="0.3"/>
<rect x="261.86" y="334.83" width="1.2" height="0.7" fill="#fff" opacity="0.3"/>
<rect x="265.06" y="322.70" width="1.2" height="0.7" fill="#fff" opacity="0.3"/>
<rect x="260.31" y="332.60" width="1.2" height="0.7" fill="#fff" opacity="0.3"/>
<rect x="260.16" y="317.35" width="3.41" height="1.60" rx="0.5" fill="#70c85a"/>
<rect x="260.87" y="316.05" width="1.97" height="1.60" rx="0.5" fill="#70c85a"/>
<rect x="260.53" y="314.75" width="2.66" height="1.60" rx="0.5" fill="#70c85a"/>
<rect x="259.93" y="313.45" width="3.86" height="1.60" rx="0.5" fill="#70c85a"/>
<rect x="260.97" y="312.15" width="1.79" height="1.60" rx="0.5" fill="#70c85a"/>
<rect x="260.68" y="310.85" width="2.35" height="1.60" rx="0.5" fill="#70c85a"/>
<rect x="260.92" y="309.55" width="1.89" height="1.60" rx="0.5" fill="#70c85a"/>
<circle cx="261.47" cy="315.64" r="0.5" fill="#70c85a" opacity="0.8"/>
<circle cx="265.90" cy="318.45" r="0.5" fill="#70c85a" opacity="0.8"/>
<circle cx="257.91" cy="314.25" r="0.5" fill="#70c85a" opacity="0.8"/>
<circle cx="258.02" cy="318.51" r="0.5" fill="#70c85a" opacity="0.8"/>
<circle cx="265.91" cy="313.01" r="0.5" fill="#70c85a" opacity="0.8"/>
<circle cx="261.18" cy="300.30" r="0.7" fill="#70c85a" opacity="0.9"/>
<line x1="261.86" y1="343.30" x2="261.86" y2="344.20" stroke="#888" stroke-width="0.3"/>
<text x="261.86" y="347.70" font-family="Liberation Sans" font-size="2.8" font-weight="normal" fill="#555" text-anchor="middle" >5</text>
<rect x="269.60" y="323.80" width="11.80" height="16.70" rx="0.6" fill="#58c89e"/>
<rect x="273.47" y="339.07" width="1.2" height="0.7" fill="#fff" opacity="0.3"/>
<rect x="272.34" y="325.81" width="1.2" height="0.7" fill="#fff" opacity="0.3"/>
<rect x="274.33" y="338.90" width="1.2" height="0.7" fill="#fff" opacity="0.3"/>
<rect x="275.25" y="333.44" width="1.2" height="0.7" fill="#fff" opacity="0.3"/>
<rect x="274.08" y="335.49" width="1.2" height="0.7" fill="#fff" opacity="0.3"/>
<rect x="280.19" y="325.05" width="1.2" height="0.7" fill="#fff" opacity="0.3"/>
<rect x="280.37" y="330.87" width="1.2" height="0.7" fill="#fff" opacity="0.3"/>
<rect x="276.21" y="339.07" width="1.2" height="0.7" fill="#fff" opacity="0.3"/>
<rect x="273.27" y="334.56" width="1.2" height="0.7" fill="#fff" opacity="0.3"/>
<rect x="277.79" y="329.87" width="1.2" height="0.7" fill="#fff" opacity="0.3"/>
<rect x="270.72" y="334.22" width="1.2" height="0.7" fill="#fff" opacity="0.3"/>
<rect x="273.29" y="337.01" width="1.2" height="0.7" fill="#fff" opacity="0.3"/>
<rect x="278.77" y="332.56" width="1.2" height="0.7" fill="#fff" opacity="0.3"/>
<rect x="275.44" y="335.85" width="1.2" height="0.7" fill="#fff" opacity="0.3"/>
<rect x="279.22" y="333.35" width="1.2" height="0.7" fill="#fff" opacity="0.3"/>
<rect x="278.07" y="335.43" width="1.2" height="0.7" fill="#fff" opacity="0.3"/>
<rect x="275.75" y="324.98" width="1.2" height="0.7" fill="#fff" opacity="0.3"/>
<rect x="277.55" y="324.90" width="1.2" height="0.7" fill="#fff" opacity="0.3"/>
<rect x="279.65" y="332.01" width="1.2" height="0.7" fill="#fff" opacity="0.3"/>
<rect x="273.73" y="328.11" width="1.2" height="0.7" fill="#fff" opacity="0.3"/>
<rect x="270.56" y="335.30" width="1.2" height="0.7" fill="#fff" opacity="0.3"/>
<rect x="272.96" y="326.61" width="1.2" height="0.7" fill="#fff" opacity="0.3"/>
<rect x="272.10" y="335.29" width="1.2" height="0.7" fill="#fff" opacity="0.3"/>
<rect x="271.67" y="333.78" width="1.2" height="0.7" fill="#fff" opacity="0.3"/>
<rect x="276.93" y="327.72" width="1.2" height="0.7" fill="#fff" opacity="0.3"/>
<rect x="278.30" y="336.01" width="1.2" height="0.7" fill="#fff" opacity="0.3"/>
<rect x="277.11" y="333.10" width="1.2" height="0.7" fill="#fff" opacity="0.3"/>
<rect x="274.76" y="336.24" width="1.2" height="0.7" fill="#fff" opacity="0.3"/>
<rect x="275.41" y="335.95" width="1.2" height="0.7" fill="#fff" opacity="0.3"/>
<rect x="273.15" y="336.76" width="1.2" height="0.7" fill="#fff" opacity="0.3"/>
<rect x="278.41" y="331.86" width="1.2" height="0.7" fill="#fff" opacity="0.3"/>
<rect x="271.51" y="334.19" width="1.2" height="0.7" fill="#fff" opacity="0.3"/>
<rect x="275.30" y="334.17" width="1.2" height="0.7" fill="#fff" opacity="0.3"/>
<rect x="274.62" y="336.35" width="1.2" height="0.7" fill="#fff" opacity="0.3"/>
<rect x="271.05" y="328.80" width="1.2" height="0.7" fill="#fff" opacity="0.3"/>
<rect x="274.28" y="331.79" width="1.2" height="0.7" fill="#fff" opacity="0.3"/>
<rect x="275.97" y="336.06" width="1.2" height="0.7" fill="#fff" opacity="0.3"/>
<rect x="277.20" y="328.44" width="1.2" height="0.7" fill="#fff" opacity="0.3"/>
<rect x="271.44" y="329.22" width="1.2" height="0.7" fill="#fff" opacity="0.3"/>
<rect x="277.84" y="334.84" width="1.2" height="0.7" fill="#fff" opacity="0.3"/>
<rect x="274.90" y="336.86" width="1.2" height="0.7" fill="#fff" opacity="0.3"/>
<rect x="273.89" y="326.48" width="1.2" height="0.7" fill="#fff" opacity="0.3"/>
<rect x="279.09" y="338.76" width="1.2" height="0.7" fill="#fff" opacity="0.3"/>
<rect x="276.76" y="333.27" width="1.2" height="0.7" fill="#fff" opacity="0.3"/>
<rect x="270.95" y="333.21" width="1.2" height="0.7" fill="#fff" opacity="0.3"/>
<rect x="279.98" y="330.92" width="1.2" height="0.7" fill="#fff" opacity="0.3"/>
<rect x="280.45" y="328.05" width="1.2" height="0.7" fill="#fff" opacity="0.3"/>
<rect x="280.48" y="334.11" width="1.2" height="0.7" fill="#fff" opacity="0.3"/>
<rect x="279.58" y="326.62" width="1.2" height="0.7" fill="#fff" opacity="0.3"/>
<rect x="280.01" y="337.43" width="1.2" height="0.7" fill="#fff" opacity="0.3"/>
<rect x="271.46" y="322.42" width="8.08" height="1.53" rx="0.5" fill="#58c89e"/>
<rect x="273.42" y="321.18" width="4.17" height="1.53" rx="0.5" fill="#58c89e"/>
<rect x="273.48" y="319.95" width="4.05" height="1.53" rx="0.5" fill="#58c89e"/>
<rect x="273.40" y="318.72" width="4.19" height="1.53" rx="0.5" fill="#58c89e"/>
<rect x="274.33" y="317.48" width="2.34" height="1.53" rx="0.5" fill="#58c89e"/>
<rect x="275.09" y="316.25" width="0.81" height="1.53" rx="0.5" fill="#58c89e"/>
<circle cx="276.55" cy="322.23" r="0.5" fill="#58c89e" opacity="0.8"/>
<circle cx="271.05" cy="321.21" r="0.5" fill="#58c89e" opacity="0.8"/>
<circle cx="271.36" cy="319.22" r="0.5" fill="#58c89e" opacity="0.8"/>
<circle cx="273.09" cy="319.24" r="0.5" fill="#58c89e" opacity="0.8"/>
<line x1="275.50" y1="343.30" x2="275.50" y2="344.20" stroke="#888" stroke-width="0.3"/>
<text x="275.50" y="347.70" font-family="Liberation Sans" font-size="2.8" font-weight="normal" fill="#555" text-anchor="middle" >6</text>
<rect x="283.24" y="325.50" width="11.80" height="15.00" rx="0.6" fill="#56c4bc"/>
<rect x="284.34" y="330.53" width="1.2" height="0.7" fill="#fff" opacity="0.3"/>
<rect x="291.73" y="332.84" width="1.2" height="0.7" fill="#fff" opacity="0.3"/>
<rect x="284.15" y="327.01" width="1.2" height="0.7" fill="#fff" opacity="0.3"/>
<rect x="289.42" y="332.59" width="1.2" height="0.7" fill="#fff" opacity="0.3"/>
<rect x="291.98" y="326.87" width="1.2" height="0.7" fill="#fff" opacity="0.3"/>
<rect x="286.35" y="329.82" width="1.2" height="0.7" fill="#fff" opacity="0.3"/>
<rect x="287.98" y="337.55" width="1.2" height="0.7" fill="#fff" opacity="0.3"/>
<rect x="288.51" y="335.16" width="1.2" height="0.7" fill="#fff" opacity="0.3"/>
<rect x="286.84" y="336.21" width="1.2" height="0.7" fill="#fff" opacity="0.3"/>
<rect x="284.63" y="334.53" width="1.2" height="0.7" fill="#fff" opacity="0.3"/>
<rect x="289.78" y="333.66" width="1.2" height="0.7" fill="#fff" opacity="0.3"/>
<rect x="290.91" y="332.34" width="1.2" height="0.7" fill="#fff" opacity="0.3"/>
<rect x="288.91" y="333.63" width="1.2" height="0.7" fill="#fff" opacity="0.3"/>
<rect x="288.29" y="327.73" width="1.2" height="0.7" fill="#fff" opacity="0.3"/>
<rect x="293.49" y="327.63" width="1.2" height="0.7" fill="#fff" opacity="0.3"/>
<rect x="288.01" y="335.35" width="1.2" height="0.7" fill="#fff" opacity="0.3"/>
<rect x="290.52" y="334.15" width="1.2" height="0.7" fill="#fff" opacity="0.3"/>
<rect x="293.98" y="339.22" width="1.2" height="0.7" fill="#fff" opacity="0.3"/>
<rect x="285.62" y="334.65" width="1.2" height="0.7" fill="#fff" opacity="0.3"/>
<rect x="289.58" y="328.81" width="1.2" height="0.7" fill="#fff" opacity="0.3"/>
<rect x="285.56" y="328.95" width="1.2" height="0.7" fill="#fff" opacity="0.3"/>
<rect x="289.79" y="326.78" width="1.2" height="0.7" fill="#fff" opacity="0.3"/>
<rect x="292.36" y="339.03" width="1.2" height="0.7" fill="#fff" opacity="0.3"/>
<rect x="292.05" y="330.30" width="1.2" height="0.7" fill="#fff" opacity="0.3"/>
<rect x="285.16" y="327.21" width="1.2" height="0.7" fill="#fff" opacity="0.3"/>
<rect x="293.12" y="328.61" width="1.2" height="0.7" fill="#fff" opacity="0.3"/>
<rect x="286.39" y="331.14" width="1.2" height="0.7" fill="#fff" opacity="0.3"/>
<rect x="291.77" y="327.83" width="1.2" height="0.7" fill="#fff" opacity="0.3"/>
<rect x="291.38" y="327.37" width="1.2" height="0.7" fill="#fff" opacity="0.3"/>
<rect x="292.16" y="333.02" width="1.2" height="0.7" fill="#fff" opacity="0.3"/>
<rect x="291.47" y="331.76" width="1.2" height="0.7" fill="#fff" opacity="0.3"/>
<rect x="286.82" y="339.14" width="1.2" height="0.7" fill="#fff" opacity="0.3"/>
<rect x="286.17" y="330.13" width="1.2" height="0.7" fill="#fff" opacity="0.3"/>
<rect x="289.09" y="332.49" width="1.2" height="0.7" fill="#fff" opacity="0.3"/>
<rect x="293.15" y="336.97" width="1.2" height="0.7" fill="#fff" opacity="0.3"/>
<rect x="287.39" y="338.61" width="1.2" height="0.7" fill="#fff" opacity="0.3"/>
<rect x="292.55" y="332.77" width="1.2" height="0.7" fill="#fff" opacity="0.3"/>
<rect x="287.71" y="330.81" width="1.2" height="0.7" fill="#fff" opacity="0.3"/>
<rect x="288.44" y="329.23" width="1.2" height="0.7" fill="#fff" opacity="0.3"/>
<rect x="292.72" y="331.32" width="1.2" height="0.7" fill="#fff" opacity="0.3"/>
<rect x="287.48" y="336.01" width="1.2" height="0.7" fill="#fff" opacity="0.3"/>
<rect x="291.01" y="327.88" width="1.2" height="0.7" fill="#fff" opacity="0.3"/>
<rect x="294.00" y="336.80" width="1.2" height="0.7" fill="#fff" opacity="0.3"/>
<rect x="286.04" y="338.03" width="1.2" height="0.7" fill="#fff" opacity="0.3"/>
<rect x="291.27" y="333.04" width="1.2" height="0.7" fill="#fff" opacity="0.3"/>
<rect x="286.07" y="324.09" width="6.14" height="1.56" rx="0.5" fill="#56c4bc"/>
<rect x="285.76" y="322.82" width="6.76" height="1.56" rx="0.5" fill="#56c4bc"/>
<rect x="285.26" y="321.56" width="7.75" height="1.56" rx="0.5" fill="#56c4bc"/>
<rect x="288.32" y="320.30" width="1.65" height="1.56" rx="0.5" fill="#56c4bc"/>
<rect x="288.25" y="319.04" width="1.77" height="1.56" rx="0.5" fill="#56c4bc"/>
<rect x="287.16" y="317.77" width="3.97" height="1.56" rx="0.5" fill="#56c4bc"/>
<rect x="287.89" y="316.51" width="2.51" height="1.56" rx="0.5" fill="#56c4bc"/>
<rect x="288.83" y="315.25" width="0.63" height="1.56" rx="0.5" fill="#56c4bc"/>
<circle cx="285.51" cy="315.80" r="0.5" fill="#56c4bc" opacity="0.8"/>
<circle cx="284.57" cy="320.83" r="0.5" fill="#56c4bc" opacity="0.8"/>
<circle cx="290.31" cy="317.23" r="0.5" fill="#56c4bc" opacity="0.8"/>
<circle cx="287.48" cy="321.21" r="0.5" fill="#56c4bc" opacity="0.8"/>
<circle cx="289.84" cy="315.63" r="0.5" fill="#56c4bc" opacity="0.8"/>
<circle cx="291.72" cy="318.31" r="0.5" fill="#56c4bc" opacity="0.8"/>
<line x1="289.14" y1="343.30" x2="289.14" y2="344.20" stroke="#888" stroke-width="0.3"/>
<text x="289.14" y="347.70" font-family="Liberation Sans" font-size="2.8" font-weight="normal" fill="#555" text-anchor="middle" >7</text>
<rect x="296.88" y="327.90" width="11.80" height="12.60" rx="0.6" fill="#50bcd2"/>
<rect x="305.15" y="332.03" width="1.2" height="0.7" fill="#fff" opacity="0.3"/>
<rect x="302.69" y="336.10" width="1.2" height="0.7" fill="#fff" opacity="0.3"/>
<rect x="307.12" y="331.33" width="1.2" height="0.7" fill="#fff" opacity="0.3"/>
<rect x="297.75" y="330.26" width="1.2" height="0.7" fill="#fff" opacity="0.3"/>
<rect x="300.06" y="336.16" width="1.2" height="0.7" fill="#fff" opacity="0.3"/>
<rect x="304.36" y="332.19" width="1.2" height="0.7" fill="#fff" opacity="0.3"/>
<rect x="302.20" y="334.68" width="1.2" height="0.7" fill="#fff" opacity="0.3"/>
<rect x="305.61" y="335.69" width="1.2" height="0.7" fill="#fff" opacity="0.3"/>
<rect x="305.24" y="332.18" width="1.2" height="0.7" fill="#fff" opacity="0.3"/>
<rect x="301.88" y="331.02" width="1.2" height="0.7" fill="#fff" opacity="0.3"/>
<rect x="300.02" y="333.70" width="1.2" height="0.7" fill="#fff" opacity="0.3"/>
<rect x="301.45" y="330.89" width="1.2" height="0.7" fill="#fff" opacity="0.3"/>
<rect x="300.94" y="330.88" width="1.2" height="0.7" fill="#fff" opacity="0.3"/>
<rect x="302.24" y="331.79" width="1.2" height="0.7" fill="#fff" opacity="0.3"/>
<rect x="301.61" y="339.12" width="1.2" height="0.7" fill="#fff" opacity="0.3"/>
<rect x="299.52" y="329.63" width="1.2" height="0.7" fill="#fff" opacity="0.3"/>
<rect x="305.83" y="339.29" width="1.2" height="0.7" fill="#fff" opacity="0.3"/>
<rect x="302.60" y="333.71" width="1.2" height="0.7" fill="#fff" opacity="0.3"/>
<rect x="299.64" y="329.04" width="1.2" height="0.7" fill="#fff" opacity="0.3"/>
<rect x="302.72" y="337.06" width="1.2" height="0.7" fill="#fff" opacity="0.3"/>
<rect x="302.56" y="338.93" width="1.2" height="0.7" fill="#fff" opacity="0.3"/>
<rect x="297.78" y="336.56" width="1.2" height="0.7" fill="#fff" opacity="0.3"/>
<rect x="300.02" y="332.80" width="1.2" height="0.7" fill="#fff" opacity="0.3"/>
<rect x="305.46" y="333.65" width="1.2" height="0.7" fill="#fff" opacity="0.3"/>
<rect x="304.79" y="337.27" width="1.2" height="0.7" fill="#fff" opacity="0.3"/>
<rect x="299.35" y="331.41" width="1.2" height="0.7" fill="#fff" opacity="0.3"/>
<rect x="300.42" y="334.71" width="1.2" height="0.7" fill="#fff" opacity="0.3"/>
<rect x="300.84" y="334.83" width="1.2" height="0.7" fill="#fff" opacity="0.3"/>
<rect x="305.94" y="334.02" width="1.2" height="0.7" fill="#fff" opacity="0.3"/>
<rect x="298.04" y="336.29" width="1.2" height="0.7" fill="#fff" opacity="0.3"/>
<rect x="298.04" y="337.69" width="1.2" height="0.7" fill="#fff" opacity="0.3"/>
<rect x="298.40" y="333.29" width="1.2" height="0.7" fill="#fff" opacity="0.3"/>
<rect x="307.66" y="337.72" width="1.2" height="0.7" fill="#fff" opacity="0.3"/>
<rect x="303.47" y="330.58" width="1.2" height="0.7" fill="#fff" opacity="0.3"/>
<rect x="303.00" y="338.89" width="1.2" height="0.7" fill="#fff" opacity="0.3"/>
<rect x="304.69" y="329.35" width="1.2" height="0.7" fill="#fff" opacity="0.3"/>
<rect x="303.50" y="334.14" width="1.2" height="0.7" fill="#fff" opacity="0.3"/>
<rect x="298.92" y="326.80" width="7.71" height="1.25" rx="0.5" fill="#50bcd2"/>
<rect x="302.15" y="325.85" width="1.25" height="1.25" rx="0.5" fill="#50bcd2"/>
<circle cx="299.52" cy="326.02" r="0.5" fill="#50bcd2" opacity="0.8"/>
<line x1="302.78" y1="343.30" x2="302.78" y2="344.20" stroke="#888" stroke-width="0.3"/>
<text x="302.78" y="347.70" font-family="Liberation Sans" font-size="2.8" font-weight="normal" fill="#555" text-anchor="middle" >8</text>
<rect x="310.52" y="322.10" width="11.80" height="18.40" rx="0.6" fill="#68b2f4"/>
<rect x="315.62" y="337.73" width="1.2" height="0.7" fill="#fff" opacity="0.3"/>
<rect x="317.95" y="332.84" width="1.2" height="0.7" fill="#fff" opacity="0.3"/>
<rect x="317.13" y="334.16" width="1.2" height="0.7" fill="#fff" opacity="0.3"/>
<rect x="313.01" y="334.20" width="1.2" height="0.7" fill="#fff" opacity="0.3"/>
<rect x="317.14" y="330.98" width="1.2" height="0.7" fill="#fff" opacity="0.3"/>
<rect x="311.76" y="331.36" width="1.2" height="0.7" fill="#fff" opacity="0.3"/>
<rect x="318.99" y="323.85" width="1.2" height="0.7" fill="#fff" opacity="0.3"/>
<rect x="315.21" y="329.08" width="1.2" height="0.7" fill="#fff" opacity="0.3"/>
<rect x="318.66" y="338.40" width="1.2" height="0.7" fill="#fff" opacity="0.3"/>
<rect x="312.37" y="336.88" width="1.2" height="0.7" fill="#fff" opacity="0.3"/>
<rect x="313.94" y="331.44" width="1.2" height="0.7" fill="#fff" opacity="0.3"/>
<rect x="313.60" y="330.62" width="1.2" height="0.7" fill="#fff" opacity="0.3"/>
<rect x="320.40" y="335.53" width="1.2" height="0.7" fill="#fff" opacity="0.3"/>
<rect x="311.99" y="333.95" width="1.2" height="0.7" fill="#fff" opacity="0.3"/>
<rect x="315.50" y="329.32" width="1.2" height="0.7" fill="#fff" opacity="0.3"/>
<rect x="318.29" y="332.59" width="1.2" height="0.7" fill="#fff" opacity="0.3"/>
<rect x="319.16" y="326.12" width="1.2" height="0.7" fill="#fff" opacity="0.3"/>
<rect x="317.47" y="338.74" width="1.2" height="0.7" fill="#fff" opacity="0.3"/>
<rect x="314.80" y="331.19" width="1.2" height="0.7" fill="#fff" opacity="0.3"/>
<rect x="317.02" y="326.39" width="1.2" height="0.7" fill="#fff" opacity="0.3"/>
<rect x="312.16" y="333.38" width="1.2" height="0.7" fill="#fff" opacity="0.3"/>
<rect x="316.46" y="334.24" width="1.2" height="0.7" fill="#fff" opacity="0.3"/>
<rect x="315.41" y="337.28" width="1.2" height="0.7" fill="#fff" opacity="0.3"/>
<rect x="317.15" y="337.02" width="1.2" height="0.7" fill="#fff" opacity="0.3"/>
<rect x="318.01" y="336.25" width="1.2" height="0.7" fill="#fff" opacity="0.3"/>
<rect x="317.55" y="331.45" width="1.2" height="0.7" fill="#fff" opacity="0.3"/>
<rect x="320.79" y="323.63" width="1.2" height="0.7" fill="#fff" opacity="0.3"/>
<rect x="320.47" y="333.35" width="1.2" height="0.7" fill="#fff" opacity="0.3"/>
<rect x="313.83" y="339.08" width="1.2" height="0.7" fill="#fff" opacity="0.3"/>
<rect x="318.45" y="324.44" width="1.2" height="0.7" fill="#fff" opacity="0.3"/>
<rect x="319.40" y="339.38" width="1.2" height="0.7" fill="#fff" opacity="0.3"/>
<rect x="320.67" y="334.39" width="1.2" height="0.7" fill="#fff" opacity="0.3"/>
<rect x="319.70" y="325.79" width="1.2" height="0.7" fill="#fff" opacity="0.3"/>
<rect x="316.93" y="330.11" width="1.2" height="0.7" fill="#fff" opacity="0.3"/>
<rect x="318.97" y="328.32" width="1.2" height="0.7" fill="#fff" opacity="0.3"/>
<rect x="316.42" y="339.06" width="1.2" height="0.7" fill="#fff" opacity="0.3"/>
<rect x="312.63" y="336.22" width="1.2" height="0.7" fill="#fff" opacity="0.3"/>
<rect x="319.98" y="333.24" width="1.2" height="0.7" fill="#fff" opacity="0.3"/>
<rect x="313.24" y="336.02" width="1.2" height="0.7" fill="#fff" opacity="0.3"/>
<rect x="315.77" y="336.86" width="1.2" height="0.7" fill="#fff" opacity="0.3"/>
<rect x="319.12" y="329.88" width="1.2" height="0.7" fill="#fff" opacity="0.3"/>
<rect x="316.12" y="332.91" width="1.2" height="0.7" fill="#fff" opacity="0.3"/>
<rect x="320.04" y="325.35" width="1.2" height="0.7" fill="#fff" opacity="0.3"/>
<rect x="319.11" y="336.01" width="1.2" height="0.7" fill="#fff" opacity="0.3"/>
<rect x="315.18" y="328.02" width="1.2" height="0.7" fill="#fff" opacity="0.3"/>
<rect x="313.47" y="323.30" width="1.2" height="0.7" fill="#fff" opacity="0.3"/>
<rect x="317.82" y="328.47" width="1.2" height="0.7" fill="#fff" opacity="0.3"/>
<rect x="314.38" y="334.35" width="1.2" height="0.7" fill="#fff" opacity="0.3"/>
<rect x="315.44" y="328.26" width="1.2" height="0.7" fill="#fff" opacity="0.3"/>
<rect x="316.61" y="338.62" width="1.2" height="0.7" fill="#fff" opacity="0.3"/>
<rect x="313.52" y="330.71" width="1.2" height="0.7" fill="#fff" opacity="0.3"/>
<rect x="311.38" y="327.74" width="1.2" height="0.7" fill="#fff" opacity="0.3"/>
<rect x="315.44" y="331.77" width="1.2" height="0.7" fill="#fff" opacity="0.3"/>
<rect x="313.19" y="336.12" width="1.2" height="0.7" fill="#fff" opacity="0.3"/>
<rect x="315.60" y="323.59" width="1.2" height="0.7" fill="#fff" opacity="0.3"/>
<rect x="312.95" y="320.70" width="6.94" height="1.55" rx="0.5" fill="#68b2f4"/>
<rect x="314.08" y="319.45" width="4.67" height="1.55" rx="0.5" fill="#68b2f4"/>
<rect x="315.57" y="318.20" width="1.70" height="1.55" rx="0.5" fill="#68b2f4"/>
<rect x="315.48" y="316.95" width="1.89" height="1.55" rx="0.5" fill="#68b2f4"/>
<circle cx="315.83" cy="317.85" r="0.5" fill="#68b2f4" opacity="0.8"/>
<circle cx="317.00" cy="320.36" r="0.5" fill="#68b2f4" opacity="0.8"/>
<circle cx="316.91" cy="317.83" r="0.5" fill="#68b2f4" opacity="0.8"/>
<line x1="316.42" y1="343.30" x2="316.42" y2="344.20" stroke="#888" stroke-width="0.3"/>
<text x="316.42" y="347.70" font-family="Liberation Sans" font-size="2.8" font-weight="normal" fill="#555" text-anchor="middle" >9</text>
<rect x="324.16" y="328.40" width="11.80" height="12.10" rx="0.6" fill="#b29ef4"/>
<rect x="329.85" y="333.97" width="1.2" height="0.7" fill="#fff" opacity="0.3"/>
<rect x="335.11" y="337.80" width="1.2" height="0.7" fill="#fff" opacity="0.3"/>
<rect x="325.85" y="334.93" width="1.2" height="0.7" fill="#fff" opacity="0.3"/>
<rect x="332.29" y="330.23" width="1.2" height="0.7" fill="#fff" opacity="0.3"/>
<rect x="332.97" y="337.36" width="1.2" height="0.7" fill="#fff" opacity="0.3"/>
<rect x="333.50" y="333.41" width="1.2" height="0.7" fill="#fff" opacity="0.3"/>
<rect x="330.13" y="339.09" width="1.2" height="0.7" fill="#fff" opacity="0.3"/>
<rect x="333.04" y="337.32" width="1.2" height="0.7" fill="#fff" opacity="0.3"/>
<rect x="330.19" y="333.24" width="1.2" height="0.7" fill="#fff" opacity="0.3"/>
<rect x="334.04" y="329.82" width="1.2" height="0.7" fill="#fff" opacity="0.3"/>
<rect x="334.16" y="335.39" width="1.2" height="0.7" fill="#fff" opacity="0.3"/>
<rect x="334.38" y="337.30" width="1.2" height="0.7" fill="#fff" opacity="0.3"/>
<rect x="331.39" y="329.86" width="1.2" height="0.7" fill="#fff" opacity="0.3"/>
<rect x="328.85" y="333.50" width="1.2" height="0.7" fill="#fff" opacity="0.3"/>
<rect x="329.22" y="338.61" width="1.2" height="0.7" fill="#fff" opacity="0.3"/>
<rect x="335.00" y="333.67" width="1.2" height="0.7" fill="#fff" opacity="0.3"/>
<rect x="326.42" y="329.67" width="1.2" height="0.7" fill="#fff" opacity="0.3"/>
<rect x="328.86" y="336.30" width="1.2" height="0.7" fill="#fff" opacity="0.3"/>
<rect x="331.76" y="338.27" width="1.2" height="0.7" fill="#fff" opacity="0.3"/>
<rect x="333.75" y="338.97" width="1.2" height="0.7" fill="#fff" opacity="0.3"/>
<rect x="331.86" y="330.22" width="1.2" height="0.7" fill="#fff" opacity="0.3"/>
<rect x="330.83" y="337.29" width="1.2" height="0.7" fill="#fff" opacity="0.3"/>
<rect x="327.93" y="333.28" width="1.2" height="0.7" fill="#fff" opacity="0.3"/>
<rect x="330.55" y="333.62" width="1.2" height="0.7" fill="#fff" opacity="0.3"/>
<rect x="332.00" y="338.65" width="1.2" height="0.7" fill="#fff" opacity="0.3"/>
<rect x="335.14" y="335.90" width="1.2" height="0.7" fill="#fff" opacity="0.3"/>
<rect x="325.99" y="333.38" width="1.2" height="0.7" fill="#fff" opacity="0.3"/>
<rect x="333.49" y="337.73" width="1.2" height="0.7" fill="#fff" opacity="0.3"/>
<rect x="325.62" y="339.26" width="1.2" height="0.7" fill="#fff" opacity="0.3"/>
<rect x="325.26" y="331.57" width="1.2" height="0.7" fill="#fff" opacity="0.3"/>
<rect x="332.04" y="339.42" width="1.2" height="0.7" fill="#fff" opacity="0.3"/>
<rect x="332.53" y="337.51" width="1.2" height="0.7" fill="#fff" opacity="0.3"/>
<rect x="326.32" y="333.94" width="1.2" height="0.7" fill="#fff" opacity="0.3"/>
<rect x="331.36" y="332.91" width="1.2" height="0.7" fill="#fff" opacity="0.3"/>
<rect x="330.96" y="337.61" width="1.2" height="0.7" fill="#fff" opacity="0.3"/>
<rect x="327.90" y="333.06" width="1.2" height="0.7" fill="#fff" opacity="0.3"/>
<rect x="326.02" y="326.94" width="8.08" height="1.61" rx="0.5" fill="#b29ef4"/>
<rect x="328.00" y="325.63" width="4.12" height="1.61" rx="0.5" fill="#b29ef4"/>
<rect x="326.86" y="324.32" width="6.39" height="1.61" rx="0.5" fill="#b29ef4"/>
<rect x="326.51" y="323.01" width="7.11" height="1.61" rx="0.5" fill="#b29ef4"/>
<rect x="327.23" y="321.70" width="5.67" height="1.61" rx="0.5" fill="#b29ef4"/>
<rect x="329.03" y="320.39" width="2.06" height="1.61" rx="0.5" fill="#b29ef4"/>
<rect x="328.54" y="319.08" width="3.03" height="1.61" rx="0.5" fill="#b29ef4"/>
<rect x="328.89" y="317.77" width="2.34" height="1.61" rx="0.5" fill="#b29ef4"/>
<rect x="329.12" y="316.46" width="1.89" height="1.61" rx="0.5" fill="#b29ef4"/>
<rect x="329.12" y="315.15" width="1.89" height="1.61" rx="0.5" fill="#b29ef4"/>
<circle cx="329.53" cy="324.27" r="0.5" fill="#b29ef4" opacity="0.8"/>
<circle cx="334.57" cy="325.59" r="0.5" fill="#b29ef4" opacity="0.8"/>
<circle cx="333.78" cy="326.61" r="0.5" fill="#b29ef4" opacity="0.8"/>
<circle cx="333.49" cy="320.85" r="0.5" fill="#b29ef4" opacity="0.8"/>
<circle cx="327.18" cy="322.42" r="0.5" fill="#b29ef4" opacity="0.8"/>
<circle cx="334.92" cy="324.98" r="0.5" fill="#b29ef4" opacity="0.8"/>
<circle cx="331.23" cy="324.78" r="0.5" fill="#b29ef4" opacity="0.8"/>
<line x1="330.06" y1="343.30" x2="330.06" y2="344.20" stroke="#888" stroke-width="0.3"/>
<text x="330.06" y="347.70" font-family="Liberation Sans" font-size="2.8" font-weight="normal" fill="#555" text-anchor="middle" >10</text>
<rect x="337.80" y="321.80" width="11.80" height="18.70" rx="0.6" fill="#e888ec"/>
<rect x="341.92" y="324.43" width="1.2" height="0.7" fill="#fff" opacity="0.3"/>
<rect x="342.67" y="331.06" width="1.2" height="0.7" fill="#fff" opacity="0.3"/>
<rect x="348.50" y="330.34" width="1.2" height="0.7" fill="#fff" opacity="0.3"/>
<rect x="346.03" y="327.57" width="1.2" height="0.7" fill="#fff" opacity="0.3"/>
<rect x="341.28" y="335.76" width="1.2" height="0.7" fill="#fff" opacity="0.3"/>
<rect x="343.26" y="329.21" width="1.2" height="0.7" fill="#fff" opacity="0.3"/>
<rect x="344.35" y="335.48" width="1.2" height="0.7" fill="#fff" opacity="0.3"/>
<rect x="344.54" y="330.58" width="1.2" height="0.7" fill="#fff" opacity="0.3"/>
<rect x="338.99" y="335.94" width="1.2" height="0.7" fill="#fff" opacity="0.3"/>
<rect x="340.29" y="324.43" width="1.2" height="0.7" fill="#fff" opacity="0.3"/>
<rect x="347.38" y="332.31" width="1.2" height="0.7" fill="#fff" opacity="0.3"/>
<rect x="338.70" y="336.98" width="1.2" height="0.7" fill="#fff" opacity="0.3"/>
<rect x="344.97" y="331.78" width="1.2" height="0.7" fill="#fff" opacity="0.3"/>
<rect x="341.94" y="326.81" width="1.2" height="0.7" fill="#fff" opacity="0.3"/>
<rect x="341.31" y="330.15" width="1.2" height="0.7" fill="#fff" opacity="0.3"/>
<rect x="344.17" y="328.23" width="1.2" height="0.7" fill="#fff" opacity="0.3"/>
<rect x="347.30" y="330.70" width="1.2" height="0.7" fill="#fff" opacity="0.3"/>
<rect x="346.25" y="327.84" width="1.2" height="0.7" fill="#fff" opacity="0.3"/>
<rect x="347.65" y="335.98" width="1.2" height="0.7" fill="#fff" opacity="0.3"/>
<rect x="347.80" y="335.79" width="1.2" height="0.7" fill="#fff" opacity="0.3"/>
<rect x="342.42" y="322.97" width="1.2" height="0.7" fill="#fff" opacity="0.3"/>
<rect x="341.09" y="336.11" width="1.2" height="0.7" fill="#fff" opacity="0.3"/>
<rect x="339.38" y="327.49" width="1.2" height="0.7" fill="#fff" opacity="0.3"/>
<rect x="347.03" y="327.83" width="1.2" height="0.7" fill="#fff" opacity="0.3"/>
<rect x="340.99" y="328.14" width="1.2" height="0.7" fill="#fff" opacity="0.3"/>
<rect x="348.66" y="324.39" width="1.2" height="0.7" fill="#fff" opacity="0.3"/>
<rect x="342.23" y="336.90" width="1.2" height="0.7" fill="#fff" opacity="0.3"/>
<rect x="340.33" y="337.30" width="1.2" height="0.7" fill="#fff" opacity="0.3"/>
<rect x="341.72" y="334.56" width="1.2" height="0.7" fill="#fff" opacity="0.3"/>
<rect x="347.02" y="333.07" width="1.2" height="0.7" fill="#fff" opacity="0.3"/>
<rect x="340.92" y="336.91" width="1.2" height="0.7" fill="#fff" opacity="0.3"/>
<rect x="340.21" y="334.60" width="1.2" height="0.7" fill="#fff" opacity="0.3"/>
<rect x="345.92" y="333.82" width="1.2" height="0.7" fill="#fff" opacity="0.3"/>
<rect x="348.44" y="329.59" width="1.2" height="0.7" fill="#fff" opacity="0.3"/>
<rect x="348.24" y="325.67" width="1.2" height="0.7" fill="#fff" opacity="0.3"/>
<rect x="341.96" y="327.57" width="1.2" height="0.7" fill="#fff" opacity="0.3"/>
<rect x="345.65" y="328.20" width="1.2" height="0.7" fill="#fff" opacity="0.3"/>
<rect x="344.45" y="327.61" width="1.2" height="0.7" fill="#fff" opacity="0.3"/>
<rect x="343.18" y="326.93" width="1.2" height="0.7" fill="#fff" opacity="0.3"/>
<rect x="338.71" y="333.63" width="1.2" height="0.7" fill="#fff" opacity="0.3"/>
<rect x="340.41" y="323.79" width="1.2" height="0.7" fill="#fff" opacity="0.3"/>
<rect x="339.87" y="338.09" width="1.2" height="0.7" fill="#fff" opacity="0.3"/>
<rect x="344.03" y="338.38" width="1.2" height="0.7" fill="#fff" opacity="0.3"/>
<rect x="346.83" y="325.89" width="1.2" height="0.7" fill="#fff" opacity="0.3"/>
<rect x="346.95" y="331.44" width="1.2" height="0.7" fill="#fff" opacity="0.3"/>
<rect x="342.72" y="337.19" width="1.2" height="0.7" fill="#fff" opacity="0.3"/>
<rect x="347.11" y="336.68" width="1.2" height="0.7" fill="#fff" opacity="0.3"/>
<rect x="347.84" y="335.42" width="1.2" height="0.7" fill="#fff" opacity="0.3"/>
<rect x="345.51" y="337.63" width="1.2" height="0.7" fill="#fff" opacity="0.3"/>
<rect x="347.19" y="327.30" width="1.2" height="0.7" fill="#fff" opacity="0.3"/>
<rect x="346.95" y="328.81" width="1.2" height="0.7" fill="#fff" opacity="0.3"/>
<rect x="341.79" y="333.42" width="1.2" height="0.7" fill="#fff" opacity="0.3"/>
<rect x="346.73" y="323.36" width="1.2" height="0.7" fill="#fff" opacity="0.3"/>
<rect x="344.69" y="325.09" width="1.2" height="0.7" fill="#fff" opacity="0.3"/>
<rect x="344.01" y="322.97" width="1.2" height="0.7" fill="#fff" opacity="0.3"/>
<rect x="347.40" y="327.95" width="1.2" height="0.7" fill="#fff" opacity="0.3"/>
<rect x="341.37" y="320.37" width="4.66" height="1.58" rx="0.5" fill="#e888ec"/>
<rect x="338.57" y="319.09" width="10.26" height="1.58" rx="0.5" fill="#e888ec"/>
<rect x="342.58" y="317.80" width="2.23" height="1.58" rx="0.5" fill="#e888ec"/>
<rect x="340.87" y="316.52" width="5.66" height="1.58" rx="0.5" fill="#e888ec"/>
<rect x="342.50" y="315.24" width="2.41" height="1.58" rx="0.5" fill="#e888ec"/>
<rect x="340.68" y="313.96" width="6.04" height="1.58" rx="0.5" fill="#e888ec"/>
<rect x="341.58" y="312.68" width="4.25" height="1.58" rx="0.5" fill="#e888ec"/>
<rect x="341.83" y="311.40" width="3.74" height="1.58" rx="0.5" fill="#e888ec"/>
<rect x="342.76" y="310.11" width="1.89" height="1.58" rx="0.5" fill="#e888ec"/>
<rect x="342.76" y="308.83" width="1.89" height="1.58" rx="0.5" fill="#e888ec"/>
<rect x="342.76" y="307.55" width="1.89" height="1.58" rx="0.5" fill="#e888ec"/>
<circle cx="341.09" cy="320.01" r="0.5" fill="#e888ec" opacity="0.8"/>
<circle cx="339.11" cy="312.16" r="0.5" fill="#e888ec" opacity="0.8"/>
<circle cx="344.71" cy="320.45" r="0.5" fill="#e888ec" opacity="0.8"/>
<circle cx="344.96" cy="321.40" r="0.5" fill="#e888ec" opacity="0.8"/>
<circle cx="345.53" cy="321.59" r="0.5" fill="#e888ec" opacity="0.8"/>
<circle cx="345.93" cy="310.43" r="0.5" fill="#e888ec" opacity="0.8"/>
<circle cx="345.45" cy="320.64" r="0.5" fill="#e888ec" opacity="0.8"/>
<circle cx="347.63" cy="313.77" r="0.5" fill="#e888ec" opacity="0.8"/>
<circle cx="343.04" cy="303.00" r="0.7" fill="#e888ec" opacity="0.9"/>
<circle cx="343.40" cy="298.00" r="0.7" fill="#e888ec" opacity="0.9"/>
<circle cx="343.66" cy="291.00" r="0.7" fill="#e888ec" opacity="0.9"/>
<line x1="343.70" y1="343.30" x2="343.70" y2="344.20" stroke="#888" stroke-width="0.3"/>
<text x="343.70" y="347.70" font-family="Liberation Sans" font-size="2.8" font-weight="normal" fill="#555" text-anchor="middle" >11</text>
<rect x="351.44" y="317.50" width="11.80" height="23.00" rx="0.6" fill="#f68ec6"/>
<rect x="354.57" y="324.09" width="1.2" height="0.7" fill="#fff" opacity="0.3"/>
<rect x="359.51" y="325.98" width="1.2" height="0.7" fill="#fff" opacity="0.3"/>
<rect x="353.55" y="333.34" width="1.2" height="0.7" fill="#fff" opacity="0.3"/>
<rect x="358.09" y="329.37" width="1.2" height="0.7" fill="#fff" opacity="0.3"/>
<rect x="361.17" y="334.34" width="1.2" height="0.7" fill="#fff" opacity="0.3"/>
<rect x="357.70" y="338.28" width="1.2" height="0.7" fill="#fff" opacity="0.3"/>
<rect x="354.17" y="319.19" width="1.2" height="0.7" fill="#fff" opacity="0.3"/>
<rect x="360.58" y="337.39" width="1.2" height="0.7" fill="#fff" opacity="0.3"/>
<rect x="362.08" y="337.43" width="1.2" height="0.7" fill="#fff" opacity="0.3"/>
<rect x="352.51" y="337.27" width="1.2" height="0.7" fill="#fff" opacity="0.3"/>
<rect x="361.77" y="325.21" width="1.2" height="0.7" fill="#fff" opacity="0.3"/>
<rect x="352.73" y="337.96" width="1.2" height="0.7" fill="#fff" opacity="0.3"/>
<rect x="360.85" y="328.16" width="1.2" height="0.7" fill="#fff" opacity="0.3"/>
<rect x="361.73" y="330.32" width="1.2" height="0.7" fill="#fff" opacity="0.3"/>
<rect x="354.39" y="337.71" width="1.2" height="0.7" fill="#fff" opacity="0.3"/>
<rect x="359.87" y="320.09" width="1.2" height="0.7" fill="#fff" opacity="0.3"/>
<rect x="357.04" y="326.55" width="1.2" height="0.7" fill="#fff" opacity="0.3"/>
<rect x="355.55" y="327.41" width="1.2" height="0.7" fill="#fff" opacity="0.3"/>
<rect x="355.43" y="325.88" width="1.2" height="0.7" fill="#fff" opacity="0.3"/>
<rect x="357.21" y="330.80" width="1.2" height="0.7" fill="#fff" opacity="0.3"/>
<rect x="355.78" y="320.84" width="1.2" height="0.7" fill="#fff" opacity="0.3"/>
<rect x="359.60" y="320.52" width="1.2" height="0.7" fill="#fff" opacity="0.3"/>
<rect x="361.20" y="320.41" width="1.2" height="0.7" fill="#fff" opacity="0.3"/>
<rect x="359.72" y="329.55" width="1.2" height="0.7" fill="#fff" opacity="0.3"/>
<rect x="360.28" y="331.28" width="1.2" height="0.7" fill="#fff" opacity="0.3"/>
<rect x="359.57" y="336.47" width="1.2" height="0.7" fill="#fff" opacity="0.3"/>
<rect x="356.12" y="330.56" width="1.2" height="0.7" fill="#fff" opacity="0.3"/>
<rect x="356.59" y="323.54" width="1.2" height="0.7" fill="#fff" opacity="0.3"/>
<rect x="354.46" y="336.77" width="1.2" height="0.7" fill="#fff" opacity="0.3"/>
<rect x="355.36" y="321.55" width="1.2" height="0.7" fill="#fff" opacity="0.3"/>
<rect x="354.89" y="338.30" width="1.2" height="0.7" fill="#fff" opacity="0.3"/>
<rect x="354.21" y="339.40" width="1.2" height="0.7" fill="#fff" opacity="0.3"/>
<rect x="362.36" y="321.38" width="1.2" height="0.7" fill="#fff" opacity="0.3"/>
<rect x="356.94" y="323.34" width="1.2" height="0.7" fill="#fff" opacity="0.3"/>
<rect x="352.24" y="321.62" width="1.2" height="0.7" fill="#fff" opacity="0.3"/>
<rect x="354.65" y="330.12" width="1.2" height="0.7" fill="#fff" opacity="0.3"/>
<rect x="353.08" y="318.61" width="1.2" height="0.7" fill="#fff" opacity="0.3"/>
<rect x="362.12" y="319.61" width="1.2" height="0.7" fill="#fff" opacity="0.3"/>
<rect x="359.08" y="337.13" width="1.2" height="0.7" fill="#fff" opacity="0.3"/>
<rect x="359.92" y="320.20" width="1.2" height="0.7" fill="#fff" opacity="0.3"/>
<rect x="353.12" y="335.08" width="1.2" height="0.7" fill="#fff" opacity="0.3"/>
<rect x="355.61" y="334.10" width="1.2" height="0.7" fill="#fff" opacity="0.3"/>
<rect x="360.57" y="337.30" width="1.2" height="0.7" fill="#fff" opacity="0.3"/>
<rect x="356.72" y="321.39" width="1.2" height="0.7" fill="#fff" opacity="0.3"/>
<rect x="359.55" y="338.35" width="1.2" height="0.7" fill="#fff" opacity="0.3"/>
<rect x="358.72" y="335.11" width="1.2" height="0.7" fill="#fff" opacity="0.3"/>
<rect x="355.32" y="327.89" width="1.2" height="0.7" fill="#fff" opacity="0.3"/>
<rect x="361.92" y="334.83" width="1.2" height="0.7" fill="#fff" opacity="0.3"/>
<rect x="357.37" y="328.81" width="1.2" height="0.7" fill="#fff" opacity="0.3"/>
<rect x="356.52" y="327.39" width="1.2" height="0.7" fill="#fff" opacity="0.3"/>
<rect x="353.32" y="324.84" width="1.2" height="0.7" fill="#fff" opacity="0.3"/>
<rect x="355.77" y="323.90" width="1.2" height="0.7" fill="#fff" opacity="0.3"/>
<rect x="354.80" y="327.03" width="1.2" height="0.7" fill="#fff" opacity="0.3"/>
<rect x="354.30" y="336.03" width="1.2" height="0.7" fill="#fff" opacity="0.3"/>
<rect x="358.92" y="331.50" width="1.2" height="0.7" fill="#fff" opacity="0.3"/>
<rect x="359.03" y="329.79" width="1.2" height="0.7" fill="#fff" opacity="0.3"/>
<rect x="353.10" y="333.40" width="1.2" height="0.7" fill="#fff" opacity="0.3"/>
<rect x="357.43" y="322.50" width="1.2" height="0.7" fill="#fff" opacity="0.3"/>
<rect x="352.36" y="318.87" width="1.2" height="0.7" fill="#fff" opacity="0.3"/>
<rect x="361.40" y="328.67" width="1.2" height="0.7" fill="#fff" opacity="0.3"/>
<rect x="358.39" y="322.79" width="1.2" height="0.7" fill="#fff" opacity="0.3"/>
<rect x="353.29" y="331.10" width="1.2" height="0.7" fill="#fff" opacity="0.3"/>
<rect x="361.50" y="334.39" width="1.2" height="0.7" fill="#fff" opacity="0.3"/>
<rect x="356.86" y="327.43" width="1.2" height="0.7" fill="#fff" opacity="0.3"/>
<rect x="353.61" y="327.52" width="1.2" height="0.7" fill="#fff" opacity="0.3"/>
<rect x="352.63" y="332.67" width="1.2" height="0.7" fill="#fff" opacity="0.3"/>
<rect x="354.72" y="335.31" width="1.2" height="0.7" fill="#fff" opacity="0.3"/>
<rect x="358.89" y="337.38" width="1.2" height="0.7" fill="#fff" opacity="0.3"/>
<rect x="358.10" y="332.77" width="1.2" height="0.7" fill="#fff" opacity="0.3"/>
<rect x="353.69" y="316.12" width="7.30" height="1.53" rx="0.5" fill="#f68ec6"/>
<rect x="355.26" y="314.89" width="4.15" height="1.53" rx="0.5" fill="#f68ec6"/>
<rect x="351.44" y="313.65" width="11.80" height="1.53" rx="0.5" fill="#f68ec6"/>
<rect x="354.10" y="312.42" width="6.48" height="1.53" rx="0.5" fill="#f68ec6"/>
<rect x="354.09" y="311.19" width="6.50" height="1.53" rx="0.5" fill="#f68ec6"/>
<rect x="353.42" y="309.96" width="7.83" height="1.53" rx="0.5" fill="#f68ec6"/>
<rect x="354.10" y="308.73" width="6.49" height="1.53" rx="0.5" fill="#f68ec6"/>
<rect x="352.35" y="307.49" width="9.97" height="1.53" rx="0.5" fill="#f68ec6"/>
<rect x="354.99" y="306.26" width="4.69" height="1.53" rx="0.5" fill="#f68ec6"/>
<rect x="354.90" y="305.03" width="4.88" height="1.53" rx="0.5" fill="#f68ec6"/>
<rect x="352.61" y="303.80" width="9.45" height="1.53" rx="0.5" fill="#f68ec6"/>
<rect x="353.26" y="302.56" width="8.16" height="1.53" rx="0.5" fill="#f68ec6"/>
<rect x="352.71" y="301.33" width="9.26" height="1.53" rx="0.5" fill="#f68ec6"/>
<rect x="354.47" y="300.10" width="5.75" height="1.53" rx="0.5" fill="#f68ec6"/>
<rect x="353.60" y="298.87" width="7.48" height="1.53" rx="0.5" fill="#f68ec6"/>
<rect x="353.37" y="297.64" width="7.93" height="1.53" rx="0.5" fill="#f68ec6"/>
<rect x="353.28" y="296.40" width="8.12" height="1.53" rx="0.5" fill="#f68ec6"/>
<rect x="353.73" y="295.17" width="7.22" height="1.53" rx="0.5" fill="#f68ec6"/>
<rect x="354.69" y="293.94" width="5.29" height="1.53" rx="0.5" fill="#f68ec6"/>
<rect x="354.74" y="292.71" width="5.20" height="1.53" rx="0.5" fill="#f68ec6"/>
<rect x="354.27" y="291.48" width="6.15" height="1.53" rx="0.5" fill="#f68ec6"/>
<rect x="354.94" y="290.24" width="4.80" height="1.53" rx="0.5" fill="#f68ec6"/>
<rect x="354.82" y="289.01" width="5.04" height="1.53" rx="0.5" fill="#f68ec6"/>
<rect x="354.93" y="287.78" width="4.83" height="1.53" rx="0.5" fill="#f68ec6"/>
<rect x="356.93" y="286.55" width="0.82" height="1.53" rx="0.5" fill="#f68ec6"/>
<rect x="355.28" y="285.31" width="4.11" height="1.53" rx="0.5" fill="#f68ec6"/>
<rect x="355.92" y="284.08" width="2.84" height="1.53" rx="0.5" fill="#f68ec6"/>
<rect x="356.40" y="282.85" width="1.89" height="1.53" rx="0.5" fill="#f68ec6"/>
<circle cx="360.61" cy="286.82" r="0.5" fill="#f68ec6" opacity="0.8"/>
<circle cx="354.79" cy="309.92" r="0.5" fill="#f68ec6" opacity="0.8"/>
<circle cx="358.85" cy="299.07" r="0.5" fill="#f68ec6" opacity="0.8"/>
<circle cx="360.68" cy="292.26" r="0.5" fill="#f68ec6" opacity="0.8"/>
<circle cx="354.29" cy="287.17" r="0.5" fill="#f68ec6" opacity="0.8"/>
<circle cx="359.86" cy="291.45" r="0.5" fill="#f68ec6" opacity="0.8"/>
<circle cx="358.51" cy="305.46" r="0.5" fill="#f68ec6" opacity="0.8"/>
<circle cx="357.42" cy="309.96" r="0.5" fill="#f68ec6" opacity="0.8"/>
<circle cx="356.64" cy="293.24" r="0.5" fill="#f68ec6" opacity="0.8"/>
<circle cx="354.90" cy="295.81" r="0.5" fill="#f68ec6" opacity="0.8"/>
<circle cx="354.59" cy="288.02" r="0.5" fill="#f68ec6" opacity="0.8"/>
<circle cx="357.76" cy="287.18" r="0.5" fill="#f68ec6" opacity="0.8"/>
<circle cx="360.76" cy="287.45" r="0.5" fill="#f68ec6" opacity="0.8"/>
<circle cx="354.05" cy="314.34" r="0.5" fill="#f68ec6" opacity="0.8"/>
<circle cx="353.37" cy="288.53" r="0.5" fill="#f68ec6" opacity="0.8"/>
<circle cx="353.92" cy="306.27" r="0.5" fill="#f68ec6" opacity="0.8"/>
<circle cx="358.67" cy="314.77" r="0.5" fill="#f68ec6" opacity="0.8"/>
<circle cx="353.97" cy="312.03" r="0.5" fill="#f68ec6" opacity="0.8"/>
<circle cx="357.62" cy="303.94" r="0.5" fill="#f68ec6" opacity="0.8"/>
<circle cx="358.37" cy="293.30" r="0.5" fill="#f68ec6" opacity="0.8"/>
<circle cx="357.10" cy="281.50" r="0.7" fill="#f68ec6" opacity="0.9"/>
<circle cx="357.67" cy="279.80" r="0.7" fill="#f68ec6" opacity="0.9"/>
<line x1="357.34" y1="343.30" x2="357.34" y2="344.20" stroke="#888" stroke-width="0.3"/>
<text x="357.34" y="347.70" font-family="Liberation Sans" font-size="2.8" font-weight="normal" fill="#555" text-anchor="middle" >12</text>
<text x="281.60" y="351.90" font-family="Liberation Sans" font-size="3.4" font-weight="normal" fill="#555" text-anchor="middle" >Date (T)</text>
<text x="224.70" y="288.80" font-family="Liberation Sans" font-size="6.6" font-weight="normal" fill="#262626" text-anchor="start" textLength="100.90" lengthAdjust="spacingAndGlyphs" stroke="#262626" stroke-width="0.14">High polluted city, Shanghai, 2020</text>
<rect x="380.40" y="200.70" width="159.70" height="63.30" fill="none" stroke="#9a9a9a" stroke-width="0.5"/>
<line x1="379.40" y1="263.20" x2="380.40" y2="263.20" stroke="#666" stroke-width="0.3"/>
<text x="378.90" y="264.10" font-family="Liberation Sans" font-size="2.6" font-weight="normal" fill="#444" text-anchor="end" >0</text>
<line x1="379.40" y1="253.18" x2="380.40" y2="253.18" stroke="#666" stroke-width="0.3"/>
<text x="378.90" y="254.08" font-family="Liberation Sans" font-size="2.6" font-weight="normal" fill="#444" text-anchor="end" >20</text>
<line x1="379.40" y1="243.17" x2="380.40" y2="243.17" stroke="#666" stroke-width="0.3"/>
<text x="378.90" y="244.07" font-family="Liberation Sans" font-size="2.6" font-weight="normal" fill="#444" text-anchor="end" >40</text>
<line x1="379.40" y1="233.15" x2="380.40" y2="233.15" stroke="#666" stroke-width="0.3"/>
<text x="378.90" y="234.05" font-family="Liberation Sans" font-size="2.6" font-weight="normal" fill="#444" text-anchor="end" >60</text>
<line x1="379.40" y1="223.14" x2="380.40" y2="223.14" stroke="#666" stroke-width="0.3"/>
<text x="378.90" y="224.04" font-family="Liberation Sans" font-size="2.6" font-weight="normal" fill="#444" text-anchor="end" >80</text>
<line x1="379.40" y1="213.12" x2="380.40" y2="213.12" stroke="#666" stroke-width="0.3"/>
<text x="378.90" y="214.02" font-family="Liberation Sans" font-size="2.6" font-weight="normal" fill="#444" text-anchor="end" >100</text>
<line x1="379.40" y1="203.10" x2="380.40" y2="203.10" stroke="#666" stroke-width="0.3"/>
<text x="378.90" y="204.00" font-family="Liberation Sans" font-size="2.6" font-weight="normal" fill="#444" text-anchor="end" >120</text>
<text x="0" y="0" font-family="Liberation Sans" font-size="3.9" fill="#555" text-anchor="middle" transform="translate(370.60,232.35) rotate(-90)">Concentration, ug/m³</text>
<line x1="387.60" y1="264.00" x2="387.60" y2="265.00" stroke="#666" stroke-width="0.3"/>
<text x="387.60" y="269.80" font-family="Liberation Sans" font-size="3.0" font-weight="normal" fill="#555" text-anchor="middle" >2019-01</text>
<line x1="411.75" y1="264.00" x2="411.75" y2="265.00" stroke="#666" stroke-width="0.3"/>
<text x="411.75" y="269.80" font-family="Liberation Sans" font-size="3.0" font-weight="normal" fill="#555" text-anchor="middle" >2019-03</text>
<line x1="435.90" y1="264.00" x2="435.90" y2="265.00" stroke="#666" stroke-width="0.3"/>
<text x="435.90" y="269.80" font-family="Liberation Sans" font-size="3.0" font-weight="normal" fill="#555" text-anchor="middle" >2019-05</text>
<line x1="460.05" y1="264.00" x2="460.05" y2="265.00" stroke="#666" stroke-width="0.3"/>
<text x="460.05" y="269.80" font-family="Liberation Sans" font-size="3.0" font-weight="normal" fill="#555" text-anchor="middle" >2019-07</text>
<line x1="484.20" y1="264.00" x2="484.20" y2="265.00" stroke="#666" stroke-width="0.3"/>
<text x="484.20" y="269.80" font-family="Liberation Sans" font-size="3.0" font-weight="normal" fill="#555" text-anchor="middle" >2019-09</text>
<line x1="508.35" y1="264.00" x2="508.35" y2="265.00" stroke="#666" stroke-width="0.3"/>
<text x="508.35" y="269.80" font-family="Liberation Sans" font-size="3.0" font-weight="normal" fill="#555" text-anchor="middle" >2019-11</text>
<line x1="532.50" y1="264.00" x2="532.50" y2="265.00" stroke="#666" stroke-width="0.3"/>
<text x="532.50" y="269.80" font-family="Liberation Sans" font-size="3.0" font-weight="normal" fill="#555" text-anchor="middle" >2020-01</text>
<text x="460.25" y="273.60" font-family="Liberation Sans" font-size="3.0" font-weight="normal" fill="#555" text-anchor="middle" >Date</text>
<path d="M387.60,226.14 L388.00,245.19 L388.39,242.42 L388.79,236.36 L389.19,234.04 L389.58,232.89 L389.98,251.74 L390.38,250.40 L390.78,249.36 L391.17,247.67 L391.57,249.22 L391.97,236.61 L392.36,221.83 L392.76,204.11 L393.16,237.55 L393.55,234.57 L393.95,228.85 L394.35,214.12 L394.75,237.89 L395.14,232.11 L395.54,227.79 L395.94,212.62 L396.33,243.98 L396.73,238.45 L397.13,255.48 L397.52,245.44 L397.92,241.08 L398.32,231.17 L398.72,243.59 L399.11,232.70 L399.51,219.63 L399.91,244.11 L400.30,247.56 L400.70,245.17 L401.10,254.18 L401.49,249.76 L401.89,248.23 L402.29,244.72 L402.69,241.67 L403.08,240.52 L403.48,234.11 L403.88,254.26 L404.27,251.80 L404.67,249.78 L405.07,249.44 L405.46,247.39 L405.86,245.93 L406.26,252.92 L406.66,245.49 L407.05,237.91 L407.45,252.04 L407.85,249.82 L408.24,237.28 L408.64,222.89 L409.04,205.61 L409.43,241.95 L409.83,250.43 L410.23,249.50 L410.63,248.37 L411.02,242.69 L411.42,231.30 L411.82,217.63 L412.21,238.36 L412.61,250.01 L413.01,247.32 L413.40,246.06 L413.80,248.84 L414.20,244.95 L414.60,234.80 L414.99,222.64 L415.39,249.00 L415.79,248.07 L416.18,245.10 L416.58,240.66 L416.98,233.81 L417.37,257.79 L417.77,251.58 L418.17,250.27 L418.56,248.64 L418.96,246.22 L419.36,250.25 L419.76,247.36 L420.15,239.96 L420.55,232.89 L420.95,255.40 L421.34,247.42 L421.74,238.66 L422.14,228.14 L422.53,241.90 L422.93,236.38 L423.33,232.34 L423.73,247.23 L424.12,240.82 L424.52,236.48 L424.92,250.20 L425.31,247.34 L425.71,245.17 L426.11,243.99 L426.50,241.65 L426.90,235.23 L427.30,252.39 L427.70,251.53 L428.09,249.78 L428.49,247.98 L428.89,247.52 L429.28,253.62 L429.68,248.32 L430.08,244.79 L430.47,237.70 L430.87,235.12 L431.27,229.60 L431.67,242.02 L432.06,230.25 L432.46,216.12 L432.86,246.72 L433.25,250.18 L433.65,247.72 L434.05,252.64 L434.44,247.55 L434.84,242.16 L435.24,250.61 L435.64,249.11 L436.03,246.21 L436.43,244.35 L436.83,242.87 L437.22,251.23 L437.62,249.50 L438.02,248.75 L438.41,245.39 L438.81,247.71 L439.21,240.19 L439.61,250.21 L440.00,247.80 L440.40,246.26 L440.80,252.43 L441.19,251.69 L441.59,250.62 L441.99,249.51 L442.38,242.17 L442.78,233.15 L443.18,249.92 L443.58,246.23 L443.97,241.58 L444.37,251.56 L444.77,251.96 L445.16,250.87 L445.56,250.15 L445.96,249.13 L446.35,247.79 L446.75,254.27 L447.15,247.81 L447.54,244.43 L447.94,239.45 L448.34,255.18 L448.74,250.68 L449.13,251.58 L449.53,250.48 L449.93,249.99 L450.32,249.43 L450.72,248.51 L451.12,250.22 L451.51,250.32 L451.91,248.05 L452.31,242.69 L452.71,231.30 L453.10,217.63 L453.50,247.25 L453.90,244.07 L454.29,251.72 L454.69,250.60 L455.09,248.54 L455.48,252.41 L455.88,247.64 L456.28,244.04 L456.68,257.02 L457.07,250.96 L457.47,249.60 L457.87,247.05 L458.26,242.85 L458.66,254.43 L459.06,251.20 L459.45,249.76 L459.85,249.89 L460.25,249.86 L460.65,252.33 L461.04,249.69 L461.44,250.26 L461.84,249.30 L462.23,249.19 L462.63,249.63 L463.03,243.57 L463.42,235.16 L463.82,242.20 L464.22,236.72 L464.62,251.89 L465.01,250.49 L465.41,249.09 L465.81,247.74 L466.20,256.14 L466.60,248.32 L467.00,245.00 L467.39,238.24 L467.79,250.89 L468.19,250.83 L468.59,248.82 L468.98,245.12 L469.38,249.86 L469.78,250.11 L470.17,249.78 L470.57,248.29 L470.97,246.41 L471.36,251.47 L471.76,252.50 L472.16,251.47 L472.56,250.55 L472.95,250.53 L473.35,248.98 L473.75,249.73 L474.14,250.06 L474.54,248.10 L474.94,246.42 L475.33,250.42 L475.73,250.24 L476.13,248.11 L476.52,245.45 L476.92,243.57 L477.32,235.16 L477.72,250.83 L478.11,249.13 L478.51,245.55 L478.91,244.50 L479.30,249.14 L479.70,242.12 L480.10,241.22 L480.49,252.53 L480.89,250.42 L481.29,249.47 L481.69,246.82 L482.08,255.77 L482.48,251.18 L482.88,248.94 L483.27,248.16 L483.67,244.14 L484.07,242.68 L484.46,239.38 L484.86,248.91 L485.26,245.16 L485.66,239.60 L486.05,249.41 L486.45,248.70 L486.85,245.76 L487.24,243.86 L487.64,243.03 L488.04,255.36 L488.43,252.05 L488.83,250.98 L489.23,249.54 L489.63,249.42 L490.02,247.91 L490.42,255.23 L490.82,245.75 L491.21,240.01 L491.61,238.16 L492.01,249.78 L492.40,249.41 L492.80,247.75 L493.20,245.81 L493.60,244.98 L493.99,251.14 L494.39,249.70 L494.79,246.18 L495.18,239.75 L495.58,254.30 L495.98,251.12 L496.37,249.35 L496.77,246.38 L497.17,244.81 L497.57,240.73 L497.96,237.80 L498.36,255.98 L498.76,251.06 L499.15,247.81 L499.55,247.09 L499.95,245.37 L500.34,240.68 L500.74,240.42 L501.14,249.75 L501.54,251.76 L501.93,250.10 L502.33,250.25 L502.73,248.93 L503.12,254.01 L503.52,251.79 L503.92,250.27 L504.31,249.38 L504.71,250.19 L505.11,247.56 L505.50,244.73 L505.90,242.29 L506.30,241.84 L506.70,251.86 L507.09,250.46 L507.49,249.08 L507.89,248.08 L508.28,241.11 L508.68,231.65 L509.08,248.36 L509.47,243.78 L509.87,250.26 L510.27,248.50 L510.67,245.59 L511.06,238.54 L511.46,252.17 L511.86,250.58 L512.25,250.11 L512.65,249.33 L513.05,249.09 L513.44,247.06 L513.84,250.99 L514.24,252.39 L514.64,251.27 L515.03,250.55 L515.43,249.80 L515.83,249.45 L516.22,247.69 L516.62,249.77 L517.02,248.96 L517.41,247.68 L517.81,246.30 L518.21,245.35 L518.61,256.01 L519.00,245.45 L519.40,236.41 L519.80,247.00 L520.19,242.59 L520.59,235.18 L520.99,240.44 L521.38,227.79 L521.78,212.62 L522.18,245.50 L522.58,249.40 L522.97,246.83 L523.37,239.54 L523.77,226.39 L524.16,210.62 L524.56,244.80 L524.96,242.97 L525.35,238.09 L525.75,249.86 L526.15,246.97 L526.55,243.95 L526.94,240.73 L527.34,236.04 L527.74,256.85 L528.13,249.06 L528.53,243.53 L528.93,238.81 L529.32,253.53 L529.72,248.24 L530.12,245.03 L530.52,247.42 L530.91,238.66 L531.31,228.14 L531.71,238.79 L532.10,250.95 L532.50,248.61" fill="none" stroke="#4a4aae" stroke-width="0.9" stroke-linejoin="round" opacity="0.8"/>
<rect x="516.50" y="203.30" width="21.10" height="4.00" fill="#fff" fill-opacity="0.8" stroke="#eeeeee" stroke-width="0.3"/>
<line x1="518.20" y1="205.30" x2="524.00" y2="205.30" stroke="#6a6ac8" stroke-width="0.7"/>
<text x="526.50" y="206.40" font-family="Liberation Sans" font-size="3.2" font-weight="normal" fill="#555" text-anchor="start" textLength="13.00" lengthAdjust="spacingAndGlyphs" >Raw Conc.</text>
<text x="410.00" y="211.80" font-family="Liberation Sans" font-size="6.6" font-weight="normal" fill="#262626" text-anchor="start" textLength="109.60" lengthAdjust="spacingAndGlyphs" stroke="#262626" stroke-width="0.14">Daily average PM2.5, Shanghai, 2019</text>
<rect x="380.50" y="280.00" width="159.00" height="64.50" fill="none" stroke="#9a9a9a" stroke-width="0.5"/>
<line x1="379.50" y1="337.40" x2="380.50" y2="337.40" stroke="#666" stroke-width="0.3"/>
<text x="379.00" y="338.30" font-family="Liberation Sans" font-size="2.6" font-weight="normal" fill="#444" text-anchor="end" >20</text>
<line x1="379.50" y1="328.75" x2="380.50" y2="328.75" stroke="#666" stroke-width="0.3"/>
<text x="379.00" y="329.65" font-family="Liberation Sans" font-size="2.6" font-weight="normal" fill="#444" text-anchor="end" >40</text>
<line x1="379.50" y1="320.10" x2="380.50" y2="320.10" stroke="#666" stroke-width="0.3"/>
<text x="379.00" y="321.00" font-family="Liberation Sans" font-size="2.6" font-weight="normal" fill="#444" text-anchor="end" >60</text>
<line x1="379.50" y1="311.45" x2="380.50" y2="311.45" stroke="#666" stroke-width="0.3"/>
<text x="379.00" y="312.35" font-family="Liberation Sans" font-size="2.6" font-weight="normal" fill="#444" text-anchor="end" >80</text>
<line x1="379.50" y1="302.80" x2="380.50" y2="302.80" stroke="#666" stroke-width="0.3"/>
<text x="379.00" y="303.70" font-family="Liberation Sans" font-size="2.6" font-weight="normal" fill="#444" text-anchor="end" >100</text>
<line x1="379.50" y1="294.15" x2="380.50" y2="294.15" stroke="#666" stroke-width="0.3"/>
<text x="379.00" y="295.05" font-family="Liberation Sans" font-size="2.6" font-weight="normal" fill="#444" text-anchor="end" >120</text>
<line x1="379.50" y1="285.50" x2="380.50" y2="285.50" stroke="#666" stroke-width="0.3"/>
<text x="379.00" y="286.40" font-family="Liberation Sans" font-size="2.6" font-weight="normal" fill="#444" text-anchor="end" >140</text>
<text x="0" y="0" font-family="Liberation Sans" font-size="3.9" fill="#555" text-anchor="middle" transform="translate(370.70,312.25) rotate(-90)">Concentration, ug/m³</text>
<line x1="387.40" y1="344.50" x2="387.40" y2="345.50" stroke="#666" stroke-width="0.3"/>
<text x="387.40" y="349.80" font-family="Liberation Sans" font-size="3.0" font-weight="normal" fill="#555" text-anchor="middle" >2020-01</text>
<line x1="411.58" y1="344.50" x2="411.58" y2="345.50" stroke="#666" stroke-width="0.3"/>
<text x="411.58" y="349.80" font-family="Liberation Sans" font-size="3.0" font-weight="normal" fill="#555" text-anchor="middle" >2020-03</text>
<line x1="435.77" y1="344.50" x2="435.77" y2="345.50" stroke="#666" stroke-width="0.3"/>
<text x="435.77" y="349.80" font-family="Liberation Sans" font-size="3.0" font-weight="normal" fill="#555" text-anchor="middle" >2020-05</text>
<line x1="459.95" y1="344.50" x2="459.95" y2="345.50" stroke="#666" stroke-width="0.3"/>
<text x="459.95" y="349.80" font-family="Liberation Sans" font-size="3.0" font-weight="normal" fill="#555" text-anchor="middle" >2020-07</text>
<line x1="484.13" y1="344.50" x2="484.13" y2="345.50" stroke="#666" stroke-width="0.3"/>
<text x="484.13" y="349.80" font-family="Liberation Sans" font-size="3.0" font-weight="normal" fill="#555" text-anchor="middle" >2020-09</text>
<line x1="508.32" y1="344.50" x2="508.32" y2="345.50" stroke="#666" stroke-width="0.3"/>
<text x="508.32" y="349.80" font-family="Liberation Sans" font-size="3.0" font-weight="normal" fill="#555" text-anchor="middle" >2020-11</text>
<line x1="532.50" y1="344.50" x2="532.50" y2="345.50" stroke="#666" stroke-width="0.3"/>
<text x="532.50" y="349.80" font-family="Liberation Sans" font-size="3.0" font-weight="normal" fill="#555" text-anchor="middle" >2021-01</text>
<text x="460.00" y="353.60" font-family="Liberation Sans" font-size="3.0" font-weight="normal" fill="#555" text-anchor="middle" >Date</text>
<path d="M387.40,334.57 L387.80,328.19 L388.20,320.53 L388.59,337.12 L388.99,336.28 L389.39,335.29 L389.79,334.61 L390.18,331.49 L390.58,338.85 L390.98,322.11 L391.38,308.81 L391.77,292.85 L392.17,327.43 L392.57,332.91 L392.97,328.17 L393.36,337.06 L393.76,323.28 L394.16,310.63 L394.56,295.45 L394.95,328.34 L395.35,333.55 L395.75,332.13 L396.15,339.03 L396.54,338.37 L396.94,337.32 L397.34,330.87 L397.74,322.44 L398.13,312.31 L398.53,334.24 L398.93,336.28 L399.33,333.62 L399.72,329.21 L400.12,325.21 L400.52,337.43 L400.92,335.23 L401.31,332.34 L401.71,330.86 L402.11,324.25 L402.51,314.91 L402.90,325.41 L403.30,338.93 L403.70,337.47 L404.10,336.23 L404.49,336.21 L404.89,335.53 L405.29,333.48 L405.69,337.80 L406.08,334.20 L406.48,338.69 L406.88,334.57 L407.28,328.19 L407.67,320.53 L408.07,337.12 L408.47,337.71 L408.87,336.47 L409.26,336.75 L409.66,334.64 L410.06,334.67 L410.46,337.26 L410.85,334.31 L411.25,330.74 L411.65,330.22 L412.05,341.28 L412.44,336.99 L412.84,333.76 L413.24,332.40 L413.64,328.24 L414.03,322.26 L414.43,337.72 L414.83,338.98 L415.23,337.14 L415.62,335.65 L416.02,335.44 L416.42,340.52 L416.82,338.64 L417.22,337.10 L417.61,332.12 L418.01,326.16 L418.41,334.11 L418.81,337.79 L419.20,337.03 L419.60,332.55 L420.00,329.39 L420.40,335.99 L420.79,332.12 L421.19,326.05 L421.59,339.13 L421.99,338.50 L422.38,337.85 L422.78,336.60 L423.18,334.57 L423.58,326.71 L423.97,333.33 L424.37,327.88 L424.77,336.87 L425.17,332.89 L425.56,329.19 L425.96,342.10 L426.36,338.52 L426.76,336.13 L427.15,334.20 L427.55,335.35 L427.95,329.40 L428.35,322.26 L428.74,330.60 L429.14,338.34 L429.54,336.70 L429.94,335.38 L430.33,332.90 L430.73,330.83 L431.13,338.58 L431.53,337.13 L431.92,335.10 L432.32,337.59 L432.72,336.52 L433.12,335.60 L433.51,333.84 L433.91,329.80 L434.31,330.92 L434.71,338.43 L435.10,336.01 L435.50,340.78 L435.90,338.85 L436.30,337.42 L436.69,335.49 L437.09,334.67 L437.49,334.01 L437.89,332.07 L438.28,327.58 L438.68,319.67 L439.08,336.82 L439.48,335.79 L439.87,332.44 L440.27,338.28 L440.67,338.64 L441.07,337.00 L441.46,334.95 L441.86,339.94 L442.26,335.38 L442.66,331.97 L443.05,325.70 L443.45,339.46 L443.85,338.71 L444.25,338.89 L444.64,338.43 L445.04,336.32 L445.44,330.91 L445.84,324.43 L446.24,338.12 L446.63,337.62 L447.03,334.63 L447.43,333.30 L447.83,338.67 L448.22,338.27 L448.62,336.83 L449.02,334.76 L449.42,332.08 L449.81,333.07 L450.21,331.23 L450.61,337.99 L451.01,336.31 L451.40,335.00 L451.80,332.38 L452.20,333.04 L452.60,337.95 L452.99,336.19 L453.39,332.93 L453.79,331.28 L454.19,331.63 L454.58,326.33 L454.98,339.30 L455.38,338.77 L455.78,337.71 L456.17,337.55 L456.57,336.49 L456.97,335.61 L457.37,338.42 L457.76,337.35 L458.16,335.05 L458.56,342.95 L458.96,337.76 L459.35,335.33 L459.75,338.61 L460.15,338.15 L460.55,337.25 L460.94,335.48 L461.34,338.23 L461.74,337.49 L462.14,339.36 L462.53,338.24 L462.93,336.44 L463.33,338.81 L463.73,337.67 L464.12,336.38 L464.52,333.43 L464.92,331.98 L465.32,330.15 L465.71,340.36 L466.11,338.31 L466.51,338.16 L466.91,337.72 L467.30,336.26 L467.70,336.28 L468.10,333.76 L468.50,335.39 L468.89,331.20 L469.29,338.51 L469.69,338.99 L470.09,338.15 L470.48,337.21 L470.88,336.69 L471.28,335.21 L471.68,335.19 L472.07,340.37 L472.47,337.76 L472.87,337.58 L473.27,336.87 L473.66,334.47 L474.06,333.70 L474.46,332.33 L474.86,340.66 L475.26,338.35 L475.65,337.72 L476.05,336.70 L476.45,335.81 L476.85,341.96 L477.24,339.21 L477.64,338.25 L478.04,337.70 L478.44,336.26 L478.83,335.43 L479.23,335.39 L479.63,337.57 L480.03,336.17 L480.42,333.77 L480.82,334.62 L481.22,331.17 L481.62,337.38 L482.01,335.08 L482.41,332.01 L482.81,328.14 L483.21,340.05 L483.60,339.38 L484.00,339.06 L484.40,338.62 L484.80,338.20 L485.19,336.72 L485.59,336.76 L485.99,339.30 L486.39,338.54 L486.78,337.50 L487.18,337.49 L487.58,336.57 L487.98,336.30 L488.37,341.32 L488.77,338.05 L489.17,338.52 L489.57,337.80 L489.96,337.57 L490.36,336.88 L490.76,335.78 L491.16,338.58 L491.55,337.13 L491.95,342.26 L492.35,337.43 L492.75,335.82 L493.14,332.84 L493.54,329.71 L493.94,342.57 L494.34,335.61 L494.73,331.10 L495.13,338.67 L495.53,337.19 L495.93,336.22 L496.32,334.87 L496.72,332.89 L497.12,339.64 L497.52,337.82 L497.91,333.96 L498.31,337.92 L498.71,338.45 L499.11,338.08 L499.50,337.37 L499.90,336.72 L500.30,335.41 L500.70,338.37 L501.09,335.72 L501.49,333.43 L501.89,332.13 L502.29,329.14 L502.68,337.83 L503.08,338.82 L503.48,337.74 L503.88,335.97 L504.28,339.90 L504.67,337.91 L505.07,336.40 L505.47,334.94 L505.87,334.17 L506.26,332.25 L506.66,329.83 L507.06,338.96 L507.46,338.37 L507.85,337.07 L508.25,336.75 L508.65,336.22 L509.05,340.81 L509.44,338.88 L509.84,332.04 L510.24,324.25 L510.64,314.91 L511.03,335.15 L511.43,337.56 L511.83,336.33 L512.23,334.26 L512.62,332.05 L513.02,336.49 L513.42,332.97 L513.82,330.95 L514.21,332.05 L514.61,326.03 L515.01,338.35 L515.41,336.40 L515.80,334.59 L516.20,332.45 L516.60,329.87 L517.00,330.14 L517.39,337.84 L517.79,337.20 L518.19,336.53 L518.59,334.68 L518.98,332.96 L519.38,332.93 L519.78,338.01 L520.18,336.92 L520.57,334.33 L520.97,334.78 L521.37,329.99 L521.77,326.44 L522.16,326.67 L522.56,318.37 L522.96,333.33 L523.36,342.21 L523.75,338.17 L524.15,317.25 L524.55,301.24 L524.95,282.04 L525.34,323.65 L525.74,339.31 L526.14,338.48 L526.54,336.87 L526.93,327.37 L527.33,316.99 L527.73,304.53 L528.13,331.52 L528.52,337.76 L528.92,335.41 L529.32,328.92 L529.72,319.41 L530.11,307.99 L530.51,332.73 L530.91,337.53 L531.31,336.34 L531.70,336.24 L532.10,339.45 L532.50,335.71" fill="none" stroke="#4a4aae" stroke-width="0.9" stroke-linejoin="round" opacity="0.8"/>
<rect x="381.80" y="283.10" width="23.10" height="4.20" fill="#fff" fill-opacity="0.8" stroke="#eeeeee" stroke-width="0.3"/>
<line x1="383.50" y1="285.20" x2="389.30" y2="285.20" stroke="#6a6ac8" stroke-width="0.7"/>
<text x="391.80" y="286.30" font-family="Liberation Sans" font-size="3.2" font-weight="normal" fill="#555" text-anchor="start" textLength="13.00" lengthAdjust="spacingAndGlyphs" >Raw Conc.</text>
<text x="406.00" y="289.30" font-family="Liberation Sans" font-size="6.6" font-weight="normal" fill="#262626" text-anchor="start" textLength="109.40" lengthAdjust="spacingAndGlyphs" stroke="#262626" stroke-width="0.14">Daily average PM2.5, Shanghai, 2020</text>
</g>
</svg></body></html>
